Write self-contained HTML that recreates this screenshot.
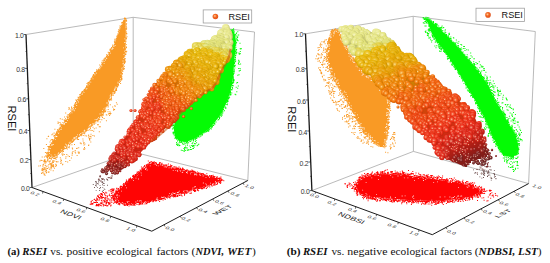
<!DOCTYPE html>
<html><head><meta charset="utf-8"><style>
html,body{margin:0;padding:0;background:#fff;width:550px;height:263px;overflow:hidden}
svg{position:absolute;left:0;top:0;display:block}
</style></head><body>
<svg width="550" height="263" viewBox="0 0 550 263"><defs><radialGradient id="b0" cx="0.42" cy="0.4" r="0.62"><stop offset="0" stop-color="#ebd6be"/><stop offset="0.28" stop-color="#968e8e"/><stop offset="0.6" stop-color="#786e6e"/><stop offset="1" stop-color="#605858"/></radialGradient><radialGradient id="b1" cx="0.42" cy="0.4" r="0.62"><stop offset="0" stop-color="#eacfb2"/><stop offset="0.28" stop-color="#937979"/><stop offset="0.6" stop-color="#745353"/><stop offset="1" stop-color="#5d4343"/></radialGradient><radialGradient id="b2" cx="0.42" cy="0.4" r="0.62"><stop offset="0" stop-color="#eac7a6"/><stop offset="0.28" stop-color="#906464"/><stop offset="0.6" stop-color="#713838"/><stop offset="1" stop-color="#5a2d2d"/></radialGradient><radialGradient id="b3" cx="0.42" cy="0.4" r="0.62"><stop offset="0" stop-color="#eac19c"/><stop offset="0.28" stop-color="#915353"/><stop offset="0.6" stop-color="#722322"/><stop offset="1" stop-color="#5b1c1c"/></radialGradient><radialGradient id="b4" cx="0.42" cy="0.4" r="0.62"><stop offset="0" stop-color="#edc19a"/><stop offset="0.28" stop-color="#a15351"/><stop offset="0.6" stop-color="#862220"/><stop offset="1" stop-color="#6c1b19"/></radialGradient><radialGradient id="b5" cx="0.42" cy="0.4" r="0.62"><stop offset="0" stop-color="#f0c199"/><stop offset="0.28" stop-color="#b1524f"/><stop offset="0.6" stop-color="#9b211d"/><stop offset="1" stop-color="#7c1a17"/></radialGradient><radialGradient id="b6" cx="0.42" cy="0.4" r="0.62"><stop offset="0" stop-color="#f3c198"/><stop offset="0.28" stop-color="#c1514c"/><stop offset="0.6" stop-color="#af201a"/><stop offset="1" stop-color="#8c1a15"/></radialGradient><radialGradient id="b7" cx="0.42" cy="0.4" r="0.62"><stop offset="0" stop-color="#f6c197"/><stop offset="0.28" stop-color="#ce534c"/><stop offset="0.6" stop-color="#c02219"/><stop offset="1" stop-color="#9a1b14"/></radialGradient><radialGradient id="b8" cx="0.42" cy="0.4" r="0.62"><stop offset="0" stop-color="#f8c297"/><stop offset="0.28" stop-color="#db554b"/><stop offset="0.6" stop-color="#d12418"/><stop offset="1" stop-color="#a71d13"/></radialGradient><radialGradient id="b9" cx="0.42" cy="0.4" r="0.62"><stop offset="0" stop-color="#fbc296"/><stop offset="0.28" stop-color="#e8564a"/><stop offset="0.6" stop-color="#e22717"/><stop offset="1" stop-color="#b51f12"/></radialGradient><radialGradient id="b10" cx="0.42" cy="0.4" r="0.62"><stop offset="0" stop-color="#fcc396"/><stop offset="0.28" stop-color="#f15849"/><stop offset="0.6" stop-color="#ec2a16"/><stop offset="1" stop-color="#bd2111"/></radialGradient><radialGradient id="b11" cx="0.42" cy="0.4" r="0.62"><stop offset="0" stop-color="#fcc496"/><stop offset="0.28" stop-color="#f25b49"/><stop offset="0.6" stop-color="#ee2d15"/><stop offset="1" stop-color="#be2411"/></radialGradient><radialGradient id="b12" cx="0.42" cy="0.4" r="0.62"><stop offset="0" stop-color="#fdc596"/><stop offset="0.28" stop-color="#f35e48"/><stop offset="0.6" stop-color="#ef3115"/><stop offset="1" stop-color="#bf2711"/></radialGradient><radialGradient id="b13" cx="0.42" cy="0.4" r="0.62"><stop offset="0" stop-color="#fdc696"/><stop offset="0.28" stop-color="#f36148"/><stop offset="0.6" stop-color="#f03515"/><stop offset="1" stop-color="#c02a10"/></radialGradient><radialGradient id="b14" cx="0.42" cy="0.4" r="0.62"><stop offset="0" stop-color="#fdc795"/><stop offset="0.28" stop-color="#f46448"/><stop offset="0.6" stop-color="#f23814"/><stop offset="1" stop-color="#c12d10"/></radialGradient><radialGradient id="b15" cx="0.42" cy="0.4" r="0.62"><stop offset="0" stop-color="#fdc995"/><stop offset="0.28" stop-color="#f56747"/><stop offset="0.6" stop-color="#f23d13"/><stop offset="1" stop-color="#c2310f"/></radialGradient><radialGradient id="b16" cx="0.42" cy="0.4" r="0.62"><stop offset="0" stop-color="#fdca94"/><stop offset="0.28" stop-color="#f56b46"/><stop offset="0.6" stop-color="#f24111"/><stop offset="1" stop-color="#c2340e"/></radialGradient><radialGradient id="b17" cx="0.42" cy="0.4" r="0.62"><stop offset="0" stop-color="#fdcb93"/><stop offset="0.28" stop-color="#f56f44"/><stop offset="0.6" stop-color="#f24610"/><stop offset="1" stop-color="#c2380d"/></radialGradient><radialGradient id="b18" cx="0.42" cy="0.4" r="0.62"><stop offset="0" stop-color="#fdcc93"/><stop offset="0.28" stop-color="#f57243"/><stop offset="0.6" stop-color="#f24a0e"/><stop offset="1" stop-color="#c23c0b"/></radialGradient><radialGradient id="b19" cx="0.42" cy="0.4" r="0.62"><stop offset="0" stop-color="#fdce92"/><stop offset="0.28" stop-color="#f57642"/><stop offset="0.6" stop-color="#f24f0c"/><stop offset="1" stop-color="#c23f0a"/></radialGradient><radialGradient id="b20" cx="0.42" cy="0.4" r="0.62"><stop offset="0" stop-color="#fdd091"/><stop offset="0.28" stop-color="#f57c41"/><stop offset="0.6" stop-color="#f2570b"/><stop offset="1" stop-color="#c24609"/></radialGradient><radialGradient id="b21" cx="0.42" cy="0.4" r="0.62"><stop offset="0" stop-color="#fdd291"/><stop offset="0.28" stop-color="#f68340"/><stop offset="0.6" stop-color="#f3600a"/><stop offset="1" stop-color="#c24d08"/></radialGradient><radialGradient id="b22" cx="0.42" cy="0.4" r="0.62"><stop offset="0" stop-color="#fdd590"/><stop offset="0.28" stop-color="#f68a3f"/><stop offset="0.6" stop-color="#f36909"/><stop offset="1" stop-color="#c35407"/></radialGradient><radialGradient id="b23" cx="0.42" cy="0.4" r="0.62"><stop offset="0" stop-color="#fdd790"/><stop offset="0.28" stop-color="#f6903e"/><stop offset="0.6" stop-color="#f47108"/><stop offset="1" stop-color="#c35b07"/></radialGradient><radialGradient id="b24" cx="0.42" cy="0.4" r="0.62"><stop offset="0" stop-color="#fdda90"/><stop offset="0.28" stop-color="#f6973e"/><stop offset="0.6" stop-color="#f37907"/><stop offset="1" stop-color="#c26106"/></radialGradient><radialGradient id="b25" cx="0.42" cy="0.4" r="0.62"><stop offset="0" stop-color="#fddc8f"/><stop offset="0.28" stop-color="#f59d3d"/><stop offset="0.6" stop-color="#f28106"/><stop offset="1" stop-color="#c16705"/></radialGradient><radialGradient id="b26" cx="0.42" cy="0.4" r="0.62"><stop offset="0" stop-color="#fdde8f"/><stop offset="0.28" stop-color="#f4a33c"/><stop offset="0.6" stop-color="#f08905"/><stop offset="1" stop-color="#c06e04"/></radialGradient><radialGradient id="b27" cx="0.42" cy="0.4" r="0.62"><stop offset="0" stop-color="#fde08e"/><stop offset="0.28" stop-color="#f2a93c"/><stop offset="0.6" stop-color="#ee9104"/><stop offset="1" stop-color="#bf7404"/></radialGradient><radialGradient id="b28" cx="0.42" cy="0.4" r="0.62"><stop offset="0" stop-color="#fce28e"/><stop offset="0.28" stop-color="#f0af3b"/><stop offset="0.6" stop-color="#ec9804"/><stop offset="1" stop-color="#bd7a03"/></radialGradient><radialGradient id="b29" cx="0.42" cy="0.4" r="0.62"><stop offset="0" stop-color="#fce48d"/><stop offset="0.28" stop-color="#eeb53a"/><stop offset="0.6" stop-color="#eaa003"/><stop offset="1" stop-color="#bb8002"/></radialGradient><radialGradient id="b30" cx="0.42" cy="0.4" r="0.62"><stop offset="0" stop-color="#fce68d"/><stop offset="0.28" stop-color="#edba3a"/><stop offset="0.6" stop-color="#e8a703"/><stop offset="1" stop-color="#ba8602"/></radialGradient><radialGradient id="b31" cx="0.42" cy="0.4" r="0.62"><stop offset="0" stop-color="#fce88e"/><stop offset="0.28" stop-color="#eebe3b"/><stop offset="0.6" stop-color="#e9ac04"/><stop offset="1" stop-color="#ba8a03"/></radialGradient><radialGradient id="b32" cx="0.42" cy="0.4" r="0.62"><stop offset="0" stop-color="#fce98f"/><stop offset="0.28" stop-color="#eec33d"/><stop offset="0.6" stop-color="#e9b206"/><stop offset="1" stop-color="#ba8e05"/></radialGradient><radialGradient id="b33" cx="0.42" cy="0.4" r="0.62"><stop offset="0" stop-color="#fceb90"/><stop offset="0.28" stop-color="#eec73e"/><stop offset="0.6" stop-color="#e9b708"/><stop offset="1" stop-color="#bb9206"/></radialGradient><radialGradient id="b34" cx="0.42" cy="0.4" r="0.62"><stop offset="0" stop-color="#fcec90"/><stop offset="0.28" stop-color="#eecb3f"/><stop offset="0.6" stop-color="#eabc09"/><stop offset="1" stop-color="#bb9607"/></radialGradient><radialGradient id="b35" cx="0.42" cy="0.4" r="0.62"><stop offset="0" stop-color="#fbf3ad"/><stop offset="0.28" stop-color="#ebdd71"/><stop offset="0.6" stop-color="#e5d449"/><stop offset="1" stop-color="#b7a93a"/></radialGradient><radialGradient id="b36" cx="0.42" cy="0.4" r="0.62"><stop offset="0" stop-color="#fbf7c2"/><stop offset="0.28" stop-color="#e9e995"/><stop offset="0.6" stop-color="#e3e378"/><stop offset="1" stop-color="#b6b660"/></radialGradient><radialGradient id="b37" cx="0.42" cy="0.4" r="0.62"><stop offset="0" stop-color="#fbf8c5"/><stop offset="0.28" stop-color="#ebeb9b"/><stop offset="0.6" stop-color="#e5e57f"/><stop offset="1" stop-color="#b8b866"/></radialGradient><radialGradient id="b38" cx="0.42" cy="0.4" r="0.62"><stop offset="0" stop-color="#fbf8c9"/><stop offset="0.28" stop-color="#ededa1"/><stop offset="0.6" stop-color="#e8e887"/><stop offset="1" stop-color="#b9b96c"/></radialGradient><radialGradient id="b39" cx="0.42" cy="0.4" r="0.62"><stop offset="0" stop-color="#fcf9cc"/><stop offset="0.28" stop-color="#eeeea7"/><stop offset="0.6" stop-color="#eaea8e"/><stop offset="1" stop-color="#bbbb72"/></radialGradient><radialGradient id="b40" cx="0.42" cy="0.4" r="0.62"><stop offset="0" stop-color="#fcfad0"/><stop offset="0.28" stop-color="#f0f0ad"/><stop offset="0.6" stop-color="#ecec96"/><stop offset="1" stop-color="#bdbd78"/></radialGradient><linearGradient id="band21" gradientUnits="userSpaceOnUse" x1="-55.4" y1="101.6" x2="40.6" y2="-74.4"><stop offset="0.000" stop-color="#675f5f"/><stop offset="0.080" stop-color="#5f1e1e"/><stop offset="0.154" stop-color="#961c16"/><stop offset="0.229" stop-color="#cb2213"/><stop offset="0.378" stop-color="#d03211"/><stop offset="0.522" stop-color="#d0450a"/><stop offset="0.602" stop-color="#d26307"/><stop offset="0.687" stop-color="#cd7e04"/><stop offset="0.776" stop-color="#c89504"/><stop offset="0.851" stop-color="#c9a208"/><stop offset="0.886" stop-color="#c3c364"/><stop offset="1.000" stop-color="#cbcb81"/></linearGradient><linearGradient id="band41" gradientUnits="userSpaceOnUse" x1="160.5" y1="344.0" x2="75.8" y2="162.4"><stop offset="0.000" stop-color="#675f5f"/><stop offset="0.111" stop-color="#5f1e1e"/><stop offset="0.211" stop-color="#961c16"/><stop offset="0.286" stop-color="#cb2213"/><stop offset="0.387" stop-color="#d03211"/><stop offset="0.497" stop-color="#d0450a"/><stop offset="0.568" stop-color="#d26307"/><stop offset="0.648" stop-color="#cd7e04"/><stop offset="0.729" stop-color="#c89504"/><stop offset="0.789" stop-color="#c9a208"/><stop offset="0.839" stop-color="#c3c364"/><stop offset="1.000" stop-color="#cbcb81"/></linearGradient><radialGradient id="ld" cx="0.4" cy="0.4" r="0.6"><stop offset="0" stop-color="#ffd0a0"/><stop offset="0.45" stop-color="#f46a22"/><stop offset="1" stop-color="#e0501a"/></radialGradient></defs><line x1="26" y1="34.5" x2="133.2" y2="17.3" stroke="#a8a8a8" stroke-width="0.8"/><line x1="133.2" y1="17.3" x2="133.2" y2="152" stroke="#a8a8a8" stroke-width="0.8"/><line x1="133.2" y1="17.3" x2="254.5" y2="32" stroke="#a8a8a8" stroke-width="0.8"/><line x1="254.5" y1="32" x2="247.8" y2="180.5" stroke="#a8a8a8" stroke-width="0.8"/><line x1="32" y1="187.5" x2="133.2" y2="152" stroke="#a8a8a8" stroke-width="0.8"/><line x1="133.2" y1="152" x2="247.8" y2="180.5" stroke="#a8a8a8" stroke-width="0.8"/><path d="M124.7 18.8 L121.8 25.3 L118.4 33.8 L115 42.4 L110.7 51 L106.4 57.8 L103.9 60.6 L97.8 69.8 L91.7 78.9 L85.6 88 L79.1 97.7 L72.7 110.5 L66 120 L58 131.3 L53.8 139.6 L49.6 148 L46.5 155 L49 157.5 L54 156 L58 154.3 L66.4 146 L76.8 137.6 L85 131.3 L92 125 L98 119.6 L103 113 L106 108 L111 97.7 L117.5 86 L120.6 80.4 L123.6 65.2 L125.2 50 L125.7 35 L125.7 20Z" fill="#f99a25" /><path d="M96 70.9h1v1h-1zM101.2 62.3h1v1h-1zM82.9 89.8h1v1h-1zM103.6 58.5h1v1h-1zM125 51.1h1v1h-1zM96.5 69.6h1v1h-1zM52.1 141.2h1v1h-1zM71.6 107.9h1v1h-1zM51.5 156.6h1v1h-1zM109.9 50.3h1v1h-1zM79.3 93.9h1v1h-1zM104.4 111.4h1v1h-1zM125.3 37.7h1v1h-1zM86.2 130h1v1h-1zM83.6 133.1h1v1h-1zM49.4 146.8h1v1h-1zM125.4 19.8h1v1h-1zM92.3 75.8h1v1h-1zM57.4 129.8h1v1h-1zM72 141.7h1v1h-1zM79.9 134.4h1v1h-1zM100.9 115h1v1h-1zM50.3 158h1v1h-1zM65 118.3h1v1h-1zM77.6 96.8h1v1h-1zM123.8 60.5h1v1h-1zM116 89.1h1v1h-1zM56.2 154.8h1v1h-1zM69.1 144.1h1v1h-1zM111.1 47.1h1v1h-1zM106.2 56.3h1v1h-1zM95.7 71.2h1v1h-1zM51.4 138.9h1v1h-1zM77.4 98.7h1v1h-1zM51.7 157.3h1v1h-1zM84.9 131.2h1v1h-1zM81 93.1h1v1h-1zM105.1 110.9h1v1h-1zM61.1 125.1h1v1h-1zM123.7 66h1v1h-1zM107.4 54.5h1v1h-1zM63.3 148.2h1v1h-1zM85.6 130.7h1v1h-1zM79 135.7h1v1h-1zM76.8 137.9h1v1h-1zM93.2 75.4h1v1h-1zM118.1 84.8h1v1h-1zM103.5 111.5h1v1h-1zM93.7 122.8h1v1h-1zM61.2 123.7h1v1h-1zM73.9 106.3h1v1h-1zM97.7 118.9h1v1h-1zM125.9 46.6h1v1h-1zM116.3 35.7h1v1h-1zM112.3 44.4h1v1h-1zM125.9 20h1v1h-1zM118.7 29.5h1v1h-1zM50.1 145.2h1v1h-1zM101.2 114.3h1v1h-1zM107.3 105.2h1v1h-1zM124.8 49.4h1v1h-1zM110.1 98.9h1v1h-1zM87.7 82h1v1h-1zM89.8 80.1h1v1h-1zM108.9 52.2h1v1h-1zM81.2 133.7h1v1h-1zM58.8 127.7h1v1h-1zM52.9 139.8h1v1h-1zM123.1 68.9h1v1h-1zM59 152.4h1v1h-1zM75 102h1v1h-1zM121.5 78.3h1v1h-1zM66.5 145.8h1v1h-1zM115.8 90.1h1v1h-1zM112.6 95.1h1v1h-1zM66.3 145.7h1v1h-1zM121.3 75.9h1v1h-1zM54.8 133.5h1v1h-1zM113.9 40.7h1v1h-1zM77.2 137.1h1v1h-1zM67.2 117h1v1h-1zM69.6 142.9h1v1h-1zM125.3 32.2h1v1h-1zM119.8 80.9h1v1h-1zM61.2 151.1h1v1h-1zM78.1 136.1h1v1h-1zM50.1 143.8h1v1h-1zM125.6 23.9h1v1h-1zM59 152.7h1v1h-1zM125.4 20.2h1v1h-1zM119.1 81.9h1v1h-1zM74 106.2h1v1h-1zM119.5 28.6h1v1h-1zM84.2 88.8h1v1h-1zM99.3 118.9h1v1h-1zM99.2 64.4h1v1h-1zM116.1 87.7h1v1h-1zM96.4 69.9h1v1h-1zM106.1 54.3h1v1h-1zM81.8 92.3h1v1h-1zM124.2 60.8h1v1h-1zM60.1 152.1h1v1h-1zM119.7 27.7h1v1h-1zM125.3 52.4h1v1h-1zM88.4 82.1h1v1h-1zM93.6 123.9h1v1h-1zM94.3 73.4h1v1h-1zM61 125.8h1v1h-1zM125.4 52.5h1v1h-1zM122.8 67.9h1v1h-1zM103.2 111.5h1v1h-1zM124.1 62.4h1v1h-1zM113.7 93h1v1h-1zM122.3 71.1h1v1h-1zM103.4 59.8h1v1h-1zM125.8 51.3h1v1h-1zM124 68.2h1v1h-1zM125.5 31h1v1h-1zM125.4 40.4h1v1h-1zM97.8 119.8h1v1h-1zM93.5 74.4h1v1h-1zM54.1 155.5h1v1h-1zM110.9 48.5h1v1h-1zM107.8 102.8h1v1h-1zM79.2 96.2h1v1h-1zM123.2 67.4h1v1h-1zM124.8 49.3h1v1h-1zM106.4 56.5h1v1h-1zM125.8 38.6h1v1h-1zM69 143.9h1v1h-1zM106.6 55.3h1v1h-1zM60.1 127.1h1v1h-1zM81 134.4h1v1h-1zM96.2 69.2h1v1h-1zM125.9 32.9h1v1h-1zM112.4 45.2h1v1h-1zM92.2 76.1h1v1h-1zM56.1 133.4h1v1h-1zM103.9 111.5h1v1h-1zM124.8 48.6h1v1h-1zM94 71.9h1v1h-1zM124.5 52.4h1v1h-1zM71.4 109.2h1v1h-1zM123.7 61.3h1v1h-1zM109.9 49.4h1v1h-1zM110.9 48.5h1v1h-1zM98.1 118.9h1v1h-1zM87 83.6h1v1h-1zM104.5 57.5h1v1h-1zM56.8 154.7h1v1h-1zM73.8 139.3h1v1h-1zM94.5 73.1h1v1h-1zM93.1 75.4h1v1h-1zM87.7 129.7h1v1h-1zM47.9 148.6h1v1h-1zM62.8 149.1h1v1h-1zM114.4 92.3h1v1h-1zM124.8 52.4h1v1h-1zM61.5 124.9h1v1h-1zM50 144.1h1v1h-1zM123.4 61.9h1v1h-1zM109.8 99.6h1v1h-1zM115.2 90h1v1h-1zM69.8 142.6h1v1h-1zM57.7 130.2h1v1h-1zM78 97.2h1v1h-1zM46.8 155.8h1v1h-1zM123.8 59.7h1v1h-1zM121.2 22.6h1v1h-1zM80.5 133.9h1v1h-1zM124.4 59.3h1v1h-1zM105.2 57.9h1v1h-1zM94.1 122.6h1v1h-1zM118 84h1v1h-1zM85.9 129.7h1v1h-1zM122.2 21.8h1v1h-1zM91.9 124.5h1v1h-1zM48.2 147.2h1v1h-1zM107.7 51.7h1v1h-1zM125.2 29.4h1v1h-1zM124.3 55.7h1v1h-1zM86 86.1h1v1h-1zM64.3 120.3h1v1h-1zM80.5 94.1h1v1h-1zM125.5 18.8h1v1h-1zM121.8 22.4h1v1h-1zM125.7 34.4h1v1h-1zM62.2 150.3h1v1h-1zM110.4 48.6h1v1h-1zM116.1 90.1h1v1h-1zM124 61.9h1v1h-1zM126.1 28.4h1v1h-1zM107 55.3h1v1h-1zM58.1 153.8h1v1h-1zM86.9 129.5h1v1h-1zM125.1 38.4h1v1h-1zM123.9 62.9h1v1h-1zM112.1 46h1v1h-1zM76 100.6h1v1h-1zM74.4 103.5h1v1h-1zM120.7 77h1v1h-1zM125.3 54h1v1h-1zM81.1 91.7h1v1h-1zM83.6 131.9h1v1h-1zM69.9 112.4h1v1h-1zM121.2 78.1h1v1h-1zM76.4 101.4h1v1h-1zM124.2 55.6h1v1h-1zM120.1 83.1h1v1h-1zM77 136.8h1v1h-1zM101.7 60.5h1v1h-1zM66.2 146h1v1h-1zM54.1 136.8h1v1h-1zM109.9 50.8h1v1h-1zM125.7 44h1v1h-1zM71.5 110.5h1v1h-1zM120.8 78.1h1v1h-1zM90.3 125.8h1v1h-1zM72.9 140.1h1v1h-1zM88.9 81.3h1v1h-1zM107.1 105.1h1v1h-1zM55.3 134.2h1v1h-1zM57.7 153.6h1v1h-1zM83.5 132.4h1v1h-1zM86.5 83h1v1h-1zM121 24.7h1v1h-1zM90.1 79.8h1v1h-1zM92.1 124.8h1v1h-1zM72 141.1h1v1h-1zM71.7 109.5h1v1h-1zM83.4 133.1h1v1h-1zM115 90.3h1v1h-1zM124.6 18.2h1v1h-1zM104.6 58.6h1v1h-1zM123.8 62.2h1v1h-1zM103.8 110.7h1v1h-1zM92.1 124.6h1v1h-1zM58.1 153.3h1v1h-1zM123.8 58.2h1v1h-1zM118.2 29.3h1v1h-1zM121 79.3h1v1h-1zM116.7 35.9h1v1h-1zM87.5 82.1h1v1h-1zM92.8 75h1v1h-1zM46.5 152.8h1v1h-1zM64.9 148.1h1v1h-1zM81.7 91.5h1v1h-1zM76.4 101.4h1v1h-1zM116.9 85.9h1v1h-1zM123.2 20.1h1v1h-1zM91.1 77.8h1v1h-1zM116.8 35.5h1v1h-1zM99.1 117.6h1v1h-1zM121.3 76.5h1v1h-1zM66.8 145.3h1v1h-1zM81.5 92.3h1v1h-1zM125.3 41.3h1v1h-1zM120.3 26.5h1v1h-1zM97 120.1h1v1h-1zM45 155.5h1v1h-1zM61.9 149.8h1v1h-1zM110.5 48.4h1v1h-1zM80.6 135.3h1v1h-1zM109.8 48.6h1v1h-1zM125.9 25.6h1v1h-1zM110.9 97.4h1v1h-1zM91.6 77.2h1v1h-1zM86 85.5h1v1h-1zM52.2 140.2h1v1h-1zM117.2 34.5h1v1h-1zM47.7 150.6h1v1h-1zM48.2 146.1h1v1h-1zM115.8 88.4h1v1h-1zM86 130h1v1h-1zM86.7 84.9h1v1h-1zM70.2 112.2h1v1h-1zM92.9 74h1v1h-1zM102.8 113.7h1v1h-1zM73.3 107.1h1v1h-1zM47.7 148.9h1v1h-1zM126.2 50.7h1v1h-1zM87.9 82.8h1v1h-1zM74.3 103.7h1v1h-1zM85 87.4h1v1h-1zM120.9 25.7h1v1h-1zM125.5 29.3h1v1h-1zM121.1 22.3h1v1h-1zM123.9 18h1v1h-1zM121.5 74.1h1v1h-1zM125.4 31.8h1v1h-1zM119.4 27.2h1v1h-1zM51.7 156.5h1v1h-1zM121.9 72.9h1v1h-1zM114.1 42h1v1h-1zM126.1 27.3h1v1h-1zM59.8 127.2h1v1h-1zM48.5 146.7h1v1h-1zM89.8 127.3h1v1h-1zM125.9 25.8h1v1h-1zM125 60.8h1v1h-1zM66.9 116.4h1v1h-1zM102.5 115.1h1v1h-1zM101.6 62.5h1v1h-1zM54.3 136.4h1v1h-1zM123 20.9h1v1h-1zM114.6 41.5h1v1h-1zM71.5 141.6h1v1h-1zM100.7 115.3h1v1h-1zM48.6 157.8h1v1h-1zM75.3 102.5h1v1h-1zM57.1 131.3h1v1h-1zM124 59.5h1v1h-1zM112.5 93.7h1v1h-1zM111.4 48h1v1h-1zM56.2 133.1h1v1h-1zM53.1 156h1v1h-1zM85.8 130.2h1v1h-1zM63.1 148.8h1v1h-1zM126.4 33.2h1v1h-1zM123.8 59.8h1v1h-1zM69 114.4h1v1h-1zM61.5 124.2h1v1h-1zM126.1 20.6h1v1h-1zM126.1 23.2h1v1h-1zM125.4 36.7h1v1h-1zM121.1 75.3h1v1h-1zM106.2 56.5h1v1h-1zM101.9 114.1h1v1h-1zM121.1 79.5h1v1h-1zM116 89.5h1v1h-1zM56.4 131.6h1v1h-1zM70.6 112h1v1h-1zM109.3 49.4h1v1h-1zM91.4 124.8h1v1h-1zM125.5 19.1h1v1h-1zM123.5 62.1h1v1h-1zM125 17.7h1v1h-1zM56.2 155.2h1v1h-1zM74.6 138.6h1v1h-1zM120.3 25.8h1v1h-1zM103.5 59.5h1v1h-1zM125.3 32.6h1v1h-1zM123.9 59.3h1v1h-1zM125.6 27.9h1v1h-1zM121.7 73.1h1v1h-1zM126 37.7h1v1h-1zM124.7 58h1v1h-1zM124.2 54.6h1v1h-1zM63.7 147.9h1v1h-1zM82.1 133.3h1v1h-1zM53.4 156.5h1v1h-1zM107.6 54.5h1v1h-1zM52.4 139.3h1v1h-1zM80.1 134.7h1v1h-1zM102.7 59.8h1v1h-1zM51.8 157.1h1v1h-1zM121.2 75.9h1v1h-1zM62.4 150.1h1v1h-1zM107.4 104.2h1v1h-1zM103 112.6h1v1h-1zM124.5 61.9h1v1h-1zM115.8 38.1h1v1h-1zM126.5 36.2h1v1h-1zM110.9 98.5h1v1h-1zM109.2 51.9h1v1h-1zM80.6 93.3h1v1h-1zM55.9 132.4h1v1h-1zM62.4 149.9h1v1h-1zM66.1 147h1v1h-1zM69.2 112.9h1v1h-1zM115.1 90.3h1v1h-1zM124.9 47.4h1v1h-1zM123.7 59.1h1v1h-1zM91.7 124.6h1v1h-1zM46 155.5h1v1h-1zM101.7 62.3h1v1h-1zM114.6 91.5h1v1h-1zM125.3 28h1v1h-1zM47 152.2h1v1h-1zM56.1 154.7h1v1h-1zM89.3 126.5h1v1h-1zM122.9 21h1v1h-1zM98.2 119.2h1v1h-1zM60.9 125.4h1v1h-1zM117.3 85.5h1v1h-1zM97.7 119h1v1h-1zM56.9 129.6h1v1h-1zM74.6 104.9h1v1h-1zM116 87.7h1v1h-1zM97.6 119.3h1v1h-1zM101.8 114.2h1v1h-1zM57.9 129.8h1v1h-1zM123.3 64.5h1v1h-1zM107.7 54.5h1v1h-1zM90.8 79h1v1h-1zM96.6 120.8h1v1h-1zM94.5 73.1h1v1h-1zM81.8 91.2h1v1h-1zM63.3 148.2h1v1h-1zM114.5 40.2h1v1h-1zM64.8 120.4h1v1h-1zM51.1 142.8h1v1h-1zM99.2 117h1v1h-1zM113.7 92.2h1v1h-1zM122 22.1h1v1h-1zM71.4 110.1h1v1h-1zM124.5 52.5h1v1h-1zM68.9 114.7h1v1h-1zM88.8 81.2h1v1h-1zM117.1 86.4h1v1h-1zM125.6 25.4h1v1h-1zM60.9 125.9h1v1h-1zM58.7 128.6h1v1h-1zM49.3 146.5h1v1h-1zM119.2 29.9h1v1h-1zM121.3 79h1v1h-1zM63.3 148.5h1v1h-1zM54 136.8h1v1h-1zM114.2 92.5h1v1h-1zM118.4 31.9h1v1h-1zM108.4 52.8h1v1h-1zM116.2 37.6h1v1h-1zM126 47.3h1v1h-1zM70.5 142.3h1v1h-1zM68.2 114.5h1v1h-1zM59.9 126.9h1v1h-1zM117.8 31.1h1v1h-1zM124.5 53.8h1v1h-1zM56.3 132.1h1v1h-1zM84 89h1v1h-1zM82 91.1h1v1h-1zM54.5 135.2h1v1h-1zM121.2 76.3h1v1h-1zM77.6 136.3h1v1h-1zM90.6 125.8h1v1h-1zM65.2 119.9h1v1h-1zM101.7 62.4h1v1h-1zM104.3 109.9h1v1h-1zM56.2 131.2h1v1h-1zM125.7 20.8h1v1h-1zM118.4 29.8h1v1h-1zM114 91h1v1h-1zM113.7 92.8h1v1h-1zM123.7 61h1v1h-1zM64.3 148.3h1v1h-1zM90.9 125.3h1v1h-1zM73.4 107h1v1h-1zM125.1 45.4h1v1h-1zM125.6 32.2h1v1h-1zM117.5 33.3h1v1h-1zM56.8 154.6h1v1h-1zM122.2 70.2h1v1h-1zM105.9 56h1v1h-1zM125.5 29h1v1h-1zM79.5 94.3h1v1h-1zM95.1 72.1h1v1h-1zM114.3 38.8h1v1h-1zM122.7 67.2h1v1h-1zM49.8 145.5h1v1h-1zM90.7 78.1h1v1h-1zM89.9 128h1v1h-1zM120.6 77.6h1v1h-1zM123.8 62.1h1v1h-1zM75.4 138.5h1v1h-1zM125 43.2h1v1h-1zM84.6 131.5h1v1h-1zM55.2 134.1h1v1h-1zM76.4 137.5h1v1h-1zM56.1 131.7h1v1h-1zM118.7 29.8h1v1h-1zM107.5 103.7h1v1h-1zM75.4 103.3h1v1h-1zM92.1 76.6h1v1h-1zM124.1 17.6h1v1h-1zM90.8 125.8h1v1h-1zM110.9 97.3h1v1h-1zM125.7 23.4h1v1h-1zM119.7 28.3h1v1h-1zM108.3 52.4h1v1h-1zM105.4 57.2h1v1h-1zM61.7 124.1h1v1h-1zM115.5 39.2h1v1h-1zM54.4 155.7h1v1h-1zM70.9 141.7h1v1h-1zM107.7 105.6h1v1h-1zM120.9 25.2h1v1h-1zM60.1 126.7h1v1h-1zM79.6 95.6h1v1h-1zM92.7 75.3h1v1h-1zM71.3 110.9h1v1h-1zM74 139.4h1v1h-1zM56 133.8h1v1h-1zM64.4 119.6h1v1h-1zM68.4 114h1v1h-1zM115 89.5h1v1h-1zM74.2 104.6h1v1h-1zM49.2 156.9h1v1h-1zM119.4 25.4h1v1h-1zM118.5 31.6h1v1h-1zM55.3 134.6h1v1h-1z" fill="#f99a25"/><path d="M112 93.7h0.8v0.8h-0.8zM81.9 93.5h0.8v0.8h-0.8zM57.8 153h0.8v0.8h-0.8zM97 118.6h0.8v0.8h-0.8zM108.2 100h0.8v0.8h-0.8zM109.8 95h0.8v0.8h-0.8zM55.5 136.4h0.8v0.8h-0.8zM64.3 146.4h0.8v0.8h-0.8zM102 109.9h0.8v0.8h-0.8zM58.2 152.4h0.8v0.8h-0.8zM68.7 142.4h0.8v0.8h-0.8zM65.1 143.8h0.8v0.8h-0.8zM124.4 38.4h0.8v0.8h-0.8zM96.2 72.7h0.8v0.8h-0.8zM100.3 66.7h0.8v0.8h-0.8zM103.5 108.4h0.8v0.8h-0.8zM53.1 144h0.8v0.8h-0.8zM88.9 83.8h0.8v0.8h-0.8zM86.5 88h0.8v0.8h-0.8zM49 156.4h0.8v0.8h-0.8zM51.6 144.6h0.8v0.8h-0.8zM73.8 110.4h0.8v0.8h-0.8zM83.6 92h0.8v0.8h-0.8zM73.1 138.5h0.8v0.8h-0.8zM49.2 150.9h0.8v0.8h-0.8zM124.1 50.7h0.8v0.8h-0.8zM89.3 125.3h0.8v0.8h-0.8zM104.8 107.5h0.8v0.8h-0.8zM76.3 105.1h0.8v0.8h-0.8zM103.7 63.2h0.8v0.8h-0.8zM58.8 130h0.8v0.8h-0.8zM63.8 123.8h0.8v0.8h-0.8zM75.7 136.5h0.8v0.8h-0.8zM113.5 45.6h0.8v0.8h-0.8zM73.5 109.5h0.8v0.8h-0.8zM106.3 58.1h0.8v0.8h-0.8zM108 55.2h0.8v0.8h-0.8zM101.7 112.6h0.8v0.8h-0.8zM76.3 103.2h0.8v0.8h-0.8zM73.7 109.7h0.8v0.8h-0.8zM60.9 148.9h0.8v0.8h-0.8zM83.7 130.8h0.8v0.8h-0.8zM89.8 125h0.8v0.8h-0.8zM84.1 129.8h0.8v0.8h-0.8zM105 59.6h0.8v0.8h-0.8zM120.5 73.7h0.8v0.8h-0.8zM122.9 62.7h0.8v0.8h-0.8zM111.7 49.2h0.8v0.8h-0.8zM79.4 98.5h0.8v0.8h-0.8zM117.6 81.8h0.8v0.8h-0.8zM106.6 103.2h0.8v0.8h-0.8zM96.1 119h0.8v0.8h-0.8zM114.8 45h0.8v0.8h-0.8zM74 138h0.8v0.8h-0.8zM69.9 141.7h0.8v0.8h-0.8zM124 42h0.8v0.8h-0.8zM69.6 141.8h0.8v0.8h-0.8zM110.1 94.4h0.8v0.8h-0.8zM123 47.5h0.8v0.8h-0.8zM114.4 89.4h0.8v0.8h-0.8zM75.6 136.8h0.8v0.8h-0.8zM48.3 151.2h0.8v0.8h-0.8zM123.5 54.3h0.8v0.8h-0.8zM67.1 119.9h0.8v0.8h-0.8zM52.2 144.5h0.8v0.8h-0.8zM99.6 113.6h0.8v0.8h-0.8zM112.6 92.4h0.8v0.8h-0.8zM101.4 65.6h0.8v0.8h-0.8zM112.7 92h0.8v0.8h-0.8zM67.7 118h0.8v0.8h-0.8zM60.9 127.4h0.8v0.8h-0.8zM51.5 155.7h0.8v0.8h-0.8zM94.6 74.4h0.8v0.8h-0.8zM68.5 116.9h0.8v0.8h-0.8zM71.9 139.6h0.8v0.8h-0.8zM58.2 133h0.8v0.8h-0.8zM50.6 154.5h0.8v0.8h-0.8zM81.8 132.2h0.8v0.8h-0.8zM60.7 129h0.8v0.8h-0.8zM109.9 97.2h0.8v0.8h-0.8zM123.3 57.9h0.8v0.8h-0.8zM110 52.8h0.8v0.8h-0.8zM101.3 65.2h0.8v0.8h-0.8zM110.3 96.5h0.8v0.8h-0.8zM51.2 144.9h0.8v0.8h-0.8zM108.1 101h0.8v0.8h-0.8zM85.8 88.8h0.8v0.8h-0.8zM81.7 93.9h0.8v0.8h-0.8zM92.6 78.5h0.8v0.8h-0.8zM121.8 67.4h0.8v0.8h-0.8zM49 151h0.8v0.8h-0.8zM63.7 124.1h0.8v0.8h-0.8zM49.2 152.9h0.8v0.8h-0.8zM94.7 119.3h0.8v0.8h-0.8zM89.8 124.5h0.8v0.8h-0.8zM54.9 139.2h0.8v0.8h-0.8zM56.5 136.1h0.8v0.8h-0.8zM92.5 122.9h0.8v0.8h-0.8zM108.2 99.7h0.8v0.8h-0.8zM64.4 146.2h0.8v0.8h-0.8zM121.3 68.5h0.8v0.8h-0.8zM77 134.5h0.8v0.8h-0.8zM74.7 137.4h0.8v0.8h-0.8zM113.5 46.2h0.8v0.8h-0.8zM99.4 68.5h0.8v0.8h-0.8zM55.7 135.7h0.8v0.8h-0.8zM49.1 156.1h0.8v0.8h-0.8zM120 77.9h0.8v0.8h-0.8zM49.1 156.4h0.8v0.8h-0.8zM75.1 108.3h0.8v0.8h-0.8zM60.5 129.3h0.8v0.8h-0.8zM90.4 81.8h0.8v0.8h-0.8zM73.7 137.1h0.8v0.8h-0.8zM103.8 61.2h0.8v0.8h-0.8zM50.2 147.9h0.8v0.8h-0.8zM77.6 100.7h0.8v0.8h-0.8zM114.1 88.7h0.8v0.8h-0.8zM59.2 130h0.8v0.8h-0.8zM63.5 123.7h0.8v0.8h-0.8zM58.4 132.4h0.8v0.8h-0.8zM122.5 63.4h0.8v0.8h-0.8zM98 117.2h0.8v0.8h-0.8zM77.9 101.8h0.8v0.8h-0.8zM80.2 133h0.8v0.8h-0.8zM99.3 67.6h0.8v0.8h-0.8zM48.6 151.5h0.8v0.8h-0.8zM83.9 130h0.8v0.8h-0.8zM65.3 121.9h0.8v0.8h-0.8zM55.9 136.1h0.8v0.8h-0.8zM90.4 124.3h0.8v0.8h-0.8zM114.8 88.2h0.8v0.8h-0.8zM79 134.3h0.8v0.8h-0.8zM117.6 82.7h0.8v0.8h-0.8zM112.2 48h0.8v0.8h-0.8zM109.8 96.5h0.8v0.8h-0.8zM51.4 144.5h0.8v0.8h-0.8zM115.7 86.7h0.8v0.8h-0.8zM122.6 60.6h0.8v0.8h-0.8zM66.2 144.6h0.8v0.8h-0.8zM76.3 135.9h0.8v0.8h-0.8zM77.9 101.3h0.8v0.8h-0.8zM112.7 48.3h0.8v0.8h-0.8zM68 118.1h0.8v0.8h-0.8zM114.8 86.7h0.8v0.8h-0.8zM121.4 70.7h0.8v0.8h-0.8zM48.9 149.9h0.8v0.8h-0.8zM113.8 90.3h0.8v0.8h-0.8zM80.4 133h0.8v0.8h-0.8zM66.1 144.5h0.8v0.8h-0.8zM119.2 80.8h0.8v0.8h-0.8zM64 123h0.8v0.8h-0.8zM71.6 112.4h0.8v0.8h-0.8zM47.4 153.8h0.8v0.8h-0.8zM87.5 85.5h0.8v0.8h-0.8zM106.6 102h0.8v0.8h-0.8zM88.6 126.4h0.8v0.8h-0.8zM109.5 98h0.8v0.8h-0.8zM54.6 154.3h0.8v0.8h-0.8zM64.7 122.3h0.8v0.8h-0.8zM66.2 122.2h0.8v0.8h-0.8z" fill="#fff"/><path d="M76.1 147.9h1v1h-1zM99.8 121.4h1v1h-1zM65.3 157.8h1v1h-1zM90.5 135.8h1v1h-1zM93.8 128.2h1v1h-1zM112.2 106.4h1v1h-1zM108.1 113.6h1v1h-1zM82.4 138.5h1v1h-1zM80.5 142.7h1v1h-1zM82.7 135.1h1v1h-1zM111.1 99.4h1v1h-1zM83.5 144.6h1v1h-1zM71.8 152.2h1v1h-1zM76.6 155.1h1v1h-1zM55.2 163.7h1v1h-1zM99.8 126.3h1v1h-1zM52.7 170.3h1v1h-1zM89.1 129.2h1v1h-1zM71.8 147.4h1v1h-1zM113.1 108.6h1v1h-1zM109.8 112.6h1v1h-1zM88.3 144.6h1v1h-1zM69.3 144.6h1v1h-1zM78.5 153h1v1h-1zM68.8 147.3h1v1h-1zM106.3 114.4h1v1h-1zM61.4 153.5h1v1h-1zM70.9 157.4h1v1h-1zM88.9 138h1v1h-1zM56.3 161.5h1v1h-1zM62.1 164.2h1v1h-1zM110.4 113.1h1v1h-1zM65.3 160.9h1v1h-1zM115.9 102.3h1v1h-1zM72.1 148.5h1v1h-1zM62.5 153.6h1v1h-1zM89.4 138.2h1v1h-1zM89 139.1h1v1h-1zM97.9 124.2h1v1h-1zM89.3 139.7h1v1h-1zM95.3 122.4h1v1h-1zM71.4 144.3h1v1h-1zM105.9 120.2h1v1h-1zM60.4 158.7h1v1h-1zM113.2 109.8h1v1h-1zM97.5 121.2h1v1h-1zM67.2 161.4h1v1h-1zM92.5 126.7h1v1h-1zM67.6 155.6h1v1h-1zM74.5 151.4h1v1h-1zM69 155.9h1v1h-1zM68.7 146h1v1h-1zM74 143.9h1v1h-1zM97 124.3h1v1h-1zM71.8 153h1v1h-1zM107.6 106.5h1v1h-1zM102.1 114.3h1v1h-1zM83.2 148.6h1v1h-1zM101.3 119.2h1v1h-1zM66 147.8h1v1h-1zM88.2 134.4h1v1h-1zM50.7 165.4h1v1h-1zM105.8 114.2h1v1h-1zM114.1 108.9h1v1h-1zM61.8 151.6h1v1h-1zM54.9 165.8h1v1h-1zM83.6 149h1v1h-1zM71.8 153.2h1v1h-1zM90.3 141.4h1v1h-1zM55.9 165.3h1v1h-1zM105.3 109.4h1v1h-1zM53.9 167.7h1v1h-1zM72.5 151.1h1v1h-1zM114.3 105.2h1v1h-1zM90.4 129.7h1v1h-1zM91.7 130h1v1h-1zM95.6 127.5h1v1h-1zM92.4 135.1h1v1h-1zM66.3 154.1h1v1h-1zM90.5 137.4h1v1h-1zM71.6 154.8h1v1h-1zM76.7 147.8h1v1h-1zM55.9 164.6h1v1h-1zM53 165.8h1v1h-1zM78.2 147.3h1v1h-1zM113.6 109.1h1v1h-1zM84.2 133.2h1v1h-1zM59.8 157.2h1v1h-1zM93.2 130.7h1v1h-1zM83.5 142h1v1h-1zM86.1 135.5h1v1h-1zM89.5 136.1h1v1h-1zM109.2 112.9h1v1h-1zM103.6 117.9h1v1h-1zM77.2 139h1v1h-1zM88.1 135.6h1v1h-1zM66.8 148.6h1v1h-1zM73 140.7h1v1h-1zM63.8 154h1v1h-1zM78.8 151.8h1v1h-1zM67.6 147.1h1v1h-1zM101.5 116.2h1v1h-1zM82.6 140.4h1v1h-1zM48.6 171.5h1v1h-1zM98.8 131.3h1v1h-1zM90.5 133.8h1v1h-1zM83.1 142.7h1v1h-1zM116.7 103.8h1v1h-1zM65.5 156.2h1v1h-1zM80.7 143.2h1v1h-1zM84 146.9h1v1h-1zM108.6 112.9h1v1h-1zM84.4 143.6h1v1h-1zM60.2 160.7h1v1h-1zM60.9 159.9h1v1h-1zM69.3 160.1h1v1h-1zM88.1 145.1h1v1h-1zM62.3 163.7h1v1h-1zM88.3 137.2h1v1h-1zM93.9 135.5h1v1h-1zM107.5 111.3h1v1h-1zM114.7 105.7h1v1h-1zM109.4 111.3h1v1h-1zM60.1 162.7h1v1h-1zM109.8 104.3h1v1h-1zM84.6 135.2h1v1h-1zM79.8 142.4h1v1h-1zM52.7 162.1h1v1h-1zM57.5 161.2h1v1h-1zM75.1 152.5h1v1h-1zM74.7 150.1h1v1h-1zM53 161.4h1v1h-1zM109.7 113.8h1v1h-1zM77.7 151.4h1v1h-1zM104.6 110.7h1v1h-1zM53.2 166.6h1v1h-1zM98.8 126.2h1v1h-1zM60.5 160.5h1v1h-1zM62.9 151h1v1h-1zM62.2 154.7h1v1h-1zM51.1 167.4h1v1h-1zM107.7 108.9h1v1h-1zM52.6 163.9h1v1h-1zM50.4 169.5h1v1h-1zM78.3 152.5h1v1h-1zM60.9 162.5h1v1h-1zM84.4 148.3h1v1h-1zM78.1 139h1v1h-1zM109.1 114.9h1v1h-1zM102.1 116.9h1v1h-1z" fill="#f99a25"/><path d="M58.6 122.1h1v1h-1zM40.5 159.8h1v1h-1zM64.2 121.5h1v1h-1zM41.4 169.4h1v1h-1zM43.8 159.7h1v1h-1zM59.6 125.3h1v1h-1zM45.9 143.9h1v1h-1zM43.3 148.1h1v1h-1zM61.7 118.7h1v1h-1zM52.3 133.5h1v1h-1zM49.2 146.1h1v1h-1zM41.1 173h1v1h-1zM75.3 99.6h1v1h-1zM64.1 116.4h1v1h-1zM59.8 118.2h1v1h-1zM54.1 135h1v1h-1zM68.8 115.4h1v1h-1zM51.5 142h1v1h-1zM69.1 114.9h1v1h-1zM70.3 109.5h1v1h-1zM59.7 127.5h1v1h-1zM44.9 152.1h1v1h-1zM58.2 130.7h1v1h-1zM58.2 130.2h1v1h-1zM68.8 114.2h1v1h-1zM47.4 146.1h1v1h-1zM53.6 132.6h1v1h-1zM46.1 152.8h1v1h-1zM57.9 131.6h1v1h-1zM66.4 116.2h1v1h-1zM57.4 128.9h1v1h-1zM50.2 144.6h1v1h-1zM57.6 123h1v1h-1zM78.1 98.6h1v1h-1zM71.1 106.6h1v1h-1zM77.3 101.1h1v1h-1zM68.5 108.9h1v1h-1zM39.9 165.3h1v1h-1zM57.5 121.5h1v1h-1zM64.4 121h1v1h-1zM60 122.6h1v1h-1zM73.7 105.1h1v1h-1zM64.5 120.6h1v1h-1zM41.5 159.9h1v1h-1zM59.1 129.4h1v1h-1zM47.8 136.1h1v1h-1zM46.4 138.3h1v1h-1zM76.9 99.2h1v1h-1zM51.3 143h1v1h-1zM46.3 152.2h1v1h-1zM51.4 134.2h1v1h-1zM67.7 117.6h1v1h-1zM51.7 139.1h1v1h-1zM63.6 119.6h1v1h-1zM39.4 160.6h1v1h-1zM66.9 114.4h1v1h-1zM68.7 108.1h1v1h-1zM53.2 135.5h1v1h-1zM62.5 122.1h1v1h-1zM59.8 124.1h1v1h-1zM49.7 144.6h1v1h-1zM48.1 135.7h1v1h-1zM48.5 146h1v1h-1zM41.7 156.4h1v1h-1zM64.6 121.3h1v1h-1zM74.7 105h1v1h-1zM76 100.2h1v1h-1zM68.5 107.1h1v1h-1zM50.3 139.8h1v1h-1zM54.4 128.8h1v1h-1zM61.3 124.2h1v1h-1zM38.3 165.4h1v1h-1zM43.9 156.6h1v1h-1zM49.5 141.5h1v1h-1zM65.2 112.5h1v1h-1zM67.1 116.8h1v1h-1zM75.6 99.4h1v1h-1zM48 135.7h1v1h-1zM71.2 107.4h1v1h-1zM75.1 104.4h1v1h-1z" fill="#f99a25"/><path d="M45.4 167.5h1v1h-1zM50.7 157.8h1v1h-1zM44.5 160.9h1v1h-1zM48.3 167.3h1v1h-1zM42.4 166.2h1v1h-1zM44.2 168.7h1v1h-1zM45.8 168.6h1v1h-1zM55.6 158.8h1v1h-1zM52 160.5h1v1h-1zM43.3 167.7h1v1h-1zM51.2 163.6h1v1h-1zM43.6 167.5h1v1h-1zM50.4 163.3h1v1h-1zM43.8 173.5h1v1h-1zM46.9 156.7h1v1h-1zM51.3 165.1h1v1h-1zM55.3 156.7h1v1h-1zM52.1 160.8h1v1h-1zM41.9 168.1h1v1h-1zM43 163.7h1v1h-1zM46.7 155.8h1v1h-1zM53.7 156.2h1v1h-1zM52.3 160.5h1v1h-1zM44.7 164.8h1v1h-1zM52.3 165.2h1v1h-1zM43.3 160.8h1v1h-1zM47.6 158.8h1v1h-1zM44.4 159h1v1h-1zM46.1 165.8h1v1h-1zM44.2 167.4h1v1h-1zM47.9 171.8h1v1h-1zM47.2 160.5h1v1h-1zM52.5 156.3h1v1h-1zM45.7 172.5h1v1h-1zM47.7 171.6h1v1h-1zM48.9 156.4h1v1h-1zM50.8 158.7h1v1h-1zM53.2 158h1v1h-1zM46 171.8h1v1h-1zM41.7 169.8h1v1h-1zM51.5 162.7h1v1h-1zM51.2 166.4h1v1h-1zM47.1 160.2h1v1h-1zM41.8 167.9h1v1h-1zM45.3 170.9h1v1h-1zM56.7 156.2h1v1h-1zM55.8 160.9h1v1h-1zM54.2 160.4h1v1h-1zM54.9 154.7h1v1h-1zM43.4 170.4h1v1h-1zM46.9 157.3h1v1h-1zM44.9 165.2h1v1h-1zM45.2 162.4h1v1h-1zM47.6 165.4h1v1h-1zM52.9 160.3h1v1h-1zM46 170.1h1v1h-1zM42.4 164.5h1v1h-1zM47 156.9h1v1h-1zM49.2 161.6h1v1h-1zM51.7 165.9h1v1h-1zM52.6 165.5h1v1h-1zM52 165.3h1v1h-1zM47.3 158.7h1v1h-1zM49.6 160.7h1v1h-1zM49 158h1v1h-1zM56.4 157h1v1h-1zM43.9 160h1v1h-1zM53.1 164.8h1v1h-1zM43.3 168.9h1v1h-1zM49.5 163h1v1h-1zM49.2 157.5h1v1h-1zM44.2 160.3h1v1h-1zM44.2 162.6h1v1h-1zM42.2 170.2h1v1h-1zM44.5 160.3h1v1h-1zM48.4 164.1h1v1h-1zM47.2 159.4h1v1h-1zM54.8 158.1h1v1h-1zM43.6 161.2h1v1h-1zM47.4 160.2h1v1h-1zM51.1 164.7h1v1h-1zM41.6 172.2h1v1h-1zM41.7 168.5h1v1h-1zM42.6 168.9h1v1h-1zM50.6 167.3h1v1h-1zM43.7 174.2h1v1h-1zM50.4 165.4h1v1h-1zM48.6 161.3h1v1h-1zM45 169.4h1v1h-1zM49.7 163.6h1v1h-1zM49.6 160.2h1v1h-1zM45.5 160.7h1v1h-1zM50.1 167.4h1v1h-1zM42.1 172.2h1v1h-1zM54.1 158h1v1h-1zM50.5 163.9h1v1h-1zM45.9 171.9h1v1h-1zM48.9 168.7h1v1h-1zM46 156.5h1v1h-1zM44.2 167.2h1v1h-1zM47 168h1v1h-1zM44.1 160.4h1v1h-1zM51.8 162.1h1v1h-1zM45.7 161.4h1v1h-1zM43.2 172.6h1v1h-1zM55.6 154.5h1v1h-1zM42.6 164.8h1v1h-1zM44.6 174.7h1v1h-1zM46.9 157.4h1v1h-1zM54.5 157.8h1v1h-1z" fill="#f99a25"/><path d="M233 29.7 L235.5 36 L235.5 50 L234.3 60 L233.5 72 L232.4 82.9 L230 93 L226.7 101.9 L223 110 L219 117 L214 123 L209.5 128.6 L202 134 L194 139 L186 142 L179 141 L175 136 L173.5 128 L176 118 L183 108 L193 98 L203 90 L210 82 L215 72 L219 62 L224 50 L228 35Z" fill="#04fb04" /><path d="M226.2 101.7h1v1h-1zM215.2 66.7h1v1h-1zM211.1 125.6h1v1h-1zM173.6 121h1v1h-1zM228.3 97.9h1v1h-1zM232.6 82.5h1v1h-1zM234.8 34.4h1v1h-1zM180.5 141.4h1v1h-1zM173.3 124.2h1v1h-1zM182.4 106.8h1v1h-1zM174.5 137.9h1v1h-1zM227.3 98.8h1v1h-1zM235 56.7h1v1h-1zM172.6 131.8h1v1h-1zM173.7 121.9h1v1h-1zM218.3 119.1h1v1h-1zM203.7 87h1v1h-1zM218.9 58.6h1v1h-1zM175.8 137.7h1v1h-1zM225.4 37.7h1v1h-1zM212.9 74.2h1v1h-1zM234.2 65.9h1v1h-1zM200.6 90.8h1v1h-1zM197.4 136.4h1v1h-1zM178.2 111.4h1v1h-1zM222.1 52.3h1v1h-1zM195.5 93h1v1h-1zM229.8 91.3h1v1h-1zM228 97.5h1v1h-1zM184.7 104.6h1v1h-1zM229.8 94h1v1h-1zM215.3 67.9h1v1h-1zM226.1 39.4h1v1h-1zM181.7 107.6h1v1h-1zM232.9 80.1h1v1h-1zM228.6 96.5h1v1h-1zM228.6 32.1h1v1h-1zM173.9 133.6h1v1h-1zM220.9 115.8h1v1h-1zM235 54.9h1v1h-1zM172.1 122.2h1v1h-1zM171.9 128.6h1v1h-1zM192.8 140.3h1v1h-1zM172.6 127.4h1v1h-1zM186.9 102.7h1v1h-1zM172.9 132.3h1v1h-1zM231.9 87.1h1v1h-1zM231.7 29.4h1v1h-1zM173.1 125.2h1v1h-1zM213.4 122.9h1v1h-1zM190.7 97.3h1v1h-1zM213.4 72.4h1v1h-1zM232.7 80.4h1v1h-1zM230.4 89.6h1v1h-1zM174.6 118.7h1v1h-1zM211.3 74.2h1v1h-1zM232.8 79.5h1v1h-1zM221.4 112.7h1v1h-1zM235.8 50.3h1v1h-1zM190.8 140.3h1v1h-1zM209.1 81.7h1v1h-1zM183.7 104.6h1v1h-1zM211.5 125.4h1v1h-1zM232.8 73.4h1v1h-1zM173.7 131.3h1v1h-1zM209 80.8h1v1h-1zM231.7 29.3h1v1h-1zM207.7 82.6h1v1h-1zM225.3 41.9h1v1h-1zM172.3 124.9h1v1h-1zM195.8 94.5h1v1h-1zM173.2 124.6h1v1h-1zM173.2 125h1v1h-1zM229.7 93.4h1v1h-1zM175.7 137h1v1h-1zM226.8 100.1h1v1h-1zM229.9 94.5h1v1h-1zM206.2 130.8h1v1h-1zM217.5 119.6h1v1h-1zM180.7 107.6h1v1h-1zM226.8 104.2h1v1h-1zM229.8 29.3h1v1h-1zM214.5 123.6h1v1h-1zM179.1 140.8h1v1h-1zM227.5 33.5h1v1h-1zM176.6 115.4h1v1h-1zM217.5 62.1h1v1h-1zM233.7 65.7h1v1h-1zM236.1 52.5h1v1h-1zM213.3 70.2h1v1h-1zM226.1 39.5h1v1h-1zM218.9 59h1v1h-1zM172.6 124.8h1v1h-1zM231.3 92.6h1v1h-1zM232.4 85.6h1v1h-1zM174.3 119.6h1v1h-1zM225.3 42h1v1h-1zM227.6 98.6h1v1h-1zM219.7 55.3h1v1h-1zM233.6 65.2h1v1h-1zM216.1 65.4h1v1h-1zM229 32.7h1v1h-1zM233.5 72.5h1v1h-1zM207 129.9h1v1h-1zM235 34.4h1v1h-1zM176.8 115.5h1v1h-1zM194.6 93.9h1v1h-1zM190.4 97.6h1v1h-1zM210.5 126.5h1v1h-1zM215.4 69.1h1v1h-1zM215.6 121.6h1v1h-1zM204.5 132h1v1h-1zM186.1 141.4h1v1h-1zM234 62.9h1v1h-1zM235.3 43.1h1v1h-1zM195.4 93.9h1v1h-1zM231.9 87.4h1v1h-1zM213.2 124.8h1v1h-1zM199.5 91.7h1v1h-1zM210.8 128.5h1v1h-1zM231.5 30.1h1v1h-1zM229.9 31h1v1h-1zM187.1 102.5h1v1h-1zM184.2 104.6h1v1h-1zM189 100.7h1v1h-1zM200.5 134.9h1v1h-1zM208.5 129.1h1v1h-1zM216.3 63.3h1v1h-1zM219 117.9h1v1h-1zM236.2 35.5h1v1h-1zM183 105.4h1v1h-1zM230.4 31.2h1v1h-1zM224.3 46h1v1h-1zM172.8 122.6h1v1h-1zM205.4 86.1h1v1h-1zM172.5 132.6h1v1h-1zM185.8 104h1v1h-1zM226.3 38.7h1v1h-1zM219.8 55.4h1v1h-1zM210.6 74.7h1v1h-1zM224.6 105.8h1v1h-1zM189.2 98.8h1v1h-1zM207.7 129.2h1v1h-1zM182.3 106.5h1v1h-1zM235.9 49h1v1h-1zM202.1 133.6h1v1h-1zM237 38.7h1v1h-1zM197.6 92.7h1v1h-1zM187.5 101.3h1v1h-1zM194.7 138.6h1v1h-1zM196.6 94.1h1v1h-1zM198.9 91.5h1v1h-1zM177.3 114.4h1v1h-1zM234.2 59.8h1v1h-1zM186.3 141.9h1v1h-1zM234.8 59.1h1v1h-1zM235.2 44.6h1v1h-1zM220.1 114.7h1v1h-1zM178.6 112.7h1v1h-1zM233.1 81.7h1v1h-1zM218.8 58.3h1v1h-1zM232.6 75.8h1v1h-1zM235 40.4h1v1h-1zM229.5 32.4h1v1h-1zM197.7 93.2h1v1h-1zM221.4 112.8h1v1h-1zM207.3 82.7h1v1h-1zM191.3 97.5h1v1h-1zM189.9 140.9h1v1h-1zM233.2 80.2h1v1h-1zM232 82.3h1v1h-1zM209.7 79.9h1v1h-1zM183.1 141.2h1v1h-1zM228.8 94.6h1v1h-1zM223.2 46.4h1v1h-1zM235.3 39.7h1v1h-1zM221.6 52.7h1v1h-1zM183.3 141.3h1v1h-1zM211.4 127h1v1h-1zM179.4 111.8h1v1h-1zM224.6 107.1h1v1h-1zM195.6 94.6h1v1h-1zM225.9 38.3h1v1h-1zM232.6 80.5h1v1h-1zM223.6 45.9h1v1h-1zM203.3 88.5h1v1h-1zM193.9 95.7h1v1h-1zM224 41.4h1v1h-1zM237.1 37.1h1v1h-1zM232.6 78h1v1h-1zM174.9 116.9h1v1h-1zM215.1 67.8h1v1h-1zM192.7 139.3h1v1h-1zM229.1 96.7h1v1h-1zM192 97.5h1v1h-1zM230.1 92.2h1v1h-1zM177 115.2h1v1h-1zM224.9 107.7h1v1h-1zM232.6 85.1h1v1h-1zM200.7 134.1h1v1h-1zM193.3 139h1v1h-1zM206.4 130.4h1v1h-1zM196.5 94h1v1h-1zM195.2 137.7h1v1h-1zM176.2 138.7h1v1h-1zM231.1 89.2h1v1h-1zM227.3 100.4h1v1h-1zM220.6 113.5h1v1h-1zM235.6 53.2h1v1h-1zM221.1 52.5h1v1h-1zM209.1 128.6h1v1h-1zM230.9 30.5h1v1h-1zM219.6 58.4h1v1h-1zM206.2 84.7h1v1h-1zM174.5 116.6h1v1h-1zM233.8 62.7h1v1h-1zM225.3 40.3h1v1h-1zM227.3 35h1v1h-1zM205.9 84.5h1v1h-1zM221.6 49.9h1v1h-1zM213.6 70.8h1v1h-1zM225.6 107.4h1v1h-1zM233.6 65.7h1v1h-1zM223.1 50.2h1v1h-1zM210.7 77.8h1v1h-1zM213.8 70.7h1v1h-1zM208.5 80.8h1v1h-1zM195 138.7h1v1h-1zM235.2 60.5h1v1h-1zM178.6 109.4h1v1h-1zM211.1 76.4h1v1h-1zM197.4 92.9h1v1h-1zM223 49.7h1v1h-1zM213.5 123.2h1v1h-1zM212 125.8h1v1h-1zM222.3 111.2h1v1h-1zM212.9 125h1v1h-1zM184.6 105.1h1v1h-1zM223.3 43.9h1v1h-1zM223.8 48h1v1h-1zM195.7 93.5h1v1h-1zM219.2 116.3h1v1h-1zM181.1 108.4h1v1h-1zM211.5 77.3h1v1h-1zM207.6 130.2h1v1h-1zM204.9 85.4h1v1h-1zM235 54.9h1v1h-1zM212.4 125.1h1v1h-1zM193.9 94.7h1v1h-1zM199.8 91.4h1v1h-1zM234.7 65h1v1h-1zM227.5 33h1v1h-1zM233 78.7h1v1h-1zM220.4 53.5h1v1h-1zM185.7 101.3h1v1h-1zM226.1 38.2h1v1h-1zM235.1 43.1h1v1h-1zM184.2 105.2h1v1h-1zM227 100.2h1v1h-1zM197.9 136.1h1v1h-1zM224.2 43.1h1v1h-1zM206.5 83.6h1v1h-1zM235.8 33h1v1h-1zM234.8 60.9h1v1h-1zM219.1 116.9h1v1h-1zM213.5 123.4h1v1h-1zM215.3 121.4h1v1h-1zM222.1 110.6h1v1h-1zM207.5 130.8h1v1h-1zM185.9 141.7h1v1h-1zM220.5 54.5h1v1h-1zM232.9 73.3h1v1h-1zM235.9 41.7h1v1h-1zM233.8 31.6h1v1h-1zM220.6 53.8h1v1h-1zM192.8 97.2h1v1h-1zM174.8 137h1v1h-1zM184.5 104.6h1v1h-1zM235.3 54.8h1v1h-1zM233.3 73h1v1h-1zM174.9 118.6h1v1h-1zM232.9 80h1v1h-1zM173.9 120.2h1v1h-1zM197.3 93h1v1h-1zM234.3 64.6h1v1h-1zM229.9 94.4h1v1h-1zM226.2 37.3h1v1h-1zM232.9 75.7h1v1h-1zM223.5 41.8h1v1h-1zM196.3 136.9h1v1h-1zM235.2 51.8h1v1h-1zM234.3 67.4h1v1h-1zM178.7 112.5h1v1h-1zM226.3 101.9h1v1h-1zM220.7 55.5h1v1h-1zM234.8 57.6h1v1h-1zM233.7 71.2h1v1h-1zM210.4 79.7h1v1h-1zM235.2 34.1h1v1h-1zM234.7 53.2h1v1h-1zM201.2 89.7h1v1h-1zM213.4 70.7h1v1h-1zM235 50.5h1v1h-1zM208.6 129.5h1v1h-1zM236 38.5h1v1h-1zM206.1 85.1h1v1h-1zM229.9 90.7h1v1h-1zM226.1 39.5h1v1h-1zM223.4 48.6h1v1h-1zM235.4 46.7h1v1h-1zM233.8 62.6h1v1h-1zM235.2 44.9h1v1h-1zM234.1 59.1h1v1h-1zM184 141.3h1v1h-1zM233.6 31.2h1v1h-1zM176.4 138.1h1v1h-1zM195.5 137.8h1v1h-1zM228.3 96.9h1v1h-1zM226.6 35.5h1v1h-1zM214 122.4h1v1h-1zM228.9 30.6h1v1h-1zM227.7 100.7h1v1h-1zM211.6 126.2h1v1h-1zM172.9 133.5h1v1h-1zM224 46.9h1v1h-1zM229.1 32.6h1v1h-1zM232.7 77.9h1v1h-1zM226.3 34.7h1v1h-1zM189.3 99.1h1v1h-1zM233.3 71.2h1v1h-1zM232.8 76.9h1v1h-1zM211.7 75.4h1v1h-1zM233.8 59.6h1v1h-1zM175.4 117.3h1v1h-1zM232.1 83.2h1v1h-1zM191.8 97.8h1v1h-1zM187.1 141.5h1v1h-1zM193.9 95.5h1v1h-1zM174.9 118h1v1h-1zM203.9 87.7h1v1h-1zM230.5 94.3h1v1h-1zM188.8 100.5h1v1h-1zM199.2 89.8h1v1h-1zM172.6 125.2h1v1h-1zM214.8 69.8h1v1h-1zM233.1 70.7h1v1h-1zM232.7 29.3h1v1h-1zM232.8 77.3h1v1h-1zM205.9 130.8h1v1h-1zM218.8 116.8h1v1h-1zM226.7 34.9h1v1h-1zM204.8 131.2h1v1h-1zM215.3 68.8h1v1h-1zM235.2 41.7h1v1h-1zM235.6 42.7h1v1h-1zM186.4 103.2h1v1h-1zM182.5 105.4h1v1h-1zM209.1 81.8h1v1h-1zM227.5 98.1h1v1h-1zM191.6 98.2h1v1h-1zM227.8 97.9h1v1h-1zM226.6 36.3h1v1h-1zM198 136h1v1h-1zM179.5 110.4h1v1h-1zM235 41.2h1v1h-1zM231.1 29.6h1v1h-1zM174.2 117.4h1v1h-1zM173.1 127.2h1v1h-1zM184.5 142.6h1v1h-1zM173.6 131.8h1v1h-1zM230.1 91.8h1v1h-1zM203.6 87.2h1v1h-1zM192.3 97.6h1v1h-1zM232.6 78.3h1v1h-1zM227.2 35.2h1v1h-1zM229.4 30.8h1v1h-1zM220 114.8h1v1h-1zM223.3 47.4h1v1h-1zM226.9 35.4h1v1h-1zM221.8 114.5h1v1h-1zM226.6 34.8h1v1h-1zM177.4 139.6h1v1h-1zM224.1 45.1h1v1h-1zM224 110.2h1v1h-1zM234.6 34.5h1v1h-1zM236.3 51.7h1v1h-1zM174 122.2h1v1h-1zM231.7 29.6h1v1h-1zM223.7 48.4h1v1h-1zM229.6 92.4h1v1h-1zM200.3 135.8h1v1h-1zM222.3 51.7h1v1h-1zM234.6 61.3h1v1h-1zM234.9 50.9h1v1h-1zM177.6 111.3h1v1h-1zM222.3 112.5h1v1h-1zM201.9 89.1h1v1h-1zM206 131.3h1v1h-1zM225.5 104.1h1v1h-1zM220.2 114.5h1v1h-1zM233.9 79.6h1v1h-1zM182.6 106.4h1v1h-1zM235.7 49.1h1v1h-1zM174.7 119.9h1v1h-1zM233.8 69.3h1v1h-1zM175.4 116.2h1v1h-1zM229.9 31.5h1v1h-1zM223 109.1h1v1h-1zM178.7 142.3h1v1h-1zM189.3 140.8h1v1h-1zM203.4 132.4h1v1h-1zM171.3 125.8h1v1h-1zM213.5 71.6h1v1h-1zM222.7 51.3h1v1h-1zM233.2 81.5h1v1h-1zM221.1 52.8h1v1h-1zM232.2 85.1h1v1h-1zM236.8 39.9h1v1h-1zM232.2 81.9h1v1h-1zM222.7 50.8h1v1h-1zM231.7 89.2h1v1h-1zM175.9 116.6h1v1h-1zM220.7 114.6h1v1h-1zM192.8 139.4h1v1h-1zM234.1 61.7h1v1h-1zM217.6 63.1h1v1h-1zM232.1 87.7h1v1h-1zM233.8 61.6h1v1h-1zM213.9 72.6h1v1h-1zM223.1 49.2h1v1h-1zM227.4 99.2h1v1h-1zM202 134.5h1v1h-1zM199.2 136.5h1v1h-1zM193.2 96.6h1v1h-1zM216.3 66.5h1v1h-1zM235.6 38.3h1v1h-1zM187.2 141h1v1h-1zM186.6 141.1h1v1h-1zM234.5 56.4h1v1h-1zM228 97.5h1v1h-1zM223.3 49.8h1v1h-1zM235.2 43.7h1v1h-1zM186.2 141.6h1v1h-1zM193.1 95.1h1v1h-1zM218.8 60.6h1v1h-1zM181.2 109.2h1v1h-1zM226.9 101.3h1v1h-1zM183.6 141.3h1v1h-1zM215.6 65.1h1v1h-1zM215.3 67.7h1v1h-1zM173.8 135.3h1v1h-1zM236.1 49.1h1v1h-1zM222.2 110.4h1v1h-1zM176.6 114.6h1v1h-1zM206.1 85h1v1h-1zM195.7 94.1h1v1h-1zM175.4 116.5h1v1h-1zM235.2 34h1v1h-1zM199.4 91.7h1v1h-1zM229.7 94.2h1v1h-1zM231.5 29.7h1v1h-1zM197.8 136h1v1h-1zM225.5 38.1h1v1h-1zM221.1 111.9h1v1h-1zM236.1 41.7h1v1h-1zM230.6 89.1h1v1h-1zM194.3 96h1v1h-1zM212.2 75.8h1v1h-1zM231.6 85.1h1v1h-1zM182.8 106.8h1v1h-1zM235.2 39.6h1v1h-1zM232.6 76.9h1v1h-1zM222.1 52.4h1v1h-1zM185.1 102.3h1v1h-1zM226.8 103.5h1v1h-1zM193.1 96.6h1v1h-1zM216.3 65.8h1v1h-1zM233.7 71.2h1v1h-1zM208.2 130.8h1v1h-1zM193.2 94.7h1v1h-1zM210.3 128h1v1h-1zM198 136.3h1v1h-1zM183.5 106.4h1v1h-1zM226.8 100h1v1h-1zM212.4 75.7h1v1h-1zM196.3 137.9h1v1h-1zM233.8 70.4h1v1h-1zM183.8 105.3h1v1h-1zM225.4 42.4h1v1h-1zM232.9 74.2h1v1h-1zM219.2 116.9h1v1h-1zM230.2 94h1v1h-1zM222.4 110.3h1v1h-1zM229.8 31.8h1v1h-1zM180.6 142.1h1v1h-1zM233.3 30h1v1h-1zM176.1 137.5h1v1h-1zM181.3 141.1h1v1h-1zM181.1 141.1h1v1h-1zM233.1 28.3h1v1h-1z" fill="#04fb04"/><path d="M238.5 52.7h1v1h-1zM238.9 70.3h1v1h-1zM237.2 87.8h1v1h-1zM238.5 74.2h1v1h-1zM238.5 60.6h1v1h-1zM235.7 86.8h1v1h-1zM239.6 68.1h1v1h-1zM238.2 68h1v1h-1zM234.6 93.7h1v1h-1zM240.1 63.5h1v1h-1zM239.5 42.7h1v1h-1zM239.8 51.1h1v1h-1zM237.3 31.3h1v1h-1zM237.6 40.2h1v1h-1zM238.2 59.8h1v1h-1zM236.7 37.1h1v1h-1zM237.9 63h1v1h-1zM236.3 91.3h1v1h-1zM240.4 48.4h1v1h-1zM237.7 34.5h1v1h-1zM237.1 81.9h1v1h-1zM238.4 60.6h1v1h-1zM239.7 48.2h1v1h-1zM237.2 36.2h1v1h-1zM237.3 74.7h1v1h-1zM238.4 61.9h1v1h-1zM236.2 82.6h1v1h-1zM238.7 70.4h1v1h-1zM238.7 61.2h1v1h-1zM237.8 85.5h1v1h-1zM235.3 94.2h1v1h-1zM240 69.8h1v1h-1zM238.5 64.1h1v1h-1zM239.7 53.1h1v1h-1zM236 32.5h1v1h-1zM238.2 34.4h1v1h-1zM240.7 48.1h1v1h-1zM238.8 53.7h1v1h-1zM238.5 52.5h1v1h-1zM239.6 53.2h1v1h-1z" fill="#04fb04"/><path d="M193.4 145.3h1v1h-1zM186.5 148.2h1v1h-1zM196.1 142.2h1v1h-1zM182.3 143.6h1v1h-1zM191.2 144.9h1v1h-1zM182.3 149.9h1v1h-1zM181.9 142.5h1v1h-1zM173.8 132.1h1v1h-1zM175 136.2h1v1h-1zM194.9 141.1h1v1h-1zM187 149.8h1v1h-1zM184.2 146.9h1v1h-1zM176.8 143.7h1v1h-1zM198 143.7h1v1h-1zM179.2 141.4h1v1h-1zM176.9 145h1v1h-1zM193.6 146.8h1v1h-1zM178.4 144.2h1v1h-1zM196.6 145.3h1v1h-1zM188.6 149.2h1v1h-1zM186.4 146.9h1v1h-1zM184.1 147.3h1v1h-1zM184.6 143.2h1v1h-1zM195.6 140.1h1v1h-1zM192.4 144.7h1v1h-1zM180.4 141.8h1v1h-1zM197.2 144.8h1v1h-1zM186.6 143.1h1v1h-1zM184.5 147.4h1v1h-1zM193.4 144.9h1v1h-1zM177 140.5h1v1h-1zM194.1 142.9h1v1h-1zM188.1 142.2h1v1h-1zM183.2 143.7h1v1h-1zM190.1 147h1v1h-1zM186.9 144.6h1v1h-1zM193.1 140.2h1v1h-1zM198.3 143.7h1v1h-1zM180.8 149.8h1v1h-1zM191.6 143h1v1h-1zM183.8 150.3h1v1h-1zM192.7 145.8h1v1h-1zM194.7 142.9h1v1h-1zM176.1 141.9h1v1h-1zM186.9 144.7h1v1h-1zM176.2 143.5h1v1h-1zM192.4 148h1v1h-1zM189.4 145.4h1v1h-1zM192.4 142.3h1v1h-1zM190 149.1h1v1h-1zM193 148.1h1v1h-1zM194.6 144.5h1v1h-1zM185.1 145.4h1v1h-1zM191.9 146.1h1v1h-1zM183.5 148.1h1v1h-1zM183.4 143.8h1v1h-1zM188 149.6h1v1h-1zM176.1 144.1h1v1h-1zM191.1 149.1h1v1h-1zM188 149.3h1v1h-1zM185.2 150h1v1h-1zM187.6 149.5h1v1h-1zM178.5 145.3h1v1h-1zM184.1 149.1h1v1h-1zM180.6 141.9h1v1h-1zM177.4 143.5h1v1h-1zM185 147.2h1v1h-1zM183.6 151h1v1h-1zM192.3 142.3h1v1h-1zM179.3 145.1h1v1h-1z" fill="#04fb04"/><path d="M149.7 163.4 L165 166 L185 171 L205 175.5 L218.6 178.6 L221.4 180.5 L207.7 185.5 L194 189.5 L180.5 193.6 L167 197 L153.2 200.5 L140 203 L126 203.5 L117 202 L114.2 196.8 L122.6 186.3 L130 181 L137.2 175.9 L143 169Z" fill="#ff0404" /><path d="M205.9 188.1h1v1h-1zM152 162.9h1v1h-1zM118.1 189.7h1v1h-1zM138.1 172.9h1v1h-1zM147.1 201.5h1v1h-1zM127.3 182h1v1h-1zM113.7 193.6h1v1h-1zM213.2 184.7h1v1h-1zM114.1 198.1h1v1h-1zM121.7 202.5h1v1h-1zM153.1 163.1h1v1h-1zM174.6 194.7h1v1h-1zM169.7 196.2h1v1h-1zM112.5 196.6h1v1h-1zM162.6 199.4h1v1h-1zM202.3 187.7h1v1h-1zM125.5 204.7h1v1h-1zM135.3 176.2h1v1h-1zM220.3 181.4h1v1h-1zM196.9 173.2h1v1h-1zM218.4 177.7h1v1h-1zM211.2 184h1v1h-1zM114.7 201.7h1v1h-1zM219.4 181.5h1v1h-1zM138.8 203.3h1v1h-1zM179.6 167.8h1v1h-1zM113.5 197.3h1v1h-1zM115.7 201.1h1v1h-1zM132.2 177.9h1v1h-1zM152.8 162h1v1h-1zM130.7 179h1v1h-1zM164.7 198.4h1v1h-1zM184.9 192.2h1v1h-1zM157.1 164.1h1v1h-1zM220.4 180.2h1v1h-1zM127.7 203.9h1v1h-1zM134.3 175.9h1v1h-1zM119.9 202.2h1v1h-1zM162.8 197.9h1v1h-1zM205.1 186.1h1v1h-1zM205.5 185.9h1v1h-1zM183.3 192.8h1v1h-1zM128.5 205.4h1v1h-1zM197.2 189.9h1v1h-1zM115.4 193.5h1v1h-1zM203.9 174.7h1v1h-1zM118.8 203.4h1v1h-1zM203.7 186.2h1v1h-1zM203.5 187.4h1v1h-1zM185.2 169.9h1v1h-1zM166.5 196.5h1v1h-1zM147.8 163.9h1v1h-1zM190.8 190.3h1v1h-1zM113.6 198.5h1v1h-1zM132.8 177.5h1v1h-1zM169.6 165.8h1v1h-1zM216.7 176.3h1v1h-1zM157.7 163.8h1v1h-1zM136.7 171.6h1v1h-1zM130.3 203.5h1v1h-1zM206.6 174.9h1v1h-1zM152.5 201.2h1v1h-1zM190.5 170.5h1v1h-1zM124.8 204.5h1v1h-1zM141.3 168.2h1v1h-1zM154.9 161.9h1v1h-1zM128.5 178.6h1v1h-1zM220.6 178.3h1v1h-1zM161.2 199.1h1v1h-1zM129.8 203.4h1v1h-1zM135.3 202.8h1v1h-1zM161.3 198.5h1v1h-1zM217.7 177.9h1v1h-1zM146.4 164.6h1v1h-1zM123.7 202.9h1v1h-1zM166.8 197.4h1v1h-1zM141.6 169.1h1v1h-1zM191.4 169.5h1v1h-1zM186.3 169.9h1v1h-1zM219.8 181.4h1v1h-1zM182.9 192.3h1v1h-1zM159.9 198.9h1v1h-1zM203.1 187h1v1h-1zM142 202.4h1v1h-1zM116.5 191.4h1v1h-1zM118.7 203.6h1v1h-1zM138.7 172.4h1v1h-1zM125.9 179.5h1v1h-1zM155.2 200.6h1v1h-1zM194 191h1v1h-1zM181.5 169.2h1v1h-1zM203.9 187.5h1v1h-1zM199.4 172.4h1v1h-1zM218.4 181.2h1v1h-1zM202.5 173h1v1h-1zM155.4 200.1h1v1h-1zM151 163.2h1v1h-1zM120.2 188.1h1v1h-1zM219.8 181.4h1v1h-1zM171.5 195.5h1v1h-1zM134.6 174.4h1v1h-1zM180.5 169.1h1v1h-1zM197.2 188.4h1v1h-1zM195.1 190.8h1v1h-1zM149.1 201.4h1v1h-1zM114.9 193.9h1v1h-1zM125.8 203.3h1v1h-1zM132.6 175h1v1h-1zM127.3 203.8h1v1h-1zM131.6 178.8h1v1h-1zM117.9 190.7h1v1h-1zM129.6 203.3h1v1h-1zM147.7 201.6h1v1h-1zM197.9 173.3h1v1h-1zM155.8 199.9h1v1h-1zM138.4 204.2h1v1h-1zM200.3 187.3h1v1h-1zM187.1 169.4h1v1h-1zM149.7 200.7h1v1h-1zM213.3 176h1v1h-1zM146 203h1v1h-1zM191 192.4h1v1h-1zM145.8 164.2h1v1h-1zM148.8 162.6h1v1h-1zM212.9 176.4h1v1h-1zM205.8 187.9h1v1h-1zM155.1 200.3h1v1h-1zM204.8 174.4h1v1h-1zM176.5 168h1v1h-1zM202.9 173.8h1v1h-1zM203.4 186.9h1v1h-1zM124.5 204.2h1v1h-1zM180.8 194.8h1v1h-1zM193.5 171h1v1h-1zM158.9 162.7h1v1h-1zM119.7 186.2h1v1h-1zM128.2 181.2h1v1h-1zM113.4 196.6h1v1h-1zM129.5 180.3h1v1h-1zM146.2 203.2h1v1h-1zM200.7 173.7h1v1h-1zM165 164.6h1v1h-1zM203.9 186.8h1v1h-1zM179 195h1v1h-1zM113.5 197.3h1v1h-1zM184.1 194h1v1h-1zM118.8 189.6h1v1h-1zM141.6 169.5h1v1h-1zM207.2 185.5h1v1h-1zM219.8 181h1v1h-1zM137.1 174.1h1v1h-1zM113.1 196.3h1v1h-1zM213.4 184.1h1v1h-1zM183.6 169.3h1v1h-1zM164.7 198.9h1v1h-1zM201.4 188.3h1v1h-1zM186.2 192.2h1v1h-1zM219 178.3h1v1h-1zM189.5 190.4h1v1h-1zM193.3 189.7h1v1h-1zM184 192.4h1v1h-1zM149 201.4h1v1h-1zM222.2 179.4h1v1h-1zM211 174.9h1v1h-1zM159.1 198.4h1v1h-1zM139.1 171.9h1v1h-1zM183 168.5h1v1h-1zM189.7 171.3h1v1h-1zM143.5 166h1v1h-1zM128.4 203.4h1v1h-1zM141.1 203.6h1v1h-1zM213.4 176.5h1v1h-1zM122.9 185.2h1v1h-1zM153.1 200h1v1h-1zM170 164.4h1v1h-1zM166.1 197h1v1h-1zM202.2 188.2h1v1h-1zM216.5 184h1v1h-1zM219.2 177.8h1v1h-1zM114.3 202h1v1h-1zM120.4 185.4h1v1h-1zM130.3 179.7h1v1h-1zM129.3 178.4h1v1h-1zM173.3 196.5h1v1h-1zM114.5 194.1h1v1h-1zM141.4 169.2h1v1h-1zM163.7 197.7h1v1h-1zM149.7 161.8h1v1h-1zM198.3 187.8h1v1h-1zM130.2 202.9h1v1h-1zM216.8 181.8h1v1h-1zM146 165.3h1v1h-1zM132.8 202.8h1v1h-1zM119.7 186.4h1v1h-1zM197.4 188.1h1v1h-1zM175.2 196.3h1v1h-1zM116.7 202.3h1v1h-1zM191.8 171.1h1v1h-1zM219 177.9h1v1h-1zM117.7 203.8h1v1h-1zM198.4 173.5h1v1h-1zM161.6 163.9h1v1h-1zM147.1 202.3h1v1h-1zM159.8 162.3h1v1h-1zM184.5 169.7h1v1h-1zM176.5 167.3h1v1h-1zM132 178.5h1v1h-1zM220.9 180h1v1h-1zM158.2 164h1v1h-1zM126.2 182.8h1v1h-1zM134.4 205h1v1h-1zM176.8 168.4h1v1h-1zM203.9 174.7h1v1h-1zM161.2 163.8h1v1h-1zM116.7 192.5h1v1h-1zM196.9 188.7h1v1h-1zM170 166.3h1v1h-1zM217.1 181.7h1v1h-1zM198.9 188h1v1h-1zM114.6 198.2h1v1h-1zM206.3 173.3h1v1h-1zM114.5 193.8h1v1h-1zM166.4 165.4h1v1h-1zM221.2 179.7h1v1h-1zM125.9 203.7h1v1h-1zM139.7 169.6h1v1h-1zM191.3 171h1v1h-1zM194.4 171.2h1v1h-1zM210.9 184.2h1v1h-1zM139.8 203.7h1v1h-1zM182.4 169.3h1v1h-1zM163.6 197.5h1v1h-1zM184 194.8h1v1h-1zM161.4 198.2h1v1h-1zM181.6 195.4h1v1h-1zM112.7 198.1h1v1h-1zM148 201.5h1v1h-1zM197.8 187.9h1v1h-1zM144.4 165.5h1v1h-1zM188.5 190.6h1v1h-1zM146.4 202h1v1h-1zM118.2 203.1h1v1h-1zM149.5 201.1h1v1h-1zM203.7 186.8h1v1h-1zM116.5 192.3h1v1h-1zM192.8 189.9h1v1h-1zM122.9 184.4h1v1h-1zM111.8 194.4h1v1h-1zM200.3 173.2h1v1h-1zM153.4 161.4h1v1h-1zM174.4 166.6h1v1h-1zM199.6 187.6h1v1h-1zM221.2 179.2h1v1h-1zM126.1 182.9h1v1h-1zM189.6 170.9h1v1h-1zM187.8 170.3h1v1h-1zM136.1 175.4h1v1h-1zM169.5 197.6h1v1h-1zM136.5 203.9h1v1h-1zM157.7 164.2h1v1h-1zM125.7 181.8h1v1h-1zM122.6 203.6h1v1h-1zM124.8 183.4h1v1h-1zM182 192.6h1v1h-1zM192.7 171h1v1h-1zM193.3 189.3h1v1h-1zM162.1 197.9h1v1h-1zM204 174.5h1v1h-1zM207 185.4h1v1h-1zM183.8 192.9h1v1h-1zM115.8 191.4h1v1h-1zM176.5 167.3h1v1h-1zM218.5 181.5h1v1h-1zM146.5 201.3h1v1h-1zM167.7 166.2h1v1h-1zM135 175.6h1v1h-1zM123 185.1h1v1h-1zM214.2 184.6h1v1h-1zM121.3 202.8h1v1h-1zM186.1 170.8h1v1h-1zM159.3 162h1v1h-1zM119.9 187.8h1v1h-1zM114.4 194.3h1v1h-1zM146.8 202h1v1h-1zM163.3 164.2h1v1h-1zM156.4 163.9h1v1h-1zM129.8 204.4h1v1h-1zM122 203.3h1v1h-1zM158.3 198.9h1v1h-1zM161.3 163.3h1v1h-1zM153.2 200.7h1v1h-1zM147.2 164.4h1v1h-1zM115.9 201.4h1v1h-1zM139.2 203.1h1v1h-1zM133.6 175.7h1v1h-1zM128.5 180.1h1v1h-1zM217.1 181.7h1v1h-1zM216.2 176.8h1v1h-1zM190.1 170.6h1v1h-1zM218.7 178.5h1v1h-1zM159.1 164.5h1v1h-1zM115.5 193.4h1v1h-1zM133.3 177.1h1v1h-1zM142 168.5h1v1h-1zM155.1 200.6h1v1h-1zM209.7 175.3h1v1h-1zM113.1 195.8h1v1h-1zM195.3 189.4h1v1h-1zM189.3 170.6h1v1h-1zM200.6 172.9h1v1h-1zM173.8 195.9h1v1h-1zM182 168.5h1v1h-1zM177.7 167.8h1v1h-1zM175.6 166.6h1v1h-1zM115.4 193.5h1v1h-1zM141.8 203.3h1v1h-1zM112.3 196.1h1v1h-1zM198.1 173.2h1v1h-1zM115.3 193.6h1v1h-1zM160.9 164.4h1v1h-1zM141.9 168.9h1v1h-1zM125 182.9h1v1h-1zM123.7 204.1h1v1h-1zM163.2 165.1h1v1h-1zM189.5 171.3h1v1h-1zM174.8 167.7h1v1h-1zM130.1 179h1v1h-1zM128.3 179.5h1v1h-1zM135.1 175.1h1v1h-1zM168 165.8h1v1h-1zM140 202.8h1v1h-1zM190.3 192.7h1v1h-1zM136.1 173.7h1v1h-1zM133.1 177.4h1v1h-1zM124.9 182.2h1v1h-1zM149 162h1v1h-1zM174.5 195h1v1h-1zM146.6 201.7h1v1h-1zM144.1 164.9h1v1h-1zM161.5 198h1v1h-1zM181.2 192.8h1v1h-1zM140.3 170.6h1v1h-1zM120.8 202.5h1v1h-1zM134.4 176.9h1v1h-1zM156 162.5h1v1h-1zM153.9 163.3h1v1h-1zM135.2 176.4h1v1h-1zM123.3 203.6h1v1h-1zM163.2 197.4h1v1h-1zM113.6 197.3h1v1h-1zM214.4 176h1v1h-1zM200.6 187.2h1v1h-1zM114.7 198.8h1v1h-1zM128.6 179.3h1v1h-1zM201.7 187.2h1v1h-1zM133.7 176.2h1v1h-1zM117.4 201.9h1v1h-1zM144.9 202.2h1v1h-1zM211.8 185.4h1v1h-1zM139 203.7h1v1h-1zM116 202.6h1v1h-1zM160.4 198.4h1v1h-1zM132.3 202.8h1v1h-1zM152.3 162.8h1v1h-1zM193.9 190.5h1v1h-1zM220.2 177.8h1v1h-1zM223.3 180.3h1v1h-1zM138.4 171.9h1v1h-1zM150.3 161.6h1v1h-1zM116.2 192.1h1v1h-1zM210.3 176.2h1v1h-1zM151.7 200.6h1v1h-1zM190.5 171.1h1v1h-1zM186.7 191.9h1v1h-1zM150.4 200.6h1v1h-1zM156 162.9h1v1h-1zM177.9 168.8h1v1h-1zM142.8 201.9h1v1h-1zM172.5 195.7h1v1h-1zM208.9 175.6h1v1h-1zM178.5 166.4h1v1h-1zM144.8 202.3h1v1h-1zM129.6 179h1v1h-1zM213.6 183.7h1v1h-1zM113.8 196.7h1v1h-1zM212.9 176h1v1h-1zM118.9 203.1h1v1h-1zM171.4 165.3h1v1h-1zM194.1 189.8h1v1h-1zM114.5 194h1v1h-1zM175.9 195.4h1v1h-1zM165.8 165.2h1v1h-1zM125.3 182.1h1v1h-1zM129.4 180.2h1v1h-1zM115.7 191.9h1v1h-1zM179.9 169.2h1v1h-1zM220.3 182.3h1v1h-1zM195.2 171.9h1v1h-1zM164.2 164.7h1v1h-1zM198.1 190.2h1v1h-1zM129.5 203.4h1v1h-1zM159.3 163.5h1v1h-1zM199.7 187.5h1v1h-1zM200.2 187.8h1v1h-1zM128.3 181.2h1v1h-1zM161.5 162.7h1v1h-1zM173 194.9h1v1h-1zM149.9 201h1v1h-1zM115.5 193.1h1v1h-1zM118.5 189.3h1v1h-1zM167.9 163.5h1v1h-1zM187.9 171.2h1v1h-1zM146.9 164.2h1v1h-1zM211.4 174.9h1v1h-1zM200.5 173.9h1v1h-1zM159.5 163.8h1v1h-1zM159.3 199.2h1v1h-1zM201.4 174.2h1v1h-1zM151.9 161.8h1v1h-1zM115.4 190.8h1v1h-1zM182.1 192.6h1v1h-1zM220.7 179.8h1v1h-1zM147.8 163.8h1v1h-1zM153 200h1v1h-1zM114 200.3h1v1h-1zM197.2 189.2h1v1h-1zM198.8 173.2h1v1h-1zM174.7 194.7h1v1h-1zM174.2 195.7h1v1h-1zM175.9 168.1h1v1h-1zM200.7 173.6h1v1h-1zM115 194.4h1v1h-1zM168.2 196.2h1v1h-1zM179.2 168.9h1v1h-1zM177.5 195.4h1v1h-1zM200.4 173.8h1v1h-1zM116.3 201.8h1v1h-1zM116.4 190.4h1v1h-1zM148.7 162.8h1v1h-1zM115.2 191.3h1v1h-1zM193.9 172.6h1v1h-1zM192.9 171.7h1v1h-1zM185.2 191.7h1v1h-1zM168.3 166.1h1v1h-1zM187.9 191.4h1v1h-1zM170.6 166.6h1v1h-1zM123.2 183h1v1h-1zM197.7 188.2h1v1h-1zM127.8 204h1v1h-1zM206.7 187.1h1v1h-1zM180 167.8h1v1h-1zM144.5 165.7h1v1h-1zM193.6 189.6h1v1h-1zM113.1 198.8h1v1h-1zM121.2 202.8h1v1h-1zM179.5 194.7h1v1h-1zM208.3 185.6h1v1h-1zM175 194.9h1v1h-1zM148.6 202.1h1v1h-1zM177.7 168.5h1v1h-1zM113.5 200.2h1v1h-1zM127.3 203.1h1v1h-1zM128.9 178.7h1v1h-1zM180.2 168.7h1v1h-1zM118.2 189.5h1v1h-1zM131.8 178.6h1v1h-1zM204.7 186.3h1v1h-1zM181.7 169.4h1v1h-1zM114.5 198h1v1h-1zM211.2 176h1v1h-1zM213.3 176.9h1v1h-1zM207.6 185.5h1v1h-1zM129 203.2h1v1h-1zM158.3 198.8h1v1h-1zM142.6 167.5h1v1h-1zM127 204.9h1v1h-1zM176.7 167.9h1v1h-1zM195.4 172.1h1v1h-1zM191.8 171.4h1v1h-1zM136.3 174.6h1v1h-1zM172.4 167h1v1h-1zM114.3 198.3h1v1h-1zM213.8 183.2h1v1h-1zM134.2 203.2h1v1h-1zM185.5 192.7h1v1h-1zM169.9 166.5h1v1h-1zM119.6 187.3h1v1h-1zM140.2 202.9h1v1h-1zM219.8 183.1h1v1h-1zM117.2 191.6h1v1h-1zM173.4 166.2h1v1h-1zM219.1 181.4h1v1h-1zM201.7 188.3h1v1h-1zM202.8 174.1h1v1h-1zM127.6 181h1v1h-1zM168.8 166.2h1v1h-1zM185.5 170.4h1v1h-1zM196.9 171.6h1v1h-1zM116.3 191.6h1v1h-1zM122.7 184.2h1v1h-1zM192.3 171.7h1v1h-1zM196.9 172.9h1v1h-1zM185.6 170.5h1v1h-1zM192.3 169.9h1v1h-1zM213.6 183.5h1v1h-1zM164.3 164.7h1v1h-1zM166 165.2h1v1h-1zM171.3 164.9h1v1h-1zM146.9 201.6h1v1h-1zM120.4 186h1v1h-1zM153 162.2h1v1h-1zM212.1 176.4h1v1h-1zM115.9 202.7h1v1h-1zM115.9 192.6h1v1h-1zM182.1 167.6h1v1h-1zM194.8 172.7h1v1h-1zM180.6 193.4h1v1h-1zM201.5 173.2h1v1h-1zM139.8 170.5h1v1h-1zM181.6 193h1v1h-1zM160.4 198.5h1v1h-1zM132.9 177.5h1v1h-1zM151 161.3h1v1h-1zM220.3 179.2h1v1h-1zM133.9 176.1h1v1h-1zM144.5 203.5h1v1h-1zM193.5 172.3h1v1h-1zM156.3 200h1v1h-1zM137.4 173.8h1v1h-1zM197.9 172.5h1v1h-1zM133.5 203.4h1v1h-1zM204 174.4h1v1h-1zM160.6 164.7h1v1h-1zM194.7 172.4h1v1h-1zM157.7 164.1h1v1h-1zM198.1 173h1v1h-1zM147.9 201.5h1v1h-1zM210.2 183.9h1v1h-1zM131.9 203.2h1v1h-1zM115.4 193.2h1v1h-1zM204.8 174.9h1v1h-1zM173.9 195.9h1v1h-1zM117.1 201.8h1v1h-1zM159.5 163.8h1v1h-1zM132.5 205h1v1h-1zM174 166.6h1v1h-1zM195.8 172.8h1v1h-1zM197.9 172.3h1v1h-1zM206.3 174.9h1v1h-1zM193.5 170.7h1v1h-1zM120.8 186h1v1h-1zM194.9 190.8h1v1h-1zM114.9 198.8h1v1h-1zM217 182.9h1v1h-1zM132.5 203h1v1h-1zM131.4 203.8h1v1h-1zM195.1 189.9h1v1h-1zM176.9 196h1v1h-1zM126 203.3h1v1h-1zM131 204.4h1v1h-1zM126.2 203h1v1h-1zM155.6 200.6h1v1h-1zM117 191.3h1v1h-1zM170.1 165.9h1v1h-1zM137.6 173.3h1v1h-1zM216.8 177.4h1v1h-1zM203.5 186.9h1v1h-1zM114.3 199.9h1v1h-1zM149.2 200.7h1v1h-1zM119.7 187.5h1v1h-1zM194 189.9h1v1h-1zM202.7 173.1h1v1h-1zM154 161.6h1v1h-1zM147.7 164h1v1h-1zM148.7 201.1h1v1h-1zM147.8 160.4h1v1h-1zM154.8 162.7h1v1h-1zM129.4 179.6h1v1h-1zM178 168h1v1h-1zM142.3 203.6h1v1h-1zM218.9 182.1h1v1h-1zM139.3 203.3h1v1h-1zM170.3 195.7h1v1h-1zM116 202.5h1v1h-1zM153.6 161.8h1v1h-1zM117.3 190.4h1v1h-1zM113.3 197.8h1v1h-1zM118.1 188.1h1v1h-1zM140.9 166.6h1v1h-1zM172.8 195.2h1v1h-1zM130.3 178.2h1v1h-1zM134.1 204.3h1v1h-1zM134.9 203.3h1v1h-1zM170.3 166.2h1v1h-1zM201.5 186.9h1v1h-1zM128.6 180.4h1v1h-1zM155.7 199.7h1v1h-1zM113.7 195.6h1v1h-1zM127.6 203.4h1v1h-1zM129.5 204h1v1h-1zM116.8 192h1v1h-1zM184.5 192.2h1v1h-1zM160.3 198.1h1v1h-1zM183 192.4h1v1h-1zM212.7 174.8h1v1h-1zM121.3 186.3h1v1h-1zM194 189.3h1v1h-1zM201.3 187.4h1v1h-1zM169.7 195.7h1v1h-1zM123.8 205h1v1h-1zM119.2 203.4h1v1h-1zM141.7 169.2h1v1h-1zM129.2 178.5h1v1h-1zM126.4 180.4h1v1h-1zM214.6 184.6h1v1h-1zM209.2 184.8h1v1h-1zM154.1 199.7h1v1h-1zM121.3 202.5h1v1h-1zM204 174.2h1v1h-1zM176.4 167.6h1v1h-1zM214.5 182.9h1v1h-1zM186.1 169.5h1v1h-1zM123.2 182.9h1v1h-1zM194 172.6h1v1h-1zM174.5 196h1v1h-1zM200.8 187.7h1v1h-1zM194.8 171.4h1v1h-1zM124.4 183.6h1v1h-1zM126.8 203.9h1v1h-1zM166.3 164.2h1v1h-1zM132.3 175.7h1v1h-1zM132.8 177.3h1v1h-1zM157.9 199.7h1v1h-1zM183.7 169h1v1h-1zM189.4 192.8h1v1h-1zM174.8 194.6h1v1h-1zM184.5 192.4h1v1h-1zM220.4 176.5h1v1h-1zM113.5 194.8h1v1h-1zM206.8 175.3h1v1h-1zM177 195h1v1h-1zM170.9 165.5h1v1h-1zM178.4 168.5h1v1h-1zM210.4 175.9h1v1h-1zM119.2 204.2h1v1h-1zM113.4 199.5h1v1h-1zM163.3 198h1v1h-1zM213.7 177.1h1v1h-1zM176.2 167.9h1v1h-1zM139.8 202.9h1v1h-1zM134.1 203.1h1v1h-1zM203.5 174.6h1v1h-1zM215.6 183.7h1v1h-1zM218.8 177.4h1v1h-1zM203.9 187.2h1v1h-1zM132.9 204.2h1v1h-1zM135.5 202.7h1v1h-1zM135.7 175.6h1v1h-1zM139.8 203.7h1v1h-1zM178.8 195h1v1h-1zM209.3 184.6h1v1h-1zM126.5 182.5h1v1h-1zM221.2 180h1v1h-1zM180.3 168.2h1v1h-1zM151.8 162.1h1v1h-1zM146.1 165.1h1v1h-1zM188.7 171.3h1v1h-1zM160.4 198.1h1v1h-1zM216.7 177.6h1v1h-1zM159.1 201h1v1h-1zM174 194.7h1v1h-1zM168.8 197.1h1v1h-1zM152.2 163h1v1h-1zM201.5 173.6h1v1h-1zM173.6 166.2h1v1h-1zM127.9 180.4h1v1h-1zM132.3 175.9h1v1h-1zM125.5 204.9h1v1h-1zM209.3 186.4h1v1h-1zM138.6 204h1v1h-1zM178.4 194.3h1v1h-1zM133.8 177.1h1v1h-1zM216.1 177.2h1v1h-1zM186.6 191.6h1v1h-1zM168.4 196.3h1v1h-1zM211.3 185.2h1v1h-1zM164.6 198.7h1v1h-1zM167.9 196.5h1v1h-1zM118.3 190.2h1v1h-1zM147.5 163.6h1v1h-1zM155.8 200h1v1h-1zM183.2 192.2h1v1h-1zM209.3 175.1h1v1h-1zM200.9 188.3h1v1h-1zM164.8 164.8h1v1h-1zM195.3 172.8h1v1h-1zM186.4 192.8h1v1h-1zM122.7 184h1v1h-1zM114.3 199.9h1v1h-1zM158.7 198.8h1v1h-1z" fill="#ff0404"/><path d="M133.1 180h0.8v0.8h-0.8zM118.2 200.4h0.8v0.8h-0.8zM172.8 170.2h0.8v0.8h-0.8zM145 169.1h0.8v0.8h-0.8zM172.8 192.7h0.8v0.8h-0.8zM175.3 192.8h0.8v0.8h-0.8zM156.2 165h0.8v0.8h-0.8zM179.7 170.3h0.8v0.8h-0.8zM115.9 194.6h0.8v0.8h-0.8zM139.7 199.9h0.8v0.8h-0.8zM177.6 192.4h0.8v0.8h-0.8zM138.1 178.6h0.8v0.8h-0.8zM163.8 166.5h0.8v0.8h-0.8zM195.4 173.9h0.8v0.8h-0.8zM173.7 192.9h0.8v0.8h-0.8zM205.6 176.9h0.8v0.8h-0.8zM127.1 202.3h0.8v0.8h-0.8zM194.4 186.6h0.8v0.8h-0.8zM206.2 184.4h0.8v0.8h-0.8zM177.4 192.3h0.8v0.8h-0.8zM140.9 174.8h0.8v0.8h-0.8zM202.7 175.6h0.8v0.8h-0.8zM170.9 167.8h0.8v0.8h-0.8zM183.2 191h0.8v0.8h-0.8zM194.3 174.5h0.8v0.8h-0.8zM196.4 174.8h0.8v0.8h-0.8zM187.3 190.4h0.8v0.8h-0.8zM149.8 165.4h0.8v0.8h-0.8zM194.4 173.6h0.8v0.8h-0.8zM117 196.9h0.8v0.8h-0.8zM146.1 167.7h0.8v0.8h-0.8zM126.8 201h0.8v0.8h-0.8zM185.7 190.2h0.8v0.8h-0.8zM205.4 183.4h0.8v0.8h-0.8zM181.8 172.3h0.8v0.8h-0.8zM140.7 172.6h0.8v0.8h-0.8zM217.8 179.1h0.8v0.8h-0.8zM178.9 190.8h0.8v0.8h-0.8zM192.6 187.5h0.8v0.8h-0.8zM156.2 198.7h0.8v0.8h-0.8zM194.8 186.1h0.8v0.8h-0.8zM126.1 187.4h0.8v0.8h-0.8zM171.7 193.9h0.8v0.8h-0.8zM118.7 195.5h0.8v0.8h-0.8zM145.3 168.2h0.8v0.8h-0.8zM168.4 195.5h0.8v0.8h-0.8zM175.4 169.9h0.8v0.8h-0.8zM122.3 202h0.8v0.8h-0.8zM161.6 197.1h0.8v0.8h-0.8zM209 177.2h0.8v0.8h-0.8zM137 200.5h0.8v0.8h-0.8zM196.4 174.6h0.8v0.8h-0.8zM169.3 192.9h0.8v0.8h-0.8zM177.3 171.2h0.8v0.8h-0.8zM182.4 171.7h0.8v0.8h-0.8zM128.5 201.3h0.8v0.8h-0.8zM174.1 193.1h0.8v0.8h-0.8zM183.7 190.4h0.8v0.8h-0.8zM171.4 194.2h0.8v0.8h-0.8zM186 172.1h0.8v0.8h-0.8zM215.1 181.2h0.8v0.8h-0.8zM135.6 177.7h0.8v0.8h-0.8zM116.7 195.5h0.8v0.8h-0.8zM161.3 196.8h0.8v0.8h-0.8zM146.7 169.6h0.8v0.8h-0.8zM199 174.4h0.8v0.8h-0.8zM163.6 196.5h0.8v0.8h-0.8zM172.4 192.4h0.8v0.8h-0.8zM157.8 165.4h0.8v0.8h-0.8zM191.9 188.8h0.8v0.8h-0.8zM210.1 182.8h0.8v0.8h-0.8zM125 184.9h0.8v0.8h-0.8zM121.2 188.3h0.8v0.8h-0.8zM162.8 197h0.8v0.8h-0.8zM116.6 198.8h0.8v0.8h-0.8zM165 166.5h0.8v0.8h-0.8zM186.9 172.6h0.8v0.8h-0.8zM171.2 193.5h0.8v0.8h-0.8zM140.8 200.6h0.8v0.8h-0.8zM180 170.8h0.8v0.8h-0.8zM170.3 195h0.8v0.8h-0.8zM166.1 166.7h0.8v0.8h-0.8zM161.9 197h0.8v0.8h-0.8zM177 169.9h0.8v0.8h-0.8zM195.6 173.8h0.8v0.8h-0.8zM190.1 173.5h0.8v0.8h-0.8zM135.5 201.6h0.8v0.8h-0.8zM156.8 197.6h0.8v0.8h-0.8zM117.1 194.5h0.8v0.8h-0.8zM115.1 197.4h0.8v0.8h-0.8zM168.6 167.5h0.8v0.8h-0.8zM116.6 198.8h0.8v0.8h-0.8zM200.3 175h0.8v0.8h-0.8zM202.9 182.6h0.8v0.8h-0.8zM138.8 200.8h0.8v0.8h-0.8zM176.9 192h0.8v0.8h-0.8zM178.1 191.8h0.8v0.8h-0.8zM121.1 190.7h0.8v0.8h-0.8zM144.8 200.9h0.8v0.8h-0.8zM118.1 191.9h0.8v0.8h-0.8z" fill="#fff"/><path d="M91.7 200.1h1v1h-1zM110.6 204.8h1v1h-1zM113.4 199.3h1v1h-1zM98.5 199.8h1v1h-1zM101.7 201.6h1v1h-1zM97 202.1h1v1h-1zM109.9 189.2h1v1h-1zM107.1 199.4h1v1h-1zM93.7 199.1h1v1h-1zM109 203.5h1v1h-1zM111.8 188.5h1v1h-1zM108.4 198.8h1v1h-1zM95.5 202h1v1h-1zM116.3 188.1h1v1h-1zM113.6 188.5h1v1h-1zM104.6 199.8h1v1h-1zM106.5 195.3h1v1h-1zM104.8 194.9h1v1h-1zM112.3 197.6h1v1h-1zM100 197.5h1v1h-1zM109.7 195.5h1v1h-1zM97.8 204.7h1v1h-1zM118.2 191.5h1v1h-1zM96.6 198.2h1v1h-1zM114.4 193.6h1v1h-1zM107.4 198h1v1h-1zM105.6 202.9h1v1h-1zM100.7 193.9h1v1h-1zM114.8 192.5h1v1h-1zM96.6 204.7h1v1h-1zM104.2 193h1v1h-1zM94.9 199.9h1v1h-1zM103.5 197h1v1h-1zM101.2 201.8h1v1h-1zM113.1 189.2h1v1h-1zM111.1 190.7h1v1h-1zM110.4 199.2h1v1h-1zM100.2 204.7h1v1h-1zM110.7 197.3h1v1h-1zM97.2 195.6h1v1h-1zM91.3 203.4h1v1h-1zM102.8 205.6h1v1h-1zM120.2 187.6h1v1h-1zM115.5 192.3h1v1h-1zM103.6 201.7h1v1h-1zM105.1 196.7h1v1h-1zM98.3 205.4h1v1h-1zM96.6 199.7h1v1h-1zM101.8 195.1h1v1h-1zM100 204.7h1v1h-1zM106.1 202.8h1v1h-1zM103.3 204h1v1h-1zM108 201.9h1v1h-1zM102.6 199.7h1v1h-1zM101.4 196.5h1v1h-1zM117.7 191.2h1v1h-1zM91.1 203.4h1v1h-1zM111.4 199.8h1v1h-1zM110.5 201.6h1v1h-1zM113.8 198.6h1v1h-1zM112.4 189.9h1v1h-1zM100.9 199.9h1v1h-1zM101.3 198.2h1v1h-1zM104.4 201.2h1v1h-1zM100.1 196.1h1v1h-1zM116.7 192.4h1v1h-1zM94.1 198.8h1v1h-1zM92.6 203.2h1v1h-1zM97.5 204.1h1v1h-1zM106 199.7h1v1h-1zM104.8 198.8h1v1h-1zM100.8 205.2h1v1h-1zM94 202h1v1h-1zM108.4 204.1h1v1h-1zM98.7 194.2h1v1h-1zM104.5 198.2h1v1h-1zM100.1 193.2h1v1h-1zM100.2 202.4h1v1h-1zM119.1 189.7h1v1h-1zM94.9 201.9h1v1h-1zM92 203h1v1h-1zM114.8 194.9h1v1h-1zM114.7 201.4h1v1h-1zM90.7 202.5h1v1h-1zM116.4 191.1h1v1h-1zM108.5 190.3h1v1h-1zM106.6 201.1h1v1h-1zM101 196.8h1v1h-1zM92.5 203.3h1v1h-1zM109.7 202.7h1v1h-1zM90.8 201h1v1h-1zM96 204.1h1v1h-1zM104.3 193.9h1v1h-1zM97.5 195.3h1v1h-1zM105.7 201.7h1v1h-1zM99.9 202.5h1v1h-1zM107.3 205.1h1v1h-1zM106.7 200h1v1h-1zM96.4 198.8h1v1h-1zM110.8 192.4h1v1h-1zM95.6 205.3h1v1h-1zM95.9 202.2h1v1h-1zM105.4 204.9h1v1h-1zM89.7 203.7h1v1h-1zM103.7 200.3h1v1h-1zM110.2 205.6h1v1h-1zM105.5 204.2h1v1h-1zM102.7 192h1v1h-1zM99.2 196.9h1v1h-1zM103.4 204.8h1v1h-1zM101.4 193.9h1v1h-1zM112.4 192h1v1h-1zM105.6 197.6h1v1h-1zM114.5 200.9h1v1h-1zM104.7 205h1v1h-1zM112.7 195.3h1v1h-1zM100.5 203.2h1v1h-1zM104.4 201h1v1h-1zM101.4 193.5h1v1h-1zM98 196h1v1h-1zM113.1 202.7h1v1h-1zM96.1 204.6h1v1h-1zM108.6 203.4h1v1h-1zM98.3 204.6h1v1h-1zM118.1 188.4h1v1h-1zM102.1 203.6h1v1h-1zM99.6 197.5h1v1h-1zM113.2 202.7h1v1h-1zM114.6 192.6h1v1h-1zM96.6 205.3h1v1h-1zM102.4 203.6h1v1h-1zM111.4 201.8h1v1h-1zM105.7 201.7h1v1h-1zM105.3 191.7h1v1h-1zM111.3 192.9h1v1h-1zM94.2 201.9h1v1h-1zM106.2 192.5h1v1h-1zM102.7 197.1h1v1h-1zM90.6 201.2h1v1h-1zM108.9 193.8h1v1h-1zM101.1 203.1h1v1h-1zM98.4 203.5h1v1h-1zM112.8 198.7h1v1h-1zM108.6 198.8h1v1h-1zM107.3 205.2h1v1h-1zM96.5 204.6h1v1h-1zM91.8 203.8h1v1h-1zM101.1 192.9h1v1h-1zM120.9 188h1v1h-1zM110.3 190.8h1v1h-1zM118.1 190.6h1v1h-1zM103.8 201.1h1v1h-1zM98.2 197.1h1v1h-1zM96.9 195.8h1v1h-1zM110.4 204.4h1v1h-1zM111.6 189.4h1v1h-1zM97.3 198.5h1v1h-1zM118 190.3h1v1h-1zM111.7 196.8h1v1h-1zM116.4 188.3h1v1h-1zM106.9 195.7h1v1h-1zM115.7 193.4h1v1h-1zM112.7 195.6h1v1h-1zM113.7 194.2h1v1h-1zM115.6 189.8h1v1h-1zM113.2 190.4h1v1h-1zM102.1 193.8h1v1h-1zM111 197.7h1v1h-1zM97.5 204.7h1v1h-1zM95.6 204.9h1v1h-1zM108 202.8h1v1h-1zM117.4 188.7h1v1h-1zM120 189.1h1v1h-1zM112.2 197.6h1v1h-1zM111.9 190.5h1v1h-1zM104.4 192.7h1v1h-1zM112.2 195.1h1v1h-1zM95.8 200.8h1v1h-1zM100.8 196h1v1h-1zM103 192.1h1v1h-1zM106.4 205.4h1v1h-1zM101.7 197.4h1v1h-1zM104.7 204.9h1v1h-1zM102.4 196.8h1v1h-1zM111 188.8h1v1h-1zM112.5 192.1h1v1h-1zM116.2 187.8h1v1h-1zM109 203.1h1v1h-1zM101.7 201.7h1v1h-1zM113.7 194.8h1v1h-1zM116.1 191.9h1v1h-1zM113.2 189.6h1v1h-1zM109.3 200.3h1v1h-1zM108.7 194.9h1v1h-1zM93.2 201.7h1v1h-1zM96.1 197.4h1v1h-1zM90.6 203.7h1v1h-1zM112.5 188.4h1v1h-1zM97.6 195.5h1v1h-1zM99 204.3h1v1h-1zM116.6 193.1h1v1h-1zM122.2 186.8h1v1h-1zM105.4 201.6h1v1h-1zM97.1 195.2h1v1h-1zM99.1 198.6h1v1h-1zM95.4 199.8h1v1h-1zM116.4 187.7h1v1h-1zM120.5 188.5h1v1h-1zM104.3 197.9h1v1h-1zM118.9 190.8h1v1h-1zM110.9 195h1v1h-1zM103.1 196.9h1v1h-1zM96.8 199h1v1h-1zM108.8 202.3h1v1h-1zM116.2 188.2h1v1h-1zM116.4 192.6h1v1h-1zM106.9 196.4h1v1h-1zM101.3 197.8h1v1h-1zM106.7 202h1v1h-1zM99.9 195.3h1v1h-1z" fill="#ff0404"/><path d="M133.1 175.8h1v1h-1zM129.3 181.3h1v1h-1zM135.1 174.1h1v1h-1zM133.9 177.5h1v1h-1zM139.5 172.9h1v1h-1zM120 186.3h1v1h-1zM129.1 180.9h1v1h-1zM120 186.4h1v1h-1zM133.1 178.8h1v1h-1zM136.3 175.5h1v1h-1zM136.9 174.2h1v1h-1zM138.4 172.8h1v1h-1zM129.5 178.8h1v1h-1zM132.4 176h1v1h-1zM141.9 169.6h1v1h-1zM137.9 174.4h1v1h-1zM137.1 172.2h1v1h-1zM134.4 176.3h1v1h-1zM120.5 186.1h1v1h-1zM139.7 170.7h1v1h-1zM136.3 173.3h1v1h-1zM123.5 183.6h1v1h-1zM130 177.5h1v1h-1zM124.4 184.3h1v1h-1zM134.7 175.7h1v1h-1zM142.7 167.2h1v1h-1zM138.3 171.2h1v1h-1zM133.7 176.5h1v1h-1zM129.7 178.6h1v1h-1zM136.7 172.5h1v1h-1zM133.6 176.4h1v1h-1zM132.9 175.3h1v1h-1zM133.1 176.7h1v1h-1zM120.4 186h1v1h-1zM130.6 180.4h1v1h-1zM140.7 170.5h1v1h-1zM126.8 181.2h1v1h-1zM139.6 171.4h1v1h-1zM134.8 174.4h1v1h-1zM137.8 171.3h1v1h-1zM130 180.7h1v1h-1zM141.8 167.7h1v1h-1zM133.3 174.8h1v1h-1zM130.8 179.7h1v1h-1zM134.2 176.2h1v1h-1zM139.1 173.4h1v1h-1zM133.2 175.1h1v1h-1zM128.3 179.8h1v1h-1zM140.6 170.2h1v1h-1zM125.8 181.1h1v1h-1z" fill="#ff0404"/><path d="M105 167.5 L111 167.5 L111 169.5 L115 169.5 L115 171.5 L117 171.5 L117.1 173.5 L134.3 159.3 L154.3 137.9 L172.3 122.3 L176.9 116.3 L192.1 101 L199.8 94.8 L211 89.2 L227.6 57.2 L229.7 49.9 L228.5 32.6 L225.5 28.9 L221.8 31.6 L219.4 37.6 L205.5 43.7 L195.2 46.7 L191.6 50.8 L179.2 59.9 L175.7 64.5 L166.7 71.2 L155.8 83.6 L149.2 93.2 L146.9 100.1 L131.8 127.5Z" fill="url(#band21)" /><circle cx="225.7" cy="27.7" r="3.7" fill="url(#b40)"/><circle cx="226.3" cy="28.3" r="3.3" fill="url(#b40)"/><circle cx="225.6" cy="31" r="3.6" fill="url(#b39)"/><circle cx="226.7" cy="31.2" r="4" fill="url(#b39)"/><circle cx="225.6" cy="31.3" r="2.7" fill="url(#b39)"/><circle cx="222.6" cy="31.7" r="3.4" fill="url(#b39)"/><circle cx="227.8" cy="32.4" r="2.9" fill="url(#b39)"/><circle cx="221.7" cy="32.6" r="3.6" fill="url(#b39)"/><circle cx="228.9" cy="32.7" r="2.8" fill="url(#b39)"/><circle cx="228.3" cy="32.9" r="3.6" fill="url(#b39)"/><circle cx="225.4" cy="33.1" r="3.7" fill="url(#b39)"/><circle cx="220.8" cy="33.3" r="3.7" fill="url(#b39)"/><circle cx="228.4" cy="33.9" r="3.6" fill="url(#b39)"/><circle cx="225.6" cy="34.1" r="3" fill="url(#b39)"/><circle cx="228.8" cy="35.1" r="3.9" fill="url(#b39)"/><circle cx="219.8" cy="35.2" r="2.6" fill="url(#b38)"/><circle cx="228.4" cy="35.3" r="3" fill="url(#b39)"/><circle cx="220.9" cy="36.6" r="3" fill="url(#b38)"/><circle cx="229.2" cy="36.8" r="3.2" fill="url(#b39)"/><circle cx="227.1" cy="36.9" r="2.7" fill="url(#b39)"/><circle cx="222.1" cy="37.4" r="3.2" fill="url(#b38)"/><circle cx="228.7" cy="37.6" r="3.9" fill="url(#b39)"/><circle cx="226.3" cy="37.8" r="3.3" fill="url(#b39)"/><circle cx="217.9" cy="38" r="3.4" fill="url(#b37)"/><circle cx="217.3" cy="38.2" r="3" fill="url(#b37)"/><circle cx="222" cy="38.5" r="2.8" fill="url(#b38)"/><circle cx="219.9" cy="38.6" r="3.1" fill="url(#b37)"/><circle cx="215.7" cy="38.8" r="3.9" fill="url(#b38)"/><circle cx="218.4" cy="39.1" r="3.8" fill="url(#b37)"/><circle cx="221.4" cy="39.2" r="3.4" fill="url(#b37)"/><circle cx="213.9" cy="39.2" r="2.8" fill="url(#b38)"/><circle cx="215.2" cy="39.3" r="3.5" fill="url(#b38)"/><circle cx="214.4" cy="39.4" r="3.6" fill="url(#b38)"/><circle cx="215.9" cy="40" r="3" fill="url(#b38)"/><circle cx="222.8" cy="40.6" r="2.8" fill="url(#b37)"/><circle cx="220.5" cy="40.8" r="3.3" fill="url(#b37)"/><circle cx="225" cy="40.8" r="3.3" fill="url(#b38)"/><circle cx="218.7" cy="41.2" r="3.6" fill="url(#b37)"/><circle cx="225.7" cy="41.3" r="3.3" fill="url(#b38)"/><circle cx="218.8" cy="41.3" r="3.7" fill="url(#b37)"/><circle cx="212.5" cy="41.6" r="3" fill="url(#b37)"/><circle cx="221.5" cy="41.7" r="3.5" fill="url(#b37)"/><circle cx="225.5" cy="42.1" r="3" fill="url(#b37)"/><circle cx="228.4" cy="42.1" r="2.8" fill="url(#b38)"/><circle cx="230.4" cy="42.5" r="3.1" fill="url(#b37)"/><circle cx="211.4" cy="42.5" r="2.7" fill="url(#b37)"/><circle cx="207.3" cy="42.6" r="2.9" fill="url(#b36)"/><circle cx="222" cy="42.6" r="3.8" fill="url(#b37)"/><circle cx="224.2" cy="42.7" r="2.9" fill="url(#b37)"/><circle cx="221.6" cy="42.8" r="3.6" fill="url(#b37)"/><circle cx="217.8" cy="42.8" r="3.6" fill="url(#b37)"/><circle cx="226.6" cy="42.9" r="3.6" fill="url(#b37)"/><circle cx="203.8" cy="43.7" r="3.5" fill="url(#b36)"/><circle cx="211.1" cy="43.9" r="3.5" fill="url(#b36)"/><circle cx="216" cy="43.9" r="4" fill="url(#b36)"/><circle cx="210.7" cy="43.9" r="3.6" fill="url(#b36)"/><circle cx="204.3" cy="44" r="3.4" fill="url(#b36)"/><circle cx="212.4" cy="44" r="3.4" fill="url(#b36)"/><circle cx="222.2" cy="44.1" r="3.3" fill="url(#b36)"/><circle cx="221.1" cy="44.3" r="3.7" fill="url(#b36)"/><circle cx="207.8" cy="44.3" r="3.5" fill="url(#b36)"/><circle cx="214.2" cy="44.4" r="3.9" fill="url(#b36)"/><circle cx="220.6" cy="44.8" r="3.9" fill="url(#b36)"/><circle cx="229.8" cy="44.9" r="2.7" fill="url(#b36)"/><circle cx="197.2" cy="45" r="2.7" fill="url(#b35)"/><circle cx="222.9" cy="45.1" r="2.6" fill="url(#b36)"/><circle cx="212.6" cy="45.1" r="3.2" fill="url(#b36)"/><circle cx="199.3" cy="45.1" r="2.8" fill="url(#b35)"/><circle cx="211.7" cy="45.3" r="3.4" fill="url(#b36)"/><circle cx="204.4" cy="45.5" r="2.8" fill="url(#b36)"/><circle cx="210.7" cy="45.8" r="3.7" fill="url(#b36)"/><circle cx="220.3" cy="45.9" r="4" fill="url(#b36)"/><circle cx="195.4" cy="45.9" r="3.6" fill="url(#b35)"/><circle cx="219" cy="46" r="3.9" fill="url(#b36)"/><circle cx="218.9" cy="46.1" r="3.4" fill="url(#b36)"/><circle cx="200.8" cy="46.2" r="3" fill="url(#b35)"/><circle cx="208.6" cy="46.3" r="3.2" fill="url(#b36)"/><circle cx="205.4" cy="46.3" r="3" fill="url(#b36)"/><circle cx="204" cy="46.4" r="3.7" fill="url(#b36)"/><circle cx="222.1" cy="46.7" r="2.7" fill="url(#b36)"/><circle cx="199.6" cy="46.7" r="3.1" fill="url(#b35)"/><circle cx="202.7" cy="46.8" r="3.9" fill="url(#b35)"/><circle cx="224.9" cy="46.9" r="3.5" fill="url(#b36)"/><circle cx="199.3" cy="47" r="3.5" fill="url(#b35)"/><circle cx="196.6" cy="47.1" r="2.6" fill="url(#b35)"/><circle cx="228.6" cy="47.1" r="3.3" fill="url(#b36)"/><circle cx="218.1" cy="47.2" r="3.6" fill="url(#b36)"/><circle cx="209.3" cy="47.3" r="3.2" fill="url(#b36)"/><circle cx="216.2" cy="47.5" r="3.6" fill="url(#b36)"/><circle cx="207.3" cy="47.5" r="3.5" fill="url(#b36)"/><circle cx="206.8" cy="47.6" r="3.2" fill="url(#b36)"/><circle cx="205.9" cy="47.7" r="3.9" fill="url(#b36)"/><circle cx="229.8" cy="47.9" r="2.9" fill="url(#b36)"/><circle cx="213" cy="48" r="3.8" fill="url(#b36)"/><circle cx="212.8" cy="48.3" r="3.5" fill="url(#b36)"/><circle cx="224.3" cy="48.4" r="2.7" fill="url(#b36)"/><circle cx="210.6" cy="48.5" r="3.9" fill="url(#b36)"/><circle cx="201.2" cy="48.6" r="3.1" fill="url(#b35)"/><circle cx="209.5" cy="48.7" r="3.3" fill="url(#b35)"/><circle cx="211.6" cy="49.2" r="2.8" fill="url(#b36)"/><circle cx="209.8" cy="49.3" r="3.1" fill="url(#b35)"/><circle cx="194.3" cy="49.4" r="3" fill="url(#b35)"/><circle cx="213.1" cy="49.5" r="3.3" fill="url(#b36)"/><circle cx="205.4" cy="49.6" r="3.2" fill="url(#b35)"/><circle cx="207.2" cy="49.8" r="3.4" fill="url(#b35)"/><circle cx="205.7" cy="50.1" r="3.5" fill="url(#b35)"/><circle cx="196.6" cy="50.1" r="2.3" fill="url(#b34)"/><circle cx="214.1" cy="50.2" r="3.5" fill="url(#b35)"/><circle cx="218.4" cy="50.3" r="2.7" fill="url(#b35)"/><circle cx="198.1" cy="50.3" r="2.2" fill="url(#b34)"/><circle cx="227.3" cy="50.4" r="3.5" fill="url(#b36)"/><circle cx="220.5" cy="50.5" r="2.8" fill="url(#b35)"/><circle cx="219.5" cy="50.7" r="2.5" fill="url(#b35)"/><circle cx="219.6" cy="50.8" r="3.1" fill="url(#b35)"/><circle cx="219" cy="50.8" r="2.7" fill="url(#b35)"/><circle cx="216.6" cy="50.8" r="2.7" fill="url(#b35)"/><circle cx="216.7" cy="50.8" r="3.5" fill="url(#b35)"/><circle cx="198.9" cy="50.9" r="2.2" fill="url(#b34)"/><circle cx="197.1" cy="50.9" r="3.3" fill="url(#b34)"/><circle cx="194.7" cy="51" r="2.3" fill="url(#b34)"/><circle cx="204" cy="51" r="3.4" fill="url(#b34)"/><circle cx="210.4" cy="51.2" r="2.7" fill="url(#b35)"/><circle cx="226.3" cy="51.3" r="3.1" fill="url(#b36)"/><circle cx="190.9" cy="51.4" r="2.6" fill="url(#b33)"/><circle cx="205.1" cy="51.4" r="2.8" fill="url(#b34)"/><circle cx="226" cy="51.5" r="3.5" fill="url(#b36)"/><circle cx="210.9" cy="51.5" r="2.9" fill="url(#b35)"/><circle cx="189.5" cy="51.7" r="2.9" fill="url(#b33)"/><circle cx="225" cy="51.8" r="3.4" fill="url(#b35)"/><circle cx="222.2" cy="51.9" r="2.3" fill="url(#b35)"/><circle cx="207.5" cy="52.2" r="2.5" fill="url(#b34)"/><circle cx="209.7" cy="52.3" r="3.1" fill="url(#b34)"/><circle cx="215.7" cy="52.4" r="2.8" fill="url(#b35)"/><circle cx="215.7" cy="52.6" r="2.5" fill="url(#b35)"/><circle cx="191.5" cy="52.8" r="2.7" fill="url(#b33)"/><circle cx="203.5" cy="52.8" r="3.1" fill="url(#b34)"/><circle cx="196" cy="52.9" r="2.2" fill="url(#b34)"/><circle cx="217" cy="52.9" r="3.6" fill="url(#b35)"/><circle cx="204.9" cy="52.9" r="3.2" fill="url(#b34)"/><circle cx="210.5" cy="53" r="3.5" fill="url(#b34)"/><circle cx="215.5" cy="53.1" r="3.1" fill="url(#b35)"/><circle cx="195.4" cy="53.2" r="2.8" fill="url(#b34)"/><circle cx="209.2" cy="53.2" r="2.8" fill="url(#b34)"/><circle cx="218.7" cy="53.3" r="2.8" fill="url(#b35)"/><circle cx="189.1" cy="53.3" r="3.5" fill="url(#b32)"/><circle cx="220.7" cy="53.3" r="2.3" fill="url(#b35)"/><circle cx="226" cy="53.4" r="3.5" fill="url(#b35)"/><circle cx="201.4" cy="53.6" r="3.1" fill="url(#b34)"/><circle cx="213.9" cy="53.7" r="2.3" fill="url(#b34)"/><circle cx="203.7" cy="53.9" r="3.2" fill="url(#b33)"/><circle cx="191.4" cy="53.9" r="2.3" fill="url(#b33)"/><circle cx="186.6" cy="53.9" r="2.9" fill="url(#b32)"/><circle cx="223.7" cy="54" r="2.9" fill="url(#b35)"/><circle cx="224.2" cy="54.1" r="2.3" fill="url(#b35)"/><circle cx="217.2" cy="54.2" r="2.3" fill="url(#b34)"/><circle cx="205.9" cy="54.2" r="3.2" fill="url(#b33)"/><circle cx="210.8" cy="54.3" r="2.8" fill="url(#b34)"/><circle cx="227.5" cy="54.5" r="3.2" fill="url(#b35)"/><circle cx="198.6" cy="54.7" r="3.2" fill="url(#b34)"/><circle cx="222.3" cy="54.7" r="3" fill="url(#b34)"/><circle cx="190.9" cy="54.8" r="3.4" fill="url(#b32)"/><circle cx="228.4" cy="55.2" r="3.9" fill="url(#b35)"/><circle cx="195.6" cy="55.2" r="2.3" fill="url(#b34)"/><circle cx="203.5" cy="55.3" r="2.9" fill="url(#b33)"/><circle cx="224.5" cy="55.3" r="3.5" fill="url(#b35)"/><circle cx="187.7" cy="55.3" r="3.5" fill="url(#b32)"/><circle cx="211" cy="55.4" r="3.4" fill="url(#b34)"/><circle cx="224.8" cy="55.8" r="3" fill="url(#b35)"/><circle cx="198.7" cy="55.8" r="3.2" fill="url(#b33)"/><circle cx="198" cy="56.1" r="2.8" fill="url(#b33)"/><circle cx="200.2" cy="56.2" r="2.4" fill="url(#b33)"/><circle cx="215.9" cy="56.2" r="3" fill="url(#b34)"/><circle cx="189.3" cy="56.3" r="3.4" fill="url(#b32)"/><circle cx="214.8" cy="56.3" r="3.6" fill="url(#b34)"/><circle cx="200.4" cy="56.3" r="2.6" fill="url(#b33)"/><circle cx="195.1" cy="56.4" r="2.6" fill="url(#b33)"/><circle cx="203.5" cy="56.4" r="3.3" fill="url(#b33)"/><circle cx="199.2" cy="56.5" r="2.7" fill="url(#b33)"/><circle cx="213.2" cy="56.5" r="2.4" fill="url(#b34)"/><circle cx="194.2" cy="56.7" r="3.3" fill="url(#b33)"/><circle cx="218" cy="57.2" r="2.6" fill="url(#b34)"/><circle cx="221.2" cy="57.3" r="2.2" fill="url(#b34)"/><circle cx="193.5" cy="57.3" r="2.9" fill="url(#b33)"/><circle cx="185.8" cy="57.5" r="2.3" fill="url(#b32)"/><circle cx="184.4" cy="57.5" r="2.6" fill="url(#b32)"/><circle cx="194.7" cy="57.5" r="3.2" fill="url(#b33)"/><circle cx="196" cy="57.5" r="2.7" fill="url(#b33)"/><circle cx="216.3" cy="57.6" r="3.6" fill="url(#b34)"/><circle cx="196.7" cy="57.6" r="2.6" fill="url(#b33)"/><circle cx="223" cy="57.7" r="2.9" fill="url(#b34)"/><circle cx="201.5" cy="57.7" r="3" fill="url(#b33)"/><circle cx="212.5" cy="57.7" r="2.3" fill="url(#b33)"/><circle cx="214.8" cy="57.8" r="2.8" fill="url(#b34)"/><circle cx="194.5" cy="57.8" r="2.5" fill="url(#b33)"/><circle cx="198" cy="57.9" r="2.2" fill="url(#b33)"/><circle cx="200.2" cy="57.9" r="3.5" fill="url(#b33)"/><circle cx="226.9" cy="58" r="3.5" fill="url(#b35)"/><circle cx="215.1" cy="58.1" r="3.3" fill="url(#b34)"/><circle cx="194.8" cy="58.2" r="2.2" fill="url(#b33)"/><circle cx="194.1" cy="58.2" r="3.3" fill="url(#b33)"/><circle cx="210.5" cy="58.3" r="3.5" fill="url(#b33)"/><circle cx="203.7" cy="58.3" r="3" fill="url(#b32)"/><circle cx="214" cy="58.5" r="2.6" fill="url(#b33)"/><circle cx="198.8" cy="58.5" r="3.2" fill="url(#b33)"/><circle cx="182.6" cy="58.6" r="2.8" fill="url(#b31)"/><circle cx="190.3" cy="58.7" r="2.6" fill="url(#b32)"/><circle cx="189" cy="58.8" r="2.2" fill="url(#b32)"/><circle cx="208.2" cy="58.8" r="3.4" fill="url(#b32)"/><circle cx="188.2" cy="58.8" r="2.2" fill="url(#b32)"/><circle cx="213.6" cy="58.9" r="3" fill="url(#b33)"/><circle cx="185.8" cy="58.9" r="3.6" fill="url(#b32)"/><circle cx="201.7" cy="58.9" r="3" fill="url(#b32)"/><circle cx="227.1" cy="59.2" r="3.2" fill="url(#b34)"/><circle cx="217.3" cy="59.2" r="2.7" fill="url(#b33)"/><circle cx="205.6" cy="59.2" r="3.6" fill="url(#b32)"/><circle cx="209.4" cy="59.2" r="3.2" fill="url(#b33)"/><circle cx="185.9" cy="59.2" r="3.3" fill="url(#b32)"/><circle cx="192.7" cy="59.4" r="2.2" fill="url(#b32)"/><circle cx="193.6" cy="59.5" r="2.8" fill="url(#b32)"/><circle cx="184" cy="59.5" r="3.6" fill="url(#b31)"/><circle cx="221" cy="59.6" r="3.4" fill="url(#b34)"/><circle cx="207.9" cy="59.7" r="3.4" fill="url(#b32)"/><circle cx="218.7" cy="59.8" r="2.9" fill="url(#b33)"/><circle cx="206.4" cy="59.9" r="2.7" fill="url(#b32)"/><circle cx="187.5" cy="60" r="2.5" fill="url(#b32)"/><circle cx="207.2" cy="60" r="3.5" fill="url(#b32)"/><circle cx="181.1" cy="60.1" r="3.5" fill="url(#b30)"/><circle cx="206.9" cy="60.1" r="2.9" fill="url(#b32)"/><circle cx="214.9" cy="60.3" r="3.6" fill="url(#b33)"/><circle cx="205" cy="60.3" r="2.7" fill="url(#b32)"/><circle cx="180.4" cy="60.3" r="2.2" fill="url(#b30)"/><circle cx="199.7" cy="60.3" r="2.4" fill="url(#b32)"/><circle cx="226.4" cy="60.3" r="2.9" fill="url(#b34)"/><circle cx="202" cy="60.5" r="2.5" fill="url(#b32)"/><circle cx="181" cy="60.6" r="2.3" fill="url(#b30)"/><circle cx="210.8" cy="60.7" r="3.2" fill="url(#b33)"/><circle cx="208.1" cy="60.8" r="2.8" fill="url(#b32)"/><circle cx="184.4" cy="60.8" r="3.3" fill="url(#b31)"/><circle cx="206.3" cy="60.9" r="2.7" fill="url(#b32)"/><circle cx="189.6" cy="60.9" r="3.1" fill="url(#b32)"/><circle cx="218.7" cy="60.9" r="2.6" fill="url(#b33)"/><circle cx="210.8" cy="61" r="2.5" fill="url(#b33)"/><circle cx="192.8" cy="61" r="2.6" fill="url(#b32)"/><circle cx="182" cy="61.2" r="3" fill="url(#b30)"/><circle cx="225.2" cy="61.3" r="2.2" fill="url(#b34)"/><circle cx="196.3" cy="61.4" r="3.5" fill="url(#b32)"/><circle cx="185.3" cy="61.6" r="2.3" fill="url(#b31)"/><circle cx="213.2" cy="61.7" r="3.5" fill="url(#b33)"/><circle cx="187.7" cy="61.8" r="3" fill="url(#b31)"/><circle cx="180" cy="62" r="3.3" fill="url(#b29)"/><circle cx="207.3" cy="62" r="2.2" fill="url(#b32)"/><circle cx="209.2" cy="62" r="3.1" fill="url(#b32)"/><circle cx="218.8" cy="62.2" r="2.8" fill="url(#b32)"/><circle cx="180.7" cy="62.2" r="3.3" fill="url(#b30)"/><circle cx="197.2" cy="62.3" r="2.5" fill="url(#b32)"/><circle cx="197.2" cy="62.4" r="3.1" fill="url(#b32)"/><circle cx="211.7" cy="62.5" r="2.7" fill="url(#b32)"/><circle cx="199.4" cy="62.5" r="3" fill="url(#b32)"/><circle cx="219.1" cy="62.6" r="3.5" fill="url(#b32)"/><circle cx="207.3" cy="62.6" r="3.5" fill="url(#b32)"/><circle cx="176.7" cy="62.6" r="3.1" fill="url(#b28)"/><circle cx="191.8" cy="62.7" r="3.1" fill="url(#b32)"/><circle cx="194.9" cy="62.8" r="3.2" fill="url(#b32)"/><circle cx="188.9" cy="62.8" r="2.6" fill="url(#b31)"/><circle cx="221.3" cy="62.9" r="2.9" fill="url(#b32)"/><circle cx="210" cy="63.2" r="2.3" fill="url(#b32)"/><circle cx="178.5" cy="63.2" r="2.9" fill="url(#b29)"/><circle cx="214.1" cy="63.2" r="3.3" fill="url(#b32)"/><circle cx="176.1" cy="63.3" r="3.2" fill="url(#b28)"/><circle cx="214.8" cy="63.3" r="3" fill="url(#b32)"/><circle cx="220.8" cy="63.3" r="3.5" fill="url(#b32)"/><circle cx="200.6" cy="63.4" r="2.4" fill="url(#b32)"/><circle cx="177.8" cy="63.4" r="2.6" fill="url(#b28)"/><circle cx="202.5" cy="63.5" r="2.9" fill="url(#b32)"/><circle cx="190.1" cy="63.5" r="3.5" fill="url(#b31)"/><circle cx="184.2" cy="63.6" r="3.5" fill="url(#b30)"/><circle cx="181.3" cy="63.6" r="2.7" fill="url(#b29)"/><circle cx="218.4" cy="63.8" r="3.4" fill="url(#b32)"/><circle cx="198.6" cy="63.8" r="2.3" fill="url(#b32)"/><circle cx="182.7" cy="63.9" r="3.1" fill="url(#b30)"/><circle cx="199.9" cy="64.1" r="3" fill="url(#b32)"/><circle cx="189.2" cy="64.2" r="2.5" fill="url(#b31)"/><circle cx="199.4" cy="64.3" r="2.8" fill="url(#b32)"/><circle cx="184" cy="64.6" r="3.1" fill="url(#b30)"/><circle cx="196.6" cy="64.7" r="2.8" fill="url(#b31)"/><circle cx="184.3" cy="64.9" r="3.1" fill="url(#b30)"/><circle cx="202.7" cy="65" r="2.5" fill="url(#b32)"/><circle cx="182.6" cy="65.1" r="3.5" fill="url(#b29)"/><circle cx="220.6" cy="65.3" r="2.4" fill="url(#b32)"/><circle cx="215.8" cy="65.4" r="3.2" fill="url(#b32)"/><circle cx="213.7" cy="65.5" r="3.6" fill="url(#b32)"/><circle cx="201" cy="65.8" r="2.8" fill="url(#b32)"/><circle cx="213.9" cy="65.8" r="3.1" fill="url(#b32)"/><circle cx="175.1" cy="65.9" r="2.9" fill="url(#b28)"/><circle cx="179.9" cy="66" r="3.5" fill="url(#b28)"/><circle cx="221.1" cy="66" r="2.5" fill="url(#b32)"/><circle cx="211" cy="66.1" r="2.7" fill="url(#b32)"/><circle cx="205.2" cy="66.1" r="3.1" fill="url(#b32)"/><circle cx="174.9" cy="66.2" r="3.4" fill="url(#b28)"/><circle cx="190" cy="66.3" r="2.2" fill="url(#b30)"/><circle cx="202.5" cy="66.3" r="3.3" fill="url(#b32)"/><circle cx="215.4" cy="66.4" r="3" fill="url(#b32)"/><circle cx="174.2" cy="66.5" r="3.4" fill="url(#b28)"/><circle cx="215.6" cy="66.7" r="2.8" fill="url(#b32)"/><circle cx="194" cy="66.9" r="2.6" fill="url(#b31)"/><circle cx="208.1" cy="67" r="2.9" fill="url(#b32)"/><circle cx="202.8" cy="67.2" r="3.6" fill="url(#b32)"/><circle cx="207.9" cy="67.3" r="3.2" fill="url(#b32)"/><circle cx="197.5" cy="67.3" r="3.1" fill="url(#b31)"/><circle cx="203.7" cy="67.4" r="3" fill="url(#b32)"/><circle cx="207.5" cy="67.4" r="2.9" fill="url(#b32)"/><circle cx="199" cy="67.5" r="3.1" fill="url(#b31)"/><circle cx="196" cy="67.5" r="2.7" fill="url(#b31)"/><circle cx="172.8" cy="67.6" r="2.7" fill="url(#b28)"/><circle cx="173" cy="67.7" r="2.5" fill="url(#b28)"/><circle cx="201.4" cy="68" r="2.9" fill="url(#b31)"/><circle cx="208.6" cy="68" r="3.1" fill="url(#b32)"/><circle cx="201.1" cy="68.3" r="2.4" fill="url(#b31)"/><circle cx="187.5" cy="68.4" r="3.6" fill="url(#b30)"/><circle cx="205" cy="68.5" r="3.5" fill="url(#b32)"/><circle cx="209.8" cy="68.7" r="2.4" fill="url(#b32)"/><circle cx="169.8" cy="68.7" r="2.9" fill="url(#b28)"/><circle cx="174.3" cy="69" r="2.7" fill="url(#b28)"/><circle cx="192.7" cy="69.1" r="3.3" fill="url(#b30)"/><circle cx="195.2" cy="69.2" r="3.1" fill="url(#b30)"/><circle cx="167.9" cy="69.3" r="3" fill="url(#b27)"/><circle cx="190" cy="69.3" r="2.8" fill="url(#b30)"/><circle cx="202.5" cy="69.3" r="2.6" fill="url(#b31)"/><circle cx="172.2" cy="69.4" r="3" fill="url(#b28)"/><circle cx="192.3" cy="69.4" r="3" fill="url(#b30)"/><circle cx="175" cy="69.5" r="3.5" fill="url(#b28)"/><circle cx="178.5" cy="69.6" r="3.2" fill="url(#b28)"/><circle cx="210.7" cy="69.6" r="2.9" fill="url(#b32)"/><circle cx="206.2" cy="69.7" r="2.8" fill="url(#b32)"/><circle cx="204.3" cy="69.7" r="2.9" fill="url(#b31)"/><circle cx="208.5" cy="69.8" r="3.4" fill="url(#b32)"/><circle cx="196.4" cy="69.9" r="2.3" fill="url(#b30)"/><circle cx="177.7" cy="69.9" r="2.2" fill="url(#b28)"/><circle cx="204.9" cy="70" r="3" fill="url(#b31)"/><circle cx="171.1" cy="70" r="3.4" fill="url(#b28)"/><circle cx="191.8" cy="70.1" r="3.5" fill="url(#b30)"/><circle cx="220.9" cy="70.2" r="3.1" fill="url(#b32)"/><circle cx="188.4" cy="70.2" r="3.2" fill="url(#b29)"/><circle cx="207.8" cy="70.3" r="3.1" fill="url(#b32)"/><circle cx="207.1" cy="70.4" r="2.2" fill="url(#b32)"/><circle cx="198.4" cy="70.4" r="3.2" fill="url(#b30)"/><circle cx="200.2" cy="70.4" r="2.9" fill="url(#b30)"/><circle cx="186.3" cy="70.5" r="3.1" fill="url(#b29)"/><circle cx="214" cy="70.6" r="2.9" fill="url(#b32)"/><circle cx="206" cy="70.8" r="3.6" fill="url(#b31)"/><circle cx="174.5" cy="70.9" r="3.2" fill="url(#b28)"/><circle cx="174.1" cy="71" r="3.6" fill="url(#b28)"/><circle cx="215.6" cy="71.2" r="2.7" fill="url(#b32)"/><circle cx="205.9" cy="71.2" r="3" fill="url(#b31)"/><circle cx="182.6" cy="71.3" r="3.6" fill="url(#b28)"/><circle cx="192.8" cy="71.3" r="2.9" fill="url(#b30)"/><circle cx="176.1" cy="71.4" r="2.6" fill="url(#b28)"/><circle cx="192.7" cy="71.4" r="2.4" fill="url(#b30)"/><circle cx="168.8" cy="71.4" r="2.3" fill="url(#b27)"/><circle cx="214.9" cy="71.5" r="2.8" fill="url(#b32)"/><circle cx="178.4" cy="71.6" r="2.7" fill="url(#b28)"/><circle cx="179.9" cy="71.6" r="2.5" fill="url(#b28)"/><circle cx="187.7" cy="71.7" r="3.6" fill="url(#b29)"/><circle cx="174.3" cy="71.9" r="2.9" fill="url(#b28)"/><circle cx="181.9" cy="71.9" r="2.9" fill="url(#b28)"/><circle cx="178.2" cy="71.9" r="2.2" fill="url(#b28)"/><circle cx="174.1" cy="71.9" r="2.9" fill="url(#b28)"/><circle cx="183.8" cy="71.9" r="3.2" fill="url(#b28)"/><circle cx="188.3" cy="72" r="3.3" fill="url(#b29)"/><circle cx="203.8" cy="72" r="2.6" fill="url(#b31)"/><circle cx="185" cy="72" r="2.7" fill="url(#b29)"/><circle cx="173.6" cy="72.1" r="2.2" fill="url(#b28)"/><circle cx="177.4" cy="72.2" r="2.7" fill="url(#b28)"/><circle cx="216.6" cy="72.2" r="3.1" fill="url(#b32)"/><circle cx="210.9" cy="72.3" r="2.9" fill="url(#b32)"/><circle cx="187.8" cy="72.4" r="2.7" fill="url(#b29)"/><circle cx="196.3" cy="72.4" r="2.3" fill="url(#b30)"/><circle cx="188" cy="72.6" r="2.5" fill="url(#b29)"/><circle cx="204.3" cy="72.6" r="3.1" fill="url(#b31)"/><circle cx="216.2" cy="72.7" r="2.9" fill="url(#b32)"/><circle cx="208" cy="72.7" r="2.4" fill="url(#b31)"/><circle cx="214" cy="72.7" r="2.5" fill="url(#b32)"/><circle cx="166.6" cy="72.8" r="1.8" fill="url(#b26)"/><circle cx="205.7" cy="72.8" r="2.2" fill="url(#b31)"/><circle cx="203.8" cy="73" r="3.5" fill="url(#b31)"/><circle cx="201" cy="73.1" r="2.8" fill="url(#b30)"/><circle cx="170.4" cy="73.1" r="2.7" fill="url(#b27)"/><circle cx="205.4" cy="73.2" r="2.7" fill="url(#b31)"/><circle cx="190" cy="73.3" r="2.2" fill="url(#b29)"/><circle cx="195.9" cy="73.4" r="2.4" fill="url(#b30)"/><circle cx="182" cy="73.4" r="2.3" fill="url(#b28)"/><circle cx="177.6" cy="73.5" r="2.2" fill="url(#b27)"/><circle cx="210.7" cy="73.5" r="2.4" fill="url(#b32)"/><circle cx="190.8" cy="73.7" r="2.5" fill="url(#b29)"/><circle cx="180.3" cy="73.7" r="3" fill="url(#b28)"/><circle cx="164.4" cy="73.9" r="2.1" fill="url(#b25)"/><circle cx="203.3" cy="73.9" r="3.1" fill="url(#b30)"/><circle cx="169.1" cy="73.9" r="2.8" fill="url(#b26)"/><circle cx="182.5" cy="74" r="2.5" fill="url(#b28)"/><circle cx="189.2" cy="74.2" r="3.5" fill="url(#b29)"/><circle cx="166" cy="74.2" r="2.2" fill="url(#b25)"/><circle cx="184.1" cy="74.2" r="3.5" fill="url(#b28)"/><circle cx="195.7" cy="74.2" r="3.3" fill="url(#b30)"/><circle cx="169.3" cy="74.3" r="2.8" fill="url(#b26)"/><circle cx="189.3" cy="74.4" r="3.2" fill="url(#b29)"/><circle cx="202.6" cy="74.6" r="3.5" fill="url(#b30)"/><circle cx="170.6" cy="74.7" r="3.1" fill="url(#b26)"/><circle cx="207.2" cy="74.7" r="3.3" fill="url(#b31)"/><circle cx="177.7" cy="74.8" r="3" fill="url(#b27)"/><circle cx="196.2" cy="74.8" r="2.3" fill="url(#b30)"/><circle cx="165.6" cy="74.9" r="2.4" fill="url(#b25)"/><circle cx="211" cy="75" r="2.6" fill="url(#b31)"/><circle cx="200.4" cy="75" r="3.4" fill="url(#b30)"/><circle cx="181.8" cy="75.1" r="2.5" fill="url(#b27)"/><circle cx="177.9" cy="75.1" r="2.8" fill="url(#b27)"/><circle cx="165.7" cy="75.2" r="1.6" fill="url(#b25)"/><circle cx="212.6" cy="75.2" r="2.7" fill="url(#b32)"/><circle cx="200.9" cy="75.2" r="3.3" fill="url(#b30)"/><circle cx="183.6" cy="75.2" r="2.2" fill="url(#b28)"/><circle cx="203.6" cy="75.3" r="3.5" fill="url(#b30)"/><circle cx="165.7" cy="75.3" r="2.4" fill="url(#b25)"/><circle cx="187.4" cy="75.4" r="3.4" fill="url(#b29)"/><circle cx="206.4" cy="75.5" r="2.9" fill="url(#b31)"/><circle cx="187.3" cy="75.5" r="2.2" fill="url(#b29)"/><circle cx="186.3" cy="75.6" r="3.5" fill="url(#b28)"/><circle cx="165.7" cy="75.6" r="2.2" fill="url(#b24)"/><circle cx="165" cy="75.7" r="1.8" fill="url(#b24)"/><circle cx="202.4" cy="75.9" r="3.5" fill="url(#b30)"/><circle cx="162.6" cy="76.1" r="2.2" fill="url(#b24)"/><circle cx="173.8" cy="76.1" r="2.2" fill="url(#b26)"/><circle cx="213.5" cy="76.1" r="2.6" fill="url(#b31)"/><circle cx="204.2" cy="76.2" r="2.3" fill="url(#b30)"/><circle cx="191.3" cy="76.2" r="2.2" fill="url(#b29)"/><circle cx="186.3" cy="76.2" r="3.1" fill="url(#b28)"/><circle cx="190.3" cy="76.6" r="3.6" fill="url(#b29)"/><circle cx="190.9" cy="76.6" r="2.8" fill="url(#b29)"/><circle cx="217.3" cy="76.6" r="3" fill="url(#b31)"/><circle cx="214.7" cy="76.7" r="2.2" fill="url(#b31)"/><circle cx="163.2" cy="76.8" r="1.9" fill="url(#b24)"/><circle cx="188.7" cy="76.8" r="3.1" fill="url(#b29)"/><circle cx="198.7" cy="76.8" r="3.5" fill="url(#b30)"/><circle cx="196.9" cy="76.8" r="3.1" fill="url(#b30)"/><circle cx="196" cy="77" r="3.2" fill="url(#b30)"/><circle cx="199.7" cy="77.1" r="3.4" fill="url(#b30)"/><circle cx="217" cy="77.3" r="3.5" fill="url(#b31)"/><circle cx="184.4" cy="77.4" r="2.2" fill="url(#b27)"/><circle cx="213.7" cy="77.4" r="2.8" fill="url(#b31)"/><circle cx="214" cy="77.4" r="3.5" fill="url(#b31)"/><circle cx="172.6" cy="77.5" r="1.6" fill="url(#b26)"/><circle cx="180" cy="77.5" r="2.3" fill="url(#b27)"/><circle cx="162" cy="77.5" r="1.7" fill="url(#b24)"/><circle cx="200" cy="77.6" r="3.5" fill="url(#b30)"/><circle cx="212.1" cy="77.6" r="3.3" fill="url(#b31)"/><circle cx="209.7" cy="77.7" r="3.4" fill="url(#b31)"/><circle cx="173.5" cy="77.8" r="1.9" fill="url(#b26)"/><circle cx="211.6" cy="77.9" r="2.9" fill="url(#b31)"/><circle cx="164.1" cy="77.9" r="2" fill="url(#b24)"/><circle cx="165.8" cy="77.9" r="1.7" fill="url(#b24)"/><circle cx="172.2" cy="77.9" r="1.6" fill="url(#b25)"/><circle cx="179.8" cy="78" r="3.2" fill="url(#b26)"/><circle cx="199.1" cy="78" r="2.5" fill="url(#b30)"/><circle cx="211.1" cy="78.1" r="2.4" fill="url(#b31)"/><circle cx="176" cy="78.1" r="2.5" fill="url(#b26)"/><circle cx="163.4" cy="78.2" r="1.7" fill="url(#b24)"/><circle cx="210.8" cy="78.2" r="3.4" fill="url(#b31)"/><circle cx="180.8" cy="78.3" r="3.1" fill="url(#b26)"/><circle cx="198.2" cy="78.3" r="3.4" fill="url(#b29)"/><circle cx="169.6" cy="78.3" r="1.8" fill="url(#b25)"/><circle cx="161.9" cy="78.3" r="2.2" fill="url(#b24)"/><circle cx="161.7" cy="78.4" r="2.4" fill="url(#b24)"/><circle cx="168.5" cy="78.4" r="2.2" fill="url(#b24)"/><circle cx="180.8" cy="78.4" r="3.4" fill="url(#b26)"/><circle cx="188.1" cy="78.4" r="3" fill="url(#b28)"/><circle cx="207.2" cy="78.5" r="2.7" fill="url(#b30)"/><circle cx="166.5" cy="78.5" r="1.9" fill="url(#b24)"/><circle cx="212.5" cy="78.6" r="2.9" fill="url(#b31)"/><circle cx="165.2" cy="78.6" r="2.2" fill="url(#b24)"/><circle cx="204.6" cy="78.7" r="2.7" fill="url(#b30)"/><circle cx="204.1" cy="78.8" r="2.8" fill="url(#b30)"/><circle cx="215.3" cy="78.9" r="2.8" fill="url(#b31)"/><circle cx="178.4" cy="79" r="2.1" fill="url(#b26)"/><circle cx="162.7" cy="79" r="1.7" fill="url(#b24)"/><circle cx="188.4" cy="79" r="2.8" fill="url(#b28)"/><circle cx="180.2" cy="79.1" r="3.4" fill="url(#b26)"/><circle cx="168.6" cy="79.1" r="1.9" fill="url(#b24)"/><circle cx="182.1" cy="79.1" r="2.4" fill="url(#b26)"/><circle cx="202.5" cy="79.1" r="3.2" fill="url(#b30)"/><circle cx="214.9" cy="79.3" r="3" fill="url(#b31)"/><circle cx="184.4" cy="79.4" r="2.6" fill="url(#b27)"/><circle cx="180.5" cy="79.5" r="2.3" fill="url(#b26)"/><circle cx="164.5" cy="79.7" r="2.1" fill="url(#b24)"/><circle cx="187.1" cy="79.7" r="3.1" fill="url(#b28)"/><circle cx="175" cy="79.8" r="1.7" fill="url(#b25)"/><circle cx="165.4" cy="79.8" r="2.5" fill="url(#b24)"/><circle cx="174.3" cy="79.8" r="2.4" fill="url(#b25)"/><circle cx="176.2" cy="79.9" r="1.6" fill="url(#b25)"/><circle cx="165.5" cy="79.9" r="2" fill="url(#b24)"/><circle cx="180.3" cy="80" r="2.3" fill="url(#b26)"/><circle cx="192.7" cy="80" r="2.6" fill="url(#b29)"/><circle cx="202.6" cy="80.1" r="3.2" fill="url(#b29)"/><circle cx="206.2" cy="80.1" r="2.7" fill="url(#b30)"/><circle cx="164.8" cy="80.3" r="1.9" fill="url(#b24)"/><circle cx="168.8" cy="80.3" r="2.5" fill="url(#b24)"/><circle cx="196.9" cy="80.4" r="2.8" fill="url(#b29)"/><circle cx="199.6" cy="80.5" r="2.3" fill="url(#b29)"/><circle cx="213.6" cy="80.6" r="3" fill="url(#b31)"/><circle cx="158.3" cy="80.7" r="1.9" fill="url(#b24)"/><circle cx="201.9" cy="80.7" r="3.5" fill="url(#b29)"/><circle cx="170.6" cy="80.8" r="1.7" fill="url(#b24)"/><circle cx="195" cy="80.9" r="2.3" fill="url(#b29)"/><circle cx="175" cy="81" r="2.2" fill="url(#b25)"/><circle cx="182.7" cy="81" r="1.8" fill="url(#b26)"/><circle cx="183.8" cy="81" r="3" fill="url(#b26)"/><circle cx="164" cy="81" r="1.6" fill="url(#b24)"/><circle cx="164.7" cy="81.1" r="1.9" fill="url(#b24)"/><circle cx="185.2" cy="81.1" r="2.9" fill="url(#b27)"/><circle cx="188.4" cy="81.2" r="3.5" fill="url(#b28)"/><circle cx="191.9" cy="81.2" r="2.9" fill="url(#b28)"/><circle cx="175.2" cy="81.5" r="1.9" fill="url(#b25)"/><circle cx="190.3" cy="81.7" r="3" fill="url(#b28)"/><circle cx="168.8" cy="81.7" r="1.8" fill="url(#b24)"/><circle cx="216.3" cy="81.7" r="3.4" fill="url(#b31)"/><circle cx="170.6" cy="81.8" r="2.4" fill="url(#b24)"/><circle cx="181.5" cy="81.9" r="1.8" fill="url(#b26)"/><circle cx="190.7" cy="81.9" r="2.3" fill="url(#b28)"/><circle cx="212.9" cy="81.9" r="3.1" fill="url(#b30)"/><circle cx="184.6" cy="81.9" r="2.2" fill="url(#b26)"/><circle cx="193.6" cy="82" r="2.6" fill="url(#b29)"/><circle cx="158.9" cy="82.1" r="1.7" fill="url(#b24)"/><circle cx="203.4" cy="82.1" r="3.4" fill="url(#b29)"/><circle cx="211.9" cy="82.1" r="3.5" fill="url(#b30)"/><circle cx="185.4" cy="82.2" r="3" fill="url(#b26)"/><circle cx="180.2" cy="82.2" r="1.8" fill="url(#b25)"/><circle cx="205.2" cy="82.4" r="2.5" fill="url(#b29)"/><circle cx="163.9" cy="82.5" r="2.4" fill="url(#b24)"/><circle cx="198.9" cy="82.5" r="2.5" fill="url(#b29)"/><circle cx="210" cy="82.6" r="3" fill="url(#b30)"/><circle cx="201.2" cy="82.7" r="2.6" fill="url(#b29)"/><circle cx="191" cy="82.8" r="3.2" fill="url(#b28)"/><circle cx="193.7" cy="82.9" r="2.2" fill="url(#b28)"/><circle cx="171.6" cy="83" r="1.9" fill="url(#b24)"/><circle cx="161.8" cy="83" r="1.9" fill="url(#b24)"/><circle cx="207.3" cy="83" r="2.7" fill="url(#b29)"/><circle cx="193.7" cy="83.1" r="2.4" fill="url(#b28)"/><circle cx="182.5" cy="83.2" r="2.3" fill="url(#b25)"/><circle cx="212.6" cy="83.5" r="3.5" fill="url(#b30)"/><circle cx="202.7" cy="83.5" r="2.8" fill="url(#b29)"/><circle cx="189.4" cy="83.5" r="3.2" fill="url(#b27)"/><circle cx="158.5" cy="83.6" r="1.9" fill="url(#b23)"/><circle cx="205" cy="83.6" r="2.8" fill="url(#b29)"/><circle cx="161" cy="83.7" r="2.3" fill="url(#b24)"/><circle cx="210.6" cy="83.8" r="3.3" fill="url(#b29)"/><circle cx="164.1" cy="83.8" r="2.3" fill="url(#b23)"/><circle cx="165.4" cy="83.8" r="1.7" fill="url(#b23)"/><circle cx="180.2" cy="83.9" r="1.6" fill="url(#b25)"/><circle cx="209.6" cy="83.9" r="2.4" fill="url(#b29)"/><circle cx="204" cy="84" r="3.2" fill="url(#b29)"/><circle cx="160.5" cy="84.1" r="1.9" fill="url(#b23)"/><circle cx="199.8" cy="84.1" r="2.5" fill="url(#b29)"/><circle cx="159.4" cy="84.3" r="2.4" fill="url(#b23)"/><circle cx="194.1" cy="84.3" r="2.5" fill="url(#b28)"/><circle cx="165.2" cy="84.4" r="1.7" fill="url(#b23)"/><circle cx="210.7" cy="84.5" r="2.8" fill="url(#b29)"/><circle cx="158.1" cy="84.5" r="1.9" fill="url(#b23)"/><circle cx="189.7" cy="84.6" r="3.1" fill="url(#b27)"/><circle cx="155.5" cy="84.6" r="1.7" fill="url(#b22)"/><circle cx="188.5" cy="84.6" r="2.6" fill="url(#b26)"/><circle cx="182.9" cy="84.7" r="1.9" fill="url(#b25)"/><circle cx="212.6" cy="84.7" r="2.3" fill="url(#b29)"/><circle cx="201.6" cy="84.9" r="2.2" fill="url(#b29)"/><circle cx="155.1" cy="85" r="1.7" fill="url(#b22)"/><circle cx="189.2" cy="85" r="3.4" fill="url(#b26)"/><circle cx="154.5" cy="85" r="2.2" fill="url(#b21)"/><circle cx="203.3" cy="85" r="3.6" fill="url(#b29)"/><circle cx="206.7" cy="85" r="3.5" fill="url(#b29)"/><circle cx="205.4" cy="85.2" r="3.4" fill="url(#b29)"/><circle cx="178.9" cy="85.4" r="1.6" fill="url(#b25)"/><circle cx="173.5" cy="85.5" r="2" fill="url(#b24)"/><circle cx="191.5" cy="85.6" r="2.3" fill="url(#b27)"/><circle cx="182.4" cy="85.6" r="2" fill="url(#b25)"/><circle cx="161.2" cy="85.6" r="1.7" fill="url(#b23)"/><circle cx="178.1" cy="85.7" r="1.8" fill="url(#b25)"/><circle cx="197.7" cy="85.8" r="2.3" fill="url(#b28)"/><circle cx="202.6" cy="85.9" r="2.6" fill="url(#b28)"/><circle cx="212.8" cy="85.9" r="2.3" fill="url(#b29)"/><circle cx="192.9" cy="86.1" r="2.9" fill="url(#b27)"/><circle cx="191" cy="86.2" r="2.4" fill="url(#b27)"/><circle cx="187.7" cy="86.3" r="2.5" fill="url(#b26)"/><circle cx="207.9" cy="86.4" r="2.8" fill="url(#b29)"/><circle cx="189.2" cy="86.5" r="3" fill="url(#b26)"/><circle cx="210.5" cy="86.5" r="3.3" fill="url(#b29)"/><circle cx="202.5" cy="86.5" r="2.2" fill="url(#b28)"/><circle cx="164.5" cy="86.6" r="1.7" fill="url(#b22)"/><circle cx="172.1" cy="86.7" r="1.8" fill="url(#b23)"/><circle cx="198.2" cy="86.7" r="3" fill="url(#b28)"/><circle cx="185.3" cy="86.7" r="2.1" fill="url(#b25)"/><circle cx="198.7" cy="86.7" r="3.4" fill="url(#b28)"/><circle cx="163.7" cy="86.8" r="2.4" fill="url(#b22)"/><circle cx="210.9" cy="86.9" r="3.4" fill="url(#b29)"/><circle cx="190.9" cy="87" r="2.7" fill="url(#b26)"/><circle cx="181.7" cy="87.1" r="2.3" fill="url(#b25)"/><circle cx="190" cy="87.1" r="2.3" fill="url(#b26)"/><circle cx="198.8" cy="87.2" r="2.6" fill="url(#b28)"/><circle cx="189.9" cy="87.2" r="2.8" fill="url(#b26)"/><circle cx="156.3" cy="87.2" r="2" fill="url(#b21)"/><circle cx="199.7" cy="87.3" r="3.1" fill="url(#b28)"/><circle cx="173.5" cy="87.5" r="2.4" fill="url(#b24)"/><circle cx="190" cy="87.5" r="1.6" fill="url(#b26)"/><circle cx="197.7" cy="87.7" r="3.1" fill="url(#b27)"/><circle cx="199.4" cy="87.7" r="3.3" fill="url(#b28)"/><circle cx="184.4" cy="87.7" r="1.6" fill="url(#b25)"/><circle cx="198.2" cy="87.9" r="2.4" fill="url(#b27)"/><circle cx="208.7" cy="87.9" r="2.2" fill="url(#b29)"/><circle cx="197.1" cy="88" r="3.3" fill="url(#b27)"/><circle cx="162.5" cy="88" r="2" fill="url(#b21)"/><circle cx="207.4" cy="88" r="2.2" fill="url(#b29)"/><circle cx="197" cy="88" r="2.5" fill="url(#b27)"/><circle cx="166.7" cy="88.1" r="1.8" fill="url(#b22)"/><circle cx="177.7" cy="88.3" r="1.7" fill="url(#b25)"/><circle cx="211.4" cy="88.3" r="2.3" fill="url(#b29)"/><circle cx="160.9" cy="88.4" r="1.7" fill="url(#b21)"/><circle cx="173.6" cy="88.5" r="1.8" fill="url(#b24)"/><circle cx="198.3" cy="88.6" r="2.7" fill="url(#b27)"/><circle cx="152.2" cy="88.6" r="2.2" fill="url(#b19)"/><circle cx="162.2" cy="88.7" r="1.9" fill="url(#b21)"/><circle cx="182.8" cy="88.8" r="2" fill="url(#b25)"/><circle cx="205" cy="88.9" r="3.3" fill="url(#b28)"/><circle cx="200.5" cy="88.9" r="2.7" fill="url(#b28)"/><circle cx="190.3" cy="88.9" r="2.2" fill="url(#b26)"/><circle cx="177.9" cy="89" r="2.2" fill="url(#b25)"/><circle cx="194.8" cy="89.1" r="3.1" fill="url(#b27)"/><circle cx="158.4" cy="89.1" r="1.8" fill="url(#b20)"/><circle cx="194.6" cy="89.1" r="2.3" fill="url(#b27)"/><circle cx="170.7" cy="89.2" r="2.4" fill="url(#b22)"/><circle cx="211.9" cy="89.2" r="2.3" fill="url(#b29)"/><circle cx="186.5" cy="89.3" r="2.3" fill="url(#b25)"/><circle cx="176.5" cy="89.4" r="2.2" fill="url(#b25)"/><circle cx="164.9" cy="89.4" r="2" fill="url(#b21)"/><circle cx="192.8" cy="89.4" r="3.4" fill="url(#b26)"/><circle cx="173.7" cy="89.5" r="1.6" fill="url(#b24)"/><circle cx="183.3" cy="89.5" r="2.4" fill="url(#b25)"/><circle cx="156.2" cy="89.6" r="1.8" fill="url(#b19)"/><circle cx="170.9" cy="89.7" r="1.7" fill="url(#b22)"/><circle cx="157.8" cy="89.7" r="2.2" fill="url(#b20)"/><circle cx="195.9" cy="89.7" r="2.8" fill="url(#b27)"/><circle cx="153.4" cy="89.8" r="2.1" fill="url(#b18)"/><circle cx="168.7" cy="90" r="1.7" fill="url(#b22)"/><circle cx="198.8" cy="90.2" r="2.2" fill="url(#b27)"/><circle cx="184.6" cy="90.2" r="2.4" fill="url(#b25)"/><circle cx="198.8" cy="90.2" r="3.1" fill="url(#b27)"/><circle cx="162.1" cy="90.3" r="2.1" fill="url(#b20)"/><circle cx="186.2" cy="90.3" r="2.5" fill="url(#b25)"/><circle cx="175.2" cy="90.4" r="1.9" fill="url(#b24)"/><circle cx="152.2" cy="90.4" r="2.4" fill="url(#b18)"/><circle cx="176.9" cy="90.5" r="1.9" fill="url(#b25)"/><circle cx="167" cy="90.9" r="2" fill="url(#b21)"/><circle cx="190.1" cy="91" r="2.1" fill="url(#b25)"/><circle cx="188.5" cy="91" r="1.8" fill="url(#b25)"/><circle cx="185.1" cy="91.2" r="2" fill="url(#b25)"/><circle cx="179.1" cy="91.2" r="2.2" fill="url(#b25)"/><circle cx="195.5" cy="91.3" r="3.4" fill="url(#b26)"/><circle cx="150" cy="91.3" r="1.7" fill="url(#b18)"/><circle cx="201.6" cy="91.4" r="3.3" fill="url(#b27)"/><circle cx="171.8" cy="91.5" r="2.4" fill="url(#b22)"/><circle cx="195.7" cy="91.5" r="2.3" fill="url(#b26)"/><circle cx="164.8" cy="91.6" r="2.1" fill="url(#b21)"/><circle cx="192" cy="91.6" r="1.7" fill="url(#b25)"/><circle cx="177.3" cy="91.8" r="2" fill="url(#b24)"/><circle cx="151.8" cy="91.9" r="2.5" fill="url(#b18)"/><circle cx="201.2" cy="91.9" r="2.7" fill="url(#b27)"/><circle cx="180.5" cy="91.9" r="2.4" fill="url(#b25)"/><circle cx="181.7" cy="92" r="2.1" fill="url(#b25)"/><circle cx="195.4" cy="92" r="1.6" fill="url(#b26)"/><circle cx="184.2" cy="92" r="2.3" fill="url(#b25)"/><circle cx="152.1" cy="92.1" r="2.5" fill="url(#b18)"/><circle cx="156.5" cy="92.2" r="1.9" fill="url(#b18)"/><circle cx="187.5" cy="92.2" r="1.7" fill="url(#b25)"/><circle cx="189.7" cy="92.4" r="1.9" fill="url(#b25)"/><circle cx="198" cy="92.5" r="3.1" fill="url(#b26)"/><circle cx="155.8" cy="92.7" r="2.5" fill="url(#b18)"/><circle cx="162.9" cy="92.8" r="1.8" fill="url(#b20)"/><circle cx="186.9" cy="92.8" r="1.6" fill="url(#b24)"/><circle cx="177.9" cy="92.9" r="1.7" fill="url(#b24)"/><circle cx="197.8" cy="92.9" r="3.4" fill="url(#b26)"/><circle cx="188.8" cy="93.1" r="1.8" fill="url(#b25)"/><circle cx="166.5" cy="93.3" r="2.2" fill="url(#b21)"/><circle cx="177.1" cy="93.5" r="1.9" fill="url(#b24)"/><circle cx="183.8" cy="93.6" r="2.5" fill="url(#b24)"/><circle cx="189.8" cy="93.7" r="1.9" fill="url(#b25)"/><circle cx="167.4" cy="93.7" r="1.9" fill="url(#b21)"/><circle cx="161.6" cy="93.8" r="1.9" fill="url(#b20)"/><circle cx="201.2" cy="93.9" r="2.3" fill="url(#b27)"/><circle cx="196.9" cy="93.9" r="1.7" fill="url(#b26)"/><circle cx="192.6" cy="94.1" r="1.6" fill="url(#b25)"/><circle cx="168.1" cy="94.1" r="2" fill="url(#b21)"/><circle cx="166.1" cy="94.2" r="1.7" fill="url(#b20)"/><circle cx="191.6" cy="94.3" r="1.9" fill="url(#b25)"/><circle cx="153.6" cy="94.5" r="1.6" fill="url(#b17)"/><circle cx="148.3" cy="94.6" r="1.6" fill="url(#b18)"/><circle cx="153.4" cy="94.6" r="2.2" fill="url(#b17)"/><circle cx="150" cy="94.8" r="1.9" fill="url(#b18)"/><circle cx="173.1" cy="94.8" r="1.9" fill="url(#b22)"/><circle cx="159.1" cy="94.9" r="1.7" fill="url(#b18)"/><circle cx="189.2" cy="95" r="2.4" fill="url(#b24)"/><circle cx="178.2" cy="95.1" r="1.7" fill="url(#b24)"/><circle cx="169.7" cy="95.2" r="1.7" fill="url(#b21)"/><circle cx="149.5" cy="95.2" r="1.7" fill="url(#b18)"/><circle cx="168.3" cy="95.2" r="2.4" fill="url(#b21)"/><circle cx="151.2" cy="95.3" r="2.2" fill="url(#b18)"/><circle cx="191.8" cy="95.5" r="2.3" fill="url(#b25)"/><circle cx="187.1" cy="95.6" r="1.6" fill="url(#b24)"/><circle cx="169" cy="95.6" r="2.1" fill="url(#b21)"/><circle cx="177.2" cy="95.8" r="2.1" fill="url(#b23)"/><circle cx="163.6" cy="95.9" r="1.9" fill="url(#b20)"/><circle cx="156.1" cy="95.9" r="2.2" fill="url(#b17)"/><circle cx="151.7" cy="95.9" r="2.2" fill="url(#b18)"/><circle cx="193.2" cy="96" r="2.4" fill="url(#b25)"/><circle cx="153.8" cy="96.1" r="2" fill="url(#b16)"/><circle cx="157.7" cy="96.2" r="1.9" fill="url(#b17)"/><circle cx="150.3" cy="96.2" r="2.1" fill="url(#b18)"/><circle cx="199.5" cy="96.2" r="2.4" fill="url(#b26)"/><circle cx="162" cy="96.3" r="2.2" fill="url(#b20)"/><circle cx="154" cy="96.7" r="2.5" fill="url(#b16)"/><circle cx="173.9" cy="96.8" r="2.4" fill="url(#b21)"/><circle cx="175" cy="96.9" r="2" fill="url(#b22)"/><circle cx="166.9" cy="96.9" r="1.6" fill="url(#b21)"/><circle cx="176.1" cy="97" r="2.4" fill="url(#b22)"/><circle cx="183.9" cy="97" r="2.2" fill="url(#b23)"/><circle cx="161.4" cy="97.1" r="1.6" fill="url(#b20)"/><circle cx="149.9" cy="97.2" r="2.4" fill="url(#b18)"/><circle cx="184.1" cy="97.2" r="2.1" fill="url(#b23)"/><circle cx="189.2" cy="97.3" r="2.2" fill="url(#b24)"/><circle cx="154.1" cy="97.3" r="1.6" fill="url(#b15)"/><circle cx="194.9" cy="97.3" r="2" fill="url(#b25)"/><circle cx="180.4" cy="97.4" r="1.9" fill="url(#b23)"/><circle cx="190.5" cy="97.5" r="2" fill="url(#b24)"/><circle cx="194.4" cy="97.5" r="2.4" fill="url(#b25)"/><circle cx="185.8" cy="97.6" r="2.1" fill="url(#b23)"/><circle cx="190" cy="97.6" r="2.1" fill="url(#b24)"/><circle cx="182.2" cy="97.6" r="2.5" fill="url(#b23)"/><circle cx="171.8" cy="97.6" r="2" fill="url(#b21)"/><circle cx="167.5" cy="97.6" r="1.7" fill="url(#b21)"/><circle cx="178.4" cy="97.7" r="2" fill="url(#b23)"/><circle cx="165.6" cy="97.7" r="1.7" fill="url(#b21)"/><circle cx="192.6" cy="97.7" r="2.2" fill="url(#b25)"/><circle cx="174.9" cy="97.8" r="2.2" fill="url(#b21)"/><circle cx="165.4" cy="97.9" r="2.2" fill="url(#b21)"/><circle cx="154.1" cy="97.9" r="1.6" fill="url(#b15)"/><circle cx="150.5" cy="97.9" r="2.4" fill="url(#b17)"/><circle cx="188.8" cy="97.9" r="2.3" fill="url(#b24)"/><circle cx="178.8" cy="98" r="1.7" fill="url(#b22)"/><circle cx="191.5" cy="98" r="2.2" fill="url(#b24)"/><circle cx="169.1" cy="98" r="1.6" fill="url(#b20)"/><circle cx="169.5" cy="98.4" r="2.4" fill="url(#b20)"/><circle cx="164.3" cy="98.4" r="1.7" fill="url(#b21)"/><circle cx="178.5" cy="98.5" r="2.1" fill="url(#b22)"/><circle cx="182.6" cy="98.7" r="1.9" fill="url(#b23)"/><circle cx="157.2" cy="98.8" r="1.7" fill="url(#b16)"/><circle cx="146.5" cy="99" r="2.4" fill="url(#b17)"/><circle cx="182.5" cy="99" r="2.1" fill="url(#b23)"/><circle cx="167" cy="99" r="2.1" fill="url(#b21)"/><circle cx="175.7" cy="99.2" r="2" fill="url(#b21)"/><circle cx="149.7" cy="99.2" r="1.6" fill="url(#b16)"/><circle cx="193.1" cy="99.3" r="1.7" fill="url(#b24)"/><circle cx="158.9" cy="99.4" r="1.6" fill="url(#b17)"/><circle cx="144" cy="99.5" r="1.6" fill="url(#b16)"/><circle cx="192.4" cy="99.5" r="2.4" fill="url(#b24)"/><circle cx="191" cy="99.5" r="2.3" fill="url(#b24)"/><circle cx="177.4" cy="99.7" r="1.8" fill="url(#b21)"/><circle cx="171.9" cy="99.7" r="2.5" fill="url(#b20)"/><circle cx="193.5" cy="99.9" r="1.7" fill="url(#b25)"/><circle cx="150.4" cy="100.1" r="2.4" fill="url(#b14)"/><circle cx="173.7" cy="100.2" r="2.2" fill="url(#b21)"/><circle cx="148.1" cy="100.2" r="2.1" fill="url(#b16)"/><circle cx="174.5" cy="100.3" r="2.1" fill="url(#b21)"/><circle cx="152.3" cy="100.4" r="1.7" fill="url(#b13)"/><circle cx="178.4" cy="100.5" r="2" fill="url(#b21)"/><circle cx="188" cy="100.5" r="2.1" fill="url(#b23)"/><circle cx="177.9" cy="100.6" r="2.3" fill="url(#b21)"/><circle cx="183.9" cy="100.7" r="2.3" fill="url(#b22)"/><circle cx="160.1" cy="100.7" r="2.1" fill="url(#b18)"/><circle cx="158.6" cy="100.8" r="2.1" fill="url(#b16)"/><circle cx="159" cy="100.9" r="1.6" fill="url(#b17)"/><circle cx="171.6" cy="100.9" r="2.1" fill="url(#b20)"/><circle cx="182.3" cy="101" r="1.8" fill="url(#b22)"/><circle cx="172" cy="101" r="2.1" fill="url(#b20)"/><circle cx="162.9" cy="101" r="2.3" fill="url(#b20)"/><circle cx="193.2" cy="101.1" r="1.8" fill="url(#b24)"/><circle cx="158.1" cy="101.1" r="2" fill="url(#b16)"/><circle cx="168" cy="101.2" r="2.3" fill="url(#b20)"/><circle cx="166.5" cy="101.2" r="2.3" fill="url(#b20)"/><circle cx="163.9" cy="101.3" r="2.3" fill="url(#b20)"/><circle cx="150.9" cy="101.3" r="2" fill="url(#b14)"/><circle cx="177.4" cy="101.6" r="1.8" fill="url(#b21)"/><circle cx="168" cy="101.6" r="1.6" fill="url(#b20)"/><circle cx="170.1" cy="101.7" r="2.3" fill="url(#b20)"/><circle cx="162.8" cy="102" r="1.9" fill="url(#b20)"/><circle cx="173.7" cy="102.3" r="2.2" fill="url(#b20)"/><circle cx="186.1" cy="102.5" r="1.9" fill="url(#b22)"/><circle cx="169.2" cy="102.5" r="2.1" fill="url(#b20)"/><circle cx="190.7" cy="102.6" r="2.5" fill="url(#b23)"/><circle cx="189.7" cy="102.8" r="2.2" fill="url(#b23)"/><circle cx="172.9" cy="102.9" r="2.3" fill="url(#b20)"/><circle cx="188" cy="103" r="1.8" fill="url(#b22)"/><circle cx="164.9" cy="103" r="1.8" fill="url(#b20)"/><circle cx="160.2" cy="103.1" r="1.9" fill="url(#b17)"/><circle cx="172.8" cy="103.1" r="1.8" fill="url(#b20)"/><circle cx="144.6" cy="103.2" r="2.3" fill="url(#b15)"/><circle cx="166.6" cy="103.2" r="2.2" fill="url(#b20)"/><circle cx="183.6" cy="103.3" r="2.5" fill="url(#b21)"/><circle cx="173.5" cy="103.5" r="2.4" fill="url(#b20)"/><circle cx="180" cy="103.6" r="2.2" fill="url(#b21)"/><circle cx="179.2" cy="103.6" r="2.3" fill="url(#b21)"/><circle cx="151.5" cy="103.6" r="1.7" fill="url(#b14)"/><circle cx="177.6" cy="103.6" r="1.7" fill="url(#b20)"/><circle cx="161.2" cy="103.8" r="1.8" fill="url(#b17)"/><circle cx="148.3" cy="103.8" r="1.9" fill="url(#b15)"/><circle cx="170" cy="103.8" r="2" fill="url(#b20)"/><circle cx="184.3" cy="103.9" r="2.3" fill="url(#b21)"/><circle cx="155.5" cy="104" r="1.7" fill="url(#b14)"/><circle cx="167.8" cy="104.1" r="2.2" fill="url(#b20)"/><circle cx="143.5" cy="104.4" r="2.3" fill="url(#b15)"/><circle cx="161.4" cy="104.4" r="2.2" fill="url(#b17)"/><circle cx="157.8" cy="104.4" r="2.5" fill="url(#b14)"/><circle cx="155.4" cy="104.6" r="2.4" fill="url(#b14)"/><circle cx="145.7" cy="104.7" r="2.2" fill="url(#b15)"/><circle cx="188.8" cy="104.8" r="1.6" fill="url(#b22)"/><circle cx="180.2" cy="104.8" r="2.5" fill="url(#b21)"/><circle cx="181.2" cy="104.9" r="1.8" fill="url(#b21)"/><circle cx="149.9" cy="104.9" r="1.6" fill="url(#b14)"/><circle cx="162.3" cy="105" r="2.3" fill="url(#b18)"/><circle cx="188.8" cy="105" r="1.9" fill="url(#b22)"/><circle cx="181" cy="105.2" r="2" fill="url(#b21)"/><circle cx="176.3" cy="105.2" r="2.3" fill="url(#b20)"/><circle cx="146.2" cy="105.3" r="2.4" fill="url(#b15)"/><circle cx="144.6" cy="105.4" r="2.1" fill="url(#b15)"/><circle cx="166.8" cy="105.5" r="1.9" fill="url(#b20)"/><circle cx="173.3" cy="105.7" r="1.7" fill="url(#b20)"/><circle cx="150.6" cy="105.7" r="2.1" fill="url(#b14)"/><circle cx="175.9" cy="105.7" r="2" fill="url(#b20)"/><circle cx="158.1" cy="105.8" r="2.1" fill="url(#b14)"/><circle cx="152.1" cy="105.9" r="2.3" fill="url(#b14)"/><circle cx="186" cy="105.9" r="2.4" fill="url(#b21)"/><circle cx="160.6" cy="106" r="1.8" fill="url(#b16)"/><circle cx="150.5" cy="106" r="2.4" fill="url(#b14)"/><circle cx="147.3" cy="106.1" r="2.2" fill="url(#b15)"/><circle cx="155.1" cy="106.1" r="1.9" fill="url(#b13)"/><circle cx="185" cy="106.2" r="1.7" fill="url(#b21)"/><circle cx="181.5" cy="106.3" r="2.3" fill="url(#b20)"/><circle cx="179.9" cy="106.3" r="2.4" fill="url(#b20)"/><circle cx="181.8" cy="106.3" r="2.3" fill="url(#b20)"/><circle cx="150.7" cy="106.5" r="1.8" fill="url(#b14)"/><circle cx="159.3" cy="106.5" r="2" fill="url(#b14)"/><circle cx="146.3" cy="106.6" r="1.8" fill="url(#b15)"/><circle cx="168.8" cy="106.7" r="1.6" fill="url(#b20)"/><circle cx="186.6" cy="106.7" r="2.3" fill="url(#b21)"/><circle cx="176.7" cy="106.7" r="2.5" fill="url(#b20)"/><circle cx="182.8" cy="106.7" r="2.4" fill="url(#b20)"/><circle cx="164.7" cy="106.8" r="2.4" fill="url(#b19)"/><circle cx="157.4" cy="106.8" r="2.4" fill="url(#b13)"/><circle cx="166.8" cy="106.8" r="2.2" fill="url(#b20)"/><circle cx="153.2" cy="107" r="1.7" fill="url(#b13)"/><circle cx="183" cy="107" r="2.5" fill="url(#b20)"/><circle cx="183.2" cy="107.2" r="2" fill="url(#b20)"/><circle cx="143.2" cy="107.2" r="1.8" fill="url(#b14)"/><circle cx="145.1" cy="107.3" r="1.7" fill="url(#b14)"/><circle cx="158.4" cy="107.4" r="2.4" fill="url(#b13)"/><circle cx="173.3" cy="107.8" r="2.1" fill="url(#b20)"/><circle cx="152" cy="107.9" r="2.1" fill="url(#b13)"/><circle cx="176.3" cy="107.9" r="1.8" fill="url(#b20)"/><circle cx="172.3" cy="107.9" r="2.3" fill="url(#b20)"/><circle cx="170.6" cy="108.1" r="2.1" fill="url(#b20)"/><circle cx="143" cy="108.1" r="2.1" fill="url(#b14)"/><circle cx="155.2" cy="108.2" r="1.7" fill="url(#b12)"/><circle cx="157.2" cy="108.3" r="1.7" fill="url(#b13)"/><circle cx="170.4" cy="108.3" r="1.8" fill="url(#b20)"/><circle cx="164.3" cy="108.3" r="1.7" fill="url(#b19)"/><circle cx="144.5" cy="108.3" r="1.7" fill="url(#b14)"/><circle cx="144.9" cy="108.5" r="2.3" fill="url(#b14)"/><circle cx="151.6" cy="108.5" r="1.7" fill="url(#b14)"/><circle cx="177" cy="108.8" r="2.4" fill="url(#b20)"/><circle cx="172.9" cy="108.8" r="2.3" fill="url(#b19)"/><circle cx="143.9" cy="108.9" r="1.8" fill="url(#b14)"/><circle cx="182.4" cy="108.9" r="2.1" fill="url(#b20)"/><circle cx="153.8" cy="109" r="2.5" fill="url(#b13)"/><circle cx="170.8" cy="109" r="2.2" fill="url(#b20)"/><circle cx="164.5" cy="109.1" r="1.8" fill="url(#b18)"/><circle cx="182.1" cy="109.1" r="2.1" fill="url(#b20)"/><circle cx="152.9" cy="109.2" r="2" fill="url(#b13)"/><circle cx="162.7" cy="109.2" r="1.6" fill="url(#b17)"/><circle cx="152.2" cy="109.3" r="2.4" fill="url(#b13)"/><circle cx="170.6" cy="109.6" r="1.8" fill="url(#b19)"/><circle cx="183.6" cy="109.7" r="2.4" fill="url(#b20)"/><circle cx="177" cy="110" r="1.8" fill="url(#b19)"/><circle cx="168.4" cy="110.1" r="2" fill="url(#b19)"/><circle cx="158.2" cy="110.1" r="1.6" fill="url(#b13)"/><circle cx="168.5" cy="110.2" r="2.1" fill="url(#b19)"/><circle cx="142.7" cy="110.4" r="2.2" fill="url(#b14)"/><circle cx="149.3" cy="110.4" r="2.2" fill="url(#b14)"/><circle cx="157" cy="110.5" r="1.8" fill="url(#b13)"/><circle cx="131" cy="110.5" r="1.6" fill="url(#b14)"/><circle cx="135" cy="110.5" r="1.6" fill="url(#b14)"/><circle cx="144.6" cy="110.6" r="1.9" fill="url(#b14)"/><circle cx="177.4" cy="110.7" r="1.7" fill="url(#b19)"/><circle cx="141.1" cy="110.7" r="1.8" fill="url(#b14)"/><circle cx="167.7" cy="110.8" r="1.7" fill="url(#b19)"/><circle cx="140.7" cy="111" r="1.7" fill="url(#b14)"/><circle cx="171" cy="111.2" r="2.3" fill="url(#b19)"/><circle cx="144.1" cy="111.2" r="1.6" fill="url(#b14)"/><circle cx="165.9" cy="111.3" r="2" fill="url(#b18)"/><circle cx="157" cy="111.4" r="2.1" fill="url(#b13)"/><circle cx="141.2" cy="111.5" r="2.3" fill="url(#b14)"/><circle cx="139.5" cy="111.5" r="1.5" fill="url(#b14)"/><circle cx="148" cy="111.8" r="1.8" fill="url(#b14)"/><circle cx="159.9" cy="111.9" r="1.7" fill="url(#b15)"/><circle cx="147.7" cy="111.9" r="2.3" fill="url(#b14)"/><circle cx="174.6" cy="112" r="2.4" fill="url(#b19)"/><circle cx="150.8" cy="112" r="1.9" fill="url(#b14)"/><circle cx="167.5" cy="112.1" r="1.9" fill="url(#b18)"/><circle cx="156.5" cy="112.3" r="2.4" fill="url(#b14)"/><circle cx="174.3" cy="112.3" r="2.2" fill="url(#b19)"/><circle cx="148.6" cy="112.3" r="2.3" fill="url(#b14)"/><circle cx="168.7" cy="112.4" r="2.4" fill="url(#b18)"/><circle cx="176.7" cy="112.9" r="1.6" fill="url(#b19)"/><circle cx="150.2" cy="113" r="2.4" fill="url(#b14)"/><circle cx="171.5" cy="113" r="2.3" fill="url(#b18)"/><circle cx="147.9" cy="113" r="2.3" fill="url(#b14)"/><circle cx="154.6" cy="113.1" r="2" fill="url(#b14)"/><circle cx="142.7" cy="113.2" r="2.3" fill="url(#b14)"/><circle cx="159.5" cy="113.2" r="1.7" fill="url(#b15)"/><circle cx="168" cy="113.3" r="2.4" fill="url(#b18)"/><circle cx="142.8" cy="113.5" r="2.2" fill="url(#b14)"/><circle cx="151" cy="113.5" r="1.6" fill="url(#b14)"/><circle cx="171.9" cy="113.6" r="2.1" fill="url(#b18)"/><circle cx="144.6" cy="113.7" r="2" fill="url(#b14)"/><circle cx="145.3" cy="113.8" r="2.2" fill="url(#b14)"/><circle cx="175.4" cy="113.9" r="1.6" fill="url(#b18)"/><circle cx="141.2" cy="114.1" r="2.1" fill="url(#b14)"/><circle cx="155" cy="114.1" r="1.9" fill="url(#b14)"/><circle cx="142.8" cy="114.3" r="1.7" fill="url(#b14)"/><circle cx="155" cy="114.5" r="2.4" fill="url(#b14)"/><circle cx="166.4" cy="114.6" r="1.6" fill="url(#b17)"/><circle cx="158.6" cy="114.8" r="2.4" fill="url(#b15)"/><circle cx="162.1" cy="115.1" r="2.3" fill="url(#b15)"/><circle cx="147.4" cy="115.4" r="1.8" fill="url(#b14)"/><circle cx="143.4" cy="115.7" r="1.9" fill="url(#b14)"/><circle cx="163.6" cy="116" r="1.7" fill="url(#b16)"/><circle cx="165.1" cy="116.1" r="1.9" fill="url(#b16)"/><circle cx="171.6" cy="116.1" r="1.9" fill="url(#b17)"/><circle cx="164.4" cy="116.2" r="2.2" fill="url(#b16)"/><circle cx="142.1" cy="116.4" r="2.2" fill="url(#b14)"/><circle cx="161.7" cy="116.4" r="2.3" fill="url(#b15)"/><circle cx="176.8" cy="116.5" r="2.1" fill="url(#b18)"/><circle cx="156.5" cy="116.6" r="1.9" fill="url(#b15)"/><circle cx="163.4" cy="117" r="1.8" fill="url(#b15)"/><circle cx="144.8" cy="117" r="2.1" fill="url(#b14)"/><circle cx="168.7" cy="117" r="1.6" fill="url(#b17)"/><circle cx="167" cy="117" r="1.6" fill="url(#b16)"/><circle cx="157.4" cy="117.1" r="1.8" fill="url(#b15)"/><circle cx="167.1" cy="117.2" r="2.1" fill="url(#b16)"/><circle cx="137.9" cy="117.3" r="2.1" fill="url(#b13)"/><circle cx="155.3" cy="117.3" r="1.9" fill="url(#b15)"/><circle cx="154.9" cy="117.3" r="2.1" fill="url(#b15)"/><circle cx="159.3" cy="117.4" r="1.9" fill="url(#b15)"/><circle cx="177.3" cy="117.4" r="2.2" fill="url(#b17)"/><circle cx="168.8" cy="117.7" r="2.2" fill="url(#b16)"/><circle cx="163" cy="117.7" r="1.8" fill="url(#b15)"/><circle cx="173.8" cy="117.8" r="2.4" fill="url(#b17)"/><circle cx="176.4" cy="117.9" r="1.6" fill="url(#b17)"/><circle cx="158.4" cy="117.9" r="2.1" fill="url(#b15)"/><circle cx="165.2" cy="118" r="2.1" fill="url(#b16)"/><circle cx="144" cy="118.1" r="1.6" fill="url(#b14)"/><circle cx="154.3" cy="118.2" r="1.7" fill="url(#b15)"/><circle cx="150.4" cy="118.3" r="2.4" fill="url(#b14)"/><circle cx="159.5" cy="118.3" r="2.3" fill="url(#b15)"/><circle cx="174.8" cy="118.4" r="1.9" fill="url(#b17)"/><circle cx="147.5" cy="118.5" r="1.8" fill="url(#b14)"/><circle cx="155.6" cy="118.6" r="1.7" fill="url(#b15)"/><circle cx="156.5" cy="118.6" r="1.6" fill="url(#b15)"/><circle cx="148.3" cy="118.7" r="2" fill="url(#b14)"/><circle cx="155.4" cy="118.7" r="2" fill="url(#b15)"/><circle cx="155.5" cy="119" r="1.6" fill="url(#b15)"/><circle cx="154.4" cy="119.1" r="1.8" fill="url(#b15)"/><circle cx="137.3" cy="119.3" r="1.6" fill="url(#b13)"/><circle cx="148.1" cy="119.3" r="2.2" fill="url(#b14)"/><circle cx="173.6" cy="119.4" r="2" fill="url(#b16)"/><circle cx="175.6" cy="119.4" r="2.1" fill="url(#b16)"/><circle cx="150.6" cy="119.4" r="1.9" fill="url(#b14)"/><circle cx="160.3" cy="119.5" r="2.2" fill="url(#b15)"/><circle cx="155.2" cy="119.7" r="2" fill="url(#b15)"/><circle cx="173" cy="120.1" r="1.8" fill="url(#b16)"/><circle cx="154.8" cy="120.2" r="1.9" fill="url(#b15)"/><circle cx="168" cy="120.4" r="2" fill="url(#b16)"/><circle cx="173.9" cy="120.6" r="2.5" fill="url(#b16)"/><circle cx="174.4" cy="120.6" r="1.9" fill="url(#b16)"/><circle cx="156.6" cy="120.7" r="1.9" fill="url(#b15)"/><circle cx="148.2" cy="120.8" r="1.8" fill="url(#b14)"/><circle cx="156.5" cy="120.9" r="1.7" fill="url(#b15)"/><circle cx="157.4" cy="120.9" r="2.5" fill="url(#b15)"/><circle cx="159" cy="120.9" r="2.1" fill="url(#b15)"/><circle cx="160.6" cy="121" r="2.4" fill="url(#b15)"/><circle cx="160" cy="121.2" r="1.6" fill="url(#b15)"/><circle cx="171.8" cy="121.3" r="2.3" fill="url(#b16)"/><circle cx="152.8" cy="121.4" r="2.4" fill="url(#b14)"/><circle cx="172.2" cy="121.7" r="1.8" fill="url(#b16)"/><circle cx="135.5" cy="121.8" r="2.2" fill="url(#b12)"/><circle cx="146" cy="121.9" r="2.3" fill="url(#b13)"/><circle cx="167.5" cy="122" r="2.1" fill="url(#b16)"/><circle cx="139.9" cy="122" r="1.7" fill="url(#b12)"/><circle cx="165.3" cy="122" r="1.7" fill="url(#b15)"/><circle cx="159.6" cy="122.2" r="2.5" fill="url(#b15)"/><circle cx="137.7" cy="122.3" r="1.6" fill="url(#b12)"/><circle cx="171.4" cy="122.3" r="2.1" fill="url(#b16)"/><circle cx="135.6" cy="122.3" r="2" fill="url(#b11)"/><circle cx="156.9" cy="122.4" r="1.9" fill="url(#b15)"/><circle cx="159.6" cy="122.5" r="2" fill="url(#b15)"/><circle cx="169.9" cy="122.7" r="1.9" fill="url(#b16)"/><circle cx="150.6" cy="122.7" r="2.1" fill="url(#b14)"/><circle cx="152.5" cy="122.8" r="2.3" fill="url(#b14)"/><circle cx="168.3" cy="122.9" r="2.2" fill="url(#b16)"/><circle cx="153.6" cy="123.3" r="2" fill="url(#b14)"/><circle cx="135.1" cy="123.9" r="1.6" fill="url(#b11)"/><circle cx="167.8" cy="123.9" r="1.8" fill="url(#b15)"/><circle cx="142" cy="124" r="1.9" fill="url(#b13)"/><circle cx="144.9" cy="124" r="1.9" fill="url(#b13)"/><circle cx="144.5" cy="124" r="2" fill="url(#b13)"/><circle cx="135.9" cy="124" r="1.7" fill="url(#b11)"/><circle cx="170.5" cy="124" r="2.4" fill="url(#b16)"/><circle cx="154.1" cy="124.1" r="2.1" fill="url(#b14)"/><circle cx="164.4" cy="124.7" r="1.8" fill="url(#b15)"/><circle cx="155.2" cy="124.8" r="2.2" fill="url(#b14)"/><circle cx="141.8" cy="125" r="2.4" fill="url(#b12)"/><circle cx="133.1" cy="125.1" r="2" fill="url(#b11)"/><circle cx="147.4" cy="125.1" r="2.4" fill="url(#b13)"/><circle cx="145.8" cy="125.2" r="2.2" fill="url(#b13)"/><circle cx="145.5" cy="125.4" r="2.2" fill="url(#b13)"/><circle cx="158.9" cy="125.4" r="2.4" fill="url(#b14)"/><circle cx="138.5" cy="125.4" r="2.2" fill="url(#b12)"/><circle cx="160.7" cy="125.5" r="2.2" fill="url(#b14)"/><circle cx="147.4" cy="125.5" r="2.4" fill="url(#b13)"/><circle cx="152" cy="125.9" r="2.5" fill="url(#b13)"/><circle cx="161.5" cy="125.9" r="1.9" fill="url(#b14)"/><circle cx="136.4" cy="126.1" r="1.6" fill="url(#b11)"/><circle cx="145.2" cy="126.4" r="2.4" fill="url(#b13)"/><circle cx="168.3" cy="126.5" r="2.5" fill="url(#b15)"/><circle cx="142.8" cy="126.6" r="2.1" fill="url(#b12)"/><circle cx="162.1" cy="126.6" r="2.2" fill="url(#b14)"/><circle cx="150.8" cy="126.7" r="2.1" fill="url(#b13)"/><circle cx="155.2" cy="126.7" r="2" fill="url(#b13)"/><circle cx="147.4" cy="126.8" r="2.4" fill="url(#b13)"/><circle cx="131.3" cy="126.8" r="1.7" fill="url(#b11)"/><circle cx="162.4" cy="127.1" r="2.4" fill="url(#b14)"/><circle cx="154.3" cy="127.2" r="1.8" fill="url(#b13)"/><circle cx="143.5" cy="127.3" r="1.7" fill="url(#b12)"/><circle cx="138.8" cy="127.4" r="1.6" fill="url(#b12)"/><circle cx="157.1" cy="127.4" r="2.4" fill="url(#b14)"/><circle cx="145.3" cy="127.5" r="1.6" fill="url(#b12)"/><circle cx="154.4" cy="127.6" r="1.6" fill="url(#b13)"/><circle cx="155.3" cy="127.7" r="2.1" fill="url(#b13)"/><circle cx="156.8" cy="127.7" r="2.3" fill="url(#b13)"/><circle cx="150.9" cy="127.9" r="1.6" fill="url(#b12)"/><circle cx="148.9" cy="127.9" r="1.6" fill="url(#b12)"/><circle cx="145.5" cy="128" r="1.7" fill="url(#b12)"/><circle cx="162.4" cy="128.1" r="2" fill="url(#b14)"/><circle cx="137.1" cy="128.2" r="2.2" fill="url(#b12)"/><circle cx="161.5" cy="128.3" r="1.9" fill="url(#b14)"/><circle cx="156.6" cy="128.3" r="1.8" fill="url(#b13)"/><circle cx="138.9" cy="128.7" r="2.3" fill="url(#b12)"/><circle cx="153.2" cy="129" r="2" fill="url(#b12)"/><circle cx="131.6" cy="129" r="1.6" fill="url(#b11)"/><circle cx="156" cy="129" r="1.7" fill="url(#b13)"/><circle cx="129.8" cy="129.1" r="1.8" fill="url(#b11)"/><circle cx="154.5" cy="129.8" r="1.7" fill="url(#b13)"/><circle cx="137.5" cy="130" r="2.4" fill="url(#b12)"/><circle cx="159.3" cy="130" r="2.2" fill="url(#b13)"/><circle cx="129.1" cy="130.1" r="1.9" fill="url(#b11)"/><circle cx="132.5" cy="130.3" r="2.2" fill="url(#b11)"/><circle cx="147.9" cy="130.3" r="2.3" fill="url(#b12)"/><circle cx="152.8" cy="130.6" r="2.4" fill="url(#b12)"/><circle cx="154.1" cy="130.9" r="2.4" fill="url(#b12)"/><circle cx="152.6" cy="131" r="2.3" fill="url(#b12)"/><circle cx="159.1" cy="131" r="1.9" fill="url(#b13)"/><circle cx="139.9" cy="131" r="1.9" fill="url(#b12)"/><circle cx="149.2" cy="131" r="2.4" fill="url(#b12)"/><circle cx="129" cy="131.2" r="2.3" fill="url(#b11)"/><circle cx="162.8" cy="131.4" r="1.6" fill="url(#b13)"/><circle cx="136.9" cy="131.7" r="2" fill="url(#b12)"/><circle cx="150.3" cy="131.8" r="1.9" fill="url(#b12)"/><circle cx="134.6" cy="131.9" r="2.2" fill="url(#b11)"/><circle cx="151.1" cy="132" r="1.7" fill="url(#b12)"/><circle cx="153.8" cy="132.2" r="1.8" fill="url(#b12)"/><circle cx="154.3" cy="132.3" r="1.7" fill="url(#b12)"/><circle cx="140.5" cy="132.4" r="1.9" fill="url(#b12)"/><circle cx="156.3" cy="132.9" r="1.8" fill="url(#b13)"/><circle cx="128.2" cy="133.1" r="1.6" fill="url(#b11)"/><circle cx="133.8" cy="133.4" r="2.3" fill="url(#b11)"/><circle cx="149.1" cy="133.5" r="2.3" fill="url(#b12)"/><circle cx="156.4" cy="133.5" r="1.9" fill="url(#b13)"/><circle cx="136" cy="133.9" r="2.1" fill="url(#b11)"/><circle cx="145.3" cy="134.3" r="2.4" fill="url(#b12)"/><circle cx="148.2" cy="134.5" r="1.9" fill="url(#b12)"/><circle cx="148.6" cy="134.6" r="1.6" fill="url(#b12)"/><circle cx="158.6" cy="134.6" r="1.6" fill="url(#b13)"/><circle cx="133" cy="134.8" r="2.4" fill="url(#b11)"/><circle cx="128.1" cy="135" r="1.8" fill="url(#b11)"/><circle cx="155" cy="135.1" r="2.4" fill="url(#b12)"/><circle cx="150.4" cy="135.3" r="2.3" fill="url(#b12)"/><circle cx="140.8" cy="135.3" r="2.4" fill="url(#b12)"/><circle cx="142.3" cy="135.6" r="2.2" fill="url(#b12)"/><circle cx="130.9" cy="135.6" r="1.6" fill="url(#b11)"/><circle cx="132.8" cy="135.8" r="2.3" fill="url(#b11)"/><circle cx="144.5" cy="135.8" r="2.4" fill="url(#b12)"/><circle cx="153.7" cy="135.9" r="1.8" fill="url(#b12)"/><circle cx="141.5" cy="136" r="1.8" fill="url(#b11)"/><circle cx="137" cy="136.1" r="1.9" fill="url(#b11)"/><circle cx="152.2" cy="136.2" r="2" fill="url(#b12)"/><circle cx="144.7" cy="136.3" r="2" fill="url(#b12)"/><circle cx="133" cy="136.8" r="1.8" fill="url(#b11)"/><circle cx="143.2" cy="136.8" r="2.5" fill="url(#b11)"/><circle cx="145.7" cy="136.8" r="2.3" fill="url(#b12)"/><circle cx="132.9" cy="136.9" r="2.4" fill="url(#b11)"/><circle cx="125" cy="137.1" r="1.6" fill="url(#b10)"/><circle cx="144.8" cy="137.4" r="2.1" fill="url(#b12)"/><circle cx="147.7" cy="137.4" r="2" fill="url(#b12)"/><circle cx="134.7" cy="137.6" r="1.7" fill="url(#b11)"/><circle cx="149.3" cy="137.7" r="1.6" fill="url(#b12)"/><circle cx="145.9" cy="137.9" r="2.2" fill="url(#b12)"/><circle cx="139.4" cy="137.9" r="2.4" fill="url(#b11)"/><circle cx="152" cy="137.9" r="2.2" fill="url(#b12)"/><circle cx="139.5" cy="137.9" r="1.9" fill="url(#b11)"/><circle cx="154.9" cy="138" r="2.3" fill="url(#b12)"/><circle cx="138.4" cy="138.3" r="2.5" fill="url(#b11)"/><circle cx="154.5" cy="138.3" r="2.3" fill="url(#b12)"/><circle cx="131.8" cy="138.4" r="1.8" fill="url(#b11)"/><circle cx="133.3" cy="138.5" r="2" fill="url(#b11)"/><circle cx="153" cy="138.8" r="2.4" fill="url(#b12)"/><circle cx="144.8" cy="139" r="1.9" fill="url(#b11)"/><circle cx="152.7" cy="139.1" r="2.2" fill="url(#b11)"/><circle cx="150.4" cy="139.1" r="2.3" fill="url(#b11)"/><circle cx="136.9" cy="139.2" r="2.5" fill="url(#b11)"/><circle cx="137.1" cy="139.3" r="1.8" fill="url(#b11)"/><circle cx="130.4" cy="139.3" r="2" fill="url(#b11)"/><circle cx="148.4" cy="139.7" r="1.6" fill="url(#b11)"/><circle cx="141.6" cy="139.7" r="1.8" fill="url(#b11)"/><circle cx="151.5" cy="139.7" r="1.9" fill="url(#b11)"/><circle cx="148.9" cy="139.9" r="2.3" fill="url(#b11)"/><circle cx="129.3" cy="140" r="1.9" fill="url(#b10)"/><circle cx="134.1" cy="140.3" r="2.3" fill="url(#b10)"/><circle cx="151.9" cy="140.3" r="1.7" fill="url(#b11)"/><circle cx="122.6" cy="140.5" r="2.1" fill="url(#b10)"/><circle cx="146.3" cy="140.7" r="1.8" fill="url(#b11)"/><circle cx="131.4" cy="140.8" r="1.9" fill="url(#b10)"/><circle cx="142.4" cy="140.8" r="2.4" fill="url(#b10)"/><circle cx="141.4" cy="141" r="2.1" fill="url(#b10)"/><circle cx="129.8" cy="141.1" r="2.5" fill="url(#b10)"/><circle cx="121.4" cy="141.5" r="2.4" fill="url(#b10)"/><circle cx="131.9" cy="141.6" r="1.6" fill="url(#b10)"/><circle cx="126.4" cy="141.9" r="2.5" fill="url(#b10)"/><circle cx="124.7" cy="141.9" r="1.9" fill="url(#b10)"/><circle cx="145.7" cy="142.1" r="1.8" fill="url(#b11)"/><circle cx="131" cy="142.2" r="2.3" fill="url(#b10)"/><circle cx="143.2" cy="142.3" r="1.9" fill="url(#b10)"/><circle cx="147.9" cy="142.3" r="2.3" fill="url(#b11)"/><circle cx="124.6" cy="142.4" r="1.8" fill="url(#b10)"/><circle cx="123.6" cy="142.5" r="2.2" fill="url(#b10)"/><circle cx="123" cy="142.5" r="2.5" fill="url(#b10)"/><circle cx="136.7" cy="142.7" r="1.7" fill="url(#b10)"/><circle cx="120.5" cy="142.9" r="2.2" fill="url(#b10)"/><circle cx="145.6" cy="143" r="1.8" fill="url(#b11)"/><circle cx="131.1" cy="143" r="1.6" fill="url(#b10)"/><circle cx="132.9" cy="143.8" r="2.2" fill="url(#b10)"/><circle cx="127.3" cy="143.8" r="1.7" fill="url(#b10)"/><circle cx="121.5" cy="144" r="1.8" fill="url(#b10)"/><circle cx="130" cy="144.1" r="1.8" fill="url(#b10)"/><circle cx="139" cy="144.4" r="1.6" fill="url(#b10)"/><circle cx="139.4" cy="144.8" r="2.5" fill="url(#b10)"/><circle cx="127.2" cy="144.9" r="1.7" fill="url(#b10)"/><circle cx="145.5" cy="145" r="2.1" fill="url(#b10)"/><circle cx="134.9" cy="145" r="2" fill="url(#b10)"/><circle cx="128.1" cy="145.3" r="2.1" fill="url(#b10)"/><circle cx="140.6" cy="145.5" r="2.3" fill="url(#b10)"/><circle cx="118.6" cy="145.6" r="1.7" fill="url(#b10)"/><circle cx="142.3" cy="145.6" r="2" fill="url(#b10)"/><circle cx="122.1" cy="145.6" r="1.7" fill="url(#b10)"/><circle cx="140.6" cy="145.6" r="1.9" fill="url(#b10)"/><circle cx="136.1" cy="146" r="2.4" fill="url(#b10)"/><circle cx="140.8" cy="146.4" r="2.4" fill="url(#b10)"/><circle cx="120.1" cy="146.5" r="2.5" fill="url(#b10)"/><circle cx="144.1" cy="146.6" r="1.8" fill="url(#b10)"/><circle cx="138.4" cy="146.7" r="2.3" fill="url(#b10)"/><circle cx="117.7" cy="146.8" r="2.5" fill="url(#b9)"/><circle cx="130.4" cy="146.9" r="1.6" fill="url(#b10)"/><circle cx="133.4" cy="147.2" r="2.5" fill="url(#b10)"/><circle cx="144" cy="147.4" r="2.2" fill="url(#b10)"/><circle cx="124" cy="147.4" r="2.4" fill="url(#b9)"/><circle cx="130" cy="147.8" r="2.2" fill="url(#b10)"/><circle cx="119.7" cy="148" r="2.2" fill="url(#b9)"/><circle cx="129.5" cy="148.3" r="2.2" fill="url(#b10)"/><circle cx="121.1" cy="148.3" r="1.9" fill="url(#b9)"/><circle cx="124.6" cy="148.4" r="2.3" fill="url(#b9)"/><circle cx="131" cy="148.7" r="2" fill="url(#b10)"/><circle cx="133.3" cy="148.8" r="1.9" fill="url(#b10)"/><circle cx="117.2" cy="149.1" r="2.5" fill="url(#b9)"/><circle cx="130.6" cy="149.3" r="2.2" fill="url(#b9)"/><circle cx="128.2" cy="149.4" r="1.7" fill="url(#b9)"/><circle cx="126" cy="150.1" r="1.7" fill="url(#b9)"/><circle cx="117.9" cy="150.4" r="1.7" fill="url(#b9)"/><circle cx="132.6" cy="150.9" r="2.1" fill="url(#b9)"/><circle cx="130.2" cy="150.9" r="2.3" fill="url(#b9)"/><circle cx="124.8" cy="151" r="1.8" fill="url(#b9)"/><circle cx="121.6" cy="151.3" r="2.2" fill="url(#b9)"/><circle cx="119" cy="151.5" r="1.8" fill="url(#b9)"/><circle cx="132.5" cy="151.6" r="1.6" fill="url(#b9)"/><circle cx="125.7" cy="152" r="1.7" fill="url(#b9)"/><circle cx="118.5" cy="152.3" r="1.9" fill="url(#b9)"/><circle cx="139.2" cy="152.5" r="1.8" fill="url(#b10)"/><circle cx="128.5" cy="152.8" r="2.4" fill="url(#b9)"/><circle cx="137.8" cy="152.9" r="1.7" fill="url(#b9)"/><circle cx="134.6" cy="153" r="1.8" fill="url(#b9)"/><circle cx="124.5" cy="153.1" r="2.4" fill="url(#b9)"/><circle cx="128.2" cy="153.2" r="1.8" fill="url(#b9)"/><circle cx="131.3" cy="153.3" r="2.2" fill="url(#b9)"/><circle cx="123.5" cy="153.5" r="2" fill="url(#b9)"/><circle cx="126.9" cy="153.5" r="1.8" fill="url(#b9)"/><circle cx="114.2" cy="153.5" r="1.9" fill="url(#b8)"/><circle cx="121.9" cy="153.6" r="2.4" fill="url(#b9)"/><circle cx="136" cy="153.7" r="2.3" fill="url(#b9)"/><circle cx="124.5" cy="153.7" r="1.9" fill="url(#b9)"/><circle cx="130.2" cy="153.9" r="1.7" fill="url(#b9)"/><circle cx="132.8" cy="154" r="1.6" fill="url(#b9)"/><circle cx="137.8" cy="154.3" r="2" fill="url(#b9)"/><circle cx="131.6" cy="154.4" r="2.4" fill="url(#b9)"/><circle cx="136.1" cy="154.4" r="2.3" fill="url(#b9)"/><circle cx="138.3" cy="154.5" r="2.2" fill="url(#b9)"/><circle cx="140.1" cy="154.6" r="1.7" fill="url(#b10)"/><circle cx="128.2" cy="154.8" r="2.1" fill="url(#b9)"/><circle cx="123" cy="154.9" r="2.2" fill="url(#b9)"/><circle cx="124.4" cy="154.9" r="1.7" fill="url(#b9)"/><circle cx="113.3" cy="155.4" r="2.3" fill="url(#b8)"/><circle cx="139.2" cy="155.4" r="1.9" fill="url(#b9)"/><circle cx="121.7" cy="155.6" r="1.8" fill="url(#b9)"/><circle cx="131.9" cy="155.9" r="2" fill="url(#b9)"/><circle cx="115.7" cy="156.3" r="1.8" fill="url(#b8)"/><circle cx="112.4" cy="156.5" r="2.1" fill="url(#b8)"/><circle cx="117.4" cy="156.6" r="1.9" fill="url(#b8)"/><circle cx="135" cy="156.9" r="2.4" fill="url(#b9)"/><circle cx="115.9" cy="157" r="2.4" fill="url(#b8)"/><circle cx="111.4" cy="157.4" r="2.3" fill="url(#b8)"/><circle cx="115.5" cy="157.4" r="1.6" fill="url(#b8)"/><circle cx="117.2" cy="158" r="2.2" fill="url(#b8)"/><circle cx="129.1" cy="158.1" r="1.9" fill="url(#b9)"/><circle cx="124.4" cy="158.2" r="2.2" fill="url(#b9)"/><circle cx="112.4" cy="158.2" r="2.2" fill="url(#b8)"/><circle cx="113.6" cy="158.2" r="2" fill="url(#b8)"/><circle cx="123.9" cy="158.3" r="2.2" fill="url(#b9)"/><circle cx="119.2" cy="158.4" r="2.5" fill="url(#b8)"/><circle cx="110.4" cy="158.4" r="2" fill="url(#b8)"/><circle cx="112.7" cy="158.4" r="1.7" fill="url(#b8)"/><circle cx="133.3" cy="158.4" r="2.3" fill="url(#b9)"/><circle cx="118.1" cy="158.7" r="1.6" fill="url(#b8)"/><circle cx="135.6" cy="158.8" r="2.4" fill="url(#b9)"/><circle cx="130.9" cy="159" r="2" fill="url(#b9)"/><circle cx="122.8" cy="159.2" r="1.9" fill="url(#b9)"/><circle cx="121.7" cy="159.3" r="2.1" fill="url(#b8)"/><circle cx="112" cy="159.3" r="2" fill="url(#b8)"/><circle cx="110.5" cy="159.4" r="1.7" fill="url(#b8)"/><circle cx="130.4" cy="159.5" r="1.8" fill="url(#b9)"/><circle cx="134.7" cy="159.6" r="2.1" fill="url(#b9)"/><circle cx="123.1" cy="159.8" r="1.7" fill="url(#b8)"/><circle cx="133.2" cy="160" r="2.3" fill="url(#b9)"/><circle cx="120.2" cy="160.3" r="1.7" fill="url(#b8)"/><circle cx="132.9" cy="160.4" r="1.8" fill="url(#b9)"/><circle cx="114.5" cy="160.4" r="2.1" fill="url(#b8)"/><circle cx="133.7" cy="160.9" r="1.7" fill="url(#b9)"/><circle cx="121.9" cy="160.9" r="1.4" fill="url(#b8)"/><circle cx="131.8" cy="161.2" r="2.4" fill="url(#b9)"/><circle cx="113.1" cy="161.2" r="1.4" fill="url(#b8)"/><circle cx="127.7" cy="161.9" r="2.2" fill="url(#b8)"/><circle cx="109.2" cy="162" r="1.2" fill="url(#b6)"/><circle cx="112.5" cy="162" r="1.3" fill="url(#b7)"/><circle cx="127.7" cy="162" r="1.9" fill="url(#b8)"/><circle cx="120.8" cy="162.1" r="1.4" fill="url(#b7)"/><circle cx="125" cy="162.2" r="1.5" fill="url(#b8)"/><circle cx="120.3" cy="162.2" r="1.4" fill="url(#b7)"/><circle cx="119.8" cy="162.5" r="1.5" fill="url(#b7)"/><circle cx="111.2" cy="162.7" r="1.4" fill="url(#b7)"/><circle cx="123.8" cy="162.9" r="1.8" fill="url(#b7)"/><circle cx="110.1" cy="163.2" r="1.6" fill="url(#b6)"/><circle cx="108.4" cy="163.2" r="1.7" fill="url(#b6)"/><circle cx="110.1" cy="163.6" r="1.7" fill="url(#b6)"/><circle cx="116.7" cy="163.8" r="1.8" fill="url(#b6)"/><circle cx="119.7" cy="164.1" r="1.5" fill="url(#b6)"/><circle cx="122.9" cy="164.1" r="1.8" fill="url(#b6)"/><circle cx="125.6" cy="164.2" r="1.9" fill="url(#b7)"/><circle cx="112" cy="164.3" r="1.9" fill="url(#b6)"/><circle cx="120.9" cy="164.4" r="1.7" fill="url(#b6)"/><circle cx="123.3" cy="164.5" r="1.7" fill="url(#b6)"/><circle cx="128.5" cy="164.5" r="1.3" fill="url(#b8)"/><circle cx="119.4" cy="164.6" r="1.7" fill="url(#b5)"/><circle cx="125.1" cy="164.7" r="1.7" fill="url(#b7)"/><circle cx="114.9" cy="165" r="1.5" fill="url(#b6)"/><circle cx="125.6" cy="165.1" r="1.9" fill="url(#b7)"/><circle cx="128.4" cy="165.2" r="1.4" fill="url(#b7)"/><circle cx="118.2" cy="165.3" r="1.4" fill="url(#b5)"/><circle cx="111.8" cy="165.5" r="1.6" fill="url(#b5)"/><circle cx="120.1" cy="166.2" r="1.5" fill="url(#b5)"/><circle cx="125" cy="166.4" r="1.2" fill="url(#b6)"/><circle cx="124.8" cy="166.4" r="1.8" fill="url(#b6)"/><circle cx="121" cy="166.8" r="1.4" fill="url(#b5)"/><circle cx="119.4" cy="166.9" r="1.5" fill="url(#b5)"/><circle cx="111.6" cy="167.3" r="1.7" fill="url(#b5)"/><circle cx="110.5" cy="167.4" r="1.3" fill="url(#b5)"/><circle cx="107.3" cy="167.4" r="1.6" fill="url(#b5)"/><circle cx="113.8" cy="167.6" r="1.6" fill="url(#b5)"/><circle cx="122.2" cy="167.8" r="1.5" fill="url(#b5)"/><circle cx="111" cy="167.9" r="1.3" fill="url(#b5)"/><circle cx="106" cy="168.1" r="1.9" fill="url(#b5)"/><circle cx="115.1" cy="168.5" r="1.6" fill="url(#b5)"/><circle cx="116.2" cy="168.7" r="1.6" fill="url(#b5)"/><circle cx="108.5" cy="168.8" r="1.8" fill="url(#b5)"/><circle cx="118.6" cy="169.2" r="1.3" fill="url(#b5)"/><circle cx="113.5" cy="169.3" r="1.3" fill="url(#b5)"/><circle cx="118.3" cy="169.4" r="1.3" fill="url(#b5)"/><circle cx="114.1" cy="169.5" r="1.7" fill="url(#b5)"/><circle cx="102.3" cy="169.6" r="1.3" fill="url(#b4)"/><circle cx="104.4" cy="170" r="1.3" fill="url(#b4)"/><circle cx="111.6" cy="170.4" r="1.9" fill="url(#b5)"/><circle cx="118.1" cy="170.4" r="1.6" fill="url(#b5)"/><circle cx="107.6" cy="170.6" r="1.4" fill="url(#b5)"/><circle cx="118.4" cy="170.6" r="1.5" fill="url(#b5)"/><circle cx="115.7" cy="170.8" r="1.6" fill="url(#b5)"/><circle cx="102" cy="171.1" r="1.6" fill="url(#b4)"/><circle cx="120.2" cy="171.1" r="1.2" fill="url(#b5)"/><circle cx="106.1" cy="171.2" r="1.5" fill="url(#b4)"/><circle cx="115.6" cy="171.4" r="1.9" fill="url(#b5)"/><circle cx="103.8" cy="171.6" r="1.3" fill="url(#b4)"/><circle cx="102.6" cy="171.8" r="1.5" fill="url(#b3)"/><circle cx="103.3" cy="171.9" r="1.4" fill="url(#b4)"/><circle cx="112.5" cy="172.7" r="1.5" fill="url(#b4)"/><circle cx="117.3" cy="172.7" r="1.8" fill="url(#b5)"/><circle cx="115" cy="173.2" r="1.5" fill="url(#b4)"/><circle cx="106.5" cy="173.6" r="1.6" fill="url(#b3)"/><circle cx="112" cy="175.9" r="0.7" fill="url(#b2)"/><circle cx="100.2" cy="176.1" r="0.9" fill="url(#b2)"/><circle cx="100.2" cy="176.7" r="0.8" fill="url(#b2)"/><circle cx="108.2" cy="177.6" r="0.6" fill="url(#b2)"/><circle cx="109.1" cy="177.6" r="0.7" fill="url(#b2)"/><circle cx="110.6" cy="177.7" r="0.9" fill="url(#b2)"/><circle cx="111.6" cy="178" r="0.8" fill="url(#b2)"/><circle cx="102.7" cy="179" r="1" fill="url(#b2)"/><circle cx="106.6" cy="179" r="0.6" fill="url(#b2)"/><circle cx="98.8" cy="179.3" r="0.9" fill="url(#b2)"/><circle cx="100.9" cy="181" r="0.7" fill="url(#b2)"/><circle cx="102.4" cy="182.2" r="0.9" fill="url(#b1)"/><polyline points="150,142 158,136.5 166,129.5 173,122 178,116 185.5,108.5 193,101 200.5,95 206,92 212,88.5 215.5,84 218.5,77.5 221.5,70.5 225.5,64 229,56.5 230.5,49" fill="none" stroke="#c8500e" stroke-width="2.2" stroke-opacity="0.55" stroke-linejoin="round"/><circle cx="195.9" cy="100.2" r="1.8" fill="url(#b25)"/><circle cx="191.3" cy="108.6" r="1.6" fill="url(#b21)"/><circle cx="183.5" cy="116.5" r="1.6" fill="url(#b20)"/><circle cx="205.7" cy="92.6" r="1.8" fill="url(#b28)"/><circle cx="217.8" cy="72" r="2.2" fill="url(#b32)"/><circle cx="215" cy="81" r="2.0" fill="url(#b31)"/><circle cx="224" cy="63" r="2.0" fill="url(#b33)"/><circle cx="170" cy="125" r="1.5" fill="url(#b16)"/><path d="M101.9 191.1h0.9v0.9h-0.9zM99.3 188.1h0.9v0.9h-0.9zM107 184.8h0.9v0.9h-0.9zM103.7 188.4h0.9v0.9h-0.9zM103.9 180.4h0.9v0.9h-0.9zM103.9 178.9h0.9v0.9h-0.9zM97.8 183.5h0.9v0.9h-0.9zM100.1 187h0.9v0.9h-0.9zM97.1 187.2h0.9v0.9h-0.9zM102.8 183h0.9v0.9h-0.9zM99 180.2h0.9v0.9h-0.9zM104.4 188.9h0.9v0.9h-0.9zM99.2 190h0.9v0.9h-0.9zM95.7 181.9h0.9v0.9h-0.9zM107.3 179.9h0.9v0.9h-0.9zM102.8 190h0.9v0.9h-0.9zM92.8 184.1h0.9v0.9h-0.9zM98.3 181.6h0.9v0.9h-0.9zM95.8 182.5h0.9v0.9h-0.9zM95.2 185.1h0.9v0.9h-0.9zM102.3 187.2h0.9v0.9h-0.9zM99.6 184.9h0.9v0.9h-0.9zM107 179h0.9v0.9h-0.9zM95.2 181.1h0.9v0.9h-0.9zM103.8 183.2h0.9v0.9h-0.9zM94 187.1h0.9v0.9h-0.9zM95.7 183.8h0.9v0.9h-0.9zM95.8 181.3h0.9v0.9h-0.9zM102 184.3h0.9v0.9h-0.9zM95.7 190.2h0.9v0.9h-0.9zM101 178.3h0.9v0.9h-0.9zM97.2 183h0.9v0.9h-0.9zM95.9 185.6h0.9v0.9h-0.9zM103.6 185.1h0.9v0.9h-0.9zM98 180.4h0.9v0.9h-0.9z" fill="#6a5050"/><line x1="26" y1="34.5" x2="32" y2="187.5" stroke="#1a1a1a" stroke-width="1.3"/><line x1="32" y1="187.5" x2="151.8" y2="231.2" stroke="#1a1a1a" stroke-width="1.0"/><line x1="151.8" y1="231.2" x2="247.8" y2="180.5" stroke="#1a1a1a" stroke-width="1.0"/><line x1="305.5" y1="33.8" x2="413.2" y2="16.3" stroke="#a8a8a8" stroke-width="0.8"/><line x1="413.2" y1="16.3" x2="413.4" y2="151.4" stroke="#a8a8a8" stroke-width="0.8"/><line x1="413.2" y1="16.3" x2="535.3" y2="31.5" stroke="#a8a8a8" stroke-width="0.8"/><line x1="535.3" y1="31.5" x2="528.6" y2="183.6" stroke="#a8a8a8" stroke-width="0.8"/><line x1="311.9" y1="190.6" x2="413.4" y2="151.4" stroke="#a8a8a8" stroke-width="0.8"/><line x1="413.4" y1="151.4" x2="528.6" y2="183.6" stroke="#a8a8a8" stroke-width="0.8"/><path d="M333 30 L329.5 40 L327.5 50 L328 60 L330.5 70 L334.5 79 L340 88 L345 96 L350 105 L355 114 L359 121.5 L364.7 132 L370 138 L374.5 142 L380 146 L384.4 147 L387 134.5 L388 119.7 L389.4 104.8 L387 92 L380.5 88 L374 80 L363 73 L350 55 L338 30.6Z" fill="#f99a25" /><path d="M339.2 32.1h1v1h-1zM374.3 142h1v1h-1zM388.4 110.5h1v1h-1zM347.4 49.7h1v1h-1zM347.8 49h1v1h-1zM357.1 64.1h1v1h-1zM388.1 115.1h1v1h-1zM336.3 82.9h1v1h-1zM387.3 131.6h1v1h-1zM353.2 58.1h1v1h-1zM388.1 114.6h1v1h-1zM372.9 142.8h1v1h-1zM384.8 145.8h1v1h-1zM329.5 67.6h1v1h-1zM363.6 131h1v1h-1zM344.8 96.4h1v1h-1zM380.7 146h1v1h-1zM331.3 32h1v1h-1zM350.7 55.7h1v1h-1zM364.9 134.1h1v1h-1zM388.4 114.6h1v1h-1zM345.5 99.7h1v1h-1zM388.1 119h1v1h-1zM358.6 66.3h1v1h-1zM332.9 77.9h1v1h-1zM387.3 95.5h1v1h-1zM386 137.4h1v1h-1zM387.9 123h1v1h-1zM340.3 35.6h1v1h-1zM350.1 106.1h1v1h-1zM389.2 103.8h1v1h-1zM388 127.4h1v1h-1zM389 103.9h1v1h-1zM363 129.7h1v1h-1zM329.5 68.8h1v1h-1zM387.2 124.1h1v1h-1zM388.5 111.9h1v1h-1zM381.3 146h1v1h-1zM329.2 66.4h1v1h-1zM387.9 126.2h1v1h-1zM376.3 82.4h1v1h-1zM327 49.6h1v1h-1zM387.6 122.6h1v1h-1zM375.8 81.6h1v1h-1zM350.9 109.2h1v1h-1zM389.4 107.6h1v1h-1zM387.3 128h1v1h-1zM328.3 38.2h1v1h-1zM355.4 60.6h1v1h-1zM334.8 28.3h1v1h-1zM376.7 82.6h1v1h-1zM388 98h1v1h-1zM359.5 66.6h1v1h-1zM339.7 33.9h1v1h-1zM388.1 114.8h1v1h-1zM387.7 118.5h1v1h-1zM327.1 60.5h1v1h-1zM388.5 118.9h1v1h-1zM352.4 111h1v1h-1zM387.6 96.3h1v1h-1zM330.1 71.5h1v1h-1zM357.6 121.9h1v1h-1zM347.2 102.5h1v1h-1zM353.3 111.8h1v1h-1zM372.4 78.4h1v1h-1zM386.5 138.4h1v1h-1zM325.2 49.3h1v1h-1zM389 105.7h1v1h-1zM326.5 55.6h1v1h-1zM358 120.2h1v1h-1zM386.8 129.6h1v1h-1zM377.1 83.9h1v1h-1zM387.7 94.6h1v1h-1zM326.3 50h1v1h-1zM329.5 69.1h1v1h-1zM335.1 80.5h1v1h-1zM352.1 54.5h1v1h-1zM344.8 97h1v1h-1zM326.1 61h1v1h-1zM353.5 58.7h1v1h-1zM365 73.1h1v1h-1zM346.2 99.8h1v1h-1zM368.8 137.1h1v1h-1zM374.1 79.5h1v1h-1zM346.2 99.2h1v1h-1zM358.2 65.3h1v1h-1zM357 64.1h1v1h-1zM359.6 68h1v1h-1zM378.5 83.6h1v1h-1zM362.7 72.1h1v1h-1zM327.4 47h1v1h-1zM346.4 48.2h1v1h-1zM367.7 75.5h1v1h-1zM387.7 123h1v1h-1zM385.1 89.9h1v1h-1zM354 116.6h1v1h-1zM344.5 96.1h1v1h-1zM352.5 110.4h1v1h-1zM329.1 67h1v1h-1zM384.8 90.3h1v1h-1zM336.1 83.2h1v1h-1zM341.9 37.1h1v1h-1zM356.4 63.6h1v1h-1zM331.5 73.4h1v1h-1zM355.5 61.2h1v1h-1zM347.3 49.7h1v1h-1zM338.2 86.2h1v1h-1zM358.7 67.1h1v1h-1zM367 135.4h1v1h-1zM357.7 120.1h1v1h-1zM388.1 116.3h1v1h-1zM339.7 34.4h1v1h-1zM355.2 115.6h1v1h-1zM329.3 37.5h1v1h-1zM386.6 136.4h1v1h-1zM379.9 86h1v1h-1zM370.5 77.3h1v1h-1zM366 135.8h1v1h-1zM334.3 80.7h1v1h-1zM363.5 132.3h1v1h-1zM362.9 129.3h1v1h-1zM387.1 126.8h1v1h-1zM369.6 76.6h1v1h-1zM378.9 145.4h1v1h-1zM345.8 45.6h1v1h-1zM338.9 30.2h1v1h-1zM354.7 60.9h1v1h-1zM337.1 84.1h1v1h-1zM334 28.9h1v1h-1zM348.2 50.6h1v1h-1zM356.4 117.5h1v1h-1zM330.3 33.3h1v1h-1zM389.5 101.2h1v1h-1zM336.8 29.3h1v1h-1zM336.6 29.1h1v1h-1zM364.4 73.3h1v1h-1zM355.5 117.7h1v1h-1zM328.5 41.3h1v1h-1zM388.9 103.9h1v1h-1zM388.8 121.7h1v1h-1zM388.1 99.7h1v1h-1zM327.1 62.9h1v1h-1zM354 113.4h1v1h-1zM337.1 84.3h1v1h-1zM338.4 86.4h1v1h-1zM386.9 132.5h1v1h-1zM389.1 116.3h1v1h-1zM328 39.7h1v1h-1zM388.2 95.3h1v1h-1zM362 71.6h1v1h-1zM349 49.1h1v1h-1zM352.7 58.4h1v1h-1zM353.4 113.2h1v1h-1zM342.6 36.8h1v1h-1zM342.2 38.5h1v1h-1zM389.6 102.5h1v1h-1zM336.5 86.5h1v1h-1zM388.6 116.7h1v1h-1zM389.6 108.2h1v1h-1zM339.9 88.5h1v1h-1zM389 112.6h1v1h-1zM348.1 103.6h1v1h-1zM345.9 99.5h1v1h-1zM346.5 46.3h1v1h-1zM385.8 139.4h1v1h-1zM372.2 77.9h1v1h-1zM388.4 127.9h1v1h-1zM367.3 74.7h1v1h-1zM356.7 63.3h1v1h-1zM346.7 48.7h1v1h-1zM339.1 87.3h1v1h-1zM366.3 134.3h1v1h-1zM363.4 132.8h1v1h-1zM368.4 138.4h1v1h-1zM345.3 44h1v1h-1zM364.7 72.4h1v1h-1zM388.3 121.9h1v1h-1zM352.8 110.9h1v1h-1zM347.5 101.8h1v1h-1zM388.4 112.4h1v1h-1zM350.5 108.2h1v1h-1zM386.6 133.9h1v1h-1zM332.4 29.5h1v1h-1zM377.7 83.7h1v1h-1zM326.9 51h1v1h-1zM342 36.2h1v1h-1zM355.9 116.2h1v1h-1zM329.4 67.5h1v1h-1zM363.2 131.2h1v1h-1zM362.3 131.1h1v1h-1zM387.3 125h1v1h-1zM327.2 56h1v1h-1zM357.8 64.5h1v1h-1zM331.7 31.2h1v1h-1zM343 40.8h1v1h-1zM381.3 87.7h1v1h-1zM384.3 147.3h1v1h-1zM361.3 127.8h1v1h-1zM344.3 42.4h1v1h-1zM341.2 91.5h1v1h-1zM370.8 75.4h1v1h-1zM332.2 30.1h1v1h-1zM353.5 57.8h1v1h-1zM374.3 142.7h1v1h-1zM355.1 117.7h1v1h-1zM378.1 84.7h1v1h-1zM356.8 119h1v1h-1zM372.4 140.4h1v1h-1zM335.4 83.6h1v1h-1zM355.1 117.3h1v1h-1zM339.3 89.2h1v1h-1zM354.4 116.9h1v1h-1zM334.9 80.6h1v1h-1zM348.9 52.4h1v1h-1zM336.3 84.5h1v1h-1zM349 105h1v1h-1zM347 48.5h1v1h-1zM356.4 117.4h1v1h-1zM369.3 76.7h1v1h-1zM359.3 126h1v1h-1zM359.7 67.4h1v1h-1zM327.7 45.4h1v1h-1zM342.4 39.3h1v1h-1zM376 143.2h1v1h-1zM344.7 96.9h1v1h-1zM363.9 131h1v1h-1zM390.1 110.1h1v1h-1zM364.7 132.2h1v1h-1zM349.6 106.5h1v1h-1zM366.1 134.1h1v1h-1zM356.3 63.6h1v1h-1zM371.9 140.8h1v1h-1zM374.9 142.6h1v1h-1zM343.8 95h1v1h-1zM326.2 56.2h1v1h-1zM329 38.9h1v1h-1zM338.3 31.3h1v1h-1zM361.3 127.8h1v1h-1zM377.3 144.5h1v1h-1zM360.3 128.1h1v1h-1zM388.2 118.8h1v1h-1zM384.3 145.4h1v1h-1zM349.7 54.4h1v1h-1zM389 108.5h1v1h-1zM387.2 93.9h1v1h-1zM326.5 50.2h1v1h-1zM331.3 31.6h1v1h-1zM355.6 117.3h1v1h-1zM341.9 38.4h1v1h-1zM387.9 98h1v1h-1zM331.6 30.3h1v1h-1zM347.3 100.9h1v1h-1zM350.4 55.1h1v1h-1zM369.7 138h1v1h-1zM328.6 40h1v1h-1zM345.8 99.4h1v1h-1zM353.7 112.6h1v1h-1zM361.2 67.9h1v1h-1zM352.3 111.8h1v1h-1zM387.2 93.4h1v1h-1zM387.3 122.5h1v1h-1zM355.5 115.9h1v1h-1zM359.3 65.6h1v1h-1zM365 132.6h1v1h-1zM329.6 70h1v1h-1zM376.5 82.3h1v1h-1zM373.3 78.9h1v1h-1zM362 128.5h1v1h-1zM332 76.4h1v1h-1zM351.4 109.3h1v1h-1zM341.4 91.8h1v1h-1zM381.7 146.1h1v1h-1zM331.8 30.6h1v1h-1zM374.3 143.3h1v1h-1zM387.3 127.6h1v1h-1zM325.6 59h1v1h-1zM340.9 35.7h1v1h-1zM325.8 59.4h1v1h-1zM387.3 128.1h1v1h-1zM380.9 87.4h1v1h-1zM345 44.7h1v1h-1zM360.4 66.9h1v1h-1zM330.8 33.2h1v1h-1zM384 89.8h1v1h-1zM386.3 138.4h1v1h-1zM389.2 104.1h1v1h-1zM347.3 101.9h1v1h-1zM331.8 28.9h1v1h-1zM334.7 81.1h1v1h-1zM333.1 78.7h1v1h-1zM388.9 105h1v1h-1zM329.2 38.5h1v1h-1zM387.2 124.2h1v1h-1zM340.9 35.6h1v1h-1zM361 69h1v1h-1zM356.2 63.7h1v1h-1zM376.5 81.2h1v1h-1zM329.6 34.9h1v1h-1zM327.1 56.4h1v1h-1zM331 30.2h1v1h-1zM364.4 73.4h1v1h-1zM372.3 140.3h1v1h-1zM389.4 98.5h1v1h-1zM348.7 50.7h1v1h-1zM379.9 86.2h1v1h-1zM357.2 120.1h1v1h-1zM326.8 48.9h1v1h-1zM375.4 81.4h1v1h-1zM353.9 59.9h1v1h-1zM376.1 143.8h1v1h-1zM327.1 48.1h1v1h-1zM384.3 89.7h1v1h-1zM358.6 123.1h1v1h-1zM360.8 68h1v1h-1zM363.8 131h1v1h-1zM388 122.7h1v1h-1zM386.9 130.4h1v1h-1zM332 74.3h1v1h-1zM387.4 120.6h1v1h-1zM353.2 112.8h1v1h-1zM351.4 109.8h1v1h-1zM327.2 56.1h1v1h-1zM325.8 45.5h1v1h-1zM372.2 139.9h1v1h-1zM326.2 54.6h1v1h-1zM326.6 53.5h1v1h-1zM351.7 109.6h1v1h-1zM348.7 50h1v1h-1zM388.2 132.3h1v1h-1zM369.1 137.2h1v1h-1zM357.8 120.2h1v1h-1zM350.1 50.6h1v1h-1zM328.4 38.1h1v1h-1zM326.9 53.8h1v1h-1zM338.9 32.8h1v1h-1zM352.1 109.6h1v1h-1zM334.8 29h1v1h-1zM344.6 43.8h1v1h-1zM342.6 93.9h1v1h-1zM375.8 80.7h1v1h-1zM335.9 29.6h1v1h-1zM345 99.8h1v1h-1zM348.2 103.1h1v1h-1zM386.5 135.7h1v1h-1zM387.4 125.6h1v1h-1zM386.5 134.6h1v1h-1zM360.4 124.7h1v1h-1zM388.5 121.8h1v1h-1zM327.2 42.5h1v1h-1zM350.4 106.9h1v1h-1zM354.3 59.8h1v1h-1zM387.5 119.4h1v1h-1zM354.7 60.3h1v1h-1zM372 140.7h1v1h-1zM326.1 50.9h1v1h-1zM388.9 105.9h1v1h-1zM351.8 110.8h1v1h-1zM337.7 85.9h1v1h-1zM354.1 60.6h1v1h-1zM345.7 46.3h1v1h-1zM341.5 36.4h1v1h-1zM368.5 76.2h1v1h-1zM378.3 85.2h1v1h-1zM330.9 72.7h1v1h-1zM386.2 135.5h1v1h-1zM370 77.2h1v1h-1zM327.8 41.9h1v1h-1zM345.5 97.4h1v1h-1zM366.3 74.8h1v1h-1zM329.8 33.8h1v1h-1zM377.9 145.4h1v1h-1zM355.5 115.6h1v1h-1zM361.1 126.2h1v1h-1zM363.2 132.4h1v1h-1zM382.9 89.2h1v1h-1zM346.6 100.5h1v1h-1zM354.7 114.2h1v1h-1zM343.2 94.3h1v1h-1zM356.7 63.6h1v1h-1zM356.9 119.5h1v1h-1zM388.3 111h1v1h-1zM369.6 138.6h1v1h-1zM341 37.2h1v1h-1zM377.3 83.6h1v1h-1zM339.2 89.5h1v1h-1zM328.9 66.2h1v1h-1zM361.6 129.8h1v1h-1zM380 145.9h1v1h-1zM388.3 126.5h1v1h-1zM356.3 118.3h1v1h-1zM328.1 40.4h1v1h-1zM378.9 84.3h1v1h-1zM354.3 59.3h1v1h-1zM367.3 136.2h1v1h-1zM359.2 66.6h1v1h-1zM346.8 48.4h1v1h-1zM356.5 63.6h1v1h-1zM387.5 135h1v1h-1zM331.4 32.1h1v1h-1zM331.1 72.9h1v1h-1zM373.7 142h1v1h-1zM376.6 83.2h1v1h-1zM333 78h1v1h-1zM352.3 57.2h1v1h-1zM362.9 130.8h1v1h-1zM376.6 144.7h1v1h-1zM355.2 115.4h1v1h-1zM354 59.2h1v1h-1zM354.6 61.5h1v1h-1zM371 139h1v1h-1zM385.9 145.5h1v1h-1zM338 87.4h1v1h-1zM373.7 79.5h1v1h-1zM389.5 105.8h1v1h-1zM359.1 122.7h1v1h-1zM388.5 122.1h1v1h-1zM387.2 92.8h1v1h-1zM330 71.2h1v1h-1zM355.2 62.2h1v1h-1zM328.8 37.1h1v1h-1zM356.1 62.4h1v1h-1zM330.5 30.9h1v1h-1zM329.1 66.5h1v1h-1zM354.5 61.2h1v1h-1zM346.8 100.2h1v1h-1zM378 83.2h1v1h-1zM353.4 111.8h1v1h-1zM351.9 109.7h1v1h-1zM375.5 143.7h1v1h-1zM359.8 68.7h1v1h-1zM352.3 111.8h1v1h-1zM387.2 133h1v1h-1zM329.5 69.4h1v1h-1zM339.1 32.9h1v1h-1zM378.1 84.6h1v1h-1zM339.2 87.6h1v1h-1zM330.9 72h1v1h-1zM327.2 60h1v1h-1zM387.8 128.9h1v1h-1zM356.3 117.1h1v1h-1zM327.5 44h1v1h-1zM356 119.4h1v1h-1zM384.7 145.8h1v1h-1zM356.6 120.3h1v1h-1zM336.8 30h1v1h-1zM388.1 95h1v1h-1zM327.6 68.1h1v1h-1zM384.8 143.7h1v1h-1zM354.1 59.4h1v1h-1zM339.5 89h1v1h-1zM379.9 145.7h1v1h-1zM364.5 72.9h1v1h-1zM359.4 67h1v1h-1zM341.7 92.2h1v1h-1zM354.6 59.5h1v1h-1zM331.3 74.3h1v1h-1zM364.6 73.7h1v1h-1zM359.8 68h1v1h-1zM331.8 74.3h1v1h-1zM326.8 50.1h1v1h-1zM366.3 74.6h1v1h-1zM331 31.8h1v1h-1zM373 140.8h1v1h-1zM327.2 41.2h1v1h-1zM330.4 31.3h1v1h-1zM330.6 73.8h1v1h-1zM330.7 72.3h1v1h-1zM331.7 74.8h1v1h-1zM339.1 87.2h1v1h-1zM360 69h1v1h-1zM328.5 39.2h1v1h-1zM388.2 122h1v1h-1zM357.1 119.2h1v1h-1zM351 56.3h1v1h-1zM351.9 110.5h1v1h-1zM335.5 81.9h1v1h-1zM340.7 34.7h1v1h-1zM327 43h1v1h-1zM386.6 133.9h1v1h-1zM366.8 134.9h1v1h-1zM367.6 75.6h1v1h-1zM388.7 102h1v1h-1zM350.8 107h1v1h-1zM363.8 132.2h1v1h-1zM379.9 86.5h1v1h-1zM327 50.1h1v1h-1zM382.1 88.3h1v1h-1zM384.3 144.6h1v1h-1zM353.5 59.5h1v1h-1zM383.7 88.6h1v1h-1zM344.1 97.9h1v1h-1zM342.2 94.6h1v1h-1zM352 109.3h1v1h-1zM328.8 40.3h1v1h-1zM385 145.7h1v1h-1zM329.6 35.5h1v1h-1zM354.5 117h1v1h-1zM349.1 104.8h1v1h-1zM327 58.2h1v1h-1zM327.8 42.7h1v1h-1zM375.9 81.4h1v1h-1zM359.8 66.6h1v1h-1zM328.9 39.8h1v1h-1zM389 126.1h1v1h-1zM361.7 70.5h1v1h-1zM386.2 89.7h1v1h-1zM338.6 30.8h1v1h-1zM346.5 47.4h1v1h-1zM371 77.5h1v1h-1zM328.8 65.1h1v1h-1zM336.1 84.1h1v1h-1zM329 66.2h1v1h-1zM387.5 96.3h1v1h-1zM339.8 88.1h1v1h-1zM387.9 98.7h1v1h-1zM387.6 122h1v1h-1zM352.7 56.7h1v1h-1zM378.6 83.8h1v1h-1zM388.9 107.3h1v1h-1zM334.2 80.2h1v1h-1zM386.5 137.3h1v1h-1zM388 99.3h1v1h-1zM358.7 121.4h1v1h-1zM389 104.2h1v1h-1zM355.8 62.1h1v1h-1zM373.9 142.2h1v1h-1zM337.5 85.1h1v1h-1zM364.9 133.4h1v1h-1zM326.2 52.9h1v1h-1zM349.8 105.5h1v1h-1zM359.4 66.7h1v1h-1zM387.6 125.9h1v1h-1zM355.6 63h1v1h-1zM388.2 121.4h1v1h-1zM362.4 128.9h1v1h-1zM376.4 80.2h1v1h-1zM328.5 39.6h1v1h-1zM364 132.7h1v1h-1zM347 49.1h1v1h-1zM352.8 58.7h1v1h-1zM367.6 75.6h1v1h-1zM385.6 142.5h1v1h-1zM341.3 36.4h1v1h-1zM333.5 79.3h1v1h-1zM333.1 78.1h1v1h-1zM343.1 41.1h1v1h-1zM332.5 76.3h1v1h-1zM373.8 142.1h1v1h-1zM382.8 146.6h1v1h-1zM329.5 68.5h1v1h-1zM334.1 80h1v1h-1zM342.9 93.2h1v1h-1zM365.3 74.2h1v1h-1zM326.3 54.8h1v1h-1zM326.7 48.2h1v1h-1zM387.5 121.4h1v1h-1zM331 31.7h1v1h-1zM326 58.3h1v1h-1zM369.5 137.8h1v1h-1zM386.6 138.5h1v1h-1zM386.7 130.7h1v1h-1zM385.1 141.5h1v1h-1zM327.9 64.7h1v1h-1zM340.7 91.7h1v1h-1zM338.8 86.5h1v1h-1zM345.7 44.6h1v1h-1zM351.2 56.5h1v1h-1zM359.9 68.2h1v1h-1zM339.8 88.3h1v1h-1zM331 72.2h1v1h-1zM352.5 110.7h1v1h-1zM344.3 41.8h1v1h-1zM385.1 89.6h1v1h-1zM373.2 140.9h1v1h-1zM349 52.5h1v1h-1zM360.9 68.2h1v1h-1zM346.6 48.5h1v1h-1zM386.6 91.3h1v1h-1zM388.7 101.5h1v1h-1zM388.3 112.4h1v1h-1zM387.6 97.2h1v1h-1zM329.6 69.2h1v1h-1zM368.7 138.8h1v1h-1zM329.7 69.9h1v1h-1zM347.9 103.3h1v1h-1zM371.7 141h1v1h-1zM373.3 79.1h1v1h-1zM387 92.9h1v1h-1zM357.6 121h1v1h-1zM331.5 30.4h1v1h-1zM357.7 65.6h1v1h-1zM327.1 57h1v1h-1zM387.1 125.9h1v1h-1zM327.5 63.6h1v1h-1zM330.7 32.4h1v1h-1zM327.7 43.5h1v1h-1zM338.1 29.2h1v1h-1zM387.9 127.2h1v1h-1zM350.5 54.2h1v1h-1zM341.8 91.4h1v1h-1z" fill="#f99a25"/><path d="M387.1 118.2h0.8v0.8h-0.8zM387.6 111.9h0.8v0.8h-0.8zM370.6 80h0.8v0.8h-0.8zM352.5 61.2h0.8v0.8h-0.8zM352.2 59.4h0.8v0.8h-0.8zM357.3 66.5h0.8v0.8h-0.8zM359.3 69.7h0.8v0.8h-0.8zM330.4 37.5h0.8v0.8h-0.8zM328.3 56.9h0.8v0.8h-0.8zM370.3 136.9h0.8v0.8h-0.8zM386.1 115.2h0.8v0.8h-0.8zM338.3 82.6h0.8v0.8h-0.8zM347.2 98.8h0.8v0.8h-0.8zM328.7 44h0.8v0.8h-0.8zM331.5 71.5h0.8v0.8h-0.8zM353.4 62.1h0.8v0.8h-0.8zM386.5 115.2h0.8v0.8h-0.8zM380.3 88.9h0.8v0.8h-0.8zM344.9 47.6h0.8v0.8h-0.8zM363.8 128.8h0.8v0.8h-0.8zM385.6 131.4h0.8v0.8h-0.8zM386.5 112h0.8v0.8h-0.8zM333.7 31.8h0.8v0.8h-0.8zM337.7 32h0.8v0.8h-0.8zM383.8 142.5h0.8v0.8h-0.8zM330.6 68h0.8v0.8h-0.8zM343.7 91.7h0.8v0.8h-0.8zM345.8 94.2h0.8v0.8h-0.8zM379.8 88.9h0.8v0.8h-0.8zM371.8 137.1h0.8v0.8h-0.8zM341.9 42.3h0.8v0.8h-0.8zM367.2 76.8h0.8v0.8h-0.8zM340.8 39.6h0.8v0.8h-0.8zM334.1 73.6h0.8v0.8h-0.8zM327.8 51.1h0.8v0.8h-0.8zM334.4 77.6h0.8v0.8h-0.8zM368.6 135.7h0.8v0.8h-0.8zM384.4 140.6h0.8v0.8h-0.8zM330.4 68.3h0.8v0.8h-0.8zM386.7 114.4h0.8v0.8h-0.8zM368 134.9h0.8v0.8h-0.8zM388.1 109.1h0.8v0.8h-0.8zM366.2 76.6h0.8v0.8h-0.8zM334.6 77.1h0.8v0.8h-0.8zM386.1 132.3h0.8v0.8h-0.8zM329.2 63.1h0.8v0.8h-0.8zM374.9 140.4h0.8v0.8h-0.8zM386.5 108.2h0.8v0.8h-0.8zM344.3 90.7h0.8v0.8h-0.8zM334.8 78.1h0.8v0.8h-0.8zM334.5 31.2h0.8v0.8h-0.8zM386.3 113.5h0.8v0.8h-0.8zM369.7 136.4h0.8v0.8h-0.8zM370.4 137.5h0.8v0.8h-0.8zM348.3 53.1h0.8v0.8h-0.8zM331.6 71.2h0.8v0.8h-0.8zM350.6 57h0.8v0.8h-0.8zM384.7 138.9h0.8v0.8h-0.8zM387.5 114.4h0.8v0.8h-0.8zM332.9 35.4h0.8v0.8h-0.8zM350.2 59.4h0.8v0.8h-0.8zM385.8 133.6h0.8v0.8h-0.8zM386.6 123.9h0.8v0.8h-0.8zM341.6 40.8h0.8v0.8h-0.8zM328.6 46.3h0.8v0.8h-0.8zM386.7 99.5h0.8v0.8h-0.8zM386.4 128.8h0.8v0.8h-0.8zM331.6 68.6h0.8v0.8h-0.8zM385 127h0.8v0.8h-0.8zM387.5 101.9h0.8v0.8h-0.8zM372.1 79.4h0.8v0.8h-0.8zM370 135.4h0.8v0.8h-0.8zM373.4 81.2h0.8v0.8h-0.8zM379.7 88.6h0.8v0.8h-0.8zM358 116.9h0.8v0.8h-0.8zM385.8 126.7h0.8v0.8h-0.8zM367.7 134.4h0.8v0.8h-0.8zM387.1 102.8h0.8v0.8h-0.8zM333.5 32.6h0.8v0.8h-0.8zM362.2 73.8h0.8v0.8h-0.8zM377.6 142.2h0.8v0.8h-0.8zM379 90h0.8v0.8h-0.8zM361.7 74.9h0.8v0.8h-0.8zM346.2 49.2h0.8v0.8h-0.8zM386 123.6h0.8v0.8h-0.8zM336 31h0.8v0.8h-0.8zM386.1 95h0.8v0.8h-0.8zM328.7 49.9h0.8v0.8h-0.8zM383 145.2h0.8v0.8h-0.8zM339.1 84.9h0.8v0.8h-0.8zM329.4 44.7h0.8v0.8h-0.8zM336.4 81.2h0.8v0.8h-0.8zM350.9 58h0.8v0.8h-0.8zM384.9 92.7h0.8v0.8h-0.8zM348.7 55.7h0.8v0.8h-0.8zM383.9 90.6h0.8v0.8h-0.8zM365.7 75.9h0.8v0.8h-0.8zM327.8 49.9h0.8v0.8h-0.8zM327.9 51.5h0.8v0.8h-0.8zM330.9 67.6h0.8v0.8h-0.8zM350.9 105.5h0.8v0.8h-0.8zM373.8 140.1h0.8v0.8h-0.8zM377.1 85.9h0.8v0.8h-0.8zM382.5 90.7h0.8v0.8h-0.8zM380.9 88.8h0.8v0.8h-0.8zM357.2 114.5h0.8v0.8h-0.8zM363.7 127.6h0.8v0.8h-0.8zM337.5 83h0.8v0.8h-0.8zM384.6 91.4h0.8v0.8h-0.8zM333.7 33.5h0.8v0.8h-0.8zM337.5 79.6h0.8v0.8h-0.8zM330.9 36.8h0.8v0.8h-0.8zM343.8 45.6h0.8v0.8h-0.8zM368.4 133.4h0.8v0.8h-0.8zM365.6 132.1h0.8v0.8h-0.8zM384.3 139.3h0.8v0.8h-0.8zM386.2 95.4h0.8v0.8h-0.8zM362.5 126.9h0.8v0.8h-0.8zM387.4 100h0.8v0.8h-0.8zM387.6 108.6h0.8v0.8h-0.8zM374.9 83h0.8v0.8h-0.8zM361 71.7h0.8v0.8h-0.8zM388.3 105.2h0.8v0.8h-0.8zM330.1 40.2h0.8v0.8h-0.8zM386.3 126.1h0.8v0.8h-0.8zM330.2 68.1h0.8v0.8h-0.8zM386.9 120.4h0.8v0.8h-0.8zM358.8 70.3h0.8v0.8h-0.8zM345.5 92.3h0.8v0.8h-0.8zM387.1 108.6h0.8v0.8h-0.8zM371.6 80.1h0.8v0.8h-0.8zM372.2 138.8h0.8v0.8h-0.8zM344.7 46h0.8v0.8h-0.8zM328.5 51.2h0.8v0.8h-0.8zM336.4 80.2h0.8v0.8h-0.8zM347.1 96.3h0.8v0.8h-0.8zM333.9 75.5h0.8v0.8h-0.8zM360.6 123.1h0.8v0.8h-0.8zM354.6 111.9h0.8v0.8h-0.8zM355.7 65.7h0.8v0.8h-0.8zM349.1 102.6h0.8v0.8h-0.8zM362.9 73.9h0.8v0.8h-0.8zM384.3 132.2h0.8v0.8h-0.8zM354 61.9h0.8v0.8h-0.8zM328.9 47.9h0.8v0.8h-0.8zM339.1 34.6h0.8v0.8h-0.8zM387.1 101.5h0.8v0.8h-0.8zM340.2 38.6h0.8v0.8h-0.8zM368.1 77.4h0.8v0.8h-0.8zM387 97.2h0.8v0.8h-0.8z" fill="#fff"/><path d="M346.5 101.3h1v1h-1zM365.2 136.2h1v1h-1zM320.1 42.8h1v1h-1zM330.2 97.5h1v1h-1zM346.8 103.7h1v1h-1zM359.5 126.5h1v1h-1zM322.8 66.7h1v1h-1zM328.9 69h1v1h-1zM319.1 69.4h1v1h-1zM331 91.9h1v1h-1zM347.6 121.1h1v1h-1zM370.5 145.9h1v1h-1zM342.7 102.2h1v1h-1zM339.2 87.6h1v1h-1zM323.6 80.3h1v1h-1zM367.3 142.5h1v1h-1zM322.2 62.3h1v1h-1zM333 95.4h1v1h-1zM367.5 135.4h1v1h-1zM318.7 47.1h1v1h-1zM366.6 141.2h1v1h-1zM340.9 103.9h1v1h-1zM324.9 85.7h1v1h-1zM372.3 146.6h1v1h-1zM326.1 61h1v1h-1zM357.4 135.9h1v1h-1zM359.3 124.4h1v1h-1zM328.8 77.1h1v1h-1zM344 115.2h1v1h-1zM331.2 73.4h1v1h-1zM349.6 125.5h1v1h-1zM319.4 69.4h1v1h-1zM346.8 105.9h1v1h-1zM355.3 122.7h1v1h-1zM327.4 41.3h1v1h-1zM345.9 115.1h1v1h-1zM334.4 90.9h1v1h-1zM335.6 104.5h1v1h-1zM331.4 73.4h1v1h-1zM347.6 104.8h1v1h-1zM360.9 134.4h1v1h-1zM325.9 39.3h1v1h-1zM354.1 125.5h1v1h-1zM328.8 91.6h1v1h-1zM329.9 93.4h1v1h-1zM352.4 117.9h1v1h-1zM333.5 91.3h1v1h-1zM364 137.5h1v1h-1zM319.3 69.1h1v1h-1zM334.7 86.2h1v1h-1zM327 66h1v1h-1zM338.9 100.9h1v1h-1zM344.6 118.1h1v1h-1zM356.5 137.3h1v1h-1zM323.2 50h1v1h-1zM352.3 128.2h1v1h-1zM328.7 81.4h1v1h-1zM342 118.7h1v1h-1zM352.5 116.2h1v1h-1zM345.1 104.9h1v1h-1zM348.9 103.6h1v1h-1zM367.4 139.7h1v1h-1zM348.4 123h1v1h-1zM320.6 72.9h1v1h-1zM352.6 120.8h1v1h-1zM350 109.2h1v1h-1zM327.1 67.6h1v1h-1zM363.7 141.8h1v1h-1zM358.7 128h1v1h-1zM354.9 123.7h1v1h-1zM332.9 93.3h1v1h-1zM368 143.8h1v1h-1zM348.4 108.3h1v1h-1zM350.6 115.3h1v1h-1zM336.5 107.9h1v1h-1zM325.7 60.6h1v1h-1zM323.6 60.1h1v1h-1zM351.3 132.1h1v1h-1zM337.3 109.9h1v1h-1zM344.4 107.1h1v1h-1zM318.6 49h1v1h-1zM356.4 123.4h1v1h-1zM362.6 139.5h1v1h-1zM325.6 51.5h1v1h-1zM362.5 142.8h1v1h-1zM331.9 100.1h1v1h-1zM351.9 120.9h1v1h-1zM340.9 95.8h1v1h-1zM328.9 87.4h1v1h-1zM339.6 99.8h1v1h-1zM346.1 120.5h1v1h-1zM335 100.7h1v1h-1zM331.4 90.8h1v1h-1zM323.4 40.9h1v1h-1zM340.5 105.5h1v1h-1zM352.4 117.2h1v1h-1zM346.2 111.3h1v1h-1zM324.6 39.5h1v1h-1zM322 76.6h1v1h-1zM332.5 88h1v1h-1zM348.3 119.8h1v1h-1zM318.3 57.4h1v1h-1zM341.5 91.1h1v1h-1zM359.4 138.2h1v1h-1zM327.9 40.9h1v1h-1zM327.7 85.3h1v1h-1zM347.3 116.2h1v1h-1zM360.6 141.1h1v1h-1zM355.4 116.6h1v1h-1zM352.6 110.6h1v1h-1zM318.6 54.5h1v1h-1zM331.7 99.4h1v1h-1zM330.7 77.4h1v1h-1zM317 58.6h1v1h-1zM327.6 77.2h1v1h-1zM326.1 49.6h1v1h-1zM333.6 80.4h1v1h-1zM339 92.4h1v1h-1zM317.5 53.1h1v1h-1zM331.8 88.9h1v1h-1zM328.4 78.9h1v1h-1zM349.5 125.2h1v1h-1zM339.4 87.3h1v1h-1zM353.4 112.7h1v1h-1zM330.5 75.7h1v1h-1zM357.2 137.7h1v1h-1zM343.5 106.8h1v1h-1zM367.2 139.6h1v1h-1zM332.8 76.7h1v1h-1zM337.3 101.4h1v1h-1zM347 109.5h1v1h-1zM340.7 99.4h1v1h-1zM359.4 132.5h1v1h-1zM370.8 141.7h1v1h-1zM360.9 139.6h1v1h-1zM346.5 121.8h1v1h-1zM317.5 53.8h1v1h-1zM324.9 56.8h1v1h-1zM347.7 123.3h1v1h-1zM317.8 50.1h1v1h-1zM341.4 107.7h1v1h-1zM318.5 54h1v1h-1zM326.1 85h1v1h-1zM319.4 44.6h1v1h-1zM320.1 71.6h1v1h-1zM331.1 94.7h1v1h-1zM329 93.5h1v1h-1zM358.1 122.8h1v1h-1zM323.3 59.6h1v1h-1zM321 71.7h1v1h-1zM315.4 58.2h1v1h-1zM338.8 110.7h1v1h-1zM320.1 44.3h1v1h-1zM346.6 116.6h1v1h-1zM337.6 104h1v1h-1zM343.2 93.4h1v1h-1zM355 120.4h1v1h-1zM324.5 57.6h1v1h-1zM328.8 41.9h1v1h-1zM328.2 70.5h1v1h-1zM325.3 70.1h1v1h-1zM353.6 116.1h1v1h-1zM324.6 79.1h1v1h-1zM353.6 112.5h1v1h-1zM358.7 126.3h1v1h-1zM335.8 101.7h1v1h-1zM349 104.4h1v1h-1zM321.1 63.9h1v1h-1zM328.4 61.8h1v1h-1zM332.8 91.2h1v1h-1zM332.6 87.7h1v1h-1zM332.2 84.5h1v1h-1zM334.3 101.9h1v1h-1zM341.5 92.6h1v1h-1zM364.5 134h1v1h-1zM321.9 64.8h1v1h-1zM366.6 141.6h1v1h-1zM355 116.7h1v1h-1zM352.7 110.5h1v1h-1zM321 53.2h1v1h-1zM328.3 89.9h1v1h-1zM332.8 100.5h1v1h-1zM354.1 117h1v1h-1zM348.1 115.3h1v1h-1zM323.5 74.8h1v1h-1zM348.1 126.5h1v1h-1zM340.5 98.7h1v1h-1zM328.7 79.1h1v1h-1zM349.4 118.1h1v1h-1zM333.6 96.9h1v1h-1zM330.4 92.5h1v1h-1zM327.6 82.8h1v1h-1zM360.7 125.7h1v1h-1zM371.6 140.2h1v1h-1zM337.9 101.1h1v1h-1zM359 130.1h1v1h-1zM324.6 52.1h1v1h-1zM318.9 60.2h1v1h-1zM325.6 66.9h1v1h-1zM328.4 86.2h1v1h-1zM348.6 123.2h1v1h-1zM352.1 115.9h1v1h-1zM343.8 115.9h1v1h-1zM329.6 84.6h1v1h-1zM325.2 80.1h1v1h-1zM318 67.5h1v1h-1zM353.7 127.8h1v1h-1zM322 63.9h1v1h-1zM348.6 116.4h1v1h-1zM328.3 81.4h1v1h-1zM321.8 75.7h1v1h-1zM321.2 72.6h1v1h-1zM344 99.4h1v1h-1zM328.2 83.1h1v1h-1zM332.1 80.2h1v1h-1zM348.5 108h1v1h-1zM317.5 60.8h1v1h-1zM350.8 117.7h1v1h-1zM355 125.9h1v1h-1zM354.5 131.9h1v1h-1zM330.5 77.3h1v1h-1zM317.5 47.3h1v1h-1zM331.3 87h1v1h-1zM333.5 78.6h1v1h-1zM321.2 73.3h1v1h-1zM357.6 125.9h1v1h-1zM322 54.3h1v1h-1zM324.6 43.3h1v1h-1zM320.1 45.7h1v1h-1zM340.4 91.1h1v1h-1zM319.9 62.1h1v1h-1zM346.3 113.9h1v1h-1zM345.4 99.9h1v1h-1zM329.7 74.2h1v1h-1zM344 106.4h1v1h-1zM320.8 46.9h1v1h-1zM317.9 58.2h1v1h-1zM345.9 120.7h1v1h-1zM368.1 141.2h1v1h-1zM320.1 70h1v1h-1zM324.6 51.8h1v1h-1zM347.4 104.9h1v1h-1zM346 116.2h1v1h-1zM354.3 128.3h1v1h-1zM341.3 90.3h1v1h-1zM316 55.5h1v1h-1zM343.1 96.6h1v1h-1zM323.4 48.7h1v1h-1zM347.9 101.4h1v1h-1zM363.5 136.5h1v1h-1zM350.9 112.7h1v1h-1zM320.7 56.6h1v1h-1zM326.5 66.4h1v1h-1zM323.8 57.9h1v1h-1zM350.7 109h1v1h-1zM327.3 70.9h1v1h-1zM322.6 60.7h1v1h-1zM361.3 131.9h1v1h-1zM338.3 95.1h1v1h-1zM327.9 39.2h1v1h-1zM323.8 56h1v1h-1zM332.9 101.9h1v1h-1zM330.7 83h1v1h-1zM345 105.9h1v1h-1zM352.1 118.7h1v1h-1zM322.5 51.8h1v1h-1zM350.1 108.9h1v1h-1zM332.2 79.6h1v1h-1zM331.4 77h1v1h-1zM354.1 120.8h1v1h-1zM346.7 105.4h1v1h-1zM324 40.7h1v1h-1zM321.3 44.2h1v1h-1zM358.1 137.4h1v1h-1zM360.8 140.3h1v1h-1zM323.5 42.1h1v1h-1zM346.4 107.7h1v1h-1zM349.3 118.8h1v1h-1zM320.6 54.5h1v1h-1zM344.6 121.3h1v1h-1zM343.4 101.6h1v1h-1zM333.8 86.1h1v1h-1zM365.4 138.2h1v1h-1zM349.8 108.8h1v1h-1zM319 60.6h1v1h-1zM342.5 104h1v1h-1zM336.8 108.8h1v1h-1zM321.4 41.3h1v1h-1zM364.7 137.1h1v1h-1zM325.4 69.5h1v1h-1zM328.5 91.6h1v1h-1zM359.9 124.5h1v1h-1zM353.8 134.1h1v1h-1zM325.6 56.7h1v1h-1zM339.5 94h1v1h-1zM324.4 63.6h1v1h-1zM352.8 132.5h1v1h-1zM323.3 63.7h1v1h-1zM347.3 114h1v1h-1zM365.9 142.8h1v1h-1zM329.7 90.7h1v1h-1zM348.8 112.6h1v1h-1zM320.8 57h1v1h-1zM325.1 48.4h1v1h-1zM326.7 82.1h1v1h-1zM330.4 78.3h1v1h-1zM342.2 100.8h1v1h-1zM328.5 82.1h1v1h-1zM363 132.1h1v1h-1zM351.6 121.5h1v1h-1zM320.4 57.6h1v1h-1zM360.4 131.9h1v1h-1zM342.6 98h1v1h-1zM360.2 129.4h1v1h-1zM340.5 93.6h1v1h-1zM333.5 93.1h1v1h-1zM323.2 78.8h1v1h-1zM326.5 82.4h1v1h-1zM335.7 103.4h1v1h-1zM353.1 125.7h1v1h-1zM341.9 108h1v1h-1zM332.3 90.3h1v1h-1zM348.7 115h1v1h-1zM339 105.6h1v1h-1zM323.2 47.4h1v1h-1zM333.7 85.8h1v1h-1zM342 117.3h1v1h-1zM349.3 116.4h1v1h-1zM339 89.4h1v1h-1zM319.6 67h1v1h-1z" fill="#f99a25"/><path d="M390.6 147.3h1v1h-1zM387.4 152.2h1v1h-1zM390.8 147.2h1v1h-1zM392.6 143.5h1v1h-1zM393 138.4h1v1h-1zM392.7 138.6h1v1h-1zM394.2 131.9h1v1h-1zM394.9 142.6h1v1h-1zM389.9 139.1h1v1h-1zM390 147.4h1v1h-1zM392 142.6h1v1h-1zM394.2 140.2h1v1h-1zM392.2 136h1v1h-1zM385.1 151.8h1v1h-1zM393.9 133.8h1v1h-1zM393 136.7h1v1h-1zM390.3 144.2h1v1h-1zM391.3 136.7h1v1h-1zM393.3 132h1v1h-1zM390.8 138.1h1v1h-1zM389.5 145.8h1v1h-1zM393.7 138.6h1v1h-1zM394.5 133.7h1v1h-1zM393.9 137h1v1h-1zM392.4 134.1h1v1h-1zM393.7 145.9h1v1h-1zM389.9 148.4h1v1h-1zM393.4 145.6h1v1h-1zM390 139.1h1v1h-1zM393.1 133.4h1v1h-1z" fill="#f99a25"/><path d="M424 18 L428 23 L431.7 33.3 L437.8 42.4 L443.9 50 L452.8 64 L462 78 L470 92 L474.8 100 L481.4 111.4 L487.1 122.8 L491.5 134.5 L498.5 147 L503 155 L510 157 L517.5 155 L518.5 145.5 L515.5 134.5 L508 122.8 L502.3 111.4 L494.7 100 L489 86.5 L481 75 L472 63.7 L460.5 50 L449 38 L438 27 L428 18.5Z" fill="#04fb04" /><path d="M439 28h1v1h-1zM457.9 45.1h1v1h-1zM497.4 145.4h1v1h-1zM455.5 68.6h1v1h-1zM473.3 65.4h1v1h-1zM428.7 25.9h1v1h-1zM488.2 127.5h1v1h-1zM430.8 20.5h1v1h-1zM483.4 78.4h1v1h-1zM429.8 30h1v1h-1zM451.7 64.9h1v1h-1zM463.5 83.1h1v1h-1zM487.1 82.5h1v1h-1zM490.7 135h1v1h-1zM457.9 72.5h1v1h-1zM437.2 42.6h1v1h-1zM475.4 103.6h1v1h-1zM490.4 132.7h1v1h-1zM428.3 25.4h1v1h-1zM496.2 143.9h1v1h-1zM449.8 38.6h1v1h-1zM498.6 149.6h1v1h-1zM436.1 24.3h1v1h-1zM476.7 67.8h1v1h-1zM458.2 47.3h1v1h-1zM476.2 102.8h1v1h-1zM489.4 86.9h1v1h-1zM495.8 100.8h1v1h-1zM482.9 116h1v1h-1zM474.4 66.1h1v1h-1zM428.4 17.5h1v1h-1zM431.5 33.7h1v1h-1zM432.9 22.1h1v1h-1zM461.8 51.7h1v1h-1zM483.1 116.2h1v1h-1zM439.4 45h1v1h-1zM492 93.1h1v1h-1zM460.9 77.5h1v1h-1zM468.4 89.7h1v1h-1zM475 102.7h1v1h-1zM434.3 38h1v1h-1zM507.2 121.6h1v1h-1zM515.2 133.9h1v1h-1zM485.4 81.2h1v1h-1zM518.8 145.1h1v1h-1zM432.1 36.2h1v1h-1zM472 96.8h1v1h-1zM512.6 129.6h1v1h-1zM477.6 69.7h1v1h-1zM431.2 20.9h1v1h-1zM477.5 70h1v1h-1zM457.4 46.4h1v1h-1zM518.1 147.9h1v1h-1zM454.6 42.7h1v1h-1zM437.1 24.5h1v1h-1zM478.6 107h1v1h-1zM466.6 87.3h1v1h-1zM489 129.7h1v1h-1zM518.1 143.1h1v1h-1zM513.6 130h1v1h-1zM518.3 147.3h1v1h-1zM492.9 96.1h1v1h-1zM498.2 147h1v1h-1zM469 59.7h1v1h-1zM499.2 149.1h1v1h-1zM467.6 90.5h1v1h-1zM513.4 130.9h1v1h-1zM512.3 128.9h1v1h-1zM444.5 33.5h1v1h-1zM447.7 35.4h1v1h-1zM492.4 137.5h1v1h-1zM461.8 78.3h1v1h-1zM443.8 50.4h1v1h-1zM433.1 21.7h1v1h-1zM498.7 104.7h1v1h-1zM450.1 38.1h1v1h-1zM480.3 110.7h1v1h-1zM479.5 109h1v1h-1zM459.9 48.6h1v1h-1zM487.3 83.2h1v1h-1zM501.6 153.6h1v1h-1zM474.1 100.2h1v1h-1zM517.2 140h1v1h-1zM480.3 71.8h1v1h-1zM503.6 114.1h1v1h-1zM470 92.6h1v1h-1zM498.7 149h1v1h-1zM468.8 59.6h1v1h-1zM475.5 102.3h1v1h-1zM422.7 17.5h1v1h-1zM483.3 116.8h1v1h-1zM442.9 49.4h1v1h-1zM435.5 24.7h1v1h-1zM459.2 75.9h1v1h-1zM485 120.8h1v1h-1zM441.2 48.2h1v1h-1zM449 37.7h1v1h-1zM490.5 134.1h1v1h-1zM466.9 89.4h1v1h-1zM432.2 35.5h1v1h-1zM489.4 132.1h1v1h-1zM512.8 155.8h1v1h-1zM506.4 155.8h1v1h-1zM444 51.8h1v1h-1zM454.4 42.6h1v1h-1zM473.7 64.6h1v1h-1zM495.4 142.9h1v1h-1zM505.4 117h1v1h-1zM470.7 61.9h1v1h-1zM465 84.3h1v1h-1zM453.8 67.1h1v1h-1zM452 63.7h1v1h-1zM440.5 45.9h1v1h-1zM507 121.1h1v1h-1zM513.6 130.8h1v1h-1zM468.3 59.3h1v1h-1zM489 130.9h1v1h-1zM503 154.9h1v1h-1zM429.9 29.9h1v1h-1zM443.1 51h1v1h-1zM425 20.9h1v1h-1zM460.7 76.5h1v1h-1zM465.2 84h1v1h-1zM433.3 36.8h1v1h-1zM493.2 138h1v1h-1zM435.9 39.8h1v1h-1zM496.9 101.9h1v1h-1zM503.8 114.3h1v1h-1zM494.8 140.9h1v1h-1zM453.6 42.4h1v1h-1zM443.9 50.9h1v1h-1zM425.5 16.8h1v1h-1zM477.7 105.9h1v1h-1zM485.2 80.2h1v1h-1zM446.2 35h1v1h-1zM443.5 50h1v1h-1zM499.2 106.7h1v1h-1zM512.4 129.8h1v1h-1zM436.6 41.7h1v1h-1zM518.4 149.1h1v1h-1zM479.3 109.4h1v1h-1zM497.8 103.9h1v1h-1zM450 60h1v1h-1zM498.7 148.1h1v1h-1zM494.6 141.1h1v1h-1zM426 21.6h1v1h-1zM432.6 21.2h1v1h-1zM453.2 42.3h1v1h-1zM493 94.1h1v1h-1zM496.9 144.9h1v1h-1zM507.2 120.2h1v1h-1zM515.9 133.8h1v1h-1zM462.8 80.2h1v1h-1zM492.5 139.7h1v1h-1zM441.4 30.3h1v1h-1zM444.6 51.4h1v1h-1zM481.2 111.6h1v1h-1zM506.9 119.2h1v1h-1zM515 133.9h1v1h-1zM439.9 26.9h1v1h-1zM482.5 117.3h1v1h-1zM434.9 40.4h1v1h-1zM457.6 72.2h1v1h-1zM446.2 34.7h1v1h-1zM438.2 25.6h1v1h-1zM473 64.6h1v1h-1zM496.2 143.3h1v1h-1zM470.8 62.2h1v1h-1zM486.6 81.5h1v1h-1zM517.7 149.6h1v1h-1zM479 111.1h1v1h-1zM472.8 97h1v1h-1zM510.5 126.3h1v1h-1zM493 95.5h1v1h-1zM477.1 69.7h1v1h-1zM504.8 116.2h1v1h-1zM437.8 44.8h1v1h-1zM461.4 78.2h1v1h-1zM445.3 52.8h1v1h-1zM492.6 93.7h1v1h-1zM444.7 52.1h1v1h-1zM500.5 151.3h1v1h-1zM517.4 151.5h1v1h-1zM474 64.7h1v1h-1zM491.7 90.1h1v1h-1zM441.2 30.1h1v1h-1zM494.8 99.1h1v1h-1zM491.1 92h1v1h-1zM435 23h1v1h-1zM484.8 119.1h1v1h-1zM447.2 58.7h1v1h-1zM432.8 36.6h1v1h-1zM458.5 73.6h1v1h-1zM423.7 18.3h1v1h-1zM446.3 35.3h1v1h-1zM432.5 21.4h1v1h-1zM429.4 29.2h1v1h-1zM511.2 127h1v1h-1zM474.6 66.1h1v1h-1zM479.2 108.3h1v1h-1zM504.7 114h1v1h-1zM468.8 58.3h1v1h-1zM445.8 34.5h1v1h-1zM477.8 70.8h1v1h-1zM499.5 149.6h1v1h-1zM434.7 23.8h1v1h-1zM481.4 112.9h1v1h-1zM477 104.8h1v1h-1zM437.1 42.3h1v1h-1zM454.6 68.8h1v1h-1zM479 107.8h1v1h-1zM462.1 80.5h1v1h-1zM512.7 156h1v1h-1zM481.5 112.4h1v1h-1zM426.8 17.3h1v1h-1zM516.2 135.9h1v1h-1zM475.5 103h1v1h-1zM481.8 76.1h1v1h-1zM443.6 32.5h1v1h-1zM519 143.2h1v1h-1zM504.9 114h1v1h-1zM466.8 86.8h1v1h-1zM449.5 38h1v1h-1zM437.1 42h1v1h-1zM490.9 89.6h1v1h-1zM497 145h1v1h-1zM429.5 31.5h1v1h-1zM445.7 34.1h1v1h-1zM453.2 65.8h1v1h-1zM487.1 124.2h1v1h-1zM475.8 67.4h1v1h-1zM433 21.5h1v1h-1zM480.1 73.5h1v1h-1zM475.2 102.1h1v1h-1zM450.6 61.3h1v1h-1zM486.6 123.2h1v1h-1zM424.4 20.9h1v1h-1zM454.7 68h1v1h-1zM483.3 77.4h1v1h-1zM504 114.8h1v1h-1zM431.7 35h1v1h-1zM475.2 102h1v1h-1zM470.6 94.8h1v1h-1zM447.7 36.1h1v1h-1zM511.2 127.4h1v1h-1zM436.3 40.4h1v1h-1zM449.6 61.3h1v1h-1zM459.6 48h1v1h-1zM508.2 122h1v1h-1zM492.2 136.6h1v1h-1zM470.2 61h1v1h-1zM499.5 151.5h1v1h-1zM513.9 130.1h1v1h-1zM478 71.1h1v1h-1zM465.7 85.5h1v1h-1zM438.9 44h1v1h-1zM507.2 119.9h1v1h-1zM503.5 112.6h1v1h-1zM460.7 76.8h1v1h-1zM493.9 97.4h1v1h-1zM426.1 22.3h1v1h-1zM511.6 127.9h1v1h-1zM444.3 51.4h1v1h-1zM463.6 53.7h1v1h-1zM429.2 19h1v1h-1zM440.2 28.1h1v1h-1zM462.4 79.5h1v1h-1zM485.3 80.5h1v1h-1zM495.6 143.1h1v1h-1zM480 72.7h1v1h-1zM486.1 122.5h1v1h-1zM439.8 45.3h1v1h-1zM445.5 53.4h1v1h-1zM454 42.8h1v1h-1zM432.9 21.1h1v1h-1zM475.3 66.9h1v1h-1zM435.1 24.2h1v1h-1zM471 62.2h1v1h-1zM491.8 136.8h1v1h-1zM497.5 145.7h1v1h-1zM505.1 114.7h1v1h-1zM442.4 30.3h1v1h-1zM494.7 99.9h1v1h-1zM498.4 147.5h1v1h-1zM511.7 127.8h1v1h-1zM485.4 121h1v1h-1zM447.5 36.1h1v1h-1zM515.4 132.6h1v1h-1zM451.9 63.2h1v1h-1zM451 63.7h1v1h-1zM460.2 49.6h1v1h-1zM517.7 149.1h1v1h-1zM486.8 83.1h1v1h-1zM458.9 48.2h1v1h-1zM441 47.5h1v1h-1zM471.1 95.1h1v1h-1zM493.8 98.2h1v1h-1zM503.1 111.8h1v1h-1zM490.4 133.1h1v1h-1zM499.8 150.4h1v1h-1zM423.3 17.5h1v1h-1zM436.6 41.1h1v1h-1zM504.1 155.6h1v1h-1zM467.2 56.7h1v1h-1zM448.1 37h1v1h-1zM440.4 29.1h1v1h-1zM488.4 85.1h1v1h-1zM492.1 136.9h1v1h-1zM445.1 33.8h1v1h-1zM430.6 20.3h1v1h-1zM464.5 54.4h1v1h-1zM492.7 95.8h1v1h-1zM438.4 44h1v1h-1zM517.9 153.1h1v1h-1zM446.9 56h1v1h-1zM493.7 139.3h1v1h-1zM423.9 19.1h1v1h-1zM455.5 44.6h1v1h-1zM515.6 133.3h1v1h-1zM482.4 114.6h1v1h-1zM439.9 47.4h1v1h-1zM462.7 51.5h1v1h-1zM473.3 63.1h1v1h-1zM492.1 136.5h1v1h-1zM490.4 134.2h1v1h-1zM474.2 66.1h1v1h-1zM458.2 73.5h1v1h-1zM441.6 47.6h1v1h-1zM446 34h1v1h-1zM468.4 58.7h1v1h-1zM479.1 110.6h1v1h-1zM517.6 140.5h1v1h-1zM429 28.8h1v1h-1zM485.7 81.3h1v1h-1zM465.5 87.6h1v1h-1zM435.5 24.5h1v1h-1zM487.1 124.3h1v1h-1zM486.3 124.2h1v1h-1zM462.4 79.4h1v1h-1zM452.7 41.4h1v1h-1zM487.7 125.4h1v1h-1zM424.4 18.9h1v1h-1zM428.9 28.3h1v1h-1zM459.3 74.3h1v1h-1zM427.4 22.8h1v1h-1zM474.7 67h1v1h-1zM495.2 142.7h1v1h-1zM446.9 57.6h1v1h-1zM490.1 86.6h1v1h-1zM515.6 134.2h1v1h-1zM495.4 143.8h1v1h-1zM422.7 16.9h1v1h-1zM479.9 110.5h1v1h-1zM517.3 140.7h1v1h-1zM455.1 43.6h1v1h-1zM511.4 128h1v1h-1zM472.2 96.1h1v1h-1zM492.2 136.3h1v1h-1zM515.3 134.6h1v1h-1zM508.9 124.1h1v1h-1zM517.4 153.4h1v1h-1zM477.1 104.7h1v1h-1zM515.6 134.8h1v1h-1zM498.9 149.1h1v1h-1zM493.2 97h1v1h-1zM459.9 49.1h1v1h-1zM471.9 63.5h1v1h-1zM439 27.6h1v1h-1zM480.4 110.4h1v1h-1zM469 92.1h1v1h-1zM485.8 121.2h1v1h-1zM423.2 17.5h1v1h-1zM456.7 45.2h1v1h-1zM491.2 90h1v1h-1zM507.5 121.9h1v1h-1zM447.4 58.1h1v1h-1zM481.2 112.2h1v1h-1zM502.1 110.8h1v1h-1zM499.2 107h1v1h-1zM434.3 39h1v1h-1zM429.3 19.2h1v1h-1zM425.8 21.5h1v1h-1zM455 69.1h1v1h-1zM497.9 147.9h1v1h-1zM441.8 48.3h1v1h-1zM506.4 119.8h1v1h-1zM472.3 64h1v1h-1zM448.3 58.1h1v1h-1zM444 32.4h1v1h-1zM438.2 27.2h1v1h-1zM508.5 123.4h1v1h-1zM497.3 103.8h1v1h-1zM470.1 95.4h1v1h-1zM454.7 43.7h1v1h-1zM485.4 120h1v1h-1zM490 132.4h1v1h-1zM462.4 79.1h1v1h-1zM503 112.8h1v1h-1zM482.1 76h1v1h-1zM440 28.9h1v1h-1zM518.1 143.8h1v1h-1zM457.4 71.7h1v1h-1zM496.6 102.9h1v1h-1zM476.7 69.6h1v1h-1zM515.6 136.3h1v1h-1zM490 89.3h1v1h-1zM448.4 57.5h1v1h-1zM457.6 71.9h1v1h-1zM515.1 134.3h1v1h-1zM453.9 66.3h1v1h-1zM493.4 95.1h1v1h-1zM429.1 30.2h1v1h-1zM430.3 19.4h1v1h-1zM499.2 106.5h1v1h-1zM498 146.9h1v1h-1zM468.8 90.9h1v1h-1zM446.3 54.1h1v1h-1zM504.9 155.3h1v1h-1zM446.8 55.8h1v1h-1zM434.7 23.1h1v1h-1zM427.4 17.3h1v1h-1zM477.9 69.3h1v1h-1zM483 76.9h1v1h-1zM433.1 38.5h1v1h-1zM495.5 101.3h1v1h-1zM457.5 71.4h1v1h-1zM476.2 102.8h1v1h-1zM488.6 85.2h1v1h-1zM468.5 90.6h1v1h-1zM480.5 110.3h1v1h-1zM432.7 35.3h1v1h-1zM439.5 45.8h1v1h-1zM503.5 113.1h1v1h-1zM493.4 138.5h1v1h-1zM517.3 152h1v1h-1zM448.2 36.7h1v1h-1zM425.4 17.5h1v1h-1zM483.5 78.3h1v1h-1zM428.9 30.2h1v1h-1zM486.4 122.7h1v1h-1zM493.7 98h1v1h-1zM479.2 108.1h1v1h-1zM466.3 56h1v1h-1zM512.6 156.4h1v1h-1zM482.2 76.8h1v1h-1zM469.3 59.9h1v1h-1zM487.6 126.8h1v1h-1zM438.3 43.9h1v1h-1zM491 91.9h1v1h-1zM466.2 56.6h1v1h-1z" fill="#04fb04"/><path d="M513.8 170.3h1v1h-1zM506.6 162.3h1v1h-1zM508.9 162.7h1v1h-1zM515.8 158h1v1h-1zM513.3 161.4h1v1h-1zM506.4 157.5h1v1h-1zM516.8 163.6h1v1h-1zM511 155.5h1v1h-1zM517.7 150.2h1v1h-1zM502.7 153.2h1v1h-1zM501.4 149.6h1v1h-1zM502.8 157.5h1v1h-1zM516.8 161.9h1v1h-1zM510.5 156.9h1v1h-1zM512.6 150.2h1v1h-1zM511 153.4h1v1h-1zM511.8 157.1h1v1h-1zM501 151.6h1v1h-1zM513.8 161.8h1v1h-1zM503.5 155.1h1v1h-1zM504 160.7h1v1h-1zM504 157.6h1v1h-1zM517.6 151.5h1v1h-1zM507 150.7h1v1h-1zM513 171.1h1v1h-1zM504.1 159.5h1v1h-1zM509.4 157.8h1v1h-1zM511 156.3h1v1h-1zM507.9 157.1h1v1h-1zM506.5 151.6h1v1h-1zM505.2 150.8h1v1h-1zM510.4 158.6h1v1h-1zM510.2 164.1h1v1h-1zM513.2 157.1h1v1h-1zM516.5 165h1v1h-1zM512.5 165.2h1v1h-1zM511.6 166.1h1v1h-1zM506.9 160.5h1v1h-1zM508.2 158.8h1v1h-1zM506.5 162.4h1v1h-1zM511 158h1v1h-1zM509.5 154h1v1h-1zM517.5 164.9h1v1h-1zM512 166.8h1v1h-1zM505.6 159.2h1v1h-1zM506 161.2h1v1h-1zM510.6 167h1v1h-1zM511.9 158.4h1v1h-1zM515 168.7h1v1h-1zM509.6 152.4h1v1h-1zM511.4 156.2h1v1h-1zM515.5 161.1h1v1h-1zM511.9 152.8h1v1h-1zM515.2 157.7h1v1h-1zM516.2 153.6h1v1h-1zM513 156h1v1h-1zM516.9 156.7h1v1h-1zM517 160.9h1v1h-1zM506.5 151.9h1v1h-1zM512.5 166.7h1v1h-1zM504.5 152.6h1v1h-1zM517.6 156.6h1v1h-1zM509.8 158.6h1v1h-1zM515.1 167.8h1v1h-1zM512.9 150.5h1v1h-1zM505.5 156.7h1v1h-1zM515.2 154.6h1v1h-1zM505.4 151.1h1v1h-1zM511.9 162.5h1v1h-1zM512.4 152.7h1v1h-1zM507.4 160.1h1v1h-1zM517 151.5h1v1h-1zM510.6 161.1h1v1h-1zM510.5 155.3h1v1h-1zM513.2 169h1v1h-1zM513 158.3h1v1h-1zM517.4 167.8h1v1h-1zM511.2 150.8h1v1h-1zM507.5 153.8h1v1h-1zM503.3 150.7h1v1h-1zM508 166.2h1v1h-1zM516.4 158h1v1h-1zM510.2 155h1v1h-1zM504.9 151h1v1h-1zM513.6 152h1v1h-1zM509.7 167h1v1h-1zM512.2 156.1h1v1h-1zM506.2 159.5h1v1h-1zM501.6 151.7h1v1h-1zM512.5 168.9h1v1h-1z" fill="#04fb04"/><path d="M487 77.3h1v1h-1zM510.7 125.6h1v1h-1zM450.9 38.5h1v1h-1zM521 132.1h1v1h-1zM520 138.4h1v1h-1zM436.4 23.7h1v1h-1zM503.3 110.5h1v1h-1zM473.8 58.2h1v1h-1zM440.9 27.6h1v1h-1zM485.9 81.8h1v1h-1zM461.2 44.6h1v1h-1zM466.1 56.6h1v1h-1zM510.6 120.6h1v1h-1zM480.8 73.7h1v1h-1zM497.9 94.2h1v1h-1zM452.9 37.3h1v1h-1zM485.7 79.4h1v1h-1zM506.2 106.2h1v1h-1zM444.5 30.4h1v1h-1zM483.9 68.2h1v1h-1zM493.3 88.5h1v1h-1zM489 82.7h1v1h-1zM441.1 26.7h1v1h-1zM497.7 95.3h1v1h-1zM478.4 70.8h1v1h-1zM502.9 94.8h1v1h-1zM504.8 104.1h1v1h-1zM445.8 34.7h1v1h-1zM490.3 82.6h1v1h-1zM497.6 93.7h1v1h-1zM497 98.3h1v1h-1zM469.8 58.1h1v1h-1zM497.9 89.9h1v1h-1zM511.5 115.1h1v1h-1zM505.6 97.6h1v1h-1zM462.8 47.9h1v1h-1zM516.6 135h1v1h-1zM483.9 69.9h1v1h-1zM519 135h1v1h-1zM502 107.2h1v1h-1zM464.4 48.1h1v1h-1zM521.2 139h1v1h-1zM456.4 41.7h1v1h-1zM490.9 86h1v1h-1zM482.8 69.7h1v1h-1zM513.2 119.9h1v1h-1zM460.4 44.1h1v1h-1zM512.6 121.6h1v1h-1zM448.8 32.8h1v1h-1zM516.7 121.6h1v1h-1zM439.1 27.4h1v1h-1zM492.4 86.1h1v1h-1zM521.6 140.3h1v1h-1zM479.2 70.8h1v1h-1zM518.6 132.4h1v1h-1zM502.2 98.8h1v1h-1zM441.1 26.7h1v1h-1zM518.7 126.6h1v1h-1zM499.4 106.5h1v1h-1zM476.4 63.5h1v1h-1zM491.4 83.7h1v1h-1zM515.8 129.6h1v1h-1zM499.1 90.9h1v1h-1zM500.3 106.1h1v1h-1zM460.8 47.4h1v1h-1zM513.6 123.1h1v1h-1zM489.8 76.5h1v1h-1zM451.2 39.9h1v1h-1zM507.6 121.1h1v1h-1zM487.7 80h1v1h-1zM514.4 127h1v1h-1zM507.8 118.2h1v1h-1zM486.9 79.6h1v1h-1zM514.4 117.7h1v1h-1zM454.7 42.5h1v1h-1zM519.9 139.3h1v1h-1zM519.4 139.6h1v1h-1zM436 24.8h1v1h-1zM497.1 98.3h1v1h-1zM489.4 82h1v1h-1zM501.5 102.5h1v1h-1zM508.9 115.7h1v1h-1zM489.2 83.9h1v1h-1zM504.2 113.1h1v1h-1zM486.4 75.7h1v1h-1zM496.6 100.3h1v1h-1zM519 133.7h1v1h-1zM458.3 41.3h1v1h-1zM498.4 101.7h1v1h-1zM509.7 112.5h1v1h-1zM518.4 138.1h1v1h-1zM502.1 107h1v1h-1zM458.1 46.5h1v1h-1zM520.1 130.1h1v1h-1zM502.4 96.7h1v1h-1zM512.8 108.4h1v1h-1zM511.2 127.2h1v1h-1zM506.2 99.3h1v1h-1zM513 112h1v1h-1zM483.8 77.7h1v1h-1zM479.3 67.3h1v1h-1zM509.5 117.8h1v1h-1zM502 108.5h1v1h-1zM497.4 91.2h1v1h-1zM484.6 74.5h1v1h-1zM514.6 122.7h1v1h-1zM506.5 117h1v1h-1zM492.8 80.4h1v1h-1zM499.7 89.8h1v1h-1zM494.5 91.9h1v1h-1zM445.2 32.1h1v1h-1zM485.8 80h1v1h-1zM519.8 133.7h1v1h-1zM473.4 58.3h1v1h-1zM513.3 119.3h1v1h-1zM480.7 65.6h1v1h-1zM511.8 119.3h1v1h-1zM461.2 49.2h1v1h-1zM453.3 37.6h1v1h-1zM514.2 132.3h1v1h-1zM473.8 64h1v1h-1zM505.1 104.1h1v1h-1zM471.6 56.5h1v1h-1zM478.8 61.3h1v1h-1zM517.6 138.8h1v1h-1zM486.5 78h1v1h-1zM517.9 136.7h1v1h-1zM464.5 50h1v1h-1zM457.5 42.9h1v1h-1zM481 74.9h1v1h-1zM493.7 83.1h1v1h-1zM443.2 27.1h1v1h-1zM514.9 113.9h1v1h-1zM492.4 86.8h1v1h-1zM517.7 121.5h1v1h-1zM494.2 91.3h1v1h-1zM448.9 34h1v1h-1zM479.9 72.3h1v1h-1zM509.6 106.7h1v1h-1zM511.2 107.9h1v1h-1zM514.7 120.5h1v1h-1zM473.2 61.2h1v1h-1zM470.2 52.5h1v1h-1zM481.2 70.4h1v1h-1zM473.8 63h1v1h-1zM517.4 124.4h1v1h-1zM498.2 92.5h1v1h-1zM508.6 106.2h1v1h-1zM511.9 116.1h1v1h-1zM466.7 54.2h1v1h-1zM466.2 49.2h1v1h-1zM492.9 91.1h1v1h-1zM475.5 61.9h1v1h-1zM517.5 121.9h1v1h-1zM505.9 98.3h1v1h-1zM518.6 140.9h1v1h-1zM487.3 82h1v1h-1zM448.1 34.4h1v1h-1zM509.8 104.4h1v1h-1zM481.5 66.7h1v1h-1zM513.6 118.6h1v1h-1zM499.9 91.1h1v1h-1zM510.2 107.3h1v1h-1zM507.5 104.1h1v1h-1zM494.3 94.7h1v1h-1zM497.8 102.3h1v1h-1zM496.8 87.3h1v1h-1zM495 99.7h1v1h-1zM506.9 104.5h1v1h-1zM506.6 109.3h1v1h-1zM470.5 55.3h1v1h-1zM474.4 66.7h1v1h-1zM494.4 91.5h1v1h-1zM477.1 63.1h1v1h-1zM483.3 68.1h1v1h-1zM497 90.3h1v1h-1zM519.3 135.3h1v1h-1zM519.4 128.7h1v1h-1zM492.4 92.4h1v1h-1zM440.6 29.1h1v1h-1zM518.2 133.8h1v1h-1zM517.1 130.8h1v1h-1zM511.6 113.7h1v1h-1zM448.5 32.9h1v1h-1zM518.9 143.6h1v1h-1zM512.8 120.1h1v1h-1zM489.6 79.7h1v1h-1zM513.6 117.4h1v1h-1zM500.6 93.2h1v1h-1zM512.7 109.2h1v1h-1zM517 137.7h1v1h-1zM499.3 94.9h1v1h-1zM471.7 56.4h1v1h-1zM517 130.8h1v1h-1zM442.4 27.6h1v1h-1zM509.4 117.8h1v1h-1zM492.4 86.1h1v1h-1zM497.7 90.3h1v1h-1zM497.1 89.3h1v1h-1zM512 126.3h1v1h-1zM492.4 84.9h1v1h-1zM455.8 39.6h1v1h-1zM483.4 76.6h1v1h-1zM507.6 109.8h1v1h-1zM507.8 119.5h1v1h-1zM435.9 24.6h1v1h-1zM486.2 77.6h1v1h-1zM481.5 65.7h1v1h-1zM517.7 140.2h1v1h-1zM493.4 86.7h1v1h-1zM450.3 36.5h1v1h-1zM436.2 23.2h1v1h-1zM444.8 29.2h1v1h-1zM479.8 64.2h1v1h-1zM502.4 102.2h1v1h-1zM441.6 25.6h1v1h-1zM463.9 45.9h1v1h-1zM482.6 66.2h1v1h-1zM435.4 24.2h1v1h-1zM515.8 129h1v1h-1zM505.2 104.2h1v1h-1zM467.8 49.4h1v1h-1zM494.7 85.5h1v1h-1zM463.2 45.9h1v1h-1zM511.7 124.7h1v1h-1zM485.4 71.8h1v1h-1zM474.4 64.1h1v1h-1zM511.4 113.6h1v1h-1zM466.2 56.3h1v1h-1zM506.8 99.4h1v1h-1z" fill="#04fb04"/><path d="M481.5 112.8h1v1h-1zM477.2 107.3h1v1h-1zM483.9 127.3h1v1h-1zM480.4 115.7h1v1h-1zM488.1 133.1h1v1h-1zM482.4 114.8h1v1h-1zM481.2 113.9h1v1h-1zM477.1 105.1h1v1h-1zM495.6 144.7h1v1h-1zM486.2 127.2h1v1h-1zM487.7 135.1h1v1h-1zM479.7 116.7h1v1h-1zM485.3 125.8h1v1h-1zM477.8 112.9h1v1h-1zM480.4 112.7h1v1h-1zM485 123.5h1v1h-1zM484.5 117.9h1v1h-1zM485.7 121.6h1v1h-1zM497.5 146.8h1v1h-1zM488.1 134.6h1v1h-1zM478.6 116.1h1v1h-1zM487.7 135.9h1v1h-1zM476.9 111.2h1v1h-1zM489 132.7h1v1h-1zM489 130.3h1v1h-1zM484.9 128.7h1v1h-1zM480.6 120.4h1v1h-1zM478.2 108.1h1v1h-1zM478.5 108.6h1v1h-1zM493.7 140.9h1v1h-1zM493.3 141.9h1v1h-1zM495.3 146h1v1h-1zM494.1 141.8h1v1h-1zM493.9 141h1v1h-1zM484.1 128.4h1v1h-1zM487.7 134.7h1v1h-1zM482.3 121h1v1h-1zM485.1 128.5h1v1h-1zM492.6 136.9h1v1h-1zM481.4 117.1h1v1h-1z" fill="#04fb04"/><path d="M435.5 47.3h1v1h-1zM428.2 30.6h1v1h-1zM426.7 32h1v1h-1zM423.4 22.6h1v1h-1zM428.4 24.6h1v1h-1zM429.6 36.8h1v1h-1zM427.9 35.5h1v1h-1zM440.8 50.6h1v1h-1zM422.8 22.2h1v1h-1zM425.6 25.4h1v1h-1zM436.2 45.2h1v1h-1zM439.6 51.1h1v1h-1zM432.1 36.3h1v1h-1zM434.8 41.8h1v1h-1zM427.6 34.3h1v1h-1zM425.5 22.5h1v1h-1zM426.9 34.9h1v1h-1zM431.5 40.1h1v1h-1zM426.9 32.7h1v1h-1zM425.1 20.4h1v1h-1zM440.9 48.9h1v1h-1zM427.6 29.5h1v1h-1zM435.9 40.6h1v1h-1zM423.8 22.8h1v1h-1zM437.9 46.4h1v1h-1zM438.9 47.9h1v1h-1zM439.3 47.1h1v1h-1zM432.2 35.6h1v1h-1zM424.8 31h1v1h-1zM434.4 45.4h1v1h-1zM425.4 30.6h1v1h-1zM424.5 25.6h1v1h-1zM429.4 37.5h1v1h-1zM428.3 28.4h1v1h-1zM428.3 37.5h1v1h-1zM439.1 50.4h1v1h-1zM430.1 39.3h1v1h-1zM428.2 33.1h1v1h-1zM440 48.4h1v1h-1zM431.1 41.4h1v1h-1zM423.8 18.9h1v1h-1zM425.2 32.1h1v1h-1zM428.5 29.3h1v1h-1zM438.7 46h1v1h-1zM427.3 33.3h1v1h-1z" fill="#04fb04"/><path d="M356 186.6 L360 181 L365.4 177 L382.6 174.3 L401.6 174.3 L415 176.4 L434 179.3 L453 182.1 L472 186 L481.6 190.7 L472 196.4 L453 199.2 L434 201.1 L415 200.4 L401.6 199.5 L382.6 198.3 L368 196.5 L359.7 193.5Z" fill="#ff0404" /><path d="M478.4 192.2h1v1h-1zM357.6 191.2h1v1h-1zM468.8 196.3h1v1h-1zM367.3 174.3h1v1h-1zM394.6 172.7h1v1h-1zM468.3 196.4h1v1h-1zM381.4 172.2h1v1h-1zM452.8 199.5h1v1h-1zM361.6 176.3h1v1h-1zM382.7 198h1v1h-1zM363.9 197.1h1v1h-1zM398 173.2h1v1h-1zM388.5 199.1h1v1h-1zM472.9 184.7h1v1h-1zM383.5 171.1h1v1h-1zM374.5 198.6h1v1h-1zM422.7 176.2h1v1h-1zM354.1 188.3h1v1h-1zM472.2 182h1v1h-1zM386.2 199.6h1v1h-1zM396.2 172.7h1v1h-1zM375.1 197.3h1v1h-1zM382.8 199.2h1v1h-1zM445.9 180.2h1v1h-1zM438.5 201.8h1v1h-1zM385.2 169.7h1v1h-1zM477.8 196.4h1v1h-1zM371.3 174h1v1h-1zM458.2 180.2h1v1h-1zM377.1 171.3h1v1h-1zM398.2 200.4h1v1h-1zM408.7 200.1h1v1h-1zM432.8 200.7h1v1h-1zM397 173.6h1v1h-1zM460 198h1v1h-1zM376.9 174h1v1h-1zM468.7 184.5h1v1h-1zM379.3 174.1h1v1h-1zM371.7 196.7h1v1h-1zM457 180.5h1v1h-1zM357.7 181h1v1h-1zM371.2 175.5h1v1h-1zM432.1 202.5h1v1h-1zM402.1 201.5h1v1h-1zM432.7 177.6h1v1h-1zM447.5 179.7h1v1h-1zM425.9 176.6h1v1h-1zM376.5 174.1h1v1h-1zM358.6 181.4h1v1h-1zM454.8 181.8h1v1h-1zM358 182.5h1v1h-1zM418.3 176.3h1v1h-1zM448.8 201.2h1v1h-1zM480.5 193.2h1v1h-1zM384 198.9h1v1h-1zM432.1 175.2h1v1h-1zM399.2 200.3h1v1h-1zM474.7 196.5h1v1h-1zM406.8 200h1v1h-1zM477.8 194.3h1v1h-1zM460.5 199.1h1v1h-1zM412.3 171h1v1h-1zM482.6 190.4h1v1h-1zM393.2 198.7h1v1h-1zM411.9 199.9h1v1h-1zM434.3 178.9h1v1h-1zM440.6 179.6h1v1h-1zM395.7 198.7h1v1h-1zM465 199.4h1v1h-1zM461.4 197.7h1v1h-1zM395.7 199.8h1v1h-1zM469 197.7h1v1h-1zM423.8 176.8h1v1h-1zM375.9 197.8h1v1h-1zM474.1 182.6h1v1h-1zM358.8 181.3h1v1h-1zM362.9 177.6h1v1h-1zM417.7 202.3h1v1h-1zM462.5 197.4h1v1h-1zM355.9 188.5h1v1h-1zM422.6 174.6h1v1h-1zM392.6 200.8h1v1h-1zM480.9 191.6h1v1h-1zM395.9 200.3h1v1h-1zM456.7 198.7h1v1h-1zM434.4 204h1v1h-1zM422.8 200.4h1v1h-1zM398.2 200.1h1v1h-1zM402.4 201.2h1v1h-1zM394.3 199.6h1v1h-1zM403 172.4h1v1h-1zM430.2 177.6h1v1h-1zM457.7 181.7h1v1h-1zM391.4 171.8h1v1h-1zM412.7 173.7h1v1h-1zM430.8 176.1h1v1h-1zM378 173.8h1v1h-1zM402.1 172.1h1v1h-1zM452 200h1v1h-1zM433.7 178.5h1v1h-1zM468.2 184.2h1v1h-1zM432.9 201h1v1h-1zM439.4 200.6h1v1h-1zM418.2 172.8h1v1h-1zM437.8 200.4h1v1h-1zM458.4 181.6h1v1h-1zM434.1 201.4h1v1h-1zM448.6 201.9h1v1h-1zM448.1 201.6h1v1h-1zM426 201.8h1v1h-1zM467.3 184h1v1h-1zM471.5 185.2h1v1h-1zM371.7 175h1v1h-1zM429.4 203.6h1v1h-1zM417.4 200.4h1v1h-1zM433.7 201.6h1v1h-1zM365.1 196.1h1v1h-1zM478.2 192.9h1v1h-1zM446.1 180.5h1v1h-1zM426.8 201.6h1v1h-1zM384.3 170.3h1v1h-1zM385.6 198.6h1v1h-1zM468.6 183.1h1v1h-1zM459.3 181.9h1v1h-1zM476.7 195.1h1v1h-1zM390.8 201.1h1v1h-1zM378.9 174.2h1v1h-1zM429.9 177.5h1v1h-1zM425.1 202.2h1v1h-1zM426.4 174.7h1v1h-1zM427.6 200.6h1v1h-1zM373.4 174.6h1v1h-1zM382 171.2h1v1h-1zM384.2 199.1h1v1h-1zM359.2 180.8h1v1h-1zM425.9 175.3h1v1h-1zM449.3 178.1h1v1h-1zM388.4 198.7h1v1h-1zM435.7 178.4h1v1h-1zM472.3 195.8h1v1h-1zM385.2 172.8h1v1h-1zM382.2 172.6h1v1h-1zM358.5 179h1v1h-1zM437.7 177.1h1v1h-1zM451.3 180.6h1v1h-1zM478.2 187.3h1v1h-1zM423.6 201.1h1v1h-1zM452.3 201.6h1v1h-1zM361.7 174.8h1v1h-1zM472.5 195.6h1v1h-1zM402.3 201.5h1v1h-1zM361.7 176.7h1v1h-1zM394.1 172.9h1v1h-1zM358 181.3h1v1h-1zM376.4 200.9h1v1h-1zM376.7 173.1h1v1h-1zM355.2 184.3h1v1h-1zM387.1 172.1h1v1h-1zM396.8 200.5h1v1h-1zM462.4 182.4h1v1h-1zM421.3 200.9h1v1h-1zM398.9 200.4h1v1h-1zM421.7 201h1v1h-1zM423.9 201h1v1h-1zM404 173.9h1v1h-1zM454.7 198.6h1v1h-1zM471.9 198.1h1v1h-1zM383.3 198.4h1v1h-1zM427.1 175.7h1v1h-1zM425 203.6h1v1h-1zM468.5 197.1h1v1h-1zM428.3 177.7h1v1h-1zM422 201.1h1v1h-1zM411.5 201.6h1v1h-1zM481.2 189.7h1v1h-1zM424.9 202.6h1v1h-1zM463.8 197.4h1v1h-1zM369.9 174.6h1v1h-1zM356.7 183.8h1v1h-1zM428.9 201.3h1v1h-1zM435.4 203.2h1v1h-1zM446.4 177.9h1v1h-1zM373.5 175.1h1v1h-1zM407.1 199.5h1v1h-1zM387.2 173.2h1v1h-1zM372.6 197.7h1v1h-1zM403.8 201.4h1v1h-1zM391.3 173.2h1v1h-1zM359.6 175.9h1v1h-1zM441 201.1h1v1h-1zM402.2 171.3h1v1h-1zM366.8 173h1v1h-1zM409.4 200.3h1v1h-1zM480.2 192.4h1v1h-1zM451.2 199.2h1v1h-1zM369.6 198.2h1v1h-1zM462.9 182.6h1v1h-1zM411.1 173.6h1v1h-1zM376.6 172.6h1v1h-1zM372.8 197.5h1v1h-1zM462.8 200.7h1v1h-1zM414.8 201.2h1v1h-1zM458 182.7h1v1h-1zM447.1 201.9h1v1h-1zM435.7 200.9h1v1h-1zM438.6 200.4h1v1h-1zM392.7 199.8h1v1h-1zM405.5 174.1h1v1h-1zM465.9 183.4h1v1h-1zM390.7 171h1v1h-1zM473.2 185.9h1v1h-1zM449.5 199.2h1v1h-1zM447.4 180.1h1v1h-1zM478.1 188h1v1h-1zM372.6 196.8h1v1h-1zM482.1 188.7h1v1h-1zM381.1 173.7h1v1h-1zM372.3 175h1v1h-1zM407.6 201.4h1v1h-1zM422.2 176h1v1h-1zM438.5 201.1h1v1h-1zM420.2 174h1v1h-1zM423.7 200.9h1v1h-1zM364.8 174.6h1v1h-1zM427.4 200.6h1v1h-1zM414 175h1v1h-1zM449.5 199.2h1v1h-1zM461.7 197.8h1v1h-1zM437.9 202.6h1v1h-1zM407.3 200.6h1v1h-1zM360.3 177.6h1v1h-1zM372.4 175.3h1v1h-1zM396.7 171.5h1v1h-1zM465.9 197.2h1v1h-1zM353.8 183.9h1v1h-1zM379.7 173.2h1v1h-1zM423.6 173.9h1v1h-1zM369.9 196.5h1v1h-1zM458.1 200.4h1v1h-1zM383.4 198.8h1v1h-1zM361.4 174.4h1v1h-1zM364.9 176.2h1v1h-1zM395.4 172.3h1v1h-1zM410.6 199.7h1v1h-1zM358.7 181.5h1v1h-1zM361.9 178.5h1v1h-1zM469.9 184.1h1v1h-1zM395.1 173h1v1h-1zM403.6 173.4h1v1h-1zM409.1 201h1v1h-1zM476.3 193.6h1v1h-1zM448.1 199.2h1v1h-1zM408.4 173.9h1v1h-1zM401.4 201.9h1v1h-1zM436.3 178.6h1v1h-1zM379.4 200.5h1v1h-1zM478.5 191.8h1v1h-1zM357.9 179.6h1v1h-1zM385.7 199.7h1v1h-1zM355.9 193.3h1v1h-1zM356.2 184.1h1v1h-1zM478.7 194.4h1v1h-1zM426.8 175.9h1v1h-1zM372.9 175.1h1v1h-1zM443.6 201.4h1v1h-1zM398.3 199.5h1v1h-1zM397.6 200.3h1v1h-1zM362.8 195.1h1v1h-1zM468.8 196.5h1v1h-1zM357.7 180.4h1v1h-1zM437.2 178h1v1h-1zM364.3 175.3h1v1h-1zM461.7 183.5h1v1h-1zM472 185.3h1v1h-1zM458 181.5h1v1h-1zM471.2 184.4h1v1h-1zM385.1 172.8h1v1h-1zM403.4 200.1h1v1h-1zM428.8 201.6h1v1h-1zM417.3 200.6h1v1h-1zM447.3 200.2h1v1h-1zM418.2 175.7h1v1h-1zM411.9 201.2h1v1h-1zM459.8 182.2h1v1h-1zM363 198.3h1v1h-1zM362.5 176.6h1v1h-1zM392.4 198.7h1v1h-1zM417.8 176.2h1v1h-1zM425.5 202.8h1v1h-1zM455.8 182.1h1v1h-1zM436.8 179.3h1v1h-1zM364.1 172.9h1v1h-1zM408.4 200.5h1v1h-1zM371.3 173.6h1v1h-1zM401.4 199.2h1v1h-1zM472.5 183.6h1v1h-1zM415.5 172.4h1v1h-1zM462.2 181.6h1v1h-1zM430.7 200.6h1v1h-1zM471.2 197.1h1v1h-1zM401.2 203.2h1v1h-1zM382.2 199.5h1v1h-1zM441.4 177.7h1v1h-1zM365.4 175.9h1v1h-1zM450.7 201h1v1h-1zM436.2 202.4h1v1h-1zM375.3 174.3h1v1h-1zM356.6 182h1v1h-1zM455.8 181.1h1v1h-1zM365.4 195.9h1v1h-1zM379.2 200.1h1v1h-1zM433 200.7h1v1h-1zM384.4 198.6h1v1h-1zM414.3 200h1v1h-1zM399.7 200.4h1v1h-1zM427.6 201h1v1h-1zM435.7 203.9h1v1h-1zM379.8 197.8h1v1h-1zM433.6 202h1v1h-1zM440.7 200h1v1h-1zM444.9 200.6h1v1h-1zM388 172.4h1v1h-1zM426.6 200.4h1v1h-1zM437 202.7h1v1h-1zM434 201.4h1v1h-1zM354.5 184.5h1v1h-1zM403.3 200.5h1v1h-1zM392.9 173.4h1v1h-1zM358.8 192.6h1v1h-1zM393.2 199.8h1v1h-1zM371.4 172.5h1v1h-1zM383.5 199.3h1v1h-1zM450 201.2h1v1h-1zM465.1 199.9h1v1h-1zM446.8 201h1v1h-1zM356.1 189.5h1v1h-1zM418.7 174.1h1v1h-1zM430.8 200.8h1v1h-1zM395.6 173.2h1v1h-1zM362.9 196.3h1v1h-1zM446.9 200.5h1v1h-1zM419.4 175.7h1v1h-1zM356.5 189.1h1v1h-1zM394.3 199.8h1v1h-1zM464.9 183.5h1v1h-1zM428.5 176.3h1v1h-1zM450 180.7h1v1h-1zM454.6 181.9h1v1h-1zM454.9 198.4h1v1h-1zM413 200.8h1v1h-1zM382 171.5h1v1h-1zM422.1 201.4h1v1h-1zM427.8 177.7h1v1h-1zM409.2 200.4h1v1h-1zM450 180.7h1v1h-1zM458 198.7h1v1h-1zM456.3 180.3h1v1h-1zM462.8 197.3h1v1h-1zM396.4 172.8h1v1h-1zM367.8 196.6h1v1h-1zM437.9 175.5h1v1h-1zM401.8 173h1v1h-1zM415.6 199.9h1v1h-1zM421 203.8h1v1h-1zM393.5 201.4h1v1h-1zM402.7 199.5h1v1h-1zM468.7 199.4h1v1h-1zM442.6 200.1h1v1h-1zM368.6 175.9h1v1h-1zM459.4 180.9h1v1h-1zM404.4 174.3h1v1h-1zM375.2 199h1v1h-1zM427.7 203.5h1v1h-1zM461.7 198.7h1v1h-1zM442 202.2h1v1h-1zM396.6 200.7h1v1h-1zM446.1 199.4h1v1h-1zM358.5 177h1v1h-1zM477 195.5h1v1h-1zM472.9 185h1v1h-1zM400.1 173.8h1v1h-1zM450.9 178.1h1v1h-1zM471.1 184.8h1v1h-1zM374.2 198.9h1v1h-1zM364.3 195.8h1v1h-1zM426.8 175.5h1v1h-1zM410.4 173.1h1v1h-1zM390.7 200.9h1v1h-1zM384.7 199.8h1v1h-1zM476.9 193.2h1v1h-1zM470 185.1h1v1h-1zM431.2 204.8h1v1h-1zM439.4 200.6h1v1h-1zM378.6 198.3h1v1h-1zM380 199.8h1v1h-1zM399.4 173.6h1v1h-1zM456.9 198.1h1v1h-1zM437.4 203h1v1h-1zM354.8 188.3h1v1h-1zM425.1 202.9h1v1h-1zM356.7 183.6h1v1h-1zM442.4 199.8h1v1h-1zM381.2 198.5h1v1h-1zM360.6 177.3h1v1h-1zM433.6 177.1h1v1h-1zM385.1 199.8h1v1h-1zM411.7 202.6h1v1h-1zM433 177.5h1v1h-1zM397.5 200.8h1v1h-1zM379.9 174.1h1v1h-1zM437.1 200.3h1v1h-1zM372.4 198.9h1v1h-1zM479.3 191.8h1v1h-1zM373.3 174.3h1v1h-1zM368.6 196.4h1v1h-1zM365.5 195.9h1v1h-1zM406.3 203.3h1v1h-1zM357.3 194.2h1v1h-1zM366.1 197.7h1v1h-1zM382.8 173.6h1v1h-1zM359.6 178.9h1v1h-1zM434.8 200.7h1v1h-1zM384.2 173.5h1v1h-1zM387.5 172.4h1v1h-1zM403.8 173.8h1v1h-1zM445.9 199.6h1v1h-1zM462.4 179.7h1v1h-1zM370.8 198.4h1v1h-1zM430.3 177.1h1v1h-1zM376.9 199h1v1h-1zM455.9 181.9h1v1h-1zM407.5 174.8h1v1h-1zM377.6 172.5h1v1h-1zM452.2 200.3h1v1h-1zM356 189h1v1h-1zM454.7 200.3h1v1h-1zM441.8 202.8h1v1h-1zM475 184.9h1v1h-1zM357.2 193.8h1v1h-1zM447.6 180.3h1v1h-1zM385.1 200.1h1v1h-1zM424.7 176.4h1v1h-1zM411.1 172.8h1v1h-1zM387 173.2h1v1h-1zM380.6 198.5h1v1h-1zM432.3 178.1h1v1h-1zM470.3 182.8h1v1h-1zM475.9 193.8h1v1h-1zM356.7 189.9h1v1h-1zM459.6 199.4h1v1h-1zM380 198h1v1h-1zM360.2 179.9h1v1h-1zM400.5 173.6h1v1h-1zM425 201.7h1v1h-1zM459.8 181.7h1v1h-1zM481.2 188.9h1v1h-1zM481.5 190.4h1v1h-1zM472.7 185.7h1v1h-1zM379.8 173.5h1v1h-1zM436.5 176.3h1v1h-1zM458.8 198.8h1v1h-1zM392.9 173.5h1v1h-1zM427.6 176.2h1v1h-1zM447.5 179.3h1v1h-1zM437.4 200.4h1v1h-1zM369.2 196.5h1v1h-1zM409 200.6h1v1h-1zM469.3 198.5h1v1h-1zM437.4 201.7h1v1h-1zM471 185.2h1v1h-1zM438.7 178.7h1v1h-1zM475.3 185.8h1v1h-1zM442.6 179.4h1v1h-1zM375.1 197.1h1v1h-1zM452.6 199.9h1v1h-1zM444.1 200.3h1v1h-1zM438.7 201.5h1v1h-1zM451.9 199.2h1v1h-1zM483.2 193.1h1v1h-1zM383.8 172.4h1v1h-1zM369.1 174.2h1v1h-1zM442.7 200.4h1v1h-1zM381.6 173.3h1v1h-1zM364.6 175.1h1v1h-1zM356.2 184h1v1h-1zM476.6 186.5h1v1h-1zM443.3 200.7h1v1h-1zM364 195.2h1v1h-1zM392 173.2h1v1h-1zM475.9 195.5h1v1h-1zM441.8 200.1h1v1h-1zM398.2 199.5h1v1h-1zM406 199.7h1v1h-1zM357.9 181.8h1v1h-1zM362.3 177.5h1v1h-1zM470.5 182.8h1v1h-1zM374.4 197.9h1v1h-1zM478.3 192.9h1v1h-1zM399.6 173.3h1v1h-1zM470.8 196.1h1v1h-1zM371.2 198.3h1v1h-1zM420.7 200.3h1v1h-1zM409 201.3h1v1h-1zM473.6 186.3h1v1h-1zM399.5 173.5h1v1h-1zM369.4 175.2h1v1h-1zM433.3 201.9h1v1h-1zM453.9 201.5h1v1h-1zM476.9 187.8h1v1h-1zM381.4 173.9h1v1h-1zM377.1 200h1v1h-1zM428.4 177.6h1v1h-1zM404.8 200.5h1v1h-1zM367.8 175.3h1v1h-1zM441.6 177.1h1v1h-1zM447.5 199.6h1v1h-1zM442.5 179.1h1v1h-1zM376.7 171.8h1v1h-1zM375.6 174.7h1v1h-1zM463.9 198.9h1v1h-1zM379.8 172.8h1v1h-1zM365.7 196.5h1v1h-1zM371.9 171.5h1v1h-1zM374 199.1h1v1h-1zM358.5 178.5h1v1h-1zM403.2 173.2h1v1h-1zM355 188.1h1v1h-1zM459.6 198.2h1v1h-1zM407 173.4h1v1h-1zM450 180.2h1v1h-1zM377.8 173.4h1v1h-1zM449.9 199.3h1v1h-1zM408.4 199.7h1v1h-1zM469 184.8h1v1h-1zM426.9 177h1v1h-1zM372.3 198.6h1v1h-1zM360.5 193.8h1v1h-1zM409.9 201h1v1h-1zM439.7 200.4h1v1h-1zM435.4 200.9h1v1h-1zM366.9 174.8h1v1h-1zM480.2 187.1h1v1h-1zM435.3 202.3h1v1h-1zM364.3 195.6h1v1h-1zM465 181.9h1v1h-1zM483.7 191.2h1v1h-1zM465.1 181.9h1v1h-1zM462.2 182.6h1v1h-1zM457.9 200.1h1v1h-1zM441.8 200.8h1v1h-1zM356.8 189.4h1v1h-1zM391 200.7h1v1h-1zM413.6 175.3h1v1h-1zM449.4 199h1v1h-1zM427.7 174.2h1v1h-1zM363.4 194.9h1v1h-1zM428.1 200.6h1v1h-1zM456.5 198.3h1v1h-1zM417.5 200.7h1v1h-1zM374.5 173.6h1v1h-1zM371 174.9h1v1h-1zM357.7 182.2h1v1h-1zM436.6 177.3h1v1h-1zM443.3 200.3h1v1h-1zM460.2 183h1v1h-1zM438.9 176.2h1v1h-1zM451.5 200.8h1v1h-1zM362.9 175.3h1v1h-1zM360.3 177.3h1v1h-1zM461.4 198h1v1h-1zM441.1 200.4h1v1h-1zM439.6 179.3h1v1h-1zM433.2 200.9h1v1h-1zM381.1 198.9h1v1h-1zM429.1 177.7h1v1h-1zM474.5 194.8h1v1h-1zM367.6 200.3h1v1h-1zM468.7 196.9h1v1h-1zM422.2 200.9h1v1h-1zM419.8 201.2h1v1h-1zM431 177.1h1v1h-1zM436.9 177.7h1v1h-1zM361.4 195h1v1h-1zM424.2 176.6h1v1h-1zM471.3 196.8h1v1h-1zM468.9 183.6h1v1h-1zM416.6 176.2h1v1h-1zM355.2 186.9h1v1h-1zM458.6 198.4h1v1h-1zM457.7 181.3h1v1h-1zM479.6 191.8h1v1h-1zM481.1 187.7h1v1h-1zM363.6 195h1v1h-1zM457.7 199.4h1v1h-1zM400.2 173h1v1h-1zM456.1 198.7h1v1h-1zM466.7 199.8h1v1h-1zM365.7 175.7h1v1h-1zM355.6 182.8h1v1h-1zM479.1 191.7h1v1h-1zM394 201.1h1v1h-1zM440.3 202h1v1h-1zM355.1 187.9h1v1h-1zM480.8 191h1v1h-1zM354.8 188.1h1v1h-1zM394.7 170.6h1v1h-1zM460.2 200.9h1v1h-1zM467.5 181.4h1v1h-1zM410.6 200h1v1h-1zM466.1 180.9h1v1h-1zM455.2 179.3h1v1h-1zM355.8 184.7h1v1h-1zM480.7 189h1v1h-1zM412.6 200.9h1v1h-1zM456.7 182.4h1v1h-1zM416.5 175h1v1h-1zM430.5 176.3h1v1h-1zM459.4 199.3h1v1h-1zM441.7 202.1h1v1h-1zM377.6 172.6h1v1h-1zM359 179h1v1h-1zM445.6 180.2h1v1h-1zM481.6 191.9h1v1h-1zM367.7 175.7h1v1h-1zM356.2 185h1v1h-1zM391.7 201.7h1v1h-1zM458.7 181.8h1v1h-1zM407.1 200.2h1v1h-1zM358.4 181.2h1v1h-1zM430.2 174.9h1v1h-1zM472.6 185.8h1v1h-1zM391.8 171.5h1v1h-1zM394.8 198.6h1v1h-1zM358.8 177.5h1v1h-1zM377.3 172.1h1v1h-1zM463.3 183.8h1v1h-1zM391.1 199.8h1v1h-1zM453.8 177.5h1v1h-1zM425.3 203.4h1v1h-1zM356.8 190.5h1v1h-1zM438.3 201.3h1v1h-1zM468.4 184.6h1v1h-1zM431.2 175.1h1v1h-1zM446.5 179.7h1v1h-1zM371.1 175.4h1v1h-1zM472.7 183.9h1v1h-1zM418 201h1v1h-1zM431.2 200.8h1v1h-1zM408 174.5h1v1h-1zM392.9 199.7h1v1h-1zM413.2 201.3h1v1h-1zM384.9 199.2h1v1h-1zM367.8 173h1v1h-1zM357 192.2h1v1h-1zM406.7 199.6h1v1h-1zM416.4 175.7h1v1h-1zM408.3 173.6h1v1h-1zM381.4 172.8h1v1h-1zM374.3 172.9h1v1h-1zM390.2 198.6h1v1h-1zM477.9 192.5h1v1h-1zM462.8 198.1h1v1h-1zM356.7 195h1v1h-1zM355.8 184.5h1v1h-1zM373.1 174.5h1v1h-1zM426 174.8h1v1h-1zM470.3 196.5h1v1h-1zM481.1 186.4h1v1h-1zM356.7 190.9h1v1h-1zM451.5 181.1h1v1h-1zM388.3 199.9h1v1h-1zM443 179.7h1v1h-1zM445.1 180h1v1h-1zM458.2 200.7h1v1h-1zM360.9 177.4h1v1h-1zM479.1 185.8h1v1h-1zM383.6 172.3h1v1h-1zM385.3 199.6h1v1h-1zM467.2 183.2h1v1h-1zM431.4 177.3h1v1h-1zM424.7 200.9h1v1h-1zM409.1 173.9h1v1h-1zM415.1 174.7h1v1h-1zM476.8 187.9h1v1h-1zM405.4 172.8h1v1h-1zM466.6 181h1v1h-1zM445.5 199.4h1v1h-1zM460.6 198.1h1v1h-1zM367.9 196.7h1v1h-1zM407.4 174.4h1v1h-1zM469.7 182.4h1v1h-1zM394.7 200h1v1h-1zM356.3 189.7h1v1h-1zM410.9 203.9h1v1h-1zM356.7 192.4h1v1h-1zM480 190.9h1v1h-1zM481 192.4h1v1h-1zM465.5 197.8h1v1h-1zM355.8 185.6h1v1h-1zM380.7 198.2h1v1h-1zM353 186.3h1v1h-1zM412.7 173h1v1h-1zM413.7 175.3h1v1h-1zM398.7 173.3h1v1h-1zM370.4 173.6h1v1h-1zM466.6 197.3h1v1h-1zM431.2 201.9h1v1h-1zM362.8 177.2h1v1h-1zM478.6 188.9h1v1h-1zM446.6 180.1h1v1h-1zM461.8 180.9h1v1h-1zM399.2 173.5h1v1h-1zM367.3 196.3h1v1h-1zM395.4 198.7h1v1h-1zM416.2 175.5h1v1h-1zM455.9 180.9h1v1h-1zM435.1 176.9h1v1h-1zM366.3 198.2h1v1h-1zM471.9 184.6h1v1h-1zM479.3 191.7h1v1h-1zM443.8 201h1v1h-1zM427.8 200.8h1v1h-1zM366.3 197.9h1v1h-1zM439.6 200.2h1v1h-1zM460.5 182.8h1v1h-1zM481.7 190.2h1v1h-1zM375.2 199.6h1v1h-1zM363.7 194.8h1v1h-1zM369.7 197.6h1v1h-1zM424.5 201.3h1v1h-1zM391.4 199.7h1v1h-1zM362.2 196.9h1v1h-1zM397.6 172.3h1v1h-1zM438.9 179.2h1v1h-1zM445.9 203.1h1v1h-1zM444.5 180.3h1v1h-1zM423.7 203.8h1v1h-1zM403.2 172h1v1h-1zM419.9 176h1v1h-1zM477 194.4h1v1h-1zM451.3 178.5h1v1h-1zM377.3 174.1h1v1h-1zM378.5 198.2h1v1h-1zM424.8 177.4h1v1h-1zM440.1 179.3h1v1h-1zM445.1 180.4h1v1h-1zM386.7 173.7h1v1h-1zM442.2 179.2h1v1h-1zM451.4 201.1h1v1h-1zM411.6 173h1v1h-1zM365.9 174.2h1v1h-1zM369.9 174.1h1v1h-1zM480.3 191.5h1v1h-1zM472.3 184.6h1v1h-1zM367.6 173.6h1v1h-1zM416.2 202.2h1v1h-1zM472.3 196.9h1v1h-1zM453.6 180.2h1v1h-1zM401.8 170.5h1v1h-1zM457.3 182.4h1v1h-1zM367.2 174.9h1v1h-1zM432 178.2h1v1h-1zM423.1 200.7h1v1h-1zM356.1 183.9h1v1h-1zM483.4 188.4h1v1h-1zM420.1 175.2h1v1h-1zM477.9 192.4h1v1h-1zM375.8 172.3h1v1h-1zM438.3 202.8h1v1h-1zM476.5 187.6h1v1h-1zM393.3 173.5h1v1h-1zM420.7 200.4h1v1h-1zM373.2 198h1v1h-1zM451.9 180.1h1v1h-1zM443.3 199.8h1v1h-1zM452.4 201.9h1v1h-1zM389.9 173.7h1v1h-1zM479.4 193.6h1v1h-1zM423.3 203.1h1v1h-1zM471.9 195.7h1v1h-1zM474.4 195.2h1v1h-1zM467.3 184h1v1h-1zM466.2 197.9h1v1h-1zM438.4 202.8h1v1h-1zM354.8 181.5h1v1h-1zM425.8 200.9h1v1h-1zM387.6 171.8h1v1h-1zM420.1 201.1h1v1h-1zM430.1 177.6h1v1h-1zM465.6 182.2h1v1h-1zM393 172.9h1v1h-1zM367.5 196.8h1v1h-1zM443.5 179.4h1v1h-1zM356.1 191.6h1v1h-1zM416.6 200.7h1v1h-1zM434.9 202.5h1v1h-1zM464 197.2h1v1h-1zM408.2 174.7h1v1h-1zM359.7 193.4h1v1h-1zM383.5 173.7h1v1h-1zM410.1 201.1h1v1h-1zM388.2 172.8h1v1h-1zM379.9 171.6h1v1h-1zM356.7 179.8h1v1h-1zM405.1 200.6h1v1h-1zM380.8 171.4h1v1h-1zM387.1 198.9h1v1h-1zM357 181.8h1v1h-1zM361.6 176.8h1v1h-1zM472.1 198.8h1v1h-1zM385.3 173.4h1v1h-1zM421.7 202.7h1v1h-1zM431.8 202.6h1v1h-1zM356 182.7h1v1h-1zM457.4 201.1h1v1h-1zM476.3 193.5h1v1h-1zM388.3 199.6h1v1h-1zM431.5 202.6h1v1h-1zM381.9 171h1v1h-1zM386.8 169.3h1v1h-1zM361 178h1v1h-1zM371.9 197.7h1v1h-1zM443.7 179.1h1v1h-1zM397.1 201.3h1v1h-1zM407.2 174.6h1v1h-1zM402 199.8h1v1h-1zM387 198.7h1v1h-1zM469.8 185.1h1v1h-1zM433.5 176.2h1v1h-1zM367.4 196h1v1h-1zM401.7 200h1v1h-1zM393.4 199.1h1v1h-1zM394 200.1h1v1h-1zM441.1 201.5h1v1h-1zM420.2 201.2h1v1h-1zM356 190h1v1h-1zM481 190.4h1v1h-1zM413.7 201.9h1v1h-1zM456.2 180.7h1v1h-1zM417.7 200.4h1v1h-1zM484 188.8h1v1h-1zM404.8 199.8h1v1h-1zM443.4 199.7h1v1h-1zM411.6 201.6h1v1h-1zM403 173.1h1v1h-1zM455.1 198.5h1v1h-1zM389.7 198.6h1v1h-1zM474 195.4h1v1h-1zM430.9 202.6h1v1h-1zM390.5 171.9h1v1h-1zM361.6 178.3h1v1h-1zM400.1 199.3h1v1h-1zM469.3 197h1v1h-1zM391.4 173.3h1v1h-1zM420.6 175.5h1v1h-1zM447.9 201.2h1v1h-1zM465.3 183.5h1v1h-1zM471.8 184.5h1v1h-1zM362.9 177.9h1v1h-1zM411 202.5h1v1h-1zM450.4 200.9h1v1h-1zM437.3 177.8h1v1h-1zM455.9 182.2h1v1h-1zM367.7 198.6h1v1h-1zM458.7 182.4h1v1h-1zM436.6 176.8h1v1h-1zM424.4 174.9h1v1h-1zM426.5 176.5h1v1h-1zM458.6 182h1v1h-1zM391.9 171.2h1v1h-1zM426.6 202.1h1v1h-1zM398.2 173.7h1v1h-1zM377.8 174h1v1h-1zM446.8 180.6h1v1h-1zM370.5 197.5h1v1h-1zM468.7 196.7h1v1h-1zM458.2 181.4h1v1h-1zM369.4 198.1h1v1h-1zM463.2 182.9h1v1h-1zM408 170.1h1v1h-1zM455.5 200.2h1v1h-1zM383.7 199.1h1v1h-1zM375.5 199.7h1v1h-1zM468.5 197.7h1v1h-1zM471.1 182.7h1v1h-1zM440 177.1h1v1h-1zM462.2 199.3h1v1h-1zM452.5 179.1h1v1h-1zM359 179.7h1v1h-1zM444.6 179.3h1v1h-1zM419 175.7h1v1h-1zM441.3 178.5h1v1h-1zM412.5 200.2h1v1h-1zM422.8 176.9h1v1h-1zM391.8 173.7h1v1h-1zM449.3 199.8h1v1h-1zM454.1 181.8h1v1h-1zM470.3 185.2h1v1h-1zM416.8 200.5h1v1h-1zM403.7 172.1h1v1h-1zM443.1 199.9h1v1h-1zM389.5 200.9h1v1h-1zM354.6 188.9h1v1h-1zM404.2 200.6h1v1h-1zM478.5 186h1v1h-1zM476.4 194.2h1v1h-1zM469.4 199.1h1v1h-1zM423.6 201.3h1v1h-1zM440.8 178.9h1v1h-1zM412.3 200.2h1v1h-1zM359.6 194.2h1v1h-1zM354.5 186.8h1v1h-1zM424.3 200.6h1v1h-1zM461.9 199.6h1v1h-1zM442.8 203.9h1v1h-1zM446.5 179.2h1v1h-1zM470.9 185.1h1v1h-1zM391.4 173.7h1v1h-1zM402.7 173.9h1v1h-1zM473.7 195.3h1v1h-1zM469.3 183.9h1v1h-1zM388 198.6h1v1h-1zM392.2 173.2h1v1h-1zM479.5 188.3h1v1h-1zM418.8 176.4h1v1h-1zM437.2 177.3h1v1h-1zM442.1 175.5h1v1h-1zM390.2 199.4h1v1h-1zM461.1 183.2h1v1h-1zM408.6 201.5h1v1h-1zM463.2 182.2h1v1h-1zM386.2 200.6h1v1h-1zM449.6 200.3h1v1h-1zM478.2 187.1h1v1h-1zM357.7 190.7h1v1h-1zM354.8 188.3h1v1h-1zM372.4 197.2h1v1h-1zM417.9 202.5h1v1h-1zM429 177.8h1v1h-1zM460.9 182.7h1v1h-1zM368.2 197.8h1v1h-1zM405.8 199.4h1v1h-1zM405.6 199.8h1v1h-1zM455.2 181.1h1v1h-1zM458.9 181.5h1v1h-1zM399.7 171.4h1v1h-1zM420.7 176.8h1v1h-1zM364.5 176.6h1v1h-1zM374.2 173.8h1v1h-1zM467.9 198.3h1v1h-1zM416.5 201h1v1h-1zM454.5 198.9h1v1h-1zM413.1 202.3h1v1h-1zM471.1 196.5h1v1h-1zM412.4 201.3h1v1h-1zM476.5 186.9h1v1h-1zM371.8 175.2h1v1h-1zM419.1 200.7h1v1h-1zM445.7 179h1v1h-1zM421.4 176.5h1v1h-1zM429 201.3h1v1h-1zM433.4 178.8h1v1h-1zM366.5 197.3h1v1h-1zM442.5 199.9h1v1h-1zM457.1 180.7h1v1h-1zM354.7 186.9h1v1h-1zM426.2 201.3h1v1h-1zM385.9 198.2h1v1h-1zM444.6 179.9h1v1h-1zM370.4 196.7h1v1h-1zM362.3 194.8h1v1h-1zM390.2 171.2h1v1h-1zM465.2 181.9h1v1h-1zM461.1 182.7h1v1h-1zM424 177.2h1v1h-1zM392.8 200.7h1v1h-1zM415.1 201h1v1h-1zM355.3 184h1v1h-1zM410.1 174.3h1v1h-1zM428.7 176.4h1v1h-1zM483.5 188.9h1v1h-1zM356.7 194.4h1v1h-1zM478 193.1h1v1h-1zM364.2 176.1h1v1h-1zM476.7 187.5h1v1h-1zM419.2 200.6h1v1h-1zM406 202h1v1h-1zM373.8 198.6h1v1h-1zM365.6 195.4h1v1h-1zM455.7 199.5h1v1h-1zM401.6 200.2h1v1h-1zM461.2 198.3h1v1h-1zM391.8 171.1h1v1h-1zM476.1 193.8h1v1h-1zM381 198.4h1v1h-1zM428.5 201.6h1v1h-1zM389.7 198.8h1v1h-1zM381.4 171.8h1v1h-1zM359.4 177.1h1v1h-1zM360.7 178.3h1v1h-1z" fill="#ff0404"/><path d="M403.9 177.4h0.8v0.8h-0.8zM413.4 176.5h0.8v0.8h-0.8zM401.7 195.6h0.8v0.8h-0.8zM378.2 178.9h0.8v0.8h-0.8zM453 197.1h0.8v0.8h-0.8zM414.1 179.9h0.8v0.8h-0.8zM397.6 175.6h0.8v0.8h-0.8zM413 195.6h0.8v0.8h-0.8zM366.5 194.5h0.8v0.8h-0.8zM444.5 196.4h0.8v0.8h-0.8zM362.3 189.7h0.8v0.8h-0.8zM390.4 197.8h0.8v0.8h-0.8zM390.2 196.6h0.8v0.8h-0.8zM459.9 195.8h0.8v0.8h-0.8zM407.5 177.5h0.8v0.8h-0.8zM454.1 196h0.8v0.8h-0.8zM412.3 177.2h0.8v0.8h-0.8zM404.7 195.4h0.8v0.8h-0.8zM431.4 199.8h0.8v0.8h-0.8zM451.5 197.7h0.8v0.8h-0.8zM400.6 175h0.8v0.8h-0.8zM467.4 187h0.8v0.8h-0.8zM417.9 178.2h0.8v0.8h-0.8zM433.3 181.9h0.8v0.8h-0.8zM449.5 196.6h0.8v0.8h-0.8zM451.7 197.3h0.8v0.8h-0.8zM392.4 176.8h0.8v0.8h-0.8zM376 193.9h0.8v0.8h-0.8zM394.9 197.1h0.8v0.8h-0.8zM390.3 174.9h0.8v0.8h-0.8zM420.3 199.7h0.8v0.8h-0.8zM466.6 186.4h0.8v0.8h-0.8zM379.6 197h0.8v0.8h-0.8zM468.7 185.8h0.8v0.8h-0.8zM384.5 197.4h0.8v0.8h-0.8zM448.8 181.8h0.8v0.8h-0.8zM422.8 178h0.8v0.8h-0.8zM365.7 182h0.8v0.8h-0.8zM425.3 179.3h0.8v0.8h-0.8zM412 196.6h0.8v0.8h-0.8zM458 195.8h0.8v0.8h-0.8zM456.3 197.5h0.8v0.8h-0.8zM369.2 195.7h0.8v0.8h-0.8zM423 180.1h0.8v0.8h-0.8zM379.8 175.8h0.8v0.8h-0.8zM472.8 187.6h0.8v0.8h-0.8zM447.8 181.7h0.8v0.8h-0.8zM377.8 175.1h0.8v0.8h-0.8zM468.3 185.5h0.8v0.8h-0.8zM365.6 193.3h0.8v0.8h-0.8zM458.2 187.3h0.8v0.8h-0.8zM437.2 181.5h0.8v0.8h-0.8zM479.2 190.4h0.8v0.8h-0.8zM458 195.5h0.8v0.8h-0.8zM371.4 177.4h0.8v0.8h-0.8zM413.4 198.3h0.8v0.8h-0.8zM439.7 196.6h0.8v0.8h-0.8zM461.3 195.6h0.8v0.8h-0.8zM457.1 195.7h0.8v0.8h-0.8zM451.1 182.1h0.8v0.8h-0.8z" fill="#fff"/><path d="M490.1 193h1v1h-1zM491.4 192.2h1v1h-1zM489.4 189.4h1v1h-1zM483.6 190.7h1v1h-1zM483.2 197.2h1v1h-1zM486.4 200.5h1v1h-1zM488.8 190.1h1v1h-1zM489.5 194.4h1v1h-1zM479.1 194.4h1v1h-1zM476.3 192.2h1v1h-1zM487.8 196.6h1v1h-1zM497.1 195.6h1v1h-1zM476.5 193.7h1v1h-1zM481.5 197.5h1v1h-1zM480 193.3h1v1h-1zM485.2 191h1v1h-1zM481.8 193.1h1v1h-1zM484.2 190.3h1v1h-1zM494.8 193h1v1h-1zM492.5 194.4h1v1h-1zM495.5 194.9h1v1h-1zM483.6 199.7h1v1h-1zM479.2 193.2h1v1h-1zM488.9 194.6h1v1h-1zM479.1 194.3h1v1h-1zM492.6 195.2h1v1h-1zM476.7 196.7h1v1h-1zM477.9 196.8h1v1h-1zM490.7 189.9h1v1h-1zM481.8 192.9h1v1h-1zM476.5 191.2h1v1h-1zM487.5 200.2h1v1h-1zM477.7 196.7h1v1h-1zM489.5 191h1v1h-1zM490.2 197.8h1v1h-1zM481.7 192.7h1v1h-1zM489.8 193.2h1v1h-1zM480.1 192.6h1v1h-1zM491.6 195.2h1v1h-1zM483.1 190.9h1v1h-1zM479.7 196.3h1v1h-1zM479.9 195.3h1v1h-1zM484.1 193h1v1h-1zM477.2 194.1h1v1h-1zM486.4 190.2h1v1h-1zM489.8 190.1h1v1h-1zM483.8 188.5h1v1h-1zM495.1 194.8h1v1h-1zM493.1 196.4h1v1h-1zM477 199.9h1v1h-1z" fill="#ff0404"/><path d="M346.7 185.2h1v1h-1zM346.5 185.4h1v1h-1zM351.3 188.1h1v1h-1zM347.3 184.9h1v1h-1zM349.5 185.6h1v1h-1zM353.8 190.5h1v1h-1zM350.7 184.3h1v1h-1zM353.3 186.1h1v1h-1zM347.3 184.5h1v1h-1zM344.6 183.1h1v1h-1zM352.1 187.8h1v1h-1zM352 188h1v1h-1zM348.6 182.5h1v1h-1zM349.6 182.9h1v1h-1zM356.1 189.3h1v1h-1zM353.1 182.1h1v1h-1zM354.5 189.1h1v1h-1zM353.4 188.3h1v1h-1zM351.7 185.2h1v1h-1zM355.6 187.1h1v1h-1zM346.9 187h1v1h-1zM352.4 186.7h1v1h-1zM354.4 183.5h1v1h-1zM355.5 188.9h1v1h-1zM354.1 184.6h1v1h-1zM355.7 191.2h1v1h-1zM346.8 186.5h1v1h-1zM348.7 184.1h1v1h-1zM344.5 183.3h1v1h-1zM344.8 183.4h1v1h-1z" fill="#ff0404"/><path d="M467 167 L467 165 L469 165 L469 163 L471 163 L471 161 L477 161 L477 159 L481 159 L481 157 L487 157 L487 155 L489.2 155 L483.9 138.3 L474.2 115.9 L458.2 99.7 L437.2 82.8 L424.9 70.2 L412.8 59.8 L393.4 45.8 L381.5 34.9 L374.5 32.5 L359.9 30 L340.6 28.2 L352.8 53.2 L358.8 59.4 L365.4 68.4 L374.5 77.7 L381.4 87.5 L383.8 92.7 L390.7 98.1 L400.4 101.8 L406.3 115.5 L413.7 124.8 L419 128.3 L430.2 140.3 L436.8 151.4 L441.6 156.7 L465.4 167Z" fill="url(#band41)" /><circle cx="345.5" cy="27.9" r="3" fill="url(#b38)"/><circle cx="350.8" cy="28.4" r="3.7" fill="url(#b38)"/><circle cx="357.7" cy="29" r="3.7" fill="url(#b39)"/><circle cx="341.6" cy="29.3" r="3.3" fill="url(#b39)"/><circle cx="359" cy="29.5" r="3.2" fill="url(#b39)"/><circle cx="350.1" cy="29.5" r="3.5" fill="url(#b38)"/><circle cx="344" cy="29.5" r="3.2" fill="url(#b38)"/><circle cx="361.9" cy="30.1" r="3.1" fill="url(#b39)"/><circle cx="358.8" cy="30.3" r="3.4" fill="url(#b39)"/><circle cx="346.6" cy="30.9" r="3.4" fill="url(#b38)"/><circle cx="355.8" cy="31.4" r="3.6" fill="url(#b38)"/><circle cx="364.6" cy="31.7" r="2.9" fill="url(#b38)"/><circle cx="356.4" cy="32.2" r="3.5" fill="url(#b38)"/><circle cx="366" cy="32.2" r="3" fill="url(#b38)"/><circle cx="375.9" cy="32.4" r="3.9" fill="url(#b39)"/><circle cx="377.8" cy="32.6" r="3.4" fill="url(#b39)"/><circle cx="365.8" cy="32.6" r="3.6" fill="url(#b38)"/><circle cx="361.9" cy="32.7" r="2.8" fill="url(#b38)"/><circle cx="348.7" cy="32.8" r="3.7" fill="url(#b38)"/><circle cx="367.8" cy="33.3" r="3" fill="url(#b38)"/><circle cx="344.5" cy="33.5" r="2.6" fill="url(#b38)"/><circle cx="356" cy="33.7" r="3.8" fill="url(#b38)"/><circle cx="353" cy="33.9" r="3.7" fill="url(#b38)"/><circle cx="344.5" cy="34" r="2.9" fill="url(#b38)"/><circle cx="352.3" cy="34.1" r="3.3" fill="url(#b38)"/><circle cx="378.6" cy="34.5" r="3.3" fill="url(#b39)"/><circle cx="365" cy="34.7" r="3.1" fill="url(#b38)"/><circle cx="361.6" cy="35.1" r="3.2" fill="url(#b38)"/><circle cx="349.8" cy="35.3" r="2.8" fill="url(#b38)"/><circle cx="346.4" cy="35.4" r="4" fill="url(#b38)"/><circle cx="353.8" cy="35.5" r="3.4" fill="url(#b38)"/><circle cx="346.3" cy="35.5" r="3" fill="url(#b38)"/><circle cx="354.7" cy="35.5" r="3.5" fill="url(#b38)"/><circle cx="382.7" cy="35.7" r="3.8" fill="url(#b37)"/><circle cx="371.7" cy="36" r="2.7" fill="url(#b38)"/><circle cx="363.6" cy="36" r="3.6" fill="url(#b38)"/><circle cx="361.6" cy="36.1" r="3.3" fill="url(#b38)"/><circle cx="343.8" cy="36.3" r="3" fill="url(#b38)"/><circle cx="360.7" cy="37" r="2.7" fill="url(#b37)"/><circle cx="359.2" cy="37.2" r="3.4" fill="url(#b37)"/><circle cx="360.4" cy="37.3" r="2.6" fill="url(#b37)"/><circle cx="368.1" cy="37.5" r="2.9" fill="url(#b38)"/><circle cx="351.1" cy="37.7" r="2.7" fill="url(#b38)"/><circle cx="377.4" cy="37.7" r="3.1" fill="url(#b38)"/><circle cx="350" cy="38.1" r="3.7" fill="url(#b38)"/><circle cx="375" cy="38.3" r="4" fill="url(#b38)"/><circle cx="350.6" cy="38.6" r="2.7" fill="url(#b38)"/><circle cx="356.5" cy="38.7" r="3.2" fill="url(#b37)"/><circle cx="357.3" cy="38.9" r="3.8" fill="url(#b37)"/><circle cx="368.2" cy="39" r="2.8" fill="url(#b38)"/><circle cx="359.6" cy="39.1" r="3.9" fill="url(#b37)"/><circle cx="384.6" cy="39.6" r="3.8" fill="url(#b36)"/><circle cx="345.2" cy="39.6" r="3.5" fill="url(#b38)"/><circle cx="373.1" cy="39.7" r="3.3" fill="url(#b38)"/><circle cx="378.5" cy="39.9" r="2.8" fill="url(#b37)"/><circle cx="359.7" cy="40" r="3.4" fill="url(#b37)"/><circle cx="369.8" cy="40.1" r="2.9" fill="url(#b38)"/><circle cx="354.9" cy="40.1" r="2.7" fill="url(#b38)"/><circle cx="378.4" cy="40.5" r="3.6" fill="url(#b36)"/><circle cx="388.4" cy="40.6" r="3" fill="url(#b36)"/><circle cx="381.2" cy="41.1" r="3.8" fill="url(#b36)"/><circle cx="346.3" cy="41.3" r="3" fill="url(#b38)"/><circle cx="349" cy="41.4" r="3.3" fill="url(#b38)"/><circle cx="362.1" cy="41.5" r="3.2" fill="url(#b37)"/><circle cx="371.2" cy="41.5" r="2.9" fill="url(#b38)"/><circle cx="385.2" cy="41.6" r="2.7" fill="url(#b36)"/><circle cx="347.7" cy="41.9" r="3.4" fill="url(#b38)"/><circle cx="357.9" cy="42" r="3.4" fill="url(#b37)"/><circle cx="386.6" cy="42.3" r="3.7" fill="url(#b36)"/><circle cx="346.3" cy="42.3" r="3.5" fill="url(#b38)"/><circle cx="362" cy="42.5" r="3.7" fill="url(#b37)"/><circle cx="354.4" cy="42.6" r="3.4" fill="url(#b38)"/><circle cx="374.2" cy="42.6" r="4" fill="url(#b37)"/><circle cx="385.3" cy="42.8" r="3.3" fill="url(#b36)"/><circle cx="391.7" cy="42.8" r="3.1" fill="url(#b35)"/><circle cx="357" cy="42.9" r="2.8" fill="url(#b37)"/><circle cx="362.7" cy="43" r="3.6" fill="url(#b36)"/><circle cx="360.4" cy="43.2" r="3.7" fill="url(#b36)"/><circle cx="379.3" cy="43.4" r="3.1" fill="url(#b36)"/><circle cx="386" cy="43.5" r="3.3" fill="url(#b36)"/><circle cx="387.4" cy="43.5" r="3.7" fill="url(#b36)"/><circle cx="387.8" cy="43.7" r="3.1" fill="url(#b36)"/><circle cx="386.3" cy="44" r="2.7" fill="url(#b36)"/><circle cx="371.1" cy="44.4" r="3.4" fill="url(#b37)"/><circle cx="371" cy="44.8" r="3.3" fill="url(#b37)"/><circle cx="364.9" cy="45" r="2.9" fill="url(#b36)"/><circle cx="360.3" cy="45" r="3" fill="url(#b36)"/><circle cx="374.9" cy="45.2" r="2.6" fill="url(#b36)"/><circle cx="371.4" cy="45.4" r="3.9" fill="url(#b37)"/><circle cx="393" cy="45.5" r="3.6" fill="url(#b33)"/><circle cx="385.4" cy="45.6" r="3.2" fill="url(#b35)"/><circle cx="392.1" cy="46" r="4.5" fill="url(#b33)"/><circle cx="379.5" cy="46.2" r="4" fill="url(#b35)"/><circle cx="378" cy="46.3" r="3.7" fill="url(#b35)"/><circle cx="378.1" cy="46.5" r="3" fill="url(#b35)"/><circle cx="363.5" cy="46.6" r="3.3" fill="url(#b36)"/><circle cx="390.5" cy="46.8" r="4.2" fill="url(#b33)"/><circle cx="391.6" cy="46.8" r="4.3" fill="url(#b33)"/><circle cx="360.2" cy="46.9" r="2.9" fill="url(#b36)"/><circle cx="368.1" cy="47.5" r="3.4" fill="url(#b36)"/><circle cx="391.3" cy="47.7" r="3.8" fill="url(#b33)"/><circle cx="378.1" cy="47.7" r="4.8" fill="url(#b35)"/><circle cx="374.6" cy="47.8" r="4.3" fill="url(#b35)"/><circle cx="352.1" cy="47.8" r="3.8" fill="url(#b37)"/><circle cx="370.6" cy="48" r="3.6" fill="url(#b36)"/><circle cx="382.7" cy="48.7" r="3.4" fill="url(#b34)"/><circle cx="390.5" cy="49" r="3.5" fill="url(#b33)"/><circle cx="379" cy="49" r="3.2" fill="url(#b34)"/><circle cx="393.9" cy="49.2" r="4.2" fill="url(#b32)"/><circle cx="394.3" cy="49.2" r="3.3" fill="url(#b32)"/><circle cx="351.4" cy="49.4" r="3.4" fill="url(#b36)"/><circle cx="353.1" cy="49.5" r="2.7" fill="url(#b36)"/><circle cx="361.4" cy="49.7" r="2.8" fill="url(#b36)"/><circle cx="392.5" cy="49.7" r="3.8" fill="url(#b32)"/><circle cx="370.7" cy="49.8" r="3.1" fill="url(#b35)"/><circle cx="363.2" cy="49.8" r="3.6" fill="url(#b36)"/><circle cx="396.2" cy="49.8" r="4.1" fill="url(#b32)"/><circle cx="362.5" cy="50.2" r="3.1" fill="url(#b36)"/><circle cx="360.8" cy="50.2" r="3" fill="url(#b36)"/><circle cx="382.3" cy="50.2" r="3.4" fill="url(#b34)"/><circle cx="393" cy="50.4" r="4.4" fill="url(#b32)"/><circle cx="366.1" cy="50.7" r="3.3" fill="url(#b36)"/><circle cx="361.2" cy="50.9" r="3" fill="url(#b36)"/><circle cx="357.7" cy="50.9" r="3.5" fill="url(#b35)"/><circle cx="367.4" cy="51.1" r="3.7" fill="url(#b36)"/><circle cx="366" cy="51.2" r="2.7" fill="url(#b36)"/><circle cx="376.1" cy="51.3" r="4.6" fill="url(#b34)"/><circle cx="358.3" cy="51.5" r="2.6" fill="url(#b35)"/><circle cx="374" cy="51.8" r="3.2" fill="url(#b34)"/><circle cx="358.4" cy="51.9" r="3.9" fill="url(#b35)"/><circle cx="354.1" cy="52" r="3.8" fill="url(#b36)"/><circle cx="391.6" cy="52" r="3.9" fill="url(#b32)"/><circle cx="397" cy="52.2" r="4.6" fill="url(#b32)"/><circle cx="362.5" cy="52.5" r="2.8" fill="url(#b35)"/><circle cx="376" cy="52.5" r="3.3" fill="url(#b33)"/><circle cx="395.4" cy="52.7" r="2.9" fill="url(#b32)"/><circle cx="366.5" cy="52.9" r="2.9" fill="url(#b35)"/><circle cx="394.2" cy="53.3" r="4.7" fill="url(#b32)"/><circle cx="358.1" cy="53.5" r="3" fill="url(#b35)"/><circle cx="365.3" cy="53.8" r="3.3" fill="url(#b35)"/><circle cx="359.2" cy="53.9" r="4.2" fill="url(#b35)"/><circle cx="387.8" cy="54.1" r="4.3" fill="url(#b32)"/><circle cx="362.5" cy="54.2" r="3" fill="url(#b35)"/><circle cx="391.6" cy="54.2" r="3.1" fill="url(#b32)"/><circle cx="393.2" cy="54.4" r="4.1" fill="url(#b32)"/><circle cx="367.8" cy="54.5" r="4.5" fill="url(#b34)"/><circle cx="378.7" cy="54.6" r="4.1" fill="url(#b32)"/><circle cx="375.5" cy="54.8" r="3.1" fill="url(#b32)"/><circle cx="386.2" cy="55.5" r="4.6" fill="url(#b32)"/><circle cx="394.7" cy="55.9" r="3.5" fill="url(#b32)"/><circle cx="373.5" cy="55.9" r="3.6" fill="url(#b32)"/><circle cx="401.2" cy="56" r="4.4" fill="url(#b31)"/><circle cx="391.9" cy="56.1" r="3.7" fill="url(#b32)"/><circle cx="382.2" cy="56.6" r="3.6" fill="url(#b32)"/><circle cx="389.3" cy="56.9" r="4.1" fill="url(#b32)"/><circle cx="391.7" cy="57.1" r="3.8" fill="url(#b31)"/><circle cx="372.4" cy="57.2" r="3.5" fill="url(#b32)"/><circle cx="391.5" cy="57.3" r="3.1" fill="url(#b31)"/><circle cx="406.7" cy="57.5" r="4.8" fill="url(#b31)"/><circle cx="409.4" cy="57.5" r="4.7" fill="url(#b31)"/><circle cx="365.5" cy="57.5" r="3.7" fill="url(#b34)"/><circle cx="400.6" cy="57.5" r="4.5" fill="url(#b31)"/><circle cx="410.5" cy="57.8" r="4" fill="url(#b32)"/><circle cx="405.5" cy="57.8" r="4.1" fill="url(#b31)"/><circle cx="411.6" cy="57.9" r="3.2" fill="url(#b32)"/><circle cx="398.3" cy="58" r="4.2" fill="url(#b31)"/><circle cx="373.6" cy="58.2" r="4.3" fill="url(#b32)"/><circle cx="361.1" cy="58.4" r="2.9" fill="url(#b34)"/><circle cx="401.8" cy="58.4" r="4.6" fill="url(#b31)"/><circle cx="361.4" cy="58.5" r="3.3" fill="url(#b34)"/><circle cx="364.7" cy="58.6" r="3.4" fill="url(#b33)"/><circle cx="380" cy="58.9" r="4.2" fill="url(#b32)"/><circle cx="392.4" cy="59" r="4.6" fill="url(#b31)"/><circle cx="398.8" cy="59.1" r="4.3" fill="url(#b31)"/><circle cx="371.7" cy="59.2" r="3" fill="url(#b32)"/><circle cx="405.8" cy="59.3" r="3.6" fill="url(#b30)"/><circle cx="398.1" cy="59.3" r="3.8" fill="url(#b31)"/><circle cx="358" cy="59.4" r="3.3" fill="url(#b33)"/><circle cx="413.7" cy="59.5" r="2.9" fill="url(#b31)"/><circle cx="406.4" cy="59.6" r="4" fill="url(#b30)"/><circle cx="388.7" cy="59.6" r="3.2" fill="url(#b31)"/><circle cx="382.4" cy="59.7" r="4.1" fill="url(#b32)"/><circle cx="392.1" cy="59.8" r="4.4" fill="url(#b31)"/><circle cx="376.1" cy="60" r="3.1" fill="url(#b32)"/><circle cx="388.4" cy="60" r="4.3" fill="url(#b31)"/><circle cx="380.5" cy="60.1" r="3" fill="url(#b32)"/><circle cx="393.5" cy="60.3" r="3.5" fill="url(#b31)"/><circle cx="363.2" cy="60.3" r="4.7" fill="url(#b33)"/><circle cx="369.7" cy="60.3" r="4.3" fill="url(#b32)"/><circle cx="364.6" cy="60.5" r="3.5" fill="url(#b33)"/><circle cx="374.4" cy="60.7" r="4.1" fill="url(#b32)"/><circle cx="358.9" cy="60.8" r="3.1" fill="url(#b33)"/><circle cx="392.6" cy="60.9" r="3.9" fill="url(#b30)"/><circle cx="406" cy="61.1" r="3.3" fill="url(#b30)"/><circle cx="375.3" cy="61.3" r="4.3" fill="url(#b32)"/><circle cx="408.7" cy="61.5" r="3.9" fill="url(#b30)"/><circle cx="383.4" cy="61.5" r="3.1" fill="url(#b31)"/><circle cx="392.2" cy="61.7" r="3.4" fill="url(#b30)"/><circle cx="413.8" cy="61.9" r="4" fill="url(#b30)"/><circle cx="398.2" cy="61.9" r="3.4" fill="url(#b30)"/><circle cx="398.4" cy="62.1" r="3.2" fill="url(#b30)"/><circle cx="396" cy="62.1" r="3.3" fill="url(#b30)"/><circle cx="381.8" cy="62.4" r="4.3" fill="url(#b31)"/><circle cx="396" cy="62.5" r="4.1" fill="url(#b30)"/><circle cx="364.7" cy="62.6" r="3.9" fill="url(#b32)"/><circle cx="366.4" cy="62.6" r="3.9" fill="url(#b32)"/><circle cx="391.1" cy="62.7" r="4.4" fill="url(#b30)"/><circle cx="384" cy="62.9" r="3.3" fill="url(#b31)"/><circle cx="403" cy="63.3" r="3.2" fill="url(#b30)"/><circle cx="384.6" cy="63.3" r="3" fill="url(#b30)"/><circle cx="371.7" cy="63.4" r="3.3" fill="url(#b32)"/><circle cx="361" cy="63.6" r="4.1" fill="url(#b32)"/><circle cx="392.3" cy="63.8" r="4.3" fill="url(#b30)"/><circle cx="410.1" cy="63.8" r="3.7" fill="url(#b30)"/><circle cx="374.5" cy="63.8" r="3" fill="url(#b32)"/><circle cx="383.3" cy="63.9" r="3.4" fill="url(#b31)"/><circle cx="385.6" cy="64" r="3.6" fill="url(#b30)"/><circle cx="396.6" cy="64.1" r="4.5" fill="url(#b30)"/><circle cx="408.3" cy="64.3" r="4" fill="url(#b30)"/><circle cx="408.6" cy="64.4" r="3.9" fill="url(#b30)"/><circle cx="407.9" cy="64.5" r="3.7" fill="url(#b30)"/><circle cx="373.6" cy="64.5" r="4.5" fill="url(#b32)"/><circle cx="401.7" cy="65" r="2.9" fill="url(#b29)"/><circle cx="395.4" cy="65" r="3.8" fill="url(#b29)"/><circle cx="388.6" cy="65" r="4.2" fill="url(#b30)"/><circle cx="407.2" cy="65.1" r="4" fill="url(#b29)"/><circle cx="382.9" cy="65.1" r="4.5" fill="url(#b30)"/><circle cx="380.6" cy="65.3" r="4.3" fill="url(#b31)"/><circle cx="362.4" cy="65.3" r="3" fill="url(#b32)"/><circle cx="414.5" cy="65.4" r="4.2" fill="url(#b29)"/><circle cx="365.7" cy="65.8" r="3" fill="url(#b32)"/><circle cx="372" cy="65.8" r="3.7" fill="url(#b31)"/><circle cx="418" cy="66" r="4.3" fill="url(#b28)"/><circle cx="408.6" cy="66.1" r="3" fill="url(#b29)"/><circle cx="400.5" cy="66.2" r="4.4" fill="url(#b29)"/><circle cx="413" cy="66.2" r="4.4" fill="url(#b29)"/><circle cx="381.6" cy="66.3" r="3.8" fill="url(#b30)"/><circle cx="369.7" cy="66.5" r="3.1" fill="url(#b31)"/><circle cx="410.8" cy="66.6" r="3.8" fill="url(#b29)"/><circle cx="384.2" cy="66.6" r="3.3" fill="url(#b30)"/><circle cx="416.2" cy="66.7" r="2.9" fill="url(#b28)"/><circle cx="401.2" cy="67.6" r="3.5" fill="url(#b28)"/><circle cx="411" cy="67.9" r="4.1" fill="url(#b28)"/><circle cx="381.1" cy="68.1" r="3.8" fill="url(#b30)"/><circle cx="418.6" cy="68.3" r="3.8" fill="url(#b26)"/><circle cx="413.3" cy="68.4" r="3.1" fill="url(#b28)"/><circle cx="418.8" cy="68.4" r="3.2" fill="url(#b26)"/><circle cx="422" cy="68.4" r="4.2" fill="url(#b26)"/><circle cx="414.3" cy="68.7" r="4.3" fill="url(#b27)"/><circle cx="398.6" cy="69.4" r="3.9" fill="url(#b28)"/><circle cx="389.7" cy="69.6" r="3.6" fill="url(#b30)"/><circle cx="374.4" cy="69.8" r="3.6" fill="url(#b30)"/><circle cx="412.8" cy="69.8" r="3.9" fill="url(#b27)"/><circle cx="366.1" cy="69.9" r="4.2" fill="url(#b31)"/><circle cx="398" cy="70" r="4.2" fill="url(#b28)"/><circle cx="374.5" cy="70" r="4.4" fill="url(#b30)"/><circle cx="376.3" cy="70" r="4.3" fill="url(#b30)"/><circle cx="390.8" cy="70.1" r="3.3" fill="url(#b30)"/><circle cx="416.1" cy="70.3" r="4.4" fill="url(#b26)"/><circle cx="403" cy="70.3" r="4.7" fill="url(#b28)"/><circle cx="392" cy="70.4" r="3.8" fill="url(#b30)"/><circle cx="380.9" cy="70.4" r="3.2" fill="url(#b30)"/><circle cx="367.8" cy="70.7" r="4.4" fill="url(#b30)"/><circle cx="369.1" cy="70.8" r="3.7" fill="url(#b30)"/><circle cx="368.4" cy="70.8" r="4.4" fill="url(#b30)"/><circle cx="381.5" cy="70.9" r="4.6" fill="url(#b29)"/><circle cx="397.2" cy="71.1" r="4.7" fill="url(#b28)"/><circle cx="376.8" cy="71.3" r="3.2" fill="url(#b30)"/><circle cx="395.8" cy="71.3" r="4" fill="url(#b28)"/><circle cx="404.7" cy="71.3" r="4.1" fill="url(#b27)"/><circle cx="422" cy="71.3" r="3.1" fill="url(#b26)"/><circle cx="414.2" cy="71.4" r="3.5" fill="url(#b27)"/><circle cx="396" cy="71.5" r="3.3" fill="url(#b28)"/><circle cx="420.3" cy="71.5" r="3.1" fill="url(#b26)"/><circle cx="412.3" cy="71.8" r="3.8" fill="url(#b27)"/><circle cx="407.6" cy="71.8" r="2.9" fill="url(#b27)"/><circle cx="425.3" cy="71.9" r="2.5" fill="url(#b26)"/><circle cx="417.9" cy="72" r="2.2" fill="url(#b26)"/><circle cx="380.3" cy="72" r="4.3" fill="url(#b29)"/><circle cx="402" cy="72" r="4.5" fill="url(#b27)"/><circle cx="370.6" cy="72" r="3.6" fill="url(#b30)"/><circle cx="375.7" cy="72" r="4.2" fill="url(#b30)"/><circle cx="388.5" cy="72" r="4.5" fill="url(#b29)"/><circle cx="412.9" cy="72.1" r="3.8" fill="url(#b26)"/><circle cx="402.2" cy="72.1" r="3.6" fill="url(#b27)"/><circle cx="370.4" cy="72.1" r="3.1" fill="url(#b30)"/><circle cx="381.3" cy="72.1" r="4.5" fill="url(#b29)"/><circle cx="391.7" cy="72.2" r="3.2" fill="url(#b29)"/><circle cx="389.8" cy="72.2" r="3.5" fill="url(#b29)"/><circle cx="409.4" cy="72.4" r="4.6" fill="url(#b26)"/><circle cx="394.3" cy="72.6" r="3.4" fill="url(#b29)"/><circle cx="383" cy="72.6" r="4.2" fill="url(#b29)"/><circle cx="398.2" cy="72.6" r="3" fill="url(#b27)"/><circle cx="426.9" cy="72.6" r="2.8" fill="url(#b25)"/><circle cx="408.1" cy="72.7" r="3.5" fill="url(#b26)"/><circle cx="404.1" cy="72.9" r="3.4" fill="url(#b27)"/><circle cx="395.2" cy="73" r="3.3" fill="url(#b28)"/><circle cx="390.8" cy="73" r="4.3" fill="url(#b29)"/><circle cx="421.4" cy="73.2" r="2.5" fill="url(#b26)"/><circle cx="414.2" cy="73.3" r="2.9" fill="url(#b26)"/><circle cx="408.6" cy="73.3" r="3.3" fill="url(#b26)"/><circle cx="392" cy="73.6" r="3.8" fill="url(#b29)"/><circle cx="402.1" cy="73.8" r="4.1" fill="url(#b26)"/><circle cx="422" cy="73.9" r="2.9" fill="url(#b26)"/><circle cx="389.4" cy="74.2" r="2.9" fill="url(#b29)"/><circle cx="413.9" cy="74.2" r="3.2" fill="url(#b26)"/><circle cx="414.1" cy="74.3" r="3.3" fill="url(#b26)"/><circle cx="379.1" cy="74.3" r="3.2" fill="url(#b29)"/><circle cx="390.2" cy="74.5" r="3.9" fill="url(#b29)"/><circle cx="421.6" cy="74.6" r="3" fill="url(#b26)"/><circle cx="380.5" cy="74.6" r="4.4" fill="url(#b29)"/><circle cx="413.9" cy="74.8" r="2.6" fill="url(#b25)"/><circle cx="426.1" cy="74.8" r="2.7" fill="url(#b25)"/><circle cx="388.2" cy="74.9" r="3.7" fill="url(#b29)"/><circle cx="386.2" cy="74.9" r="3.7" fill="url(#b29)"/><circle cx="408.8" cy="75" r="3.3" fill="url(#b25)"/><circle cx="394.9" cy="75.1" r="3.7" fill="url(#b27)"/><circle cx="411.9" cy="75.2" r="2.1" fill="url(#b25)"/><circle cx="414.4" cy="75.4" r="2.2" fill="url(#b25)"/><circle cx="374.1" cy="75.4" r="3.4" fill="url(#b29)"/><circle cx="420.6" cy="75.5" r="3" fill="url(#b25)"/><circle cx="392.9" cy="75.5" r="3" fill="url(#b28)"/><circle cx="410.5" cy="75.6" r="2.7" fill="url(#b25)"/><circle cx="386.2" cy="76.3" r="3.3" fill="url(#b28)"/><circle cx="425.3" cy="76.3" r="2.9" fill="url(#b25)"/><circle cx="419.9" cy="76.3" r="2.3" fill="url(#b25)"/><circle cx="383.9" cy="76.5" r="4.3" fill="url(#b28)"/><circle cx="402.9" cy="76.6" r="3.1" fill="url(#b26)"/><circle cx="418.2" cy="76.6" r="2.6" fill="url(#b25)"/><circle cx="418.8" cy="76.7" r="3.1" fill="url(#b25)"/><circle cx="376.9" cy="76.7" r="3.8" fill="url(#b29)"/><circle cx="432.6" cy="76.7" r="2.5" fill="url(#b23)"/><circle cx="384.5" cy="76.9" r="4" fill="url(#b28)"/><circle cx="386" cy="77.3" r="3.9" fill="url(#b28)"/><circle cx="420.6" cy="77.5" r="3.1" fill="url(#b25)"/><circle cx="430.9" cy="77.8" r="2.2" fill="url(#b23)"/><circle cx="379.6" cy="77.9" r="4.2" fill="url(#b28)"/><circle cx="386.6" cy="78" r="2.9" fill="url(#b28)"/><circle cx="420.3" cy="78.1" r="2.4" fill="url(#b25)"/><circle cx="430.1" cy="78.2" r="2.4" fill="url(#b23)"/><circle cx="377.3" cy="78.3" r="2.9" fill="url(#b28)"/><circle cx="432.3" cy="78.3" r="2.4" fill="url(#b22)"/><circle cx="386.8" cy="78.4" r="4.5" fill="url(#b28)"/><circle cx="378.9" cy="78.4" r="3.5" fill="url(#b28)"/><circle cx="380.7" cy="78.4" r="3.4" fill="url(#b28)"/><circle cx="374.8" cy="78.5" r="2.9" fill="url(#b29)"/><circle cx="410.8" cy="78.7" r="2.7" fill="url(#b24)"/><circle cx="405.2" cy="78.7" r="2.2" fill="url(#b25)"/><circle cx="428.8" cy="78.7" r="2.4" fill="url(#b23)"/><circle cx="394.4" cy="78.8" r="3.7" fill="url(#b26)"/><circle cx="376.4" cy="78.9" r="4.1" fill="url(#b29)"/><circle cx="411.7" cy="79.1" r="3" fill="url(#b24)"/><circle cx="431.4" cy="79.2" r="2.1" fill="url(#b22)"/><circle cx="399" cy="79.3" r="2.6" fill="url(#b26)"/><circle cx="377" cy="79.4" r="4.4" fill="url(#b28)"/><circle cx="419.9" cy="79.5" r="2.7" fill="url(#b24)"/><circle cx="418.3" cy="79.7" r="3.2" fill="url(#b24)"/><circle cx="418.7" cy="79.9" r="2.7" fill="url(#b24)"/><circle cx="400.1" cy="80" r="3.1" fill="url(#b26)"/><circle cx="403.8" cy="80.2" r="3.1" fill="url(#b25)"/><circle cx="403.9" cy="80.2" r="2.7" fill="url(#b25)"/><circle cx="434.2" cy="80.3" r="2.9" fill="url(#b21)"/><circle cx="396.8" cy="80.3" r="3.2" fill="url(#b26)"/><circle cx="403" cy="80.4" r="2.3" fill="url(#b25)"/><circle cx="427.6" cy="80.5" r="3" fill="url(#b23)"/><circle cx="431.3" cy="80.5" r="2.5" fill="url(#b22)"/><circle cx="378.1" cy="80.6" r="4" fill="url(#b27)"/><circle cx="387.9" cy="80.7" r="4.1" fill="url(#b27)"/><circle cx="379.9" cy="80.9" r="3.4" fill="url(#b27)"/><circle cx="426.9" cy="81" r="3.1" fill="url(#b23)"/><circle cx="379.2" cy="81" r="3.1" fill="url(#b27)"/><circle cx="433.7" cy="81" r="2.1" fill="url(#b21)"/><circle cx="417.5" cy="81.5" r="2.4" fill="url(#b24)"/><circle cx="391.1" cy="81.6" r="4.5" fill="url(#b26)"/><circle cx="416.7" cy="81.8" r="2.5" fill="url(#b24)"/><circle cx="437.2" cy="81.9" r="2.5" fill="url(#b21)"/><circle cx="386.3" cy="82" r="4.5" fill="url(#b26)"/><circle cx="421.4" cy="82.3" r="2.8" fill="url(#b23)"/><circle cx="401.1" cy="82.5" r="2.3" fill="url(#b26)"/><circle cx="379.2" cy="82.5" r="3.3" fill="url(#b26)"/><circle cx="389.3" cy="82.7" r="3.2" fill="url(#b26)"/><circle cx="402.6" cy="82.9" r="2.4" fill="url(#b25)"/><circle cx="433.3" cy="83.1" r="3.1" fill="url(#b21)"/><circle cx="406.8" cy="83.1" r="2.7" fill="url(#b24)"/><circle cx="421.6" cy="83.2" r="2.1" fill="url(#b23)"/><circle cx="378" cy="83.5" r="3.3" fill="url(#b26)"/><circle cx="404.1" cy="83.5" r="2.4" fill="url(#b25)"/><circle cx="437" cy="83.7" r="3.3" fill="url(#b21)"/><circle cx="395.6" cy="83.8" r="2.5" fill="url(#b26)"/><circle cx="395.7" cy="83.8" r="2.8" fill="url(#b26)"/><circle cx="436.8" cy="84" r="2.9" fill="url(#b21)"/><circle cx="386.5" cy="84" r="3.3" fill="url(#b26)"/><circle cx="401.5" cy="84.1" r="2.6" fill="url(#b25)"/><circle cx="401" cy="84.1" r="3" fill="url(#b25)"/><circle cx="391.3" cy="84.2" r="2.4" fill="url(#b26)"/><circle cx="379.5" cy="84.3" r="3.4" fill="url(#b26)"/><circle cx="386.5" cy="84.3" r="2.7" fill="url(#b26)"/><circle cx="436.9" cy="84.5" r="2.7" fill="url(#b21)"/><circle cx="436.7" cy="84.5" r="2.6" fill="url(#b21)"/><circle cx="387.8" cy="84.6" r="2.5" fill="url(#b26)"/><circle cx="409.2" cy="84.7" r="2.5" fill="url(#b24)"/><circle cx="408.1" cy="84.7" r="3" fill="url(#b24)"/><circle cx="437.3" cy="84.8" r="2.8" fill="url(#b21)"/><circle cx="438.5" cy="84.9" r="3.2" fill="url(#b21)"/><circle cx="433.2" cy="84.9" r="3" fill="url(#b21)"/><circle cx="422.8" cy="85.5" r="2.7" fill="url(#b22)"/><circle cx="393.1" cy="85.7" r="3.1" fill="url(#b25)"/><circle cx="394.5" cy="85.9" r="3.2" fill="url(#b25)"/><circle cx="381.2" cy="85.9" r="3" fill="url(#b26)"/><circle cx="385.6" cy="86" r="2.3" fill="url(#b25)"/><circle cx="402.7" cy="86.2" r="2.8" fill="url(#b25)"/><circle cx="428.3" cy="86.4" r="3.1" fill="url(#b22)"/><circle cx="382.4" cy="86.4" r="2.3" fill="url(#b26)"/><circle cx="420" cy="86.4" r="2.2" fill="url(#b21)"/><circle cx="401.5" cy="86.6" r="2.8" fill="url(#b25)"/><circle cx="440.1" cy="86.6" r="2.9" fill="url(#b21)"/><circle cx="436" cy="86.6" r="2.6" fill="url(#b21)"/><circle cx="421.9" cy="86.8" r="3.2" fill="url(#b21)"/><circle cx="425.5" cy="87" r="3.3" fill="url(#b22)"/><circle cx="415.9" cy="87" r="2.1" fill="url(#b22)"/><circle cx="410.2" cy="87.2" r="3.2" fill="url(#b24)"/><circle cx="435.5" cy="87.2" r="2.4" fill="url(#b21)"/><circle cx="430.6" cy="87.2" r="2.5" fill="url(#b22)"/><circle cx="382" cy="87.3" r="3" fill="url(#b26)"/><circle cx="422.7" cy="87.4" r="2.3" fill="url(#b21)"/><circle cx="392.5" cy="87.9" r="2.5" fill="url(#b25)"/><circle cx="427.8" cy="88" r="2.7" fill="url(#b22)"/><circle cx="442.1" cy="88.4" r="2.6" fill="url(#b21)"/><circle cx="401" cy="88.4" r="2.8" fill="url(#b24)"/><circle cx="424.5" cy="88.6" r="3.2" fill="url(#b21)"/><circle cx="427.1" cy="88.7" r="2.5" fill="url(#b22)"/><circle cx="389.4" cy="88.8" r="2.3" fill="url(#b25)"/><circle cx="423.1" cy="88.9" r="2.4" fill="url(#b21)"/><circle cx="389" cy="89.1" r="2.6" fill="url(#b25)"/><circle cx="444.1" cy="89.2" r="2.7" fill="url(#b21)"/><circle cx="396.5" cy="89.2" r="2.6" fill="url(#b25)"/><circle cx="387.4" cy="89.4" r="2.6" fill="url(#b24)"/><circle cx="445.1" cy="89.4" r="2.7" fill="url(#b21)"/><circle cx="423.1" cy="89.9" r="2.6" fill="url(#b21)"/><circle cx="418.1" cy="90.1" r="2.8" fill="url(#b21)"/><circle cx="402.3" cy="90.1" r="2.4" fill="url(#b24)"/><circle cx="421.4" cy="90.1" r="2.8" fill="url(#b21)"/><circle cx="408.1" cy="90.1" r="3.1" fill="url(#b23)"/><circle cx="415.8" cy="90.1" r="2.6" fill="url(#b21)"/><circle cx="432.6" cy="90.2" r="3.3" fill="url(#b21)"/><circle cx="394.7" cy="90.2" r="3" fill="url(#b25)"/><circle cx="438.9" cy="90.2" r="3.1" fill="url(#b21)"/><circle cx="397.6" cy="90.2" r="2.5" fill="url(#b24)"/><circle cx="389.7" cy="90.2" r="2.9" fill="url(#b25)"/><circle cx="444.5" cy="90.4" r="2.9" fill="url(#b20)"/><circle cx="385.8" cy="90.9" r="3.1" fill="url(#b24)"/><circle cx="437.2" cy="91.1" r="2.4" fill="url(#b21)"/><circle cx="448.9" cy="91.3" r="2.5" fill="url(#b20)"/><circle cx="441.7" cy="91.6" r="2.6" fill="url(#b20)"/><circle cx="392.4" cy="91.7" r="3.2" fill="url(#b24)"/><circle cx="439.4" cy="91.7" r="2.7" fill="url(#b21)"/><circle cx="429.3" cy="91.8" r="2.5" fill="url(#b21)"/><circle cx="390.9" cy="91.9" r="3.3" fill="url(#b24)"/><circle cx="443.7" cy="91.9" r="3.4" fill="url(#b20)"/><circle cx="408.8" cy="91.9" r="3.1" fill="url(#b23)"/><circle cx="386.2" cy="92.1" r="2.8" fill="url(#b24)"/><circle cx="434.8" cy="92.3" r="2.7" fill="url(#b21)"/><circle cx="384.3" cy="92.6" r="3.3" fill="url(#b24)"/><circle cx="402.9" cy="92.8" r="2.3" fill="url(#b23)"/><circle cx="406.9" cy="92.8" r="3" fill="url(#b23)"/><circle cx="400.9" cy="92.9" r="3.2" fill="url(#b23)"/><circle cx="386" cy="93.1" r="2.5" fill="url(#b24)"/><circle cx="392.7" cy="93.4" r="3.3" fill="url(#b24)"/><circle cx="412.9" cy="93.4" r="2.5" fill="url(#b22)"/><circle cx="386.2" cy="93.7" r="2.9" fill="url(#b24)"/><circle cx="396.3" cy="93.7" r="3.3" fill="url(#b23)"/><circle cx="446" cy="93.9" r="2.1" fill="url(#b19)"/><circle cx="434.7" cy="93.9" r="3" fill="url(#b21)"/><circle cx="433.4" cy="94.1" r="3.1" fill="url(#b21)"/><circle cx="416.2" cy="94.1" r="3.1" fill="url(#b21)"/><circle cx="427.2" cy="94.1" r="2.1" fill="url(#b21)"/><circle cx="394.2" cy="94.1" r="2.8" fill="url(#b24)"/><circle cx="421.9" cy="94.2" r="2.9" fill="url(#b21)"/><circle cx="408" cy="94.3" r="3.2" fill="url(#b22)"/><circle cx="443" cy="94.4" r="3" fill="url(#b19)"/><circle cx="449.2" cy="94.5" r="3.2" fill="url(#b19)"/><circle cx="443.6" cy="94.5" r="2.7" fill="url(#b19)"/><circle cx="447.6" cy="94.5" r="2.9" fill="url(#b19)"/><circle cx="433.3" cy="94.7" r="3.2" fill="url(#b21)"/><circle cx="407.6" cy="94.9" r="2.5" fill="url(#b22)"/><circle cx="409.7" cy="94.9" r="2.7" fill="url(#b22)"/><circle cx="445.2" cy="95.1" r="2.6" fill="url(#b19)"/><circle cx="401.8" cy="95.2" r="3.3" fill="url(#b22)"/><circle cx="426" cy="95.2" r="2.9" fill="url(#b21)"/><circle cx="402" cy="95.4" r="3.3" fill="url(#b21)"/><circle cx="427.6" cy="95.7" r="2.6" fill="url(#b21)"/><circle cx="414.7" cy="95.7" r="2.9" fill="url(#b22)"/><circle cx="420.4" cy="95.8" r="2.6" fill="url(#b21)"/><circle cx="415.3" cy="95.8" r="3.2" fill="url(#b22)"/><circle cx="404.1" cy="95.9" r="3.3" fill="url(#b21)"/><circle cx="446.3" cy="96" r="2.5" fill="url(#b19)"/><circle cx="390.1" cy="96" r="2.8" fill="url(#b24)"/><circle cx="405.6" cy="96" r="3.2" fill="url(#b22)"/><circle cx="442.1" cy="96.2" r="2.5" fill="url(#b19)"/><circle cx="431.8" cy="96.3" r="2.5" fill="url(#b20)"/><circle cx="439.2" cy="96.4" r="2.3" fill="url(#b19)"/><circle cx="455" cy="96.4" r="3.1" fill="url(#b17)"/><circle cx="437.9" cy="96.5" r="2.2" fill="url(#b20)"/><circle cx="448.3" cy="96.6" r="3.1" fill="url(#b18)"/><circle cx="389.7" cy="96.6" r="2.9" fill="url(#b24)"/><circle cx="450.2" cy="96.7" r="2.7" fill="url(#b18)"/><circle cx="449.2" cy="96.7" r="2.1" fill="url(#b18)"/><circle cx="419.3" cy="96.7" r="3.2" fill="url(#b21)"/><circle cx="421.3" cy="96.8" r="3.1" fill="url(#b21)"/><circle cx="455.1" cy="96.8" r="2.1" fill="url(#b17)"/><circle cx="408" cy="96.9" r="2.7" fill="url(#b22)"/><circle cx="453.6" cy="96.9" r="2.4" fill="url(#b17)"/><circle cx="409.4" cy="96.9" r="3.3" fill="url(#b22)"/><circle cx="416.6" cy="97" r="3" fill="url(#b21)"/><circle cx="394.6" cy="97.1" r="2.2" fill="url(#b23)"/><circle cx="395.8" cy="97.3" r="2.5" fill="url(#b22)"/><circle cx="424.8" cy="97.3" r="3.3" fill="url(#b21)"/><circle cx="410.1" cy="97.4" r="2.4" fill="url(#b22)"/><circle cx="401.4" cy="97.4" r="2.8" fill="url(#b21)"/><circle cx="456.6" cy="97.8" r="3.3" fill="url(#b17)"/><circle cx="417.3" cy="97.8" r="2.3" fill="url(#b21)"/><circle cx="414" cy="97.8" r="2.5" fill="url(#b22)"/><circle cx="441.1" cy="97.9" r="2.8" fill="url(#b19)"/><circle cx="448.4" cy="98" r="2.2" fill="url(#b18)"/><circle cx="408.4" cy="98" r="3.1" fill="url(#b22)"/><circle cx="442.9" cy="98.2" r="2.8" fill="url(#b18)"/><circle cx="429.4" cy="98.4" r="3" fill="url(#b20)"/><circle cx="400.5" cy="98.4" r="2.4" fill="url(#b21)"/><circle cx="429.2" cy="98.6" r="2.9" fill="url(#b20)"/><circle cx="431.7" cy="98.6" r="2.8" fill="url(#b20)"/><circle cx="423.8" cy="98.7" r="3.3" fill="url(#b21)"/><circle cx="458.5" cy="98.7" r="2.5" fill="url(#b17)"/><circle cx="406.5" cy="98.8" r="3.1" fill="url(#b21)"/><circle cx="392.4" cy="98.9" r="3.3" fill="url(#b23)"/><circle cx="442.3" cy="99" r="2.2" fill="url(#b18)"/><circle cx="435.2" cy="99" r="2.1" fill="url(#b19)"/><circle cx="418.3" cy="99.1" r="2.4" fill="url(#b21)"/><circle cx="455.5" cy="99.2" r="3.2" fill="url(#b17)"/><circle cx="450.5" cy="99.2" r="2.7" fill="url(#b17)"/><circle cx="445.3" cy="99.2" r="2.5" fill="url(#b18)"/><circle cx="415.6" cy="99.6" r="2.3" fill="url(#b21)"/><circle cx="446.7" cy="99.6" r="2.8" fill="url(#b17)"/><circle cx="412.5" cy="100" r="2.6" fill="url(#b21)"/><circle cx="444.9" cy="100" r="2.7" fill="url(#b18)"/><circle cx="436.1" cy="100.1" r="3.3" fill="url(#b19)"/><circle cx="394" cy="100.1" r="3" fill="url(#b23)"/><circle cx="427.5" cy="100.2" r="3.1" fill="url(#b20)"/><circle cx="413.9" cy="100.4" r="2.6" fill="url(#b21)"/><circle cx="455.8" cy="100.5" r="3.1" fill="url(#b17)"/><circle cx="401" cy="100.5" r="2.1" fill="url(#b21)"/><circle cx="430.6" cy="100.5" r="3" fill="url(#b19)"/><circle cx="416.5" cy="100.6" r="2.3" fill="url(#b21)"/><circle cx="440.7" cy="100.8" r="2.3" fill="url(#b18)"/><circle cx="423.8" cy="101" r="2.2" fill="url(#b20)"/><circle cx="419.9" cy="101.1" r="2.2" fill="url(#b21)"/><circle cx="399.1" cy="101.2" r="3.3" fill="url(#b21)"/><circle cx="411.9" cy="101.3" r="2.4" fill="url(#b21)"/><circle cx="441.3" cy="101.4" r="3" fill="url(#b18)"/><circle cx="398.8" cy="101.5" r="2.6" fill="url(#b21)"/><circle cx="428.1" cy="101.6" r="2.8" fill="url(#b19)"/><circle cx="402.3" cy="101.8" r="2.6" fill="url(#b21)"/><circle cx="437.2" cy="102.4" r="3" fill="url(#b18)"/><circle cx="441.5" cy="102.5" r="3.3" fill="url(#b18)"/><circle cx="443.4" cy="102.6" r="2.7" fill="url(#b17)"/><circle cx="420.8" cy="102.6" r="3.3" fill="url(#b20)"/><circle cx="435.3" cy="102.6" r="2.8" fill="url(#b18)"/><circle cx="413.3" cy="102.7" r="2.4" fill="url(#b21)"/><circle cx="419.6" cy="102.8" r="2.4" fill="url(#b20)"/><circle cx="446.4" cy="102.9" r="2.5" fill="url(#b17)"/><circle cx="449.2" cy="102.9" r="3.1" fill="url(#b17)"/><circle cx="413.6" cy="103" r="3.2" fill="url(#b21)"/><circle cx="436.5" cy="103.2" r="3" fill="url(#b18)"/><circle cx="421.1" cy="103.2" r="2.7" fill="url(#b20)"/><circle cx="405" cy="103.2" r="2.9" fill="url(#b21)"/><circle cx="409.5" cy="103.3" r="3" fill="url(#b21)"/><circle cx="438.1" cy="103.3" r="2.2" fill="url(#b18)"/><circle cx="431.7" cy="103.5" r="2.4" fill="url(#b18)"/><circle cx="452.5" cy="103.6" r="3.1" fill="url(#b17)"/><circle cx="417.8" cy="103.9" r="3" fill="url(#b20)"/><circle cx="432.1" cy="104.2" r="2.1" fill="url(#b18)"/><circle cx="410.6" cy="104.2" r="2.1" fill="url(#b21)"/><circle cx="442.6" cy="104.3" r="3.1" fill="url(#b17)"/><circle cx="428.6" cy="104.3" r="2.2" fill="url(#b18)"/><circle cx="442.9" cy="104.4" r="2.7" fill="url(#b17)"/><circle cx="431.3" cy="104.4" r="2.6" fill="url(#b18)"/><circle cx="456.3" cy="104.5" r="2.1" fill="url(#b16)"/><circle cx="408.6" cy="104.5" r="3.2" fill="url(#b21)"/><circle cx="419.9" cy="104.7" r="2.9" fill="url(#b20)"/><circle cx="428.8" cy="104.8" r="2.8" fill="url(#b18)"/><circle cx="433.3" cy="104.8" r="2.7" fill="url(#b18)"/><circle cx="413.7" cy="105" r="2.5" fill="url(#b21)"/><circle cx="438.6" cy="105" r="2.9" fill="url(#b17)"/><circle cx="425.2" cy="105" r="2.4" fill="url(#b19)"/><circle cx="448.6" cy="105.1" r="2.7" fill="url(#b17)"/><circle cx="463.5" cy="105.2" r="3.3" fill="url(#b16)"/><circle cx="463.4" cy="105.3" r="3.2" fill="url(#b16)"/><circle cx="443" cy="105.5" r="3.3" fill="url(#b17)"/><circle cx="442.1" cy="105.6" r="3.2" fill="url(#b17)"/><circle cx="441.7" cy="105.6" r="3.1" fill="url(#b17)"/><circle cx="426.5" cy="105.6" r="3" fill="url(#b18)"/><circle cx="442.3" cy="105.7" r="2.7" fill="url(#b17)"/><circle cx="463.1" cy="105.8" r="2.2" fill="url(#b16)"/><circle cx="409.5" cy="105.8" r="3.3" fill="url(#b21)"/><circle cx="443.1" cy="105.8" r="2.4" fill="url(#b17)"/><circle cx="462.7" cy="105.8" r="2.8" fill="url(#b16)"/><circle cx="436" cy="106.1" r="2.9" fill="url(#b17)"/><circle cx="462.9" cy="106.4" r="3.1" fill="url(#b16)"/><circle cx="465.1" cy="106.6" r="2.6" fill="url(#b16)"/><circle cx="465.8" cy="106.7" r="2.2" fill="url(#b15)"/><circle cx="457.1" cy="106.7" r="2.5" fill="url(#b16)"/><circle cx="423.8" cy="106.8" r="2.1" fill="url(#b19)"/><circle cx="403.6" cy="106.8" r="3.3" fill="url(#b21)"/><circle cx="398" cy="107" r="1.5" fill="url(#b22)"/><circle cx="444.4" cy="107.5" r="2.3" fill="url(#b17)"/><circle cx="412.7" cy="107.6" r="3.2" fill="url(#b20)"/><circle cx="453.3" cy="107.7" r="3" fill="url(#b17)"/><circle cx="467.2" cy="107.8" r="2.9" fill="url(#b15)"/><circle cx="404.9" cy="107.9" r="2.9" fill="url(#b21)"/><circle cx="409.7" cy="108.2" r="2.5" fill="url(#b20)"/><circle cx="437.2" cy="108.2" r="2.3" fill="url(#b17)"/><circle cx="445.5" cy="108.3" r="2.6" fill="url(#b17)"/><circle cx="411.9" cy="108.4" r="2.2" fill="url(#b20)"/><circle cx="452.1" cy="108.4" r="2.4" fill="url(#b17)"/><circle cx="411.5" cy="108.4" r="3.2" fill="url(#b20)"/><circle cx="457.3" cy="108.5" r="2.6" fill="url(#b16)"/><circle cx="464.6" cy="108.7" r="2.3" fill="url(#b15)"/><circle cx="466.7" cy="108.9" r="2.5" fill="url(#b14)"/><circle cx="419.1" cy="109" r="3.2" fill="url(#b18)"/><circle cx="455.1" cy="109" r="3.2" fill="url(#b16)"/><circle cx="404" cy="109.1" r="3.3" fill="url(#b21)"/><circle cx="418.4" cy="109.2" r="2.3" fill="url(#b18)"/><circle cx="412.3" cy="109.2" r="2.7" fill="url(#b20)"/><circle cx="460.5" cy="109.3" r="3.3" fill="url(#b15)"/><circle cx="444.1" cy="109.4" r="2.3" fill="url(#b17)"/><circle cx="461" cy="109.6" r="3.3" fill="url(#b15)"/><circle cx="437.3" cy="109.6" r="3.3" fill="url(#b17)"/><circle cx="446" cy="109.9" r="2.6" fill="url(#b16)"/><circle cx="403" cy="110" r="1.8" fill="url(#b21)"/><circle cx="409.3" cy="110.1" r="2.2" fill="url(#b20)"/><circle cx="457" cy="110.2" r="3.2" fill="url(#b15)"/><circle cx="434.9" cy="110.4" r="3.2" fill="url(#b17)"/><circle cx="451.7" cy="110.5" r="3.3" fill="url(#b16)"/><circle cx="437.5" cy="110.5" r="2.9" fill="url(#b17)"/><circle cx="429.8" cy="110.7" r="2.9" fill="url(#b17)"/><circle cx="420.4" cy="110.7" r="2.9" fill="url(#b18)"/><circle cx="418.2" cy="110.8" r="2.5" fill="url(#b18)"/><circle cx="410.9" cy="110.9" r="3.1" fill="url(#b19)"/><circle cx="439.6" cy="110.9" r="3" fill="url(#b17)"/><circle cx="451.1" cy="111" r="2.7" fill="url(#b16)"/><circle cx="406.4" cy="111" r="3" fill="url(#b20)"/><circle cx="446.7" cy="111.1" r="2.6" fill="url(#b16)"/><circle cx="438.7" cy="111.1" r="2.2" fill="url(#b17)"/><circle cx="453.7" cy="111.2" r="2.6" fill="url(#b16)"/><circle cx="446.7" cy="111.3" r="2.6" fill="url(#b16)"/><circle cx="447.4" cy="111.4" r="2.6" fill="url(#b16)"/><circle cx="444.5" cy="111.5" r="2.4" fill="url(#b16)"/><circle cx="430.7" cy="111.6" r="2.3" fill="url(#b17)"/><circle cx="415.5" cy="111.6" r="2.7" fill="url(#b18)"/><circle cx="413.6" cy="111.9" r="3.2" fill="url(#b18)"/><circle cx="442.4" cy="111.9" r="2.7" fill="url(#b16)"/><circle cx="471.8" cy="111.9" r="3" fill="url(#b12)"/><circle cx="452.2" cy="112.3" r="2.7" fill="url(#b16)"/><circle cx="438.5" cy="112.3" r="3.2" fill="url(#b17)"/><circle cx="431.1" cy="112.5" r="2.6" fill="url(#b17)"/><circle cx="406.3" cy="112.5" r="2.9" fill="url(#b20)"/><circle cx="458.7" cy="112.5" r="2.5" fill="url(#b14)"/><circle cx="457.2" cy="112.6" r="2.9" fill="url(#b14)"/><circle cx="457.8" cy="112.6" r="2.7" fill="url(#b14)"/><circle cx="415.2" cy="112.6" r="2.7" fill="url(#b18)"/><circle cx="470.9" cy="112.9" r="3.1" fill="url(#b12)"/><circle cx="461.1" cy="113" r="2.5" fill="url(#b14)"/><circle cx="442" cy="113" r="2.2" fill="url(#b16)"/><circle cx="406.2" cy="113.2" r="2.7" fill="url(#b20)"/><circle cx="468.2" cy="113.2" r="2.3" fill="url(#b13)"/><circle cx="472.9" cy="113.3" r="3.2" fill="url(#b12)"/><circle cx="456.6" cy="113.3" r="2.6" fill="url(#b14)"/><circle cx="451.8" cy="113.3" r="2.2" fill="url(#b15)"/><circle cx="463.5" cy="113.4" r="3" fill="url(#b14)"/><circle cx="449.1" cy="113.8" r="3.1" fill="url(#b15)"/><circle cx="468.5" cy="113.8" r="2.3" fill="url(#b13)"/><circle cx="416.9" cy="113.9" r="2.2" fill="url(#b17)"/><circle cx="408.3" cy="114.2" r="3.3" fill="url(#b19)"/><circle cx="466.8" cy="114.3" r="3.4" fill="url(#b13)"/><circle cx="443.9" cy="114.4" r="2.1" fill="url(#b16)"/><circle cx="470.1" cy="114.4" r="2.7" fill="url(#b12)"/><circle cx="407.3" cy="114.4" r="3" fill="url(#b20)"/><circle cx="442" cy="114.5" r="3.3" fill="url(#b16)"/><circle cx="453.1" cy="114.6" r="3.1" fill="url(#b14)"/><circle cx="468.3" cy="115" r="3.2" fill="url(#b13)"/><circle cx="409.2" cy="115" r="3.3" fill="url(#b19)"/><circle cx="420.4" cy="115.2" r="2.6" fill="url(#b17)"/><circle cx="419.5" cy="115.3" r="3" fill="url(#b17)"/><circle cx="430.6" cy="115.3" r="3.3" fill="url(#b17)"/><circle cx="472.7" cy="115.3" r="3.3" fill="url(#b12)"/><circle cx="409.2" cy="115.5" r="3.3" fill="url(#b19)"/><circle cx="429.1" cy="115.6" r="2.4" fill="url(#b17)"/><circle cx="417.1" cy="115.7" r="2.6" fill="url(#b17)"/><circle cx="431.8" cy="115.8" r="3.3" fill="url(#b17)"/><circle cx="466" cy="116" r="2.4" fill="url(#b13)"/><circle cx="472.6" cy="116.1" r="2.2" fill="url(#b12)"/><circle cx="415" cy="116.2" r="3.2" fill="url(#b17)"/><circle cx="457.4" cy="116.7" r="2.3" fill="url(#b13)"/><circle cx="424.6" cy="116.7" r="3.3" fill="url(#b17)"/><circle cx="449" cy="116.8" r="2.3" fill="url(#b14)"/><circle cx="432.4" cy="116.8" r="2.7" fill="url(#b17)"/><circle cx="436.6" cy="116.8" r="3.2" fill="url(#b16)"/><circle cx="465.6" cy="116.9" r="2.6" fill="url(#b13)"/><circle cx="415" cy="116.9" r="3.1" fill="url(#b17)"/><circle cx="406.8" cy="117.1" r="2.7" fill="url(#b19)"/><circle cx="430.3" cy="117.1" r="2.6" fill="url(#b17)"/><circle cx="443.5" cy="117.1" r="3.3" fill="url(#b15)"/><circle cx="472.6" cy="117.2" r="2.5" fill="url(#b12)"/><circle cx="417" cy="117.3" r="2.4" fill="url(#b17)"/><circle cx="469.2" cy="117.3" r="2.2" fill="url(#b12)"/><circle cx="424.9" cy="117.5" r="2.5" fill="url(#b17)"/><circle cx="418.5" cy="117.5" r="2.5" fill="url(#b17)"/><circle cx="413.1" cy="117.6" r="3.4" fill="url(#b17)"/><circle cx="433.6" cy="117.7" r="3.4" fill="url(#b16)"/><circle cx="410.7" cy="118.2" r="3.3" fill="url(#b18)"/><circle cx="415.9" cy="118.4" r="3" fill="url(#b17)"/><circle cx="455.3" cy="118.5" r="3.2" fill="url(#b12)"/><circle cx="458.7" cy="118.6" r="2.1" fill="url(#b12)"/><circle cx="440" cy="118.6" r="2.6" fill="url(#b16)"/><circle cx="421.5" cy="118.8" r="3.2" fill="url(#b17)"/><circle cx="431.3" cy="118.8" r="2.4" fill="url(#b16)"/><circle cx="412.9" cy="118.9" r="2.5" fill="url(#b17)"/><circle cx="410.4" cy="119" r="2.4" fill="url(#b18)"/><circle cx="448.8" cy="119.1" r="2.5" fill="url(#b13)"/><circle cx="434.7" cy="119.2" r="2.1" fill="url(#b16)"/><circle cx="435.9" cy="119.3" r="2.2" fill="url(#b16)"/><circle cx="435.7" cy="119.4" r="2.5" fill="url(#b16)"/><circle cx="410.2" cy="119.4" r="3" fill="url(#b18)"/><circle cx="435.7" cy="119.4" r="2.3" fill="url(#b16)"/><circle cx="424.8" cy="119.7" r="2.3" fill="url(#b17)"/><circle cx="452.1" cy="119.9" r="3.1" fill="url(#b12)"/><circle cx="418.8" cy="119.9" r="2.7" fill="url(#b17)"/><circle cx="440.7" cy="120" r="2.7" fill="url(#b15)"/><circle cx="418.2" cy="120" r="3.1" fill="url(#b17)"/><circle cx="471.7" cy="120" r="2.4" fill="url(#b11)"/><circle cx="420.5" cy="120.2" r="2.2" fill="url(#b17)"/><circle cx="457.6" cy="120.2" r="2.1" fill="url(#b12)"/><circle cx="441.9" cy="120.2" r="2.1" fill="url(#b15)"/><circle cx="410.1" cy="120.2" r="2.3" fill="url(#b18)"/><circle cx="470.1" cy="120.3" r="3" fill="url(#b11)"/><circle cx="416.8" cy="120.3" r="2.7" fill="url(#b17)"/><circle cx="422.2" cy="120.4" r="2.6" fill="url(#b17)"/><circle cx="422.4" cy="120.6" r="2.4" fill="url(#b17)"/><circle cx="442.1" cy="120.6" r="2.9" fill="url(#b15)"/><circle cx="415.5" cy="120.8" r="2.8" fill="url(#b17)"/><circle cx="422.6" cy="120.9" r="2.1" fill="url(#b17)"/><circle cx="435.5" cy="120.9" r="2.2" fill="url(#b15)"/><circle cx="455.3" cy="120.9" r="2.4" fill="url(#b12)"/><circle cx="429.1" cy="121" r="2.7" fill="url(#b16)"/><circle cx="414.8" cy="121.1" r="2.1" fill="url(#b17)"/><circle cx="414" cy="121.1" r="2.3" fill="url(#b17)"/><circle cx="465.8" cy="121.2" r="3.3" fill="url(#b12)"/><circle cx="466.4" cy="121.4" r="2.1" fill="url(#b12)"/><circle cx="419.7" cy="121.6" r="3.3" fill="url(#b17)"/><circle cx="413.6" cy="121.6" r="2.3" fill="url(#b17)"/><circle cx="444.4" cy="121.8" r="3.3" fill="url(#b14)"/><circle cx="412.8" cy="121.8" r="3" fill="url(#b17)"/><circle cx="460.2" cy="122" r="3.3" fill="url(#b12)"/><circle cx="421.1" cy="122.3" r="2.6" fill="url(#b17)"/><circle cx="469.9" cy="122.4" r="2.8" fill="url(#b11)"/><circle cx="447.3" cy="122.4" r="3" fill="url(#b13)"/><circle cx="422.6" cy="122.7" r="3.3" fill="url(#b16)"/><circle cx="439" cy="122.8" r="2.5" fill="url(#b14)"/><circle cx="469.4" cy="122.8" r="2.7" fill="url(#b11)"/><circle cx="420.8" cy="123.4" r="2.4" fill="url(#b16)"/><circle cx="461.8" cy="123.4" r="3.1" fill="url(#b12)"/><circle cx="414.5" cy="123.6" r="2.1" fill="url(#b17)"/><circle cx="458.3" cy="123.6" r="3.1" fill="url(#b12)"/><circle cx="449.5" cy="123.6" r="2.6" fill="url(#b12)"/><circle cx="424.9" cy="123.6" r="2.6" fill="url(#b16)"/><circle cx="415.3" cy="123.7" r="2.1" fill="url(#b17)"/><circle cx="430.7" cy="123.7" r="2.3" fill="url(#b14)"/><circle cx="465.8" cy="123.8" r="2.5" fill="url(#b11)"/><circle cx="479" cy="123.8" r="2.7" fill="url(#b10)"/><circle cx="467.6" cy="123.8" r="2.8" fill="url(#b11)"/><circle cx="472.5" cy="123.9" r="3" fill="url(#b10)"/><circle cx="445" cy="124" r="2.1" fill="url(#b13)"/><circle cx="461.4" cy="124.1" r="2.9" fill="url(#b12)"/><circle cx="471.3" cy="124.1" r="2.6" fill="url(#b10)"/><circle cx="426.6" cy="124.2" r="2.1" fill="url(#b15)"/><circle cx="443.4" cy="124.3" r="3.1" fill="url(#b13)"/><circle cx="456.8" cy="124.7" r="2.4" fill="url(#b12)"/><circle cx="423.9" cy="124.8" r="2.1" fill="url(#b15)"/><circle cx="435.7" cy="124.9" r="2.5" fill="url(#b14)"/><circle cx="467.4" cy="124.9" r="2.8" fill="url(#b11)"/><circle cx="439.9" cy="125" r="3.1" fill="url(#b14)"/><circle cx="415.5" cy="125.1" r="2.7" fill="url(#b17)"/><circle cx="440.9" cy="125.1" r="3.3" fill="url(#b14)"/><circle cx="463.9" cy="125.3" r="2.9" fill="url(#b11)"/><circle cx="459.2" cy="125.4" r="2.1" fill="url(#b12)"/><circle cx="473.6" cy="125.5" r="2.1" fill="url(#b10)"/><circle cx="415" cy="125.6" r="1.7" fill="url(#b17)"/><circle cx="478.3" cy="125.7" r="3.2" fill="url(#b9)"/><circle cx="446.9" cy="125.8" r="3.1" fill="url(#b13)"/><circle cx="459.9" cy="125.8" r="2.5" fill="url(#b12)"/><circle cx="462.2" cy="125.9" r="2.3" fill="url(#b11)"/><circle cx="477.2" cy="126" r="3" fill="url(#b9)"/><circle cx="478.7" cy="126.5" r="3.1" fill="url(#b9)"/><circle cx="477.5" cy="126.6" r="2.9" fill="url(#b9)"/><circle cx="415.5" cy="126.8" r="3.2" fill="url(#b16)"/><circle cx="458.7" cy="126.8" r="2.4" fill="url(#b12)"/><circle cx="444.5" cy="126.9" r="3" fill="url(#b13)"/><circle cx="476.4" cy="127.1" r="2.2" fill="url(#b9)"/><circle cx="424.8" cy="127.2" r="3" fill="url(#b14)"/><circle cx="419.8" cy="127.2" r="2.6" fill="url(#b16)"/><circle cx="433" cy="127.5" r="3.1" fill="url(#b13)"/><circle cx="471.1" cy="127.5" r="3.1" fill="url(#b9)"/><circle cx="462.6" cy="127.5" r="3.3" fill="url(#b11)"/><circle cx="417.2" cy="127.7" r="3.1" fill="url(#b16)"/><circle cx="444.2" cy="128" r="3" fill="url(#b12)"/><circle cx="471.6" cy="128" r="3" fill="url(#b9)"/><circle cx="453" cy="128.3" r="2.6" fill="url(#b12)"/><circle cx="444.4" cy="128.5" r="2.9" fill="url(#b12)"/><circle cx="432.6" cy="128.7" r="3" fill="url(#b12)"/><circle cx="477.1" cy="128.9" r="2.9" fill="url(#b9)"/><circle cx="432.8" cy="128.9" r="2.7" fill="url(#b12)"/><circle cx="445.2" cy="129" r="3.3" fill="url(#b12)"/><circle cx="458.7" cy="129.1" r="2.7" fill="url(#b11)"/><circle cx="463.3" cy="129.2" r="2.2" fill="url(#b10)"/><circle cx="453.3" cy="129.3" r="2.2" fill="url(#b11)"/><circle cx="438.7" cy="129.3" r="2.5" fill="url(#b13)"/><circle cx="426.8" cy="129.3" r="2.2" fill="url(#b13)"/><circle cx="439.9" cy="129.3" r="3.3" fill="url(#b12)"/><circle cx="435.4" cy="129.7" r="2.7" fill="url(#b12)"/><circle cx="419.6" cy="130" r="3.2" fill="url(#b15)"/><circle cx="446.6" cy="130.1" r="2.8" fill="url(#b11)"/><circle cx="476.4" cy="130.2" r="2.5" fill="url(#b9)"/><circle cx="459.2" cy="130.2" r="3" fill="url(#b11)"/><circle cx="463.3" cy="130.3" r="2.3" fill="url(#b10)"/><circle cx="466.7" cy="130.4" r="2.9" fill="url(#b9)"/><circle cx="423.7" cy="130.5" r="2.3" fill="url(#b13)"/><circle cx="473.9" cy="130.7" r="2.1" fill="url(#b9)"/><circle cx="462.4" cy="130.7" r="2.7" fill="url(#b10)"/><circle cx="464.9" cy="130.9" r="3" fill="url(#b9)"/><circle cx="434.5" cy="131.1" r="2.3" fill="url(#b12)"/><circle cx="462.9" cy="131.2" r="2.6" fill="url(#b10)"/><circle cx="480.6" cy="131.3" r="2.2" fill="url(#b8)"/><circle cx="451.7" cy="131.4" r="2.2" fill="url(#b11)"/><circle cx="461.4" cy="131.5" r="2.3" fill="url(#b10)"/><circle cx="438.2" cy="131.6" r="2.7" fill="url(#b12)"/><circle cx="481.5" cy="131.7" r="3.3" fill="url(#b8)"/><circle cx="430.5" cy="131.8" r="2.7" fill="url(#b12)"/><circle cx="457" cy="131.9" r="2.9" fill="url(#b10)"/><circle cx="463.4" cy="132.1" r="2.4" fill="url(#b9)"/><circle cx="463.3" cy="132.1" r="2.2" fill="url(#b9)"/><circle cx="473.1" cy="132.2" r="2.1" fill="url(#b9)"/><circle cx="467.3" cy="132.2" r="2.8" fill="url(#b9)"/><circle cx="458.5" cy="132.2" r="2.3" fill="url(#b10)"/><circle cx="433.3" cy="132.2" r="2.9" fill="url(#b12)"/><circle cx="465" cy="132.3" r="2.8" fill="url(#b9)"/><circle cx="479.7" cy="132.4" r="2.9" fill="url(#b8)"/><circle cx="472.2" cy="132.6" r="2.7" fill="url(#b9)"/><circle cx="425.8" cy="132.6" r="3" fill="url(#b12)"/><circle cx="478.2" cy="132.7" r="2.2" fill="url(#b8)"/><circle cx="422.5" cy="132.9" r="2.4" fill="url(#b13)"/><circle cx="440.5" cy="133" r="3.1" fill="url(#b11)"/><circle cx="470.2" cy="133.1" r="3" fill="url(#b9)"/><circle cx="438.5" cy="133.2" r="2.6" fill="url(#b12)"/><circle cx="431.8" cy="133.3" r="2.2" fill="url(#b12)"/><circle cx="453.7" cy="133.4" r="2.3" fill="url(#b10)"/><circle cx="435.2" cy="133.4" r="2.2" fill="url(#b12)"/><circle cx="464.9" cy="133.4" r="3" fill="url(#b9)"/><circle cx="461.1" cy="133.6" r="2.5" fill="url(#b9)"/><circle cx="452.5" cy="133.6" r="2.2" fill="url(#b10)"/><circle cx="460.6" cy="133.9" r="2.4" fill="url(#b9)"/><circle cx="465.1" cy="134.1" r="2.8" fill="url(#b9)"/><circle cx="426.7" cy="134.5" r="2.7" fill="url(#b12)"/><circle cx="433.2" cy="134.7" r="3.3" fill="url(#b12)"/><circle cx="467.6" cy="134.7" r="3.1" fill="url(#b9)"/><circle cx="438.2" cy="134.8" r="2.1" fill="url(#b11)"/><circle cx="432.8" cy="134.9" r="2.4" fill="url(#b12)"/><circle cx="427.7" cy="135" r="3.3" fill="url(#b12)"/><circle cx="481" cy="135.3" r="1.8" fill="url(#b8)"/><circle cx="432.4" cy="135.4" r="2.8" fill="url(#b12)"/><circle cx="427.9" cy="135.4" r="2.7" fill="url(#b12)"/><circle cx="470.6" cy="135.4" r="2.9" fill="url(#b9)"/><circle cx="475.7" cy="135.7" r="2.6" fill="url(#b8)"/><circle cx="475.7" cy="135.8" r="2.4" fill="url(#b8)"/><circle cx="464.8" cy="135.9" r="3.1" fill="url(#b9)"/><circle cx="467.8" cy="135.9" r="3" fill="url(#b9)"/><circle cx="469.3" cy="136" r="3" fill="url(#b9)"/><circle cx="454.3" cy="136.1" r="2.3" fill="url(#b9)"/><circle cx="468.8" cy="136.1" r="2.3" fill="url(#b9)"/><circle cx="453" cy="136.2" r="2.8" fill="url(#b9)"/><circle cx="437.1" cy="136.2" r="3.3" fill="url(#b11)"/><circle cx="436.8" cy="136.3" r="2.5" fill="url(#b11)"/><circle cx="432.7" cy="136.5" r="3.3" fill="url(#b12)"/><circle cx="427.6" cy="136.6" r="2.3" fill="url(#b12)"/><circle cx="474.2" cy="136.8" r="2.9" fill="url(#b8)"/><circle cx="458.8" cy="136.8" r="3.1" fill="url(#b9)"/><circle cx="475.5" cy="137" r="2.2" fill="url(#b8)"/><circle cx="450" cy="137" r="2.9" fill="url(#b9)"/><circle cx="469.9" cy="137" r="3.2" fill="url(#b9)"/><circle cx="446.4" cy="137.1" r="2.5" fill="url(#b9)"/><circle cx="436.7" cy="137.2" r="2.7" fill="url(#b11)"/><circle cx="446.6" cy="137.3" r="2.6" fill="url(#b9)"/><circle cx="479" cy="137.4" r="1.4" fill="url(#b8)"/><circle cx="478.8" cy="137.5" r="1.6" fill="url(#b8)"/><circle cx="430.2" cy="137.5" r="2.4" fill="url(#b12)"/><circle cx="426.2" cy="137.5" r="2.7" fill="url(#b13)"/><circle cx="465.3" cy="138" r="2.2" fill="url(#b8)"/><circle cx="484.6" cy="138.1" r="1.8" fill="url(#b8)"/><circle cx="456.2" cy="138.3" r="2.4" fill="url(#b9)"/><circle cx="452.3" cy="138.3" r="2.2" fill="url(#b9)"/><circle cx="446.5" cy="138.7" r="2.5" fill="url(#b9)"/><circle cx="436.9" cy="138.8" r="2.6" fill="url(#b11)"/><circle cx="467.6" cy="138.9" r="1.4" fill="url(#b8)"/><circle cx="478.2" cy="138.9" r="1.7" fill="url(#b8)"/><circle cx="484.6" cy="138.9" r="1.6" fill="url(#b8)"/><circle cx="460.4" cy="138.9" r="2.2" fill="url(#b8)"/><circle cx="483" cy="139.1" r="1.7" fill="url(#b8)"/><circle cx="463.8" cy="139.4" r="1.7" fill="url(#b8)"/><circle cx="436" cy="139.4" r="2.3" fill="url(#b11)"/><circle cx="476.4" cy="139.5" r="1.8" fill="url(#b8)"/><circle cx="468.8" cy="139.7" r="1.4" fill="url(#b8)"/><circle cx="429.3" cy="139.8" r="2.8" fill="url(#b12)"/><circle cx="484.8" cy="139.8" r="1.7" fill="url(#b8)"/><circle cx="461.7" cy="139.8" r="3.2" fill="url(#b8)"/><circle cx="439" cy="140" r="2.9" fill="url(#b10)"/><circle cx="446.7" cy="140.1" r="2.5" fill="url(#b9)"/><circle cx="431.2" cy="140.1" r="3" fill="url(#b12)"/><circle cx="470.8" cy="140.4" r="1.7" fill="url(#b8)"/><circle cx="481.2" cy="140.6" r="1.4" fill="url(#b7)"/><circle cx="470.2" cy="140.7" r="1.3" fill="url(#b8)"/><circle cx="464.7" cy="140.8" r="1.2" fill="url(#b8)"/><circle cx="439.8" cy="140.8" r="2.8" fill="url(#b9)"/><circle cx="441.2" cy="140.9" r="2.9" fill="url(#b9)"/><circle cx="444.4" cy="140.9" r="2.4" fill="url(#b9)"/><circle cx="477.9" cy="140.9" r="1.5" fill="url(#b8)"/><circle cx="459.9" cy="141" r="3.3" fill="url(#b8)"/><circle cx="449.4" cy="141" r="2.8" fill="url(#b9)"/><circle cx="434.3" cy="141" r="3.3" fill="url(#b11)"/><circle cx="485.1" cy="141.1" r="1.4" fill="url(#b7)"/><circle cx="465.8" cy="141.6" r="1.6" fill="url(#b8)"/><circle cx="447.5" cy="141.6" r="2.8" fill="url(#b9)"/><circle cx="464.8" cy="141.6" r="1.4" fill="url(#b8)"/><circle cx="451.5" cy="141.7" r="3" fill="url(#b8)"/><circle cx="467.8" cy="142" r="1.9" fill="url(#b8)"/><circle cx="472.8" cy="142.1" r="1.3" fill="url(#b8)"/><circle cx="483.5" cy="142.2" r="1.3" fill="url(#b7)"/><circle cx="465.3" cy="142.6" r="1.4" fill="url(#b8)"/><circle cx="456.9" cy="143.2" r="3.1" fill="url(#b8)"/><circle cx="453.4" cy="143.3" r="1.8" fill="url(#b8)"/><circle cx="434" cy="143.4" r="2.5" fill="url(#b11)"/><circle cx="459.1" cy="143.6" r="2.3" fill="url(#b8)"/><circle cx="454.7" cy="143.6" r="1.7" fill="url(#b8)"/><circle cx="446.9" cy="143.8" r="2.9" fill="url(#b9)"/><circle cx="464.8" cy="143.9" r="1.8" fill="url(#b8)"/><circle cx="440.4" cy="144" r="2.1" fill="url(#b9)"/><circle cx="466.3" cy="144" r="1.9" fill="url(#b8)"/><circle cx="461" cy="144.3" r="1.5" fill="url(#b8)"/><circle cx="474.9" cy="144.5" r="1.3" fill="url(#b7)"/><circle cx="486" cy="144.6" r="1.3" fill="url(#b6)"/><circle cx="439.4" cy="144.6" r="2.1" fill="url(#b9)"/><circle cx="448" cy="144.7" r="2.7" fill="url(#b8)"/><circle cx="468.6" cy="144.8" r="1.3" fill="url(#b8)"/><circle cx="480.5" cy="145.4" r="1.7" fill="url(#b6)"/><circle cx="484.6" cy="145.8" r="1.7" fill="url(#b5)"/><circle cx="457.7" cy="145.9" r="1.3" fill="url(#b8)"/><circle cx="456" cy="146.5" r="1.9" fill="url(#b8)"/><circle cx="439.3" cy="146.7" r="2.8" fill="url(#b9)"/><circle cx="453.1" cy="146.8" r="1.6" fill="url(#b8)"/><circle cx="450" cy="146.9" r="1.5" fill="url(#b8)"/><circle cx="463.8" cy="147.3" r="1.8" fill="url(#b7)"/><circle cx="454.8" cy="147.3" r="1.9" fill="url(#b8)"/><circle cx="479.1" cy="147.5" r="1.5" fill="url(#b6)"/><circle cx="434.7" cy="147.6" r="2.2" fill="url(#b10)"/><circle cx="437.7" cy="147.9" r="3.2" fill="url(#b10)"/><circle cx="457.7" cy="148.1" r="1.3" fill="url(#b8)"/><circle cx="453.8" cy="148.3" r="1.3" fill="url(#b8)"/><circle cx="437" cy="148.4" r="2.1" fill="url(#b10)"/><circle cx="441" cy="148.5" r="2.7" fill="url(#b9)"/><circle cx="443.5" cy="148.6" r="2.9" fill="url(#b9)"/><circle cx="438.5" cy="148.9" r="2.8" fill="url(#b10)"/><circle cx="438.3" cy="148.9" r="3.1" fill="url(#b10)"/><circle cx="451.6" cy="149" r="1.7" fill="url(#b8)"/><circle cx="446.1" cy="149" r="2.5" fill="url(#b8)"/><circle cx="456.6" cy="149" r="1.8" fill="url(#b8)"/><circle cx="461" cy="149" r="1.7" fill="url(#b7)"/><circle cx="467.4" cy="149" r="1.5" fill="url(#b7)"/><circle cx="474.4" cy="149.1" r="1.5" fill="url(#b5)"/><circle cx="484.1" cy="149.3" r="1.6" fill="url(#b4)"/><circle cx="453.4" cy="149.5" r="1.6" fill="url(#b8)"/><circle cx="471.3" cy="149.5" r="1.8" fill="url(#b6)"/><circle cx="448.9" cy="149.6" r="1.6" fill="url(#b8)"/><circle cx="462.5" cy="149.7" r="1.4" fill="url(#b7)"/><circle cx="454.4" cy="150" r="1.4" fill="url(#b8)"/><circle cx="492" cy="150" r="1.2" fill="url(#b4)"/><circle cx="487.1" cy="150" r="1.8" fill="url(#b4)"/><circle cx="481.4" cy="150" r="1.8" fill="url(#b5)"/><circle cx="455.1" cy="150.1" r="1.5" fill="url(#b8)"/><circle cx="464.5" cy="150.1" r="1.6" fill="url(#b7)"/><circle cx="488.1" cy="150.2" r="1.2" fill="url(#b4)"/><circle cx="465.4" cy="150.4" r="1.7" fill="url(#b7)"/><circle cx="481.7" cy="150.4" r="1.8" fill="url(#b5)"/><circle cx="446.5" cy="150.5" r="3.3" fill="url(#b8)"/><circle cx="441.8" cy="150.8" r="2.2" fill="url(#b9)"/><circle cx="447.6" cy="151" r="2.7" fill="url(#b8)"/><circle cx="456.6" cy="151" r="1.6" fill="url(#b7)"/><circle cx="483.3" cy="151.1" r="1.3" fill="url(#b4)"/><circle cx="481.9" cy="151.1" r="1.8" fill="url(#b5)"/><circle cx="460.8" cy="151.2" r="1.3" fill="url(#b7)"/><circle cx="461.4" cy="151.4" r="1.4" fill="url(#b6)"/><circle cx="447.1" cy="151.6" r="3.3" fill="url(#b8)"/><circle cx="462.6" cy="151.7" r="1.3" fill="url(#b6)"/><circle cx="478.4" cy="151.9" r="1.2" fill="url(#b5)"/><circle cx="448.7" cy="152" r="1.7" fill="url(#b8)"/><circle cx="440.6" cy="152" r="2.5" fill="url(#b9)"/><circle cx="465.8" cy="152.2" r="1.3" fill="url(#b6)"/><circle cx="437.6" cy="152.3" r="3.1" fill="url(#b10)"/><circle cx="477.4" cy="152.4" r="1.5" fill="url(#b4)"/><circle cx="459.8" cy="152.5" r="1.8" fill="url(#b6)"/><circle cx="485.6" cy="152.6" r="1.2" fill="url(#b4)"/><circle cx="440.2" cy="152.9" r="2.8" fill="url(#b9)"/><circle cx="454.3" cy="153.3" r="1.5" fill="url(#b7)"/><circle cx="444.4" cy="153.4" r="3" fill="url(#b8)"/><circle cx="489.5" cy="153.4" r="1.3" fill="url(#b4)"/><circle cx="448.7" cy="153.5" r="1.7" fill="url(#b8)"/><circle cx="446.9" cy="153.7" r="2.5" fill="url(#b8)"/><circle cx="454.3" cy="153.7" r="1.2" fill="url(#b7)"/><circle cx="486.3" cy="154" r="1.2" fill="url(#b4)"/><circle cx="479" cy="154" r="1.8" fill="url(#b4)"/><circle cx="464.2" cy="154" r="1.5" fill="url(#b6)"/><circle cx="468.6" cy="154.1" r="1.4" fill="url(#b5)"/><circle cx="438.6" cy="154.4" r="2.3" fill="url(#b9)"/><circle cx="442.2" cy="154.6" r="2.6" fill="url(#b9)"/><circle cx="477.3" cy="154.7" r="1.8" fill="url(#b4)"/><circle cx="460.7" cy="154.8" r="1.2" fill="url(#b5)"/><circle cx="474.2" cy="154.8" r="1.4" fill="url(#b4)"/><circle cx="475.4" cy="154.9" r="1.2" fill="url(#b4)"/><circle cx="478.5" cy="155.3" r="1.6" fill="url(#b4)"/><circle cx="477.2" cy="155.4" r="1.8" fill="url(#b4)"/><circle cx="445.5" cy="155.4" r="2.9" fill="url(#b8)"/><circle cx="475.4" cy="155.4" r="1.7" fill="url(#b4)"/><circle cx="442.9" cy="155.4" r="2.5" fill="url(#b9)"/><circle cx="465.8" cy="155.6" r="1.6" fill="url(#b5)"/><circle cx="477.5" cy="155.7" r="1.4" fill="url(#b4)"/><circle cx="456" cy="155.8" r="1.7" fill="url(#b5)"/><circle cx="496" cy="156" r="1" fill="url(#b4)"/><circle cx="489.2" cy="156.2" r="1.6" fill="url(#b4)"/><circle cx="484.7" cy="156.4" r="1.5" fill="url(#b4)"/><circle cx="473.8" cy="156.4" r="1.6" fill="url(#b4)"/><circle cx="461.5" cy="156.5" r="1.7" fill="url(#b4)"/><circle cx="475.9" cy="156.6" r="1.7" fill="url(#b4)"/><circle cx="471.8" cy="156.8" r="1.2" fill="url(#b4)"/><circle cx="468.8" cy="156.8" r="1.8" fill="url(#b5)"/><circle cx="455.9" cy="156.9" r="1.5" fill="url(#b5)"/><circle cx="468.2" cy="157" r="1.8" fill="url(#b5)"/><circle cx="489.2" cy="157.3" r="1.6" fill="url(#b4)"/><circle cx="470.8" cy="157.4" r="1.5" fill="url(#b4)"/><circle cx="454.5" cy="157.5" r="1.9" fill="url(#b5)"/><circle cx="481.9" cy="157.5" r="1.3" fill="url(#b4)"/><circle cx="441.3" cy="157.6" r="2.2" fill="url(#b9)"/><circle cx="448.9" cy="157.7" r="1.5" fill="url(#b7)"/><circle cx="484.2" cy="157.7" r="1.4" fill="url(#b4)"/><circle cx="490.7" cy="157.7" r="1.9" fill="url(#b3)"/><circle cx="448.5" cy="157.8" r="1.7" fill="url(#b7)"/><circle cx="442.1" cy="157.9" r="2.3" fill="url(#b9)"/><circle cx="447.2" cy="158.4" r="1.6" fill="url(#b8)"/><circle cx="488.6" cy="158.4" r="1.7" fill="url(#b3)"/><circle cx="461" cy="158.5" r="1.8" fill="url(#b4)"/><circle cx="458.6" cy="158.6" r="1.9" fill="url(#b4)"/><circle cx="487.9" cy="158.9" r="1.7" fill="url(#b3)"/><circle cx="467.5" cy="159" r="1.8" fill="url(#b5)"/><circle cx="469.6" cy="159.6" r="1.3" fill="url(#b4)"/><circle cx="459.2" cy="159.8" r="1.8" fill="url(#b4)"/><circle cx="473.5" cy="159.9" r="1.7" fill="url(#b4)"/><circle cx="485.1" cy="160" r="1.4" fill="url(#b3)"/><circle cx="465.7" cy="160.2" r="1.4" fill="url(#b5)"/><circle cx="452.8" cy="160.2" r="1.7" fill="url(#b6)"/><circle cx="461.3" cy="160.4" r="1.8" fill="url(#b4)"/><circle cx="485" cy="160.8" r="1.7" fill="url(#b3)"/><circle cx="481.8" cy="160.8" r="1.5" fill="url(#b3)"/><circle cx="482.5" cy="161" r="1.5" fill="url(#b3)"/><circle cx="453.7" cy="161.1" r="1.4" fill="url(#b5)"/><circle cx="475.8" cy="161.1" r="1.7" fill="url(#b4)"/><circle cx="477" cy="161.1" r="1.9" fill="url(#b4)"/><circle cx="482.3" cy="161.4" r="1.7" fill="url(#b3)"/><circle cx="456.8" cy="161.6" r="1.3" fill="url(#b4)"/><circle cx="477.9" cy="161.7" r="1.3" fill="url(#b4)"/><circle cx="477" cy="162.6" r="1.5" fill="url(#b3)"/><circle cx="478" cy="163.1" r="1.5" fill="url(#b3)"/><circle cx="473.4" cy="163.1" r="1.4" fill="url(#b3)"/><circle cx="478.3" cy="163.2" r="1.8" fill="url(#b3)"/><circle cx="465.9" cy="163.3" r="1.5" fill="url(#b4)"/><circle cx="482.4" cy="163.6" r="1.6" fill="url(#b3)"/><circle cx="484" cy="163.8" r="1.7" fill="url(#b2)"/><circle cx="466.9" cy="163.9" r="1.5" fill="url(#b4)"/><circle cx="468.4" cy="164.1" r="1.2" fill="url(#b4)"/><circle cx="483.8" cy="164.8" r="0.7" fill="url(#b2)"/><circle cx="463.4" cy="165.3" r="1.3" fill="url(#b4)"/><circle cx="487.5" cy="166.4" r="1" fill="url(#b2)"/><circle cx="477" cy="169.4" r="0.7" fill="url(#b2)"/><circle cx="482.6" cy="169.5" r="0.9" fill="url(#b2)"/><circle cx="491" cy="169.9" r="0.7" fill="url(#b1)"/><circle cx="483.8" cy="171" r="0.9" fill="url(#b1)"/><circle cx="488.4" cy="171" r="0.8" fill="url(#b1)"/><circle cx="487.9" cy="172.4" r="0.8" fill="url(#b1)"/><circle cx="477.2" cy="172.9" r="0.6" fill="url(#b2)"/><circle cx="481.6" cy="173.5" r="0.9" fill="url(#b1)"/><circle cx="490.6" cy="177.6" r="0.8" fill="url(#b0)"/><path d="M474.8 172h0.9v0.9h-0.9zM474.5 172.9h0.9v0.9h-0.9zM493.9 170.2h0.9v0.9h-0.9zM495.1 176.2h0.9v0.9h-0.9zM483.3 174.3h0.9v0.9h-0.9zM484.4 169.5h0.9v0.9h-0.9zM495.5 178.3h0.9v0.9h-0.9zM481.4 177.7h0.9v0.9h-0.9zM493.9 176.7h0.9v0.9h-0.9zM491.1 177.7h0.9v0.9h-0.9zM484.6 166.1h0.9v0.9h-0.9zM479.6 166.6h0.9v0.9h-0.9zM493.3 172.9h0.9v0.9h-0.9zM473 169.4h0.9v0.9h-0.9zM480.6 165.1h0.9v0.9h-0.9zM489.4 174.7h0.9v0.9h-0.9zM495.5 177.9h0.9v0.9h-0.9zM494.1 174.6h0.9v0.9h-0.9zM483.1 172.4h0.9v0.9h-0.9zM490.8 179.7h0.9v0.9h-0.9zM491.3 178.1h0.9v0.9h-0.9zM484.2 173.1h0.9v0.9h-0.9zM488.4 173.6h0.9v0.9h-0.9zM483 173.7h0.9v0.9h-0.9zM481.5 165.6h0.9v0.9h-0.9zM485.9 170.6h0.9v0.9h-0.9zM487 176.1h0.9v0.9h-0.9zM483.6 172h0.9v0.9h-0.9zM487.7 175h0.9v0.9h-0.9zM488.4 171.6h0.9v0.9h-0.9zM478.8 168.8h0.9v0.9h-0.9zM484 174.8h0.9v0.9h-0.9zM487.2 172.9h0.9v0.9h-0.9zM479.4 176.4h0.9v0.9h-0.9zM477.1 173.9h0.9v0.9h-0.9zM479.6 164h0.9v0.9h-0.9zM489.4 168.9h0.9v0.9h-0.9zM494.1 176.6h0.9v0.9h-0.9zM483 177.1h0.9v0.9h-0.9zM494 173.6h0.9v0.9h-0.9z" fill="#5a3a3a"/><path d="M486.7 162.8h1.1v1.1h-1.1zM474.2 161.5h1.1v1.1h-1.1zM475.3 160.7h1.1v1.1h-1.1zM487.9 162.2h1.1v1.1h-1.1zM483.2 164.7h1.1v1.1h-1.1zM473.3 163.2h1.1v1.1h-1.1zM482.2 159.8h1.1v1.1h-1.1zM472.1 159.8h1.1v1.1h-1.1zM486 166.1h1.1v1.1h-1.1zM485.1 162.3h1.1v1.1h-1.1zM485.1 163.3h1.1v1.1h-1.1zM480.5 159.7h1.1v1.1h-1.1zM472.8 159.8h1.1v1.1h-1.1zM477.1 163.5h1.1v1.1h-1.1zM479.9 163.5h1.1v1.1h-1.1zM487.1 165.8h1.1v1.1h-1.1zM489.6 166.2h1.1v1.1h-1.1zM480.4 167.5h1.1v1.1h-1.1zM485.8 166.5h1.1v1.1h-1.1zM482.2 164.7h1.1v1.1h-1.1zM481.9 159.6h1.1v1.1h-1.1zM487 164.1h1.1v1.1h-1.1zM481.5 164.7h1.1v1.1h-1.1zM473.5 162.6h1.1v1.1h-1.1zM477.4 160.1h1.1v1.1h-1.1z" fill="#7a2a2a"/><line x1="305.5" y1="33.8" x2="311.9" y2="190.6" stroke="#1a1a1a" stroke-width="1.3"/><line x1="311.9" y1="190.6" x2="432.3" y2="234.7" stroke="#1a1a1a" stroke-width="1.0"/><line x1="432.3" y1="234.7" x2="528.6" y2="183.6" stroke="#1a1a1a" stroke-width="1.0"/><line x1="23.8" y1="34.5" x2="26" y2="34.5" stroke="#1a1a1a" stroke-width="0.7"/><text x="23.6" y="38" font-family="Liberation Sans" font-size="6.9" text-anchor="end" fill="#333" letter-spacing="-0.3">1.0</text><line x1="25.1" y1="68.4" x2="27.3" y2="68.4" stroke="#1a1a1a" stroke-width="0.7"/><text x="24.9" y="71.9" font-family="Liberation Sans" font-size="6.9" text-anchor="end" fill="#333" letter-spacing="-0.3">0.8</text><line x1="26.3" y1="98.8" x2="28.5" y2="98.8" stroke="#1a1a1a" stroke-width="0.7"/><text x="26.1" y="102.3" font-family="Liberation Sans" font-size="6.9" text-anchor="end" fill="#333" letter-spacing="-0.3">0.6</text><line x1="27.6" y1="130.5" x2="29.8" y2="130.5" stroke="#1a1a1a" stroke-width="0.7"/><text x="27.4" y="134" font-family="Liberation Sans" font-size="6.9" text-anchor="end" fill="#333" letter-spacing="-0.3">0.4</text><line x1="28.7" y1="159.5" x2="30.9" y2="159.5" stroke="#1a1a1a" stroke-width="0.7"/><text x="28.5" y="163" font-family="Liberation Sans" font-size="6.9" text-anchor="end" fill="#333" letter-spacing="-0.3">0.2</text><line x1="29.8" y1="187.5" x2="32" y2="187.5" stroke="#1a1a1a" stroke-width="0.7"/><text x="29.6" y="191" font-family="Liberation Sans" font-size="6.9" text-anchor="end" fill="#333" letter-spacing="-0.3">0.0</text><line x1="25.5" y1="51.5" x2="26.7" y2="51.5" stroke="#1a1a1a" stroke-width="0.6"/><line x1="26.7" y1="83.6" x2="27.9" y2="83.6" stroke="#1a1a1a" stroke-width="0.6"/><line x1="27.9" y1="114.7" x2="29.1" y2="114.7" stroke="#1a1a1a" stroke-width="0.6"/><line x1="29.1" y1="145" x2="30.3" y2="145" stroke="#1a1a1a" stroke-width="0.6"/><line x1="30.3" y1="173.5" x2="31.5" y2="173.5" stroke="#1a1a1a" stroke-width="0.6"/><line x1="303.3" y1="33.8" x2="305.5" y2="33.8" stroke="#1a1a1a" stroke-width="0.7"/><text x="303.1" y="37.2" font-family="Liberation Sans" font-size="6.9" text-anchor="end" fill="#333" letter-spacing="-0.3">1.0</text><line x1="304.7" y1="68.8" x2="306.9" y2="68.8" stroke="#1a1a1a" stroke-width="0.7"/><text x="304.5" y="72.2" font-family="Liberation Sans" font-size="6.9" text-anchor="end" fill="#333" letter-spacing="-0.3">0.8</text><line x1="306" y1="100" x2="308.2" y2="100" stroke="#1a1a1a" stroke-width="0.7"/><text x="305.8" y="103.5" font-family="Liberation Sans" font-size="6.9" text-anchor="end" fill="#333" letter-spacing="-0.3">0.6</text><line x1="307.3" y1="131" x2="309.5" y2="131" stroke="#1a1a1a" stroke-width="0.7"/><text x="307.1" y="134.5" font-family="Liberation Sans" font-size="6.9" text-anchor="end" fill="#333" letter-spacing="-0.3">0.4</text><line x1="308.5" y1="162" x2="310.7" y2="162" stroke="#1a1a1a" stroke-width="0.7"/><text x="308.3" y="165.5" font-family="Liberation Sans" font-size="6.9" text-anchor="end" fill="#333" letter-spacing="-0.3">0.2</text><line x1="309.7" y1="190.6" x2="311.9" y2="190.6" stroke="#1a1a1a" stroke-width="0.7"/><text x="309.5" y="194.1" font-family="Liberation Sans" font-size="6.9" text-anchor="end" fill="#333" letter-spacing="-0.3">0.0</text><line x1="305" y1="51.2" x2="306.2" y2="51.2" stroke="#1a1a1a" stroke-width="0.6"/><line x1="306.4" y1="84.4" x2="307.6" y2="84.4" stroke="#1a1a1a" stroke-width="0.6"/><line x1="307.6" y1="115.5" x2="308.8" y2="115.5" stroke="#1a1a1a" stroke-width="0.6"/><line x1="308.9" y1="146.5" x2="310.1" y2="146.5" stroke="#1a1a1a" stroke-width="0.6"/><line x1="310.1" y1="176.3" x2="311.3" y2="176.3" stroke="#1a1a1a" stroke-width="0.6"/><text transform="translate(8.3,105.6) rotate(90)" font-family="Liberation Sans" font-size="10.3" fill="#111" textLength="25.8" lengthAdjust="spacingAndGlyphs" y="0">RSEI</text><text transform="translate(288.1,106.3) rotate(90)" font-family="Liberation Sans" font-size="10.3" fill="#111" textLength="26.2" lengthAdjust="spacingAndGlyphs" y="0">RSEI</text><text transform="matrix(0.94,0.34,-0.6,0.55,35,194)" font-family="Liberation Sans" font-size="5.8" fill="#333" text-anchor="middle" y="1.9" letter-spacing="0.3">0.2</text><text transform="matrix(0.94,0.34,-0.6,0.55,57,202.5)" font-family="Liberation Sans" font-size="5.8" fill="#333" text-anchor="middle" y="1.9" letter-spacing="0.3">0.4</text><text transform="matrix(0.94,0.34,-0.6,0.55,81,211)" font-family="Liberation Sans" font-size="5.8" fill="#333" text-anchor="middle" y="1.9" letter-spacing="0.3">0.6</text><text transform="matrix(0.94,0.34,-0.6,0.55,105,220)" font-family="Liberation Sans" font-size="5.8" fill="#333" text-anchor="middle" y="1.9" letter-spacing="0.3">0.8</text><text transform="matrix(0.94,0.34,-0.6,0.55,131,229.5)" font-family="Liberation Sans" font-size="5.8" fill="#333" text-anchor="middle" y="1.9" letter-spacing="0.3">1.0</text><text transform="matrix(0.94,0.34,-0.6,0.55,170,229)" font-family="Liberation Sans" font-size="5.8" fill="#333" text-anchor="middle" y="1.9" letter-spacing="0.3">0.0</text><text transform="matrix(0.94,0.34,-0.6,0.55,186,219.5)" font-family="Liberation Sans" font-size="5.8" fill="#333" text-anchor="middle" y="1.9" letter-spacing="0.3">0.2</text><text transform="matrix(0.94,0.34,-0.6,0.55,203,211)" font-family="Liberation Sans" font-size="5.8" fill="#333" text-anchor="middle" y="1.9" letter-spacing="0.3">0.4</text><text transform="matrix(0.94,0.34,-0.6,0.55,219.5,202.5)" font-family="Liberation Sans" font-size="5.8" fill="#333" text-anchor="middle" y="1.9" letter-spacing="0.3">0.6</text><text transform="matrix(0.94,0.34,-0.6,0.55,235,194.5)" font-family="Liberation Sans" font-size="5.8" fill="#333" text-anchor="middle" y="1.9" letter-spacing="0.3">0.8</text><text transform="matrix(0.94,0.34,-0.6,0.55,249.5,187)" font-family="Liberation Sans" font-size="5.8" fill="#333" text-anchor="middle" y="1.9" letter-spacing="0.3">1.0</text><line x1="43" y1="191.5" x2="42.6" y2="193.5" stroke="#1a1a1a" stroke-width="0.7"/><line x1="63.7" y1="199.1" x2="63.3" y2="201" stroke="#1a1a1a" stroke-width="0.7"/><line x1="86.7" y1="207.5" x2="86.3" y2="209.4" stroke="#1a1a1a" stroke-width="0.7"/><line x1="110.7" y1="216.2" x2="110.3" y2="218.2" stroke="#1a1a1a" stroke-width="0.7"/><line x1="136.9" y1="225.8" x2="136.5" y2="227.7" stroke="#1a1a1a" stroke-width="0.7"/><line x1="164" y1="224.8" x2="165" y2="226.5" stroke="#1a1a1a" stroke-width="0.7"/><line x1="180.3" y1="216.1" x2="181.3" y2="217.9" stroke="#1a1a1a" stroke-width="0.7"/><line x1="196.6" y1="207.5" x2="197.6" y2="209.3" stroke="#1a1a1a" stroke-width="0.7"/><line x1="212.8" y1="199" x2="213.8" y2="200.7" stroke="#1a1a1a" stroke-width="0.7"/><line x1="228" y1="190.9" x2="229" y2="192.7" stroke="#1a1a1a" stroke-width="0.7"/><line x1="243" y1="183" x2="244" y2="184.8" stroke="#1a1a1a" stroke-width="0.7"/><text transform="matrix(0.94,0.34,-0.5,0.55,71,214.5)" font-family="Liberation Sans" font-size="8.8" fill="#222" text-anchor="middle" y="3">NDVI</text><text transform="matrix(0.885,-0.466,0.68,0.26,222.5,210)" font-family="Liberation Sans" font-size="8.8" fill="#222" text-anchor="middle" y="3">WET</text><text transform="matrix(0.94,0.34,-0.6,0.55,314.5,196)" font-family="Liberation Sans" font-size="5.8" fill="#333" text-anchor="middle" y="1.9" letter-spacing="0.3">0.0</text><text transform="matrix(0.94,0.34,-0.6,0.55,332,203.5)" font-family="Liberation Sans" font-size="5.8" fill="#333" text-anchor="middle" y="1.9" letter-spacing="0.3">0.2</text><text transform="matrix(0.94,0.34,-0.6,0.55,352.5,210.5)" font-family="Liberation Sans" font-size="5.8" fill="#333" text-anchor="middle" y="1.9" letter-spacing="0.3">0.4</text><text transform="matrix(0.94,0.34,-0.6,0.55,372,218)" font-family="Liberation Sans" font-size="5.8" fill="#333" text-anchor="middle" y="1.9" letter-spacing="0.3">0.6</text><text transform="matrix(0.94,0.34,-0.6,0.55,392,226)" font-family="Liberation Sans" font-size="5.8" fill="#333" text-anchor="middle" y="1.9" letter-spacing="0.3">0.8</text><text transform="matrix(0.94,0.34,-0.6,0.55,414,233.5)" font-family="Liberation Sans" font-size="5.8" fill="#333" text-anchor="middle" y="1.9" letter-spacing="0.3">1.0</text><text transform="matrix(0.94,0.34,-0.6,0.55,451.5,232.5)" font-family="Liberation Sans" font-size="5.8" fill="#333" text-anchor="middle" y="1.9" letter-spacing="0.3">0.0</text><text transform="matrix(0.94,0.34,-0.6,0.55,470,221.5)" font-family="Liberation Sans" font-size="5.8" fill="#333" text-anchor="middle" y="1.9" letter-spacing="0.3">0.2</text><text transform="matrix(0.94,0.34,-0.6,0.55,487.5,212.5)" font-family="Liberation Sans" font-size="5.8" fill="#333" text-anchor="middle" y="1.9" letter-spacing="0.3">0.4</text><text transform="matrix(0.94,0.34,-0.6,0.55,504,204)" font-family="Liberation Sans" font-size="5.8" fill="#333" text-anchor="middle" y="1.9" letter-spacing="0.3">0.6</text><text transform="matrix(0.94,0.34,-0.6,0.55,520,195.5)" font-family="Liberation Sans" font-size="5.8" fill="#333" text-anchor="middle" y="1.9" letter-spacing="0.3">0.8</text><text transform="matrix(0.94,0.34,-0.6,0.55,537,187)" font-family="Liberation Sans" font-size="5.8" fill="#333" text-anchor="middle" y="1.9" letter-spacing="0.3">1.0</text><line x1="315.5" y1="191.9" x2="315.1" y2="193.9" stroke="#1a1a1a" stroke-width="0.7"/><line x1="334.8" y1="199" x2="334.4" y2="200.9" stroke="#1a1a1a" stroke-width="0.7"/><line x1="355.8" y1="206.7" x2="355.4" y2="208.7" stroke="#1a1a1a" stroke-width="0.7"/><line x1="376.6" y1="214.3" x2="376.2" y2="216.2" stroke="#1a1a1a" stroke-width="0.7"/><line x1="398.3" y1="222.3" x2="397.9" y2="224.2" stroke="#1a1a1a" stroke-width="0.7"/><line x1="419.1" y1="229.8" x2="418.7" y2="231.8" stroke="#1a1a1a" stroke-width="0.7"/><line x1="446" y1="227.4" x2="447" y2="229.2" stroke="#1a1a1a" stroke-width="0.7"/><line x1="464.2" y1="217.8" x2="465.2" y2="219.5" stroke="#1a1a1a" stroke-width="0.7"/><line x1="481.2" y1="208.7" x2="482.2" y2="210.5" stroke="#1a1a1a" stroke-width="0.7"/><line x1="498.4" y1="199.6" x2="499.4" y2="201.4" stroke="#1a1a1a" stroke-width="0.7"/><line x1="514.3" y1="191.2" x2="515.3" y2="192.9" stroke="#1a1a1a" stroke-width="0.7"/><text transform="matrix(0.94,0.34,-0.5,0.55,351.5,218)" font-family="Liberation Sans" font-size="8.8" fill="#222" text-anchor="middle" y="3">NDBSI</text><text transform="matrix(0.885,-0.466,0.68,0.26,503,213.5)" font-family="Liberation Sans" font-size="8.8" fill="#222" text-anchor="middle" y="3">LST</text><rect x="203.2" y="9.9" width="48.5" height="13.1" fill="#fff" stroke="#a0a0a0" stroke-width="0.8"/><circle cx="215.4" cy="16.5" r="2.8" fill="url(#ld)"/><text x="228.5" y="19.8" font-family="Liberation Sans" font-size="9.3" fill="#111" textLength="21.3" lengthAdjust="spacingAndGlyphs">RSEI</text><rect x="476" y="8.2" width="48.5" height="13.2" fill="#fff" stroke="#a0a0a0" stroke-width="0.8"/><circle cx="488" cy="14.9" r="2.8" fill="url(#ld)"/><text x="501.6" y="18.1" font-family="Liberation Sans" font-size="9.3" fill="#111" textLength="21.3" lengthAdjust="spacingAndGlyphs">RSEI</text><text x="7.4" y="254.7" font-family="Liberation Serif" font-size="11.4" font-weight="bold" font-style="normal" fill="#111" textLength="12.5" lengthAdjust="spacingAndGlyphs">(a)</text><text x="22.3" y="254.7" font-family="Liberation Serif" font-size="11.4" font-weight="bold" font-style="italic" fill="#111" textLength="24.7" lengthAdjust="spacingAndGlyphs">RSEI</text><text x="50.3" y="254.7" font-family="Liberation Serif" font-size="11.4" font-weight="normal" font-style="normal" fill="#111" textLength="12.9" lengthAdjust="spacingAndGlyphs">vs.</text><text x="66.4" y="254.7" font-family="Liberation Serif" font-size="11.4" font-weight="normal" font-style="normal" fill="#111" textLength="36.4" lengthAdjust="spacingAndGlyphs">positive</text><text x="106.4" y="254.7" font-family="Liberation Serif" font-size="11.4" font-weight="normal" font-style="normal" fill="#111" textLength="46" lengthAdjust="spacingAndGlyphs">ecological</text><text x="156.4" y="254.7" font-family="Liberation Serif" font-size="11.4" font-weight="normal" font-style="normal" fill="#111" textLength="32" lengthAdjust="spacingAndGlyphs">factors</text><text x="191.6" y="254.7" font-family="Liberation Serif" font-size="11.4" font-weight="normal" font-style="normal" fill="#111">(</text><text x="195.5" y="254.7" font-family="Liberation Serif" font-size="11.4" font-weight="bold" font-style="italic" fill="#111" textLength="28.5" lengthAdjust="spacingAndGlyphs">NDVI,</text><text x="227.2" y="254.7" font-family="Liberation Serif" font-size="11.4" font-weight="bold" font-style="italic" fill="#111" textLength="24.2" lengthAdjust="spacingAndGlyphs">WET</text><text x="252" y="254.7" font-family="Liberation Serif" font-size="11.4" font-weight="normal" font-style="normal" fill="#111">)</text><text x="286.8" y="254.7" font-family="Liberation Serif" font-size="11.4" font-weight="bold" font-style="normal" fill="#111" textLength="13.8" lengthAdjust="spacingAndGlyphs">(b)</text><text x="302.9" y="254.7" font-family="Liberation Serif" font-size="11.4" font-weight="bold" font-style="italic" fill="#111" textLength="24.7" lengthAdjust="spacingAndGlyphs">RSEI</text><text x="331.4" y="254.7" font-family="Liberation Serif" font-size="11.4" font-weight="normal" font-style="normal" fill="#111" textLength="12.9" lengthAdjust="spacingAndGlyphs">vs.</text><text x="347.3" y="254.7" font-family="Liberation Serif" font-size="11.4" font-weight="normal" font-style="normal" fill="#111" textLength="40.3" lengthAdjust="spacingAndGlyphs">negative</text><text x="390.5" y="254.7" font-family="Liberation Serif" font-size="11.4" font-weight="normal" font-style="normal" fill="#111" textLength="46.6" lengthAdjust="spacingAndGlyphs">ecological</text><text x="440.2" y="254.7" font-family="Liberation Serif" font-size="11.4" font-weight="normal" font-style="normal" fill="#111" textLength="31.8" lengthAdjust="spacingAndGlyphs">factors</text><text x="474.8" y="254.7" font-family="Liberation Serif" font-size="11.4" font-weight="normal" font-style="normal" fill="#111">(</text><text x="478.6" y="254.7" font-family="Liberation Serif" font-size="11.4" font-weight="bold" font-style="italic" fill="#111" textLength="36.7" lengthAdjust="spacingAndGlyphs">NDBSI,</text><text x="518.1" y="254.7" font-family="Liberation Serif" font-size="11.4" font-weight="bold" font-style="italic" fill="#111" textLength="19.8" lengthAdjust="spacingAndGlyphs">LST</text><text x="537.8" y="254.7" font-family="Liberation Serif" font-size="11.4" font-weight="normal" font-style="normal" fill="#111">)</text></svg>
</body></html>
